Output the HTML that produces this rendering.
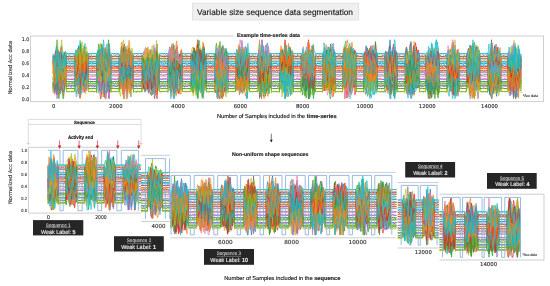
<!DOCTYPE html>
<html><head><meta charset="utf-8"><title>Variable size sequence data segmentation</title>
<style>
html,body{margin:0;padding:0;background:#fff;}
body{width:550px;height:286px;overflow:hidden;position:relative;}
svg{display:block;position:absolute;left:0;top:0;text-rendering:geometricPrecision;}
.d path{vector-effect:non-scaling-stroke;}
.tk{font-family:"DejaVu Sans","Liberation Sans",sans-serif;fill:#2a2a2a;stroke:#2a2a2a;stroke-width:0.12px;}
.an{font-family:"Liberation Sans",Arial,sans-serif;fill:#222;stroke:#222;stroke-width:0.15px;}
</style></head><body>
<svg width="550" height="286" viewBox="0 0 550 286" xmlns="http://www.w3.org/2000/svg">
<!-- title -->
<rect x="192.5" y="3.3" width="166" height="16.6" fill="#efefef" stroke="#e2e2e2" stroke-width="1"/>
<text class="an" x="197" y="14.8" font-size="8.3" textLength="156" lengthAdjust="spacingAndGlyphs" fill="#333">Variable size sequence data segmentation</text>

<!-- ===== TOP CHART ===== -->
<rect x="30.5" y="36" width="513" height="65.6" fill="#fff" stroke="#cfcfcf" stroke-width="1"/>
<g class="d"><g transform="translate(53.00 98.70) scale(0.5000 -0.59500)" fill="none" stroke-width="0.70" stroke-opacity="1.00"><path d="M0 67l1 6 1-3 1-1 1-1 1 2 1 4 1 8 1-2 1-6 1-9 1-2 1-1 1 5 1 8 1 2 1-2 1-2 1-4 1-4 1-1 1 3 1 6 1 2 1-3 1-3 1-2 1 2M132 71l1-1 1 3 1-2 1-8 1-4 1 2 1 13 1 4 1 9 1-10 1-9 1-7 1-2 1 4 1 10 1 10 1-1 1-5 1-14 1 1 1-2 1 7 1 8 1 3 1-1 1-9 1-2 1 1 1 3M276 70l1-22 1-16 1-3 1 6 1 6 1-2 1-9 1-8 1-6 1-5 1 2 1 8 1 13 1 8 1 4 1-4 1-9 1-11 1-7 1 1 1-1 1 8 1 10 1 11 1 10 1-7 1-14 1-10 1 3 1 21 1 25M323 54l1-19 1-16 1 8 1 9 1-1 1-4 1-14 1-4 1 8 1 13 1 4 1 0 1-13 1-8 1 2 1 9 1 8 1 1 1-8 1-14 1-4 1 10 1 8 1 9 1-3 1 2 1 18M539 52l1 0 1-3 1-3 1-17 1 2 1-2 1 2 1 5 1 9 1 6 1 2 1-3 1-7 1-9 1-11 1-8 1 15 1 5 1 11 1 6 1 2 1 2 1-13 1-5 1 5 1 14M869 68l1-13 1-12 1-10 1-8 1 12 1 7 1 1 1-4 1-3 1-9 1 1 1 4 1 9 1-1 1-1 1-14 1-2 1 2 1 9 1 10 1-4 1-9 1-2 1 0 1 3 1 20 1 15" stroke="#d62728"/><path d="M43 12l1 19 1 14 1 8 1 7 1 4 1 2 1-3 1-2 1-7 1-7 1-6 1-3 1 14 1 7 1 3 1 2 1 0 1-6 1-7 1-5 1 2 1 0 1 6 1 6 1 4 1-8 1-14 1-28M87 28l1 12 1 15 1 4 1-9 1-8 1-2 1 7 1 5 1 4 1-5 1-14 1-9 1 2 1 31 1 8 1-11 1-18 1-12 1 4 1 13 1 5 1 3 1-7 1-17 1 6 1 7 1 6 1-6 1-16M323 27l1 24 1 26 1 13 1 3 1-9 1-21 1 2 1 4 1 5 1 17 1 5 1-7 1-30 1-11 1 7 1 16 1 9 1 7 1-4 1-14 1-7 1-1 1 10 1 6 1 2 1-24 1-27M409 26l1 19 1 9 1-2 1-18 1 23 1 7 1 0 1-4 1-8 1 2 1 1 1 25 1 0 1-16 1-14 1-1 1 6 1 12 1 5 1-8 1-7 1-2 1 2 1 8 1 1 1-5 1-18 1-15M453 20l1-4 1 7 1 6 1 2 1-6 1-7 1-8 1 5 1 10 1 12 1 19 1-29 1-9 1-6 1 1 1 17 1 8 1-1 1-5 1-13 1-4 1-8 1 24 1 3 1 0 1-5 1-6 1-5M496 17l1 16 1 9 1-8 1 0 1 2 1 6 1 16 1 5 1-4 1-19 1-11 1-4 1 5 1 15 1 22 1-5 1-12 1-12 1-8 1-4 1 8 1 14 1 8 1 0 1-4 1-13 1-7 1-5 1-10M621 26l1 6 1 16 1 10 1-3 1 1 1-20 1-6 1 0 1 10 1 14 1 9 1-1 1-11 1-10 1-13 1 0 1 9 1 26 1 12 1-5 2-14 1-13 1-11 1 3 1 11 1-4 1-16M663 28l1 18 1 15 1 7 1 2 1-1 1 3 1-6 1-9 1-4 1-1 1-4 1 24 1 6 1 1 1-4 1-6 1-9 1-2 1-1 1 3 1 11 1 4 1 4 1-7 1-20 1-28" stroke="#2ca02c"/><path d="M0 71l1-32 1-23 1-8 1 3 1 7 1 7 1 16 1 0 1-20 1-6 1-7 1-1 1 5 1 7 1 8 1 4 1-8 1-1 1-11 1-7 1 2 1 7 1 7 1 6 1 5 1 15 1 25M230 65l1-20 1-10 1-1 1-1 1-12 1-6 1 6 1 7 1 15 1 0 1-9 1-15 1-4 1 3 1 4 1 14 1 2 1-6 1-10 1-11 2 4 1 12 1 3 1 2 1-4 1-3 1 15 1 21M276 62l1 2 1 0 1-7 1-7 1-3 1 6 1 9 1 4 1 1 1-10 1-7 1-6 1 3 1 16 1 2 1-3 1-5 1-10 1-2 1 6 1 8 1 0 1 2 1-5 1-5 1-2 1 4 1 5 1 0 1 0 1 4M409 44l1 14 1 10 1 11 1 20 1-24 1-9 1-5 1 5 1 15 1 2 1-9 1-21 1 6 1 7 1 11 1 4 1-7 1-11 1 1 1 3 1 10 1 6 1-6 1-13 1 0 1 1 1-5 1-14M496 51l1-8 1-14 1-9 1 5 1 6 1 11 1 2 1-3 1-16 1-8 1 1 1 13 1 7 1 7 1 12 1-26 1-17 1 7 1 6 1 11 1 5 1-3 1-6 1-22 1 3 1 16 1 8 1 6 1 5M621 48l1-16 1-9 1-3 1 4 1 5 1 3 1 3 1-3 1-7 1-4 1-7 1-1 1 7 1 5 1 6 1 5 1 0 1 0 1-15 1-3 2 0 1-1 1 6 1 6 1 4 1 11 1 5M663 64l1 6 1 6 1-1 1-4 1-5 1-6 1-2 1 8 1 5 1 5 1 14 1-10 1-10 1-2 1-8 1-1 1 0 1 4 1 7 1 4 1 5 1-5 1-5 1-1 1-4 1-2M704 63l1-15 1-10 1-3 1-7 1-15 1-7 1 3 1 12 1 17 1 10 1-5 1-18 1-11 1-8 1 3 1 15 1 16 1 9 1-6 1-19 1-5 1-3 1 2 1 8 1 12 1-1 1 2 1 7 1 17M745 63l1 10 1 5 1-3 1-5 1 1 1 4 1 4 1 5 1 1 1-2 1-6 1-6 1-9 1 4 1 5 1 6 1 7 1 0 1-6 1-5 2-9 1 0 1-2 1 8 1 5 1-6 1-7M788 72l1-20 1-15 1 11 1 4 1 0 1-7 1-8 1-8 1-4 1 0 1 3 1 12 1 2 1 8 1-3 1-1 1-14 1-9 1-1 1 5 1 6 1 9 1 2 1 11 1 16M827 51l1 9 1 10 1 2 1-7 1-9 1-7 1 8 1 29 1 4 1-8 1-17 1-8 1-8 1 7 1 20 1 4 1-5 1-11 1-10 1-5 1 7 1 10 1 2 1-1 1-9 1-5 1-3M909 51l1 5 1-1 1-4 1 9 1 12 1 1 1-11 1-9 1-5 1 7 1 22 1 15 1-23 1-7 1-9 1 2 1 10 1 5 1-2 2-7 1-20 1 16 1 8 1 1 1-5 1-8" stroke="#ff7f0e"/><path d="M43 21l1 19 1 9 1 2 1 4 1 10 1 5 1 9 1 10 1-23 1-12 1-19 1-15 1 18 1 17 1 8 1 3 1 4 1-3 1-2 1-8 1-6 1 2 1-2 1 4 1 9 1 2 1-18 1-25M178 57l1-7 1-7 1-13 1-5 1-7 1-2 1 6 1 8 2 7 1 3 1 4 1-6 1-9 1-3 1-4 1 2 1 3 1 7 1 7 1 3 1-2 1-7 1-9 1-7 1 2 1 4 1 4 1 18 1 15 1-11 1-8 1-3 1 6 1 14M230 22l1 21 1 13 1-1 1-7 1-12 1 3 1 6 1 11 1 7 1-1 1 1 1-8 1-12 1-7 1 4 1 6 1 11 1 3 1 3 1-2 2-5 1-10 1-7 1 0 1 8 1 3 1-6 1-25M365 59l1-17 1-15 1 1 1-3 1 8 1 6 1 1 1-2 1 0 1-11 1 0 1 0 1 2 1 7 1 3 1 3 1 1 1-5 1-5 1-5 2-3 1-1 1 11 1 5 1 3 1 7 1 11M453 23l1 26 1 10 1-4 1 4 1 13 1 10 1 0 1-14 1-8 1-1 1-2 1 27 1 6 1-11 1-14 1-9 1 2 1 10 1 20 1-4 1-10 1-28 1 1 1 13 1 7 1 0 1-20 1-26M579 19l1 21 1 19 1 5 1-6 1-11 1-8 1-3 1 1 1 8 1 4 1 11 1 7 1 0 1-9 1-22 1-15 1 4 1 5 1 10 1 14 1 6 1 4 1-7 1-7 1-8 1-6 1-7 1-6M704 58l1-22 1-19 1 2 1 18 1 8 1-7 1-11 1-17 1-1 1 17 1 11 1 17 1-16 1-18 1-12 1 5 1 17 1 16 1-2 1-12 1-11 1-3 1 3 1 10 1 4 1-3 1 0 1 9 1 18M745 60l1-5 1-8 1-2 1 5 1 9 1 6 1-2 1-4 1-11 1-5 1-2 1 6 1 9 1 12 1 5 1-8 1-8 1-10 1-5 1 1 2 8 1 9 1 0 1 7 1-7 1-5 1 3M827 23l1-1 1-1 1-2 1 3 1 2 1 7 1 7 1 1 1-16 1-6 1-6 1 5 1 4 1 10 1 6 1 18 1-29 1-5 1-4 1-2 1 3 1 7 1 5 1 0 1-4 1-4 1-1M869 57l1-26 1-7 1 6 1-5 1-14 1-7 1 2 1 14 1 16 1-13 1-7 1-6 1 2 1 10 1 11 1-3 1-12 1-14 1 5 1 11 1 8 1-2 1-8 1-7 1 4 1 22 1 22M909 22l1 15 1 13 1 4 1 4 1-3 1-10 1-6 1 1 1 4 1 10 1 11 1 8 1-16 1-15 1-7 1-11 1 17 1 15 1 13 2 6 1-6 1-24 1-5 1-1 1-4 1-15" stroke="#1f77b4"/><path d="M43 29l1 11 1 13 1 5 1 4 1-3 1-5 1-13 1-4 1 15 1 4 1 9 1 0 1-10 1-4 1-6 1 4 1 5 1 7 1 3 1-6 1-2 1-4 1 0 1 2 1 4 1 2 1-14 1-18M87 28l1 28 1 14 1 3 1-6 1-10 1 5 1 8 1 12 1 10 1 0 1-8 1-16 1-27 1-4 1 24 1 19 1 4 1 2 1-5 1-7 1-8 1-8 1 6 1 5 1 24 1-3 1-9 1-23 1-25M132 32l1 12 1-5 1-3 1-1 1 8 1 5 1 3 1-4 1-8 1-9 1 9 1 13 1 9 1-6 1-14 1-10 1 2 1 10 1 11 1 3 1-8 1-8 1 0 1 1 1 9 1 6 1-5 1-13 1-6M178 27l1 28 1 7 1 12 1 1 1 5 1 3 1 3 1-2 2-6 1-3 1-3 1 0 1 2 1 3 1 2 1 3 1 1 1-6 1-5 1-5 1 0 1 2 1 8 1 8 1 1 1-5 1-3 1-9 1-8 1 4 1 4 1-5 1-14 1-25M409 29l1 12 1 0 1-8 1-33 1 27 1 13 1 16 1 13 1-6 1-18 1-13 1-10 1 13 1 11 1 13 1 3 1-8 1-12 1-14 1 0 1 7 1 8 1 5 1 3 1-4 1-6 1-8 1-4M453 21l1 17 1 6 1 3 1 3 1 8 1 8 1 11 1-3 1-11 1-15 1-14 1-1 1 9 1 15 1 4 1 6 1-1 1-3 1-7 1-8 1-5 1-13 1 23 1 13 1 6 1-5 1-22 1-24M496 32l1 2 1-8 1-4 1-1 1 0 1 8 1 7 1 4 1-4 1-2 1-11 1-6 1 2 1 0 1 14 1 7 1 16 1-21 1-8 1-6 1-2 1-1 1 5 1 2 1 4 1 1 1-3 1 2 1 3M539 28l1 13 1 8 1-11 1-5 1 12 1 7 1 1 1 4 1-3 1-5 1-1 1-5 1 4 1 7 1 9 1 7 1-16 1-8 1-6 1 0 1 7 1 6 1 3 1-3 1-14 1-8M704 21l1 0 1-3 1-5 1 7 1 9 1 11 1-1 1-10 1-13 1-10 1 4 1 7 1 17 1 2 1-2 1-7 1-10 1-10 1 6 1 11 1 12 1 8 1-10 1-9 1-7 1 0 1 3 1 4 1-5M788 30l1 5 1 4 1-3 1-6 1-3 1-4 1 2 1 8 1 5 1 1 1 3 1-7 1-8 1-4 1 4 1 3 1 6 1 9 1-5 1-5 1-6 1-2 1 1 1 5 1-4M827 33l1 16 1 1 1-4 1 0 1 7 1 9 1 11 1 14 1-22 1-21 1-4 1-2 1 13 1 14 1 17 1-7 1-14 1-9 1-5 1 3 1 8 1 13 1 7 1-6 1-13 1-14 1-13" stroke="#9467bd"/><path d="M87 77l1-23 1-13 1 4 1-1 1-3 1-3 1-8 1-8 1 4 1 6 1 13 1 8 1 1 1-1 1-13 1-12 1-1 1 3 1 9 1 9 1 2 1-1 1-4 1-7 1-11 1 10 1 6 1 16 1 16M132 62l1-3 1 4 1 5 1 0 1-2 1-9 1-3 1-6 1-5 1 3 1 14 1 0 1 5 1-1 1-1 1-5 1-3 1-5 1-3 1 5 1 7 1 2 1 2 1 2 1-4 1-3 1-5 1 1 1 8M178 75l1 2 1-2 1-3 1-9 1-6 1 4 1 9 1 5 2 1 1-7 1-6 1-6 1 6 1 7 1 5 1 6 1-10 1-15 1-9 1 8 1 12 1 13 1 3 1-11 1-11 1-4 1-2 1 11 1 26 1-15 1-8 1-5 1 3 1 7M230 76l1-21 1-11 1-4 1 1 1-5 1-5 1-3 1 1 1 6 1 2 1 1 1 15 1-12 1-5 1-6 1-11 1 2 1 5 1 6 1 6 2 4 1 1 1-4 1-9 1-7 1 4 1 24 1 26M323 77l1-10 1-7 1-4 1-15 1-11 1-4 1 19 1 10 1 6 1 6 1-6 1-6 1-23 1 4 1 6 1 11 1 7 1 9 1 0 1-5 1-11 1-5 1-2 1 2 1 5 1 10 1 15M539 63l1 6 1 10 1-4 1-7 1-5 1-3 1 2 1 8 1 8 1 7 1 2 1-7 1-10 1-14 1-11 1-5 1 18 1 14 1 9 1 6 1-4 1-14 1-5 1-4 1-1 1 0M788 68l1-26 1-25 1-9 1-4 1 2 1 12 1 15 1-1 1-9 1-13 1-10 1 3 1 15 1 10 1 4 1-6 1-14 1-4 1 0 1 10 1 4 1 3 1 1 1 15 1 29M869 62l1-20 1-10 1 7 1 1 1-9 1-5 1-7 1 0 1 14 1 7 1-6 1-7 1-8 1 3 1 6 1 7 1-2 1-3 1-3 1-2 1 0 1 8 1 5 1-1 1-8 1 13 1 24" stroke="#17becf"/><path d="M87 38l1 13 1 12 1 8 1 11 1-2 1-12 1-12 1-1 1 10 1 14 1 5 1-8 1-13 1-11 1 8 1 10 1 10 1-4 1-12 1-7 1 1 1 4 1 14 1 6 1-9 1-12 1-4 1-6 1-11M178 38l1 9 1 7 1 7 1 0 1-7 1-13 1-3 1 3 2 13 1 5 1 7 1 0 1-5 1-16 1-7 1 0 1 10 1 16 1 12 1-2 1-9 1-17 1-10 1-6 1 17 1 8 1 7 1 3 1 1 1-14 1-6 1-4 1-2 1 0M276 42l1 7 1 14 1 8 1 3 1-4 1-15 1-6 1 1 1 11 1 15 1 5 1-1 1-11 1-19 1 0 1 3 1 16 1 6 1 2 1-3 1-14 1-12 1 2 1 11 1 26 1-3 1-9 1-6 1-15 1-6 1-8M323 41l1 16 1 7 1-1 1-1 1-8 1 1 1 9 1 4 1 1 1 1 1-4 1-10 1-17 1 15 1 11 1 6 1 4 1-4 1-6 1-3 1-2 1 0 1 3 1 5 1-1 1-9 1-17M365 45l1 8 1 16 1 5 1-12 1-5 1-7 1 10 1 14 1 9 1-14 1-19 1 2 1 8 1 13 1 5 1-9 1-21 1-5 1 7 1 13 2 10 1-4 1-12 1-7 1 4 1 0 1-11M453 44l1-2 1 6 1 2 1-6 1-5 1-5 1-3 1 4 1 11 1 9 1 5 1-14 1-10 1-12 1-3 1 9 1 13 1 2 1 4 1-7 1-7 1-25 1 9 1 12 1 7 1 5 1-1 1 1M579 41l1 1 1 6 1 0 1-6 1-24 1 15 1 10 1 4 1 1 1-8 1-2 1-4 1 3 1 9 1 13 1-15 1-10 1-4 1 5 1 6 1 3 1-2 1-4 1-3 1-2 1 8 1 0 1-1M621 40l1-6 1-11 1-9 1-7 1 3 1 4 1 9 1 7 1 0 1-6 1-11 1-9 1 1 1 11 1 15 1 9 1-2 1-6 1-18 1-7 2 1 1 6 1 14 1 13 1-6 1-4 1 8M788 42l1 5 1-8 1-7 1 6 1 12 1 16 1-3 1-15 1-7 1-5 1 5 1 20 1 7 1-4 1-16 1-25 1 7 1 13 1 6 1 6 1-1 1-9 1-5 1-1 1 1" stroke="#7f7f7f"/><path d="M132 15l1 26 1 17 1-4 1 0 1 3 1 12 1 13 1 12 1 5 1-13 1-19 1-8 1 0 1-2 1 12 1 10 1 8 1 3 1-7 1-7 1-17 1-8 1 4 1 8 1 13 1 9 1-7 1-29 1-36M230 24l1 10 1 6 1 1 1-3 1-6 1-8 1 6 1 7 1 8 1 2 1 7 1 12 1-23 1-14 1-9 1-1 1 8 1 14 1 10 1 6 2-7 1-7 1-6 1-5 1 2 1 0 1-2 1-8M365 13l1 27 1 29 1 12 1-5 1-8 1-9 1-6 1 1 1 14 1 14 1 1 1-5 1-13 1-18 1 0 1 13 1 17 1 9 1-3 1-9 2-8 1-5 1 6 1 3 1 8 1-25 1-40M496 13l1 21 1 20 1 13 1 6 1-2 1-5 1-14 1-8 1-6 1 4 1 9 1 13 1 14 1 17 1-9 1-15 1-13 1 0 1-5 1 0 1 8 1 7 1 9 1 14 1-8 1-12 1-15 1-24 1-21M621 10l1 6 1 2 1 2 1 11 1 7 1 10 1-5 1-1 1-14 1-13 1-1 1 3 1 14 1 11 1 9 1-5 1-9 1-20 1-2 1 3 2 5 1 10 1 12 1-1 1-10 1-12 1-9M745 19l1 3 1 2 1 9 1 2 1-3 1-13 1-6 1-2 1 19 1 12 1 3 1-7 1-13 1-8 1 0 1 12 1 13 1 5 1-10 1-11 2-11 1-9 1 14 1 24 1 0 1-11 1-17" stroke="#bcbd22"/><path d="M0 47l1-3 1 5 1 12 1 11 1 2 1-7 1-16 1-11 1 0 1 13 1 16 1 9 1-1 1-11 1-16 1-4 1-3 1 11 1 12 1 7 1-1 1-8 1-7 1-3 1-3 1 0 1-5M579 45l1 1 1-5 1-4 1 6 1 14 1-1 1 2 1-7 1-10 1-2 1 3 1 1 1 5 1 8 1 13 1-8 1-14 1-7 1-4 1 0 1 5 1 13 1 5 1-1 1-6 1-8 1-3 1 6M663 47l1-1 1 3 1 2 1-6 1-2 1-3 1-3 1-1 1 2 1 9 1 18 1 1 1-17 1-6 1-9 1-4 1-4 1 4 1 9 1 10 1 1 1-7 1-1 1-2 1-1 1 8M745 47l1 1 1 2 1 4 1 4 1 3 1-2 1-11 1-5 1 0 1 2 1 5 1 2 1 6 1-2 1-7 1-11 1-5 1 6 1 5 1 11 2 19 1-11 1-9 1-18 1 0 1 7 1 3M869 48l1 10 1 0 1-7 1-10 1 13 1 9 1 8 1 8 1-2 1-7 1-14 1-4 1 1 1 3 1 9 1 9 1 9 1-7 1-8 1-9 1-4 1-2 1 3 1 5 1 4 1-8 1-9M909 47l1 2 1 0 1 3 1 9 1 9 1 4 1-4 1-7 1-10 1-9 1-2 1 8 1 10 1 9 1 2 1 5 1-11 1-17 1-3 2-7 1 11 1 13 1 12 1 1 1-16 1-12" stroke="#8c564b"/><path d="M0 32l1-1 1-4 1-15 1-5 1 11 1 20 1 15 1-8 1-35 1-3 1 8 1 20 1 17 1-9 1-23 1-6 1 2 1 15 1 16 1-4 1-14 1-18 1 4 1 16 1 8 1-4 1-1M43 40l1 4 1-1 1-9 1-9 1 3 1 13 1 14 1 4 1-5 1-15 1-30 1-3 1 22 1 14 1 8 1 0 1-6 1-12 1-8 1 0 1 7 1 10 1 5 1-3 1-6 1-5 1 4 1 0M276 44l1-1 1 0 1-1 1 1 1 5 1 5 1-1 1 0 1-5 1-8 1-4 1 1 1 7 1 20 1-7 1 2 1-6 1-7 1-1 1-5 1 4 1 8 1 5 1 4 1 6 1-16 1-6 1-2 1 4 1-4 1 3M365 37l1-7 1-3 1 6 1 11 1 6 1-6 1-12 1-14 1-6 1 8 1 19 1 15 1 3 1-11 1-20 1-9 1 2 1 13 1 15 1 9 2-2 1-12 1-15 1-3 1 2 1 12 1-4M409 32l1 2 1-2 1-5 1-19 1 12 1 12 1 7 1 9 1-10 1-5 1-8 1-9 1 9 1 11 1 4 1 0 1-5 1-7 1-2 1 0 1 12 1 0 1 2 1-1 1-8 1-2 1 3 1 1M539 46l1-19 1-14 1 12 1 19 1-4 1-6 1-2 1-9 1-12 1-5 1 4 1 6 1 12 1 7 1 11 1 1 1-13 1-11 1-14 1-6 1 1 1 12 1 14 1 2 1 7 1 6M579 33l1-9 1 1 1 3 1 9 1-6 1-4 1-11 1-4 1-4 1 7 1 7 1 9 1 1 1 2 1-6 1-8 1-10 1-2 1 7 1 7 1 13 1 2 1 1 1-10 1-7 1-4 1 6 1 10M663 34l1-10 1 0 1 6 1-6 1-7 1-8 1 2 1 10 1 13 1-1 1-15 1-18 1 0 1 20 1 11 1 2 1-11 1-12 1-5 1 2 1 24 1 4 1-8 1-9 1 3 1 11M704 35l1 10 1 15 1 13 1-2 1-13 1-8 1 0 1 5 1 9 1 10 1-3 1-9 1-7 1 3 1 2 1 4 1 5 1 9 1-14 1-11 1 1 1 4 1 8 1 6 1 1 1-9 1-4 1-13 1-14M827 47l1 7 1 1 1 9 1 12 1 2 1-4 1-14 1-21 1 8 1 16 1 12 1 9 1-4 1-23 1-33 1 9 1 28 1 15 1 3 1-9 1-10 1-9 1 3 1 8 1 4 1-8 1-13M909 30l1 10 1 10 1-2 1-8 1-12 1-13 1 3 1 6 1 19 1 8 1 10 1 2 1-21 1-18 1-9 1-15 1 22 1 15 1 15 2 6 1 6 1-22 1-10 1-3 1 3 1-1" stroke="#e377c2"/><path d="M230 43l1-3 1-4 1-4 1-8 1-4 1 1 1 11 1 13 1 7 1-11 1-16 1-17 1 6 1 12 1 16 1 17 1-11 1-10 1-13 1-5 2 8 1 8 1 6 1-1 1-1 1-6 1 2 1 8M704 39l1 8 1 7 1 4 1 7 1-6 1-5 1-5 1-5 1-2 1 1 1 5 1 9 1 2 1 3 1-2 1-6 1-11 1-11 1 0 1 2 1 14 1 6 1 7 1 1 1-4 1-8 1-4 1-7 1 0M745 42l1-7 1-14 1 1 1 17 1 6 1 1 1-8 1-19 1-9 1 5 1 14 1 18 1 3 1-8 1-16 1-17 1-2 1 19 1 13 1 6 2-3 1-18 1-11 1 0 1 10 1 13 1 8M827 43l1-15 1-7 1 3 1 7 1-2 1-11 1-18 1 0 1 2 1 23 1 16 1 3 1-6 1-26 1-8 1-4 1 13 1 12 1 7 1-2 1-8 1-16 1-6 1 6 1 16 1 12 1 9" stroke="#7f7f7f"/><path d="M132 38l1 2 1 5 1 8 1 7 1-2 1-2 1-7 1-4 1-1 1 5 1 6 1 5 1 0 1-3 1-12 1-8 1 3 1 12 1 8 1 3 1-3 1-7 1-12 1 1 1 6 1 6 1 3 1-10 1-11M178 42l1-2 1-4 1 15 1 9 1-8 1-15 1-14 1 4 2 14 1 19 1 1 1-15 1-23 1-4 1 11 1 26 1 13 1-14 1-25 1-16 1 5 1 24 1 31 1-14 1-17 1-12 1-4 1 12 1 26 1-8 1-7 1-13 1 3 1 7M323 38l1 13 1 17 1 11 1-6 1-14 1-23 1 4 1 4 1 18 1 13 1 6 1-8 1-13 1-12 1 1 1 11 1 7 1 19 1-2 1-10 1-23 1-10 1 3 1 10 1 10 1-10 1-14M453 35l1-6 1 1 1 14 1 11 1-3 1-21 1-16 1 4 1 14 1 27 1 31 1-40 1-25 1-9 1 5 1 21 1 14 1 1 1-19 1-8 1-3 1 6 1 16 1 4 1-5 1-12 1-5 1 2M496 34l1 16 1 19 1 13 1 5 1 0 1-11 1-10 1-10 1-1 1 3 1 13 1 14 1 6 1 4 1-12 1-15 1-11 1-4 1 6 1 9 1 10 1 5 1-1 1-4 1-8 1-5 1-7 1-5 1-19M788 45l1 0 1-5 1-4 1 5 1 4 1 9 1 4 1 1 1-1 1-7 1-9 1-21 1 16 1 3 1 10 1 19 1 0 1-5 1-4 1-9 1-3 1-6 1 0 1 4 1-2" stroke="#e377c2"/><path d="M43 12l1 4 1 1 1-3 1-6 1 6 1 7 1 10 1 3 1 0 1-7 1-14 1-8 1 5 1 0 1 9 1 8 1 3 1 2 1-6 1-9 1-8 1-1 1 4 1 7 1 10 1-3 1-7 1-6M276 19l1 5 1 8 1 13 1-1 1-6 1-8 1-7 1-5 1 1 1 13 1 6 1 8 1 18 1-19 1-14 1-9 1-7 1 1 1 7 1 7 1 5 1 1 1 0 1-4 1-13 1-1 1 0 1 3 1 4 1 0 1-8M323 13l1 24 1 21 1 8 1 2 1-4 1-14 1-1 1 1 1 5 1 9 1 1 1 2 1-9 1-11 1-5 1 4 1 15 1 5 1 3 1-4 1-13 1-4 1-1 1 2 1 5 1-12 1-33M409 11l1 27 1 22 1 13 1 22 1-16 1-10 1-9 1-13 1 15 1 12 1 6 1 3 1-20 1-11 1-2 1 15 1 9 1 0 1-5 1-10 1-7 1 7 1 8 1 10 1 0 1-15 1-27 1-26M539 22l1-5 1 3 1 3 1 13 1-8 1 0 1-2 1-8 1-3 1 1 1 0 1 9 1 0 1 7 1 5 1-9 1-8 1-5 1-1 1 3 1 4 1 15 1-3 1-3 1-3 1-6M663 14l1 19 1 19 1-11 1-11 1-7 1 8 1 19 1 12 1-12 1-21 1-16 1 5 1 23 1 14 1-1 1-12 1-17 1-1 1 11 1 23 1-6 1-7 1-12 1 2 1-12 1-11M704 12l1 28 1 29 1 16 1-6 1-16 1-9 1-1 1 7 1 16 1 3 1 3 1 0 1-15 1-5 1-1 1 4 1 11 1 20 1 0 1-9 1-18 1-4 1-4 1 1 1 6 1 13 1-6 1-31 1-33M869 12l1 16 1 15 1 17 1 10 1 3 1-3 1-13 1-8 1-11 1-5 1 7 1 12 1 9 1 9 1 2 1 0 1-11 1-7 1-6 1 0 1 1 1 7 1 7 1 6 1-4 1-22 1-31M909 16l1 31 1 25 1 7 1 0 1-10 1-6 1-12 1 9 1 10 1 12 1 0 1-6 1-17 1-5 1 4 1 14 1 9 1 3 1-11 2-10 1-5 1 7 1 6 1 0 1-21 1-31" stroke="#bcbd22"/><path d="M0 21l1 17 1 15 1 1 1 1 1 4 1 10 1 7 1-2 1-13 1-9 1-9 1 5 1 7 1 15 1 4 1 3 1-11 1-8 1-3 1 0 1 4 1 7 1 12 1-2 1-7 1-22 1-27M87 23l1 16 1 21 1 5 1-5 1-6 1 0 1 1 1 7 1 1 1 4 1-6 1-3 1-13 1 0 1 11 1 7 1 7 1 0 1-12 1-7 1-4 1 2 1 8 1 16 1 5 1-15 1-11 1-16 1-15M132 59l1 6 1-2 1-5 1-6 1-2 1 9 1 11 1 15 1-2 1-24 1-14 1 2 1 11 1 9 1 11 1-2 1-8 1-8 1-4 1 1 1 5 1 9 1 1 1-2 1-6 1-4 1 0 1-1 1 2M276 22l1 23 1 21 1 12 1 2 1 0 1-4 1-7 1-8 1-2 1 1 1 10 1 4 1 25 1-6 1-12 1-11 1-5 1-7 1 0 1 4 1 8 1 12 1-1 1 6 1-14 1-12 1 1 1 0 1-4 1-17 1-20M496 21l1 15 1 16 1 2 1-9 1-10 1-8 1-3 1 11 1 8 1 11 1 5 1 0 1-10 1-13 1-6 1-3 1 6 1 13 1 11 1 8 1-7 1-8 1-12 1-14 1 5 1 7 1 9 1-8 1-16M539 60l1 8 1 7 1-15 1-23 1 10 1 11 1 14 1 8 1 2 1-11 1-14 1-7 1 6 1 11 1 11 1 14 1-15 1-12 1-8 1 0 1 3 1 13 1 10 1-4 1-15 1-5M788 20l1 29 1 17 1-5 1-12 1-3 1 12 1 12 1 4 1-5 1-10 1-12 1-2 1 16 1 12 1 2 1-1 1-18 1-5 1 3 1 5 1 5 1 4 1-8 1-20 1-18" stroke="#1f77b4"/><path d="M365 54l1-16 1-9 1-6 1-6 1-1 1 2 1 5 1 12 1 2 1-19 1-7 1 0 1 11 1 7 1 3 1-7 1-12 1 0 1 5 1 7 2 7 1 3 1-15 1-2 1 5 1 11 1 17M409 53l1-1 1-6 1-2 1-1 1 11 1 7 1 7 1 4 1-6 1-16 1-9 1-18 1 18 1 12 1 14 1 10 1 2 1-14 1-12 1-6 1-4 1 0 1 7 1 11 1 3 1-2 1-8 1-2M453 69l1 4 1 8 1-1 1-3 1-10 1-8 1 0 1 2 1 15 1 13 1 10 1-4 1-22 1-13 1-10 1 1 1 10 1 10 1 3 1 4 1-3 1-3 1-11 1-4 1-3 1 10 1 4 1-1M579 51l1-20 1-11 1 5 1 5 1 8 1-10 1-9 1-11 1-7 1 7 1 10 1 14 1 9 1 0 1-10 1-18 1-2 1 0 1 2 1 14 1 9 1 0 1-9 1-13 1-7 1 2 1 20 1 25M621 69l1-4 1-10 1 3 1 10 1 11 1 0 1-11 1-14 1-9 1 4 1 15 1 12 1 1 1-11 1-17 1-7 1 10 1 14 1 14 1-7 2-11 1-9 1-19 1 18 1 13 1 3 1 2M663 73l1 2 1 5 1-9 1-5 1-1 1 0 1 7 1 8 1 4 1 4 1-10 1-13 1-2 1-3 1 8 1 11 1 8 1 5 1-7 1-13 1-6 1-1 1 8 1 6 1-2 1-4M909 52l1-4 1-1 1 4 1 2 1 0 1-7 1 0 1 2 1 4 1 7 1 2 1-14 1-5 1 3 1 7 1 12 1-8 1-5 1-8 2-8 1 17 1 4 1 0 1-3 1-2 1 0" stroke="#d62728"/><path d="M0 15l1 10 1 0 1-4 1 2 1 9 1 7 1 0 1-5 1-20 1 0 1 8 1 11 1 7 1-1 1-8 1-16 1-2 1 12 1 15 1 4 1-3 1-11 1-8 1-1 1 6 1-1 1-12M178 15l1 9 1-5 1 1 1-4 1 5 1 3 1 7 1 0 2-2 1-6 1-10 1-2 1 1 1 9 1 11 1 9 1-6 1-9 1-10 1-9 1 2 1 7 1 18 1 4 1-3 1-7 1-6 1-12 1 6 1 4 1 5 1 2 1-1 1-7M230 17l1 24 1 14 1-3 1 2 1 5 1 23 1 6 1-9 1-17 1-10 1-1 1-1 1 16 1 10 1 7 1-6 1-21 1-7 1-1 1 5 2 14 1 8 1 0 1-10 1-9 1-9 1-10 1-20M539 24l1 4 1 2 1 2 1 6 1 5 1 2 1-4 1-6 1-9 1 4 1 7 1 8 1-1 1-3 1-5 1-15 1 11 1 4 1 8 1 6 1-6 1-8 1-5 1 3 1-2 1-5M579 18l1 7 1 10 1 1 1-3 1-11 1 5 1 6 1 5 1 3 1 3 1-6 1-11 1-9 1-2 1 12 1 15 1 6 1-3 1-9 1-12 1-6 1 5 1 12 1 7 1 0 1-9 1-9 1-9M745 19l1-2 1 3 1 9 1-4 1-11 1-7 1 5 1 13 1 13 1-9 1-17 1-11 1 11 1 11 1 3 1-6 1-6 1-3 1 2 1 9 2 8 1-3 1-10 1-16 1 12 1 8 1-4M788 28l1 4 1 10 1 1 1-3 1-8 1-12 1-2 1 2 1 9 1 8 1 12 1 6 1-17 1-7 1-11 1-5 1 6 1 9 1 5 1 9 1 1 1-7 1-6 1-5 1-1M827 28l1 13 1 7 1 5 1 3 1 7 1 0 1-7 1-11 1-3 1 4 1 15 1 3 1-1 1-11 1-11 1-5 1 16 1 6 1 6 1-7 1-4 1-5 1-2 1 6 1 1 1-10 1-15M869 30l1-8 1-9 1 1 1 6 1 7 1 1 1 7 1-5 1-12 1-11 1 5 1 3 1 6 1 8 1 11 1-1 1-9 1-11 1-9 1 2 1 6 1 7 1 6 1 3 1-2 1-6 1 1M909 13l1 1 1 0 1 10 1 13 1 7 1-5 1-14 1-9 1-4 1 6 1 10 1 10 1 0 1-5 1-10 1-23 1 0 1 13 1 15 2 18 1 4 1-16 1-8 1-9 1-3 1-1" stroke="#2ca02c"/><path d="M87 49l1-13 1 1 1 2 1-3 1-8 1-2 1-6 1 4 1 5 1 4 1 2 1-6 1-14 1-12 1 7 1 10 1 11 1 6 1-6 1-6 1-10 1-3 1 8 1 5 1 9 1-6 1-2 1 12 1 9M132 64l1-6 1-6 1 1 1 9 1 14 1 7 1-6 1-15 1-25 1 2 1 9 1 17 1 15 1 4 1-10 1-20 1-14 1 2 1 14 1 13 1 9 1-1 1-9 1-13 1-7 1 2 1 10 1 8 1-4M178 48l1 9 1 7 1 6 1 6 1 2 1 1 1-9 1 0 2-2 1-2 1 6 1 8 1 3 1-2 1-10 1-6 1-2 1 6 1 8 1 4 1 0 1-6 1-3 1-7 1 5 1 2 1 7 1 5 1 8 1-16 1-3 1-8 1-6 1-13M453 65l1-6 1 2 1 6 1 10 1 2 1-7 1-16 1-11 1 2 1 9 1 30 1-3 1-7 1-12 1-14 1-7 1 5 1 14 1 10 1 7 1-6 1-20 1-11 1 5 1 7 1 8 1 1 1 0" stroke="#ff7f0e"/><path d="M43 43l1-11 1-13 1 1 1 7 1 11 1-3 1-1 1-9 1-14 1-9 1 0 1 3 1 21 1 6 1 9 1-5 1-10 1-8 1-4 1-2 1 3 1 7 1 5 1 2 1-2 1-3 1 7 1 17M87 45l1-7 1-4 1 5 1 3 1-1 1-2 1-11 1-4 1-2 1 11 1 7 1 3 1 1 1-8 1-10 1-4 1-1 1 4 1 11 1 8 1-1 1-3 1-15 1-17 1-7 1 24 1 11 1 4 1 7M230 49l1 8 1 5 1-3 1-10 1-4 1 3 1 15 1 5 1-6 1-11 1-3 1-9 1 23 1 4 1 0 1-18 1-14 1 8 1 12 1 5 2 2 1-6 1-9 1-7 1 11 1 7 1-2 1-11M365 46l1 12 1 0 1-1 1-1 1-3 1-1 1 6 1 5 1 14 1-10 1-2 1-6 1-8 1-5 1 1 1 0 1 8 1 8 1 6 1-3 2-4 1-6 1-9 1 4 1-1 1-2 1-1M704 46l1-9 1-2 1 6 1 7 1-5 1-3 1-10 1-5 1-1 1 1 1 6 1 13 1 3 1 5 1-5 1-8 1-12 1-7 1 2 1 6 1 8 1 6 1 7 1-4 1-2 1-7 1-2 1 9 1 0" stroke="#8c564b"/><path d="M0 33l1 6 1 0 1-8 1-11 1-8 1 1 1 0 1 28 1 15 1-10 1 0 1-13 1-10 1-10 1 3 1 8 1 14 1 9 1 5 1-7 1-14 1-7 1-3 1 3 1 6 1 7 1-6M276 31l1 9 1 9 1 4 1 6 1 12 1-1 1-4 1-14 1-5 1-3 1 8 1 15 1 16 1 8 1-31 1-20 1-10 1 5 1 17 1 12 1 6 1-7 1-9 1-16 1-17 1 16 1 18 1 9 1-8 1-13 1-15M323 29l1 28 1 12 1-7 1-6 1-3 1 2 1 14 1 4 1 0 1-7 1-6 1-7 1-2 1 12 1 12 1 7 1 0 1-18 1-10 1-8 1 5 1 11 1 8 1 2 1-5 1-20 1-19M365 21l1 27 1 15 1 0 1 3 1 9 1 9 1 3 1-14 1-20 1-10 1 21 1 21 1 13 1-11 1-18 1-10 1 1 1 13 1 12 1 3 2-10 1-17 1-9 1 7 1 11 1-19 1-30M579 30l1 16 1 15 1 4 1 0 1-2 1-7 1-2 1 2 1 3 1 9 1 6 1-4 1-4 1-10 1-13 1 10 1 2 1 9 1 6 1 2 1-6 1-1 1-8 1 1 1 3 1-3 1-11 1-19M621 21l1 31 1 19 1 4 1 7 1 7 1-7 1-4 1-8 1-2 1 6 1 6 1 1 1 0 1-5 1-9 1-3 1 6 1 15 1 5 1-9 2-7 1-8 1-8 1 9 1 8 1-21 1-31M663 22l1 22 1 1 1 4 1 11 1 12 1 0 1-16 1-17 1 0 1 15 1 19 1 6 1-17 1-17 1-5 1 13 1 13 1 3 1-11 1-15 1-8 1 14 1 12 1 6 1-24 1-22M745 21l1 4 1 0 1 5 1 8 1 11 1-5 1-16 1-7 1 6 1 13 1 11 1-5 1-14 1-12 1 1 1 21 1 14 1-2 1-14 1-10 2-6 1 16 1 10 1 1 1-13 1-10 1-6M869 34l1 22 1 13 1-4 1 1 1 5 1 9 1 6 1 9 1-7 1-14 1-13 1-2 1-5 1 7 1 13 1 9 1 9 1-4 1-6 1-11 1-10 1-4 1 1 1 9 1 4 1-14 1-22" stroke="#9467bd"/><path d="M43 75l1-2 1 0 1-7 1-8 1-13 1 9 1 5 1 13 1 6 1 4 1 6 1-6 1-15 1-9 1-9 1 4 1 8 1 10 1 6 1 1 1-2 1-3 1-4 1-8 1 1 1 3 1 6 1 5M409 63l1-10 1-8 1-13 1-3 1 0 1 12 1 10 1 12 1-8 1-16 1-8 1-14 1 19 1 9 1 7 1-1 1-7 1-16 1-9 1 6 1 18 1 11 1 3 1-9 1-7 1-2 1 9 1 19M496 55l1-18 1-6 1 2 1 5 1 1 1-7 1-11 1-5 1-2 1-1 1 1 1 11 1 8 1 2 1-5 1-3 1-11 1-5 1 2 1 4 1 2 1 8 1 4 1 13 1-16 1-8 1 2 1 14 1 20M621 53l1-13 1-7 1 7 1 7 1 2 1 1 1-9 1-10 1-5 1 7 1 9 1 7 1 6 1-4 1-14 1-11 1-3 1 1 1 19 1 5 2 2 1 1 1-11 1-9 1 2 1 12 1 10M827 75l1-2 1 3 1 7 1 1 1-4 1-10 1-10 1-18 1 27 1 9 1 8 1-3 1 2 1-17 1-9 1-13 1 23 1 12 1 9 1-5 1-4 1-7 1-4 1-2 1 7 1 6 1-8" stroke="#17becf"/><path d="M0 71l1-3 1-4 1-6 1 2 1 3 1 4 1 12 1 1 1-7 1-9 1-7 1 1 1 4 1 4 1 6 1 2 1-2 1-6 1-5 1-4 1-1 1 11 1 3 1 3 1-3 1-3 1 3M276 77l1-19 1-19 1-12 1-9 1 3 1 6 1 11 1-1 1-1 1-9 1-9 1-4 1 6 1 14 1 1 1 3 1-9 1-10 1-9 1 3 1 14 1 3 1 0 1 0 1-13 1-3 1 5 1 5 1 8 1 22 1 21M365 67l1-25 1-16 1 7 1 7 1-3 1-6 1-15 1-9 1 1 1 29 1 14 1-3 1-15 1-11 1-8 1 8 1 13 1 12 1-2 1-11 2-15 1-19 1 19 1 15 1 7 1 11 1 17M453 58l1-13 1-16 1-3 1-5 1-5 1-1 1 8 1 5 1 7 1-4 1-7 1-15 1 2 1 2 1 2 1 12 1 6 1 1 1-7 1-6 1-6 1-10 1 7 1 8 1 5 1 4 1 9 1 18M579 62l1 8 1 11 1 7 1 0 1-18 1-13 1-3 1 11 1 15 1 3 1 1 1-9 1-17 1-10 1-1 1 26 1 14 1-3 1-7 1-13 1-4 1 0 1 4 1 13 1 3 1-5 1-10 1-3M663 63l1-2 1 0 1-7 1-4 1-1 1 13 1 7 1-3 1-10 1-11 1-11 1 15 1 10 1 4 1-6 1-10 1-5 1 4 1 10 1 11 1-5 1-7 1-8 1 1 1 5 1 10M704 62l1-19 1-9 1 5 1 8 1 4 1-1 1-3 1-8 1-10 1-8 1 0 1 8 1 13 1 12 1 9 1-2 1-7 1-15 1-10 1 3 1 1 1 4 1 7 1 9 1 5 1-2 1-4 1 3 1 9M745 74l1-27 1-4 1 3 1-4 1-13 1-13 1 3 1 17 1 9 1-3 1-15 1-13 1-1 1 20 1 11 1-2 1-7 1-20 1 1 1 12 2 13 1 1 1-6 1-18 1 2 1 31 1 24M869 58l1 9 1 18 1 7 1-29 1-8 1-2 1 17 1 18 1 6 1-22 1-13 1 4 1 3 1 17 1 7 1-12 1-17 1-6 1 6 1 17 1 9 1-7 1-14 1-14 1 5 1 8 1-9M909 54l1 8 1 14 1 11 1-5 1-16 1-5 1 5 1 16 1 7 1-6 1-18 1-10 1 11 1 18 1 9 1-6 1-22 1-11 1 8 2 21 1 6 1-9 1-12 1-4 1-4 1-3" stroke="#17becf"/><path d="M43 53l1-4 1 2 1 2 1 4 1-7 1-7 1-2 1-2 1 5 1 2 1 12 1 10 1-17 1-7 1-6 1-6 1 5 1 3 1 12 1 4 1-3 1-10 1-5 1-3 1 3 1 2 1 9 1 3M87 53l1-11 1-14 1-2 1 0 1 9 1 6 1-2 1-13 1-5 1 4 1 2 1 9 1 4 1-8 1-8 1-6 1 5 1 7 1 5 1-4 1-3 1-4 1-1 1 3 1 7 1-4 1 7 1-1 1 18M178 65l1-2 1-4 1 0 1 4 1 2 1 1 1-4 1-6 2-3 1 3 1 2 1 7 1 2 1-3 1-3 1-4 1-3 1 6 1 1 1 8 1 0 1-4 1-7 1-5 1 2 1 1 1 10 1 14 1-4 1-15 1-3 1-2 1 7 1 4M230 53l1 6 1-6 1-5 1-4 1 9 1 16 1-1 1 2 1-11 1-8 1-16 1-22 1 40 1 14 1 10 1 2 1-19 1-18 1-5 1 4 2 14 1 11 1 7 1-6 1-9 1-3 1 1 1 0M323 54l1-27 1-17 1 3 1 13 1 5 1 8 1-17 1-15 1-7 1 0 1 8 1 21 1 41 1-22 1-13 1-17 1-11 1-3 1 7 1 10 1 4 1 6 1-3 1-6 1-3 1 11 1 22M496 67l1 8 1-5 1-12 1-12 1 3 1 12 1 12 1 4 1-7 1-11 1-22 1 1 1 19 1 17 1 25 1-18 1-18 1-13 1 0 1 8 1 20 1 11 1-4 1-18 1-22 1-3 1 16 1 10 1-1M704 48l1 6 1-3 1 14 1 12 1 0 1-8 1-9 1-5 1 11 1 15 1 8 1-15 1-22 1-7 1 15 1 22 1 7 1-8 1-28 1-8 1 16 1 17 1 9 1-10 1-14 1-3 1 2 1 1 1-13M745 71l1-21 1-24 1-7 1 7 1 8 1-1 1-11 1 0 1-2 1 6 1 4 1-1 1-7 1-3 1-4 1 10 1 6 1-2 1-4 1-8 2 3 1 6 1 24 1-10 1-15 1 19 1 25M788 65l1 7 1 9 1 1 1 0 1-8 1-10 1-4 1-3 1 5 1 8 1 15 1 10 1-6 1-9 1-11 1-15 1 4 1 5 1 6 1 7 1 6 1 1 1-7 1-7 1 1M827 54l1 4 1 12 1 8 1 7 1-2 1-8 1-14 1-21 1 5 1 9 1 15 1 7 1 12 1-9 1-1 1-12 1-10 1 0 1 2 1 10 1 9 1 10 1-2 1-5 1-12 1-11 1-4" stroke="#d62728"/><path d="M43 61l1-5 1-3 1 13 1 3 1 0 1-4 1-10 1-14 1 11 1 12 1 9 1 10 1-20 1-13 1-5 1 9 1 15 1 11 1-4 1-15 1-11 1 0 1 8 1 12 1 2 1-5 1-4 1-2M323 70l1-22 1-16 1-2 1-2 1 4 1 7 1 2 1 1 1-3 1-8 1-7 1-8 1-16 1 22 1 13 1 5 1 5 1 1 1-7 1-9 1-5 1-2 1 4 1 1 1 9 1 15 1 18M365 46l1 4 1-4 1-5 1 2 1 8 1 7 1 8 1 3 1-5 1-12 1-9 1 3 1 1 1 9 1 7 1-1 1 0 1-8 1-16 1 0 2 2 1 8 1 12 1 3 1 0 1-9 1-8M539 69l1 0 1-2 1-2 1-23 1 12 1 0 1 3 1 11 1 9 1 2 1 0 1-9 1-6 1-4 1-5 1-2 1 14 1 3 1 4 1-1 1 1 1-6 1-6 1-2 1 4 1 2M579 61l1-13 1-16 1-11 1-17 1-4 1 27 1 11 1 5 1-11 1-19 1-7 1 4 1 19 1 13 1 26 1-37 1-15 1-5 1 6 1 8 1 9 1 0 1-8 1-12 1-6 1 10 1 23 1 22M869 70l1-9 1-10 1-14 1-16 1 3 1 13 1 15 1 20 1-27 1-19 1-5 1 7 1 16 1 7 1-7 1-14 1-18 1 4 1 22 1 13 1-3 1-14 1-16 1 4 1 9 1 24 1 17M909 69l1-15 1-11 1-6 1-10 1-9 1 1 1 12 1 9 1 4 1 1 1-5 1-13 1-8 1 0 1 4 1 14 1 6 1 3 1-5 2-11 1-14 1 7 1 4 1 5 1 20 1 16" stroke="#ff7f0e"/><path d="M0 17l1 8 1 1 1-8 1 1 1 4 1 11 1 4 1-3 1-8 1-7 1-2 1 5 1 11 1 12 1 2 1-11 1-19 1-8 1 2 1 13 1 14 1 7 1-9 1-8 1-10 1-3 1 3M87 9l1 37 1 21 1 2 1 1 1 3 1 5 1 11 1 4 1-7 1-8 1-6 1-6 1-2 1 4 1 12 1 3 1-1 1-4 1-4 1-12 1-3 1 4 1 6 1 9 1 13 1-12 1-12 1-25 1-31M132 24l1 8 1-2 1 0 1 2 1 13 1 9 1-6 1-16 1-16 1 0 1 20 1 10 1 2 1-6 1-14 1-2 1 4 1 15 1 11 1-6 1-16 1-3 1 0 1 6 1 10 1 3 1-13 1-10 1-3M178 23l1 3 1 8 1 11 1-3 1-5 1-10 1-6 1 6 2 14 1 9 1-1 1-8 1-13 1-8 1 7 1 10 1 11 1 2 1-8 1-16 1-10 1 2 1 17 1 19 1 1 1-9 1-13 1-10 1-1 1 11 1 9 1-1 1-10 1-10M230 12l1 10 1 5 1-3 1 0 1-6 1 1 1 0 1 0 1 2 1 11 1 4 1 9 1-15 1-11 1-7 1-5 1 6 1 10 1 8 1 1 2-4 1-5 1-6 1-2 1-1 1 8 1-4 1-6M453 12l1 6 1 10 1-3 1-11 1-11 1 2 1 14 1 16 1 0 1-17 1-18 1 3 1 18 1 15 1 1 1-16 1-14 1-4 1 13 1 10 1 7 1-5 1-20 1-1 1 9 1 9 1-4 1-10M579 17l1 20 1 15 1 8 1 4 1-2 1-10 1-4 1-3 1-2 1 3 1 9 1 3 1 4 1 1 1-2 1-11 1-5 1 0 1 3 1 5 1 7 1 4 1-2 1 1 1-11 1-1 1-13 1-20M621 16l1 6 1 6 1 4 1 12 1 0 1 6 1-23 1-7 1 2 1 13 1 10 1 1 1-9 1-9 1 0 1 2 1 7 1 4 1 1 1-9 2-13 1 6 1-1 1 14 1 3 1-12 1-15M745 24l1 10 1 10 1 4 1-1 1 0 1-5 1-5 1-5 1 5 1 1 1 7 1 6 1-3 1-1 1-1 1-5 1-2 1 0 1 6 1 1 2 4 1 8 1-5 1-6 1-7 1-5 1-11M788 9l1 21 1 13 1-2 1-5 1-4 1 2 1 4 1 5 1 4 1-1 1 2 1-11 1-2 1-4 1 2 1 11 1 15 1-1 1-6 1-8 1-5 1-3 1 2 1-6 1-19M827 17l1 0 1 8 1 6 1-9 1-13 1-3 1 9 1 24 1-6 1-12 1-15 1-6 1 11 1 21 1-1 1-3 1-18 1-5 1 9 1 13 1 6 1-7 1-13 1-4 1 8 1 5 1-3" stroke="#bcbd22"/><path d="M0 41l1 0 1 4 1 2 1-1 1 3 1-5 1-5 1-18 1-1 1 12 1 12 1 5 1 0 1-3 1-7 1-1 1-4 1-3 1 7 1 4 1 3 1 1 1-3 1-3 1-7 1 3 1 3M43 45l1 16 1 3 1-8 1-3 1-7 1 17 1 11 1 8 1-8 1-5 1-9 1-18 1 10 1 4 1 8 1 9 1 3 1-1 1-12 1-8 1-5 1 0 1 8 1 9 1 7 1-3 1-17 1-12M87 44l1 5 1-1 1 4 1 6 1 5 1 0 1-1 1-5 1-5 1-3 1 0 1 6 1 7 1 11 1-8 1-8 1-2 1-13 1-1 1 6 1 5 1 11 1-1 1 13 1-18 1-6 1-6 1 4 1-6M132 45l1 1 1-2 1-6 1-1 1 5 1 15 1 11 1 4 1-5 1-20 1-24 1 7 1 6 1 14 1 18 1 5 1-4 1-16 1-11 1-8 1 1 1 12 1 11 1 7 1-2 1-7 1-7 1-5 1-1M276 45l1 7 1 7 1 6 1-1 1 9 1 4 1 5 1-3 1-5 1-9 1-5 1-1 1-4 1 8 1 13 1 7 1 0 1-2 1-13 1-11 1-4 1 0 1 5 1 8 1 26 1-3 1-14 1-5 1-8 1-10 1-8M409 42l1 8 1 2 1-7 1-8 1-18 1 16 1 7 1 8 1 7 1-3 1-5 1-7 1-7 1 2 1 4 1 7 1 9 1 0 1-4 1-8 1-7 1-3 1 6 1 9 1 3 1 0 1-6 1-4M496 44l1-8 1-13 1-4 1 6 1 5 1 11 1 3 1-3 1-9 1-9 1-8 1 1 1 7 1 11 1 27 1-11 1 0 1-16 1-9 1 1 1-2 1 7 1 0 1 13 1 11 1-15 1-6 1-1 1 12M539 41l1-6 1-8 1-7 1-1 1 10 1 10 1 5 1 4 1-12 1-8 1-4 1 1 1 9 1 9 1 8 1 2 1-18 1-5 1-3 1 5 1 6 1 25 1-13 1-7 1-6 1 3M579 41l1-9 1-10 1 5 1 12 1 9 1-12 1-9 1-4 1-4 1-2 1 10 1 10 1 8 1 8 1-5 1-26 1-11 1-3 1 8 1 13 1 10 1-1 1 0 1-7 1-9 1-1 1 11 1 11M663 40l1-4 1-3 1-6 1-1 1-3 1-2 1-2 1 10 1 5 1-1 1 10 1-14 1-6 1-5 1 2 1 4 1 3 1 4 1 0 1-1 1-10 1-4 1 1 1 5 1 7 1 9M869 39l1-6 1-6 1-7 1-10 1 6 1 3 1 12 1 4 1-6 1-15 1-6 1 6 1 10 1 12 1-1 1-6 1-7 1-5 1 6 1 9 1 7 1 0 1-13 1-2 1-1 1 11 1 4M909 39l1-6 1-9 1-4 1-4 1 2 1 3 1 4 1 5 1-4 1-3 1-15 1-8 1 17 1 7 1 4 1 1 1-5 1-6 1-3 2 2 1 5 1 3 1 2 1-4 1 3 1 16" stroke="#7f7f7f"/><path d="M0 47l1-9 1-8 1-4 1 5 1 9 1 7 1 24 1-21 1-10 1-6 1-5 1 4 1 5 1 8 1 3 1 1 1-5 1-7 1-8 1-2 1 6 1 8 1 4 1 5 1-5 1-4 1 4M43 35l1 17 1 13 1 4 1-10 1-12 1 6 1 9 1 16 1-2 1-5 1-8 1-6 1-3 1 10 1 6 1-3 1 6 1-6 1-13 1-1 1 8 1 4 1 8 1-3 1-5 1-6 1-7 1-18M87 45l1-5 1-5 1-4 1 3 1 7 1 7 1-9 1-10 1-9 1 4 1 16 1 7 1 9 1-20 1-12 1 3 1 5 1 9 1 2 1-7 1-7 1-3 1 2 1 20 1 5 1-15 1-7 1 7 1 5M230 39l1 17 1 22 1 5 1-11 1-15 1-21 1 15 1 18 1 9 1 8 1-2 1-12 1-26 1 2 1 4 1 17 1 17 1 4 1-4 1-15 2-14 1-4 1 7 1 11 1 8 1-4 1-18 1-17M409 46l1 3 1 0 1-2 1-3 1 18 1 8 1-1 1-9 1-10 1-5 1 1 1 6 1 9 1 2 1-3 1-7 1-12 1-7 1 3 1 15 1 5 1 0 1-1 1-6 1-8 1 3 1 4 1-2M539 33l1 21 1 10 1-2 1 14 1 10 1-5 1-2 1-8 1-1 1 0 1 1 1 10 1 6 1-2 1-7 1-17 1 2 1 1 1 8 1 8 1 4 1 9 1-20 1-10 1-16 1-14M621 45l1 0 1 3 1-1 1-3 1-9 1-11 1-4 1 8 1 17 1 12 1 9 1-6 1-8 1-11 1-3 1-3 1 3 1 10 1 16 1 3 2-6 1-8 1-17 1-5 1 5 1 8 1 0M745 44l1-1 1-3 1 2 1 1 1 9 1 0 1-10 1-7 1 0 1-1 1 10 1 5 1 0 1-4 1-8 1-2 1 1 1 5 1 9 1 1 2 7 1-21 1-21 1 7 1 14 1 7 1 2M869 45l1 13 1 3 1-6 1-5 1 10 1 9 1 4 1-1 1-18 1-13 1 5 1 14 1 21 1 7 1-12 1-25 1-10 1 5 1 19 1 11 1 0 1-9 1-7 1-2 1-1 1-1 1-11" stroke="#e377c2"/><path d="M323 20l1 16 1 12 1-1 1-4 1 4 1 8 1 0 1-3 1-5 1-12 1 0 1 8 1 16 1-5 1-4 1-9 1-7 1 3 1 11 1 10 1-5 1-7 1-8 1-1 1 1 1-3 1-11M365 22l1 6 1-9 1-5 1 6 1 7 1 9 1 0 1-7 1-14 1 4 1 5 1 7 1 11 1 3 1-8 1-13 1-9 1 6 1 12 1 10 2 2 1-4 1-14 1 0 1 3 1 0 1-8M409 60l1-12 1-9 1 6 1 7 1-2 1-10 1-6 1-9 1 9 1 8 1 8 1 5 1-14 1-6 1-4 1 7 1 7 1 1 1 1 1-4 1-12 1-3 1 7 1 8 1 6 1 0 1 0 1 10M621 24l1 8 1 10 1 10 1 5 1-5 1-15 1-10 1-3 1 11 1 10 1 8 1 4 1-7 1-16 1-10 1 0 1 13 1 15 1 24 1-11 2-14 1-16 1-14 1 9 1 10 1-6 1-13M663 58l1 9 1 0 1-2 1-2 1 6 1 7 1 3 1-2 1-4 1-7 1-4 1-4 1 10 1 3 1 8 1-1 1-4 1-10 1-2 1-11 1 10 1 6 1 3 1 2 1-8 1-6M704 20l1 15 1-1 1-9 1 2 1 8 1 13 1 11 1-5 1-14 1-13 1-3 1 5 1 22 1 4 1 0 1-12 1-17 1-8 1 13 1 18 1 14 1-3 1-11 1-15 1-4 1 3 1 8 1-6 1-17" stroke="#1f77b4"/><path d="M132 47l1 13 1 13 1 0 1-1 1-4 1-7 1 1 1-6 1 19 1 14 1 3 1-12 1-3 1-6 1-5 1 1 1 0 1 4 1 5 1 9 1 0 1-5 1-4 1-5 1-3 1 0 1-1 1-6 1-14M178 48l1-11 1-1 1-5 1-5 1-11 1-3 1 0 1 2 2 5 1 12 1 8 1 0 1-12 1-12 1-5 1-3 1 4 1 11 1 6 1 6 1-1 1-12 1-12 1-9 1 4 1 7 1 13 1 14 1 8 1-17 1-5 1-1 1 11 1 11M276 48l1-5 1 7 1 1 1-4 1-10 1-9 1-2 1 15 1 10 1 11 1-1 1-16 1-23 1-3 1 11 1 14 1 15 1 6 1-11 1-14 1-10 1 1 1 6 1 13 1 18 1-16 1-6 1-12 1-4 1 14 1 2M323 48l1 2 1 1 1-7 1-1 1-3 1 8 1 13 1 6 1 0 1-5 1-6 1-8 1-13 1 10 1 8 1 7 1 8 1 4 1-6 1-5 1-9 1-2 1 2 1 4 1 4 1-2 1-12M409 48l1-12 1-7 1-8 1 9 1 17 1 5 1 1 1-7 1-12 1-13 1-3 1-8 1 20 1 13 1 8 1 2 1-9 1-13 1-11 1-5 1 1 1 12 1 8 1 7 1-1 1-5 1-2 1 12M453 48l1-11 1-7 1-4 1 7 1 3 1 6 1 1 1 1 1-8 1-8 1-8 1 7 1 4 1 6 1 10 1-1 1-3 1-2 1-8 1-3 1-3 1-2 1 18 1 0 1 3 1 4 1-6 1-1M496 48l1 5 1 11 1 12 1 0 1-7 1-7 1-3 1 2 1 12 1 5 1-5 1-10 1-6 1-1 1 10 1 12 1 2 1-11 1-9 1-3 1 5 1 9 1 11 1-3 1-17 1-7 1 5 1-6 1-5M539 46l1 6 1 7 1 14 1-9 1-12 1-6 1 5 1 9 1 7 1 0 1-10 1-9 1 4 1 9 1 4 1-1 1-9 1-3 1 5 1 2 1 8 1 8 1-19 1-3 1-3 1-6M621 46l1-11 1-9 1-3 1-7 1 2 1-8 1 14 1 10 1 9 1 7 1-7 1-12 1-12 1-5 1 0 1 5 1 9 1 11 1 1 1 2 2-7 1-7 1-9 1 1 1 2 1 14 1 10M788 47l1-10 1-9 1 0 1-4 1-7 1-5 1 1 1 7 1 10 1 1 1 6 1-11 1-15 1-6 1 4 1 14 1 2 1 2 1-1 1-4 1-7 1-4 1 4 1 17 1 14M827 45l1-7 1 0 1 3 1 4 1-9 1-1 1-7 1-12 1 15 1 8 1 6 1 0 1-3 1-8 1-6 1-15 1 9 1 8 1 9 1 0 1 1 1-3 1-7 1-3 1 1 1 7 1 12" stroke="#8c564b"/><path d="M178 29l1 2 1-2 1 1 1 2 1-11 1 1 1-8 1 5 2 3 1 5 1 0 1-1 1-8 1-3 1 2 1 2 1 11 1 1 1-2 1-9 1-8 1-1 1 2 1 11 1 5 1-1 1-6 1-9 1-6 1 6 1 7 1 4 1 3 1 5M230 29l1 26 1 24 1 8 1-3 1-10 1-12 1 5 1 10 1 6 1 10 1-6 1-8 1-24 1 7 1 3 1 14 1 6 1 2 1-9 1-11 2 0 1-1 1 4 1 8 1 3 1-5 1-25 1-22M788 31l1 7 1 10 1-3 1-5 1-6 1 0 1 4 1 8 1 9 1 5 1 3 1-8 1-10 1-8 1 1 1-2 1 13 1 3 1 5 1 1 1-8 1-5 1-3 1-4 1-4M827 29l1 16 1 2 1-3 1-6 1-2 1 13 1 7 1 23 1-15 1-13 1-11 1-7 1 3 1 10 1 9 1 6 1-8 1-4 1-6 1-3 1 0 1 10 1 8 1 1 1-7 1-10 1-12M909 28l1 21 1 17 1-5 1-8 1-3 1 9 1 13 1 6 1-4 1-11 1-11 1 2 1 10 1 12 1 8 1-4 1-19 1-5 1 2 2 7 1 14 1-5 1-2 1-8 1-19 1-15" stroke="#9467bd"/><path d="M132 16l1 10 1 11 1 8 1-9 1-7 1-9 1-7 1-4 1 14 1 14 1 24 1-13 1-6 1-12 1-14 1-8 1 4 1 10 1 17 1 4 1 4 1-5 1-8 1-12 1-4 1 4 1 4 1 1 1-7M276 17l1 25 1 23 1 2 1-8 1-6 1 3 1 9 1 15 1-2 1-13 1-22 1-11 1 14 1 27 1 13 1-9 1-19 1-11 1 0 1 8 1 18 1 8 1-14 1-22 1-23 1 22 1 15 1 12 1-11 1-23 1-19M365 28l1 12 1 7 1-3 1-5 1-6 1 5 1 5 1 6 1 5 1-6 1-3 1-5 1 0 1 2 1 9 1 9 1-5 1-7 1-8 1 1 2 2 1 5 1 5 1 0 1-6 1-9 1-11M453 28l1 1 1 7 1 6 1-4 1-3 1-10 1-6 1 0 1 10 1 5 1 27 1-17 1-9 1-9 1-4 1-1 1 0 1 10 1 10 1 5 1-1 1-10 1-15 1 0 1 4 1 1 1 5 1-4M496 25l1 5 1 3 1 2 1 4 1 4 1 2 1-9 1-2 1-8 1-2 1 4 1 7 1 10 1 18 1 12 1-31 1-13 1-4 1-3 1 4 1 10 1 10 1 6 1 8 1-16 1-12 1-7 1-1 1-1M663 11l1 2 1-2 1 6 1 5 1 6 1 1 1-6 1-5 1-6 1-5 1 0 1 11 1 9 1 1 1 1 1-5 1-9 1-10 1 1 1-5 1 20 1 4 1 2 1-2 1-8 1-5M704 13l1 21 1 14 1 6 1-12 1-4 1 2 1 6 1 10 1 5 1-1 1-7 1-11 1-5 1 6 1 7 1 6 1 12 1-7 1-10 1-6 1-5 1 2 1 9 1 7 1 1 1-5 1-10 1-17 1-15" stroke="#2ca02c"/><path d="M43 23l1 10 1 4 1-1 1-4 1-2 1-3 1 6 1 20 1-12 1-3 1-7 1-12 1 0 1 6 1 9 1 8 1 4 1-11 1-8 1-5 1 1 1 5 1 5 1 4 1 1 1-7 1-7 1-3M87 28l1 6 1 9 1 2 1 8 1-5 1-3 1-5 1-1 1 8 1 8 1-1 1-8 1-17 1 1 1 17 1 10 1-3 1-8 1-6 1 0 1 7 1 9 1 1 1-4 1-13 1 3 1 4 1-9 1-11M132 29l1 12 1 6 1 4 1-12 1-8 1 0 1 8 1 13 1 9 1 13 1-3 1-16 1-7 1-15 1-5 1 3 1 11 1 12 1 12 1 3 1-6 1-6 1-11 1-7 1-4 1 5 1 8 1-3 1-17M409 21l1 22 1 16 1 3 1-7 1-13 1 8 1 4 1 7 1 9 1-5 1-5 1-20 1-3 1 8 1 16 1 10 1 0 1-2 1-12 1-6 1-4 1 10 1 11 1 4 1 0 1-16 1-23 1-10M453 30l1 5 1 15 1 4 1-1 1-4 1-6 1-7 1-2 1 7 1 7 1 17 1 0 1-10 1-11 1-5 1-2 1 1 1 2 1 12 1 2 1 2 1-8 1-9 1-3 1 1 1 1 1-2 1-10M496 24l1 14 1 7 1-3 1-7 1-1 1 8 1 6 1 10 1 1 1-2 1-4 1-7 1-8 1-9 1-13 1 25 1 19 1 4 1 4 1-6 1-8 1-9 1-6 1-4 1 7 1 11 1 2 1-11 1-21M539 21l1 6 1 6 1 17 1-13 1-10 1-8 1-1 1 3 1 9 1 3 1 6 1-9 1-4 1-8 1-10 1 4 1 16 1 3 1 0 1 0 1-4 1-16 1 1 1 8 1 1 1 3M579 33l1 14 1-1 1 3 1 6 1 22 1 1 1-14 1-12 1-8 1 11 1 12 1-1 1 0 1-10 1-14 1 7 1 18 1 14 1-7 1-18 1-7 1 2 1 13 1 2 1 0 1-7 1-16 1-10M704 31l1 12 1 1 1-1 1-6 1-2 1 1 1 6 1 7 1 4 1 0 1-8 1-18 1 1 1 7 1 8 1 16 1 9 1 1 1-21 1-13 1-8 1 3 1 18 1 12 1 3 1-2 1-16 1-4 1-9" stroke="#9467bd"/><path d="M43 17l1 2 1 3 1 8 1 4 1 3 1-2 1-5 1-20 1-2 1 10 1 13 1 14 1-9 1-4 1-14 1-2 1 0 1 14 1 3 1-1 1-3 1-4 1-9 1 0 1 12 1 0 1 0 1-11M87 18l1 20 1 9 1 0 1-3 1-1 1 5 1 6 1 3 1 2 1-3 1-4 1-9 1-14 1 8 1 11 1 4 1 7 1 2 1-8 1-5 1-6 1-2 1 0 1-3 1 19 1-1 1-7 1-14 1-16M323 18l1 26 1 19 1 2 1-7 1-6 1 2 1 13 1 11 1-6 1-10 1-7 1-6 1-6 1 19 1 6 1 0 1-5 1-7 1-5 1 1 1 6 1 8 1 2 1-8 1-9 1-17 1-17M409 27l1 2 1-7 1-7 1-7 1 13 1 12 1 5 1-5 1-12 1-10 1 1 1 7 1 18 1 12 1-9 1-14 1-17 1 2 1 7 1 15 1 5 1-1 1-15 1-2 1-2 1 3 1 7 1 2M621 28l1 5 1 16 1 8 1-7 1-18 1-18 1 6 1 19 1 16 1 9 1-8 1-20 1-15 1 1 1 11 1 21 1 12 1 4 1-31 1-12 2 0 1 4 1 24 1 1 1-8 1-17 1-2M745 13l1 28 1 15 1 0 1 0 1 8 1 6 1 4 1 2 1-9 1-4 1-4 1-2 1 1 1 6 1 7 1 8 1-2 1-7 1-8 1-7 2-10 1 11 1 13 1 9 1-5 1-29 1-34M869 10l1 27 1 15 1-4 1-7 1 7 1 7 1 0 1 21 1 1 1-7 1-13 1-5 1-8 1 1 1 7 1 6 1 6 1-1 1-1 1-6 1-3 1-2 1-1 1 4 1-1 1-16 1-25M909 17l1 8 1 7 1 4 1 6 1-5 1-6 1-4 1-2 1-1 1 6 1 6 1 16 1-9 1-9 1-4 1-6 1 3 1 1 1 7 2 5 1 1 1-2 1-5 1-4 1-6 1-8" stroke="#2ca02c"/><path d="M0 65l1-9 1-18 1-3 1 3 1 13 1 9 1 2 1-16 1-22 1 7 1 5 1 14 1 2 1 1 1-3 1-9 1-5 1 0 1 12 1 4 1 2 1-1 1-6 1-8 1 2 1 13 1 12M230 66l1-16 1-9 1-3 1-10 1-11 1 4 1 6 1 3 1 7 1 2 1 3 1 1 1-13 1-7 1-4 1-5 1 14 1 7 1 4 1-1 2-3 1-5 1-6 1-1 1-1 1 11 1 16 1 16M276 53l1-16 1-4 1 3 1 4 1 5 1-10 1-1 1-5 1-2 1 2 1 13 1 12 1 1 1-13 1-16 1-3 1 0 1 6 1 14 1 7 1-5 1-4 1-18 1-7 1 0 1 16 1 4 1 9 1-6 1 1 1 11M409 51l1-16 1-12 1 0 1 13 1 1 1-9 1-8 1-5 1 2 1 16 1 7 1-4 1-12 1-2 1 4 1 8 1 7 1-5 1-9 1-7 1 2 1 4 1 11 1 1 1-9 1-4 1 12 1 14M496 50l1 12 1 12 1 0 1-5 1-1 1-3 1 4 1 5 1 7 1-3 1-5 1-8 1-8 1 2 1 14 1 12 1 6 1-14 1-6 1-7 1 0 1 6 1 4 1 12 1-7 1-6 1-4 1-10 1-9M621 63l1-15 1-15 1-2 1 2 1 9 1 8 1 0 1-5 1-12 1-12 1 0 1 7 1 10 1 10 1 5 1-4 1-12 1-18 1-6 1 14 2 8 1 9 1 6 1-5 1-8 1 7 1 20M663 46l1-2 1-10 1-10 1-6 1-5 1 6 1 10 1 11 1 11 1 1 1-7 1-16 1-12 1-10 1 3 1 9 1 15 1 1 1 7 1-4 1 2 1-14 1-9 1 2 1 14 1 17M704 74l1-2 1-6 1-14 1 1 1 8 1 14 1 5 1-1 1-6 1-11 1-9 1-4 1 8 1 12 1 9 1 1 1-4 1-14 1-12 1 0 1 6 1 8 1 11 1 7 1-4 1-15 1-7 1 7 1 10M745 54l1 5 1-3 1 1 1 9 1 8 1 1 1-5 1-18 1-1 1 11 1 14 1 4 1-8 1-17 1-8 1 13 1 18 1 6 1-8 1-13 2-16 1 7 1 21 1 11 1-12 1-13 1-12M788 68l1-4 1-4 1-5 1-8 1-7 1-3 1 6 1 17 1 14 1 7 1-5 1-25 1-9 1 1 1 3 1 7 1 9 1 1 1-2 1-4 1-7 1-8 1 3 1 15 1 8M827 66l1-10 1-2 1-6 1-5 1-7 1-3 1-8 1 3 1 13 1 8 1 4 1 6 1-4 1-13 1-24 1-1 1 9 1 6 1 6 1 8 1 5 1-4 1-2 1-11 1 0 1 10 1 21" stroke="#ff7f0e"/><path d="M0 71l1-17 1-13 1 2 1 14 1 9 1 5 1 10 1-25 1-24 1-6 1 8 1 16 1 20 1 9 1-5 1-19 1-9 1-5 1 4 1 7 1 6 1 12 1-1 1-8 1-9 1 5 1 13M132 51l1-10 1-4 1 3 1 5 1-3 1-3 1-5 1-4 1 8 1 12 1 5 1-12 1-6 1-3 1 1 1 11 1 4 1 3 1-10 1-7 1-1 1 7 1 3 1 6 1-6 1-1 1-3 1 5 1 6M276 56l1-3 1 7 1-5 1-7 1-14 1 3 1 11 1 16 1 4 1-11 1-14 1-16 1 1 1 28 1 9 1 1 1-16 1-13 1-5 1 11 1 18 1 6 1-6 1-16 1-17 1 10 1 9 1 8 1 3 1-6 1 0M539 70l1-12 1-8 1 6 1 2 1-1 1-1 1-6 1-4 1 3 1 7 1 7 1-3 1-8 1-6 1-1 1 4 1 8 1 3 1-3 1-7 1-7 1-3 1 12 1 6 1 6 1 6M869 52l1 3 1-1 1-10 1-8 1-1 1 17 1 10 1 4 1-5 1-18 1-4 1 1 1 14 1 9 1 4 1-10 1-14 1-10 1 5 1 18 1 9 1 3 1-11 1-15 1-1 1 7 1 2" stroke="#d62728"/><path d="M365 23l1 12 1 9 1 13 1 9 1 3 1-6 1-17 1-1 1-10 1 12 1 15 1 12 1-5 1-7 1-16 1-8 1 2 1 8 1 10 1 8 2-5 1-3 1-17 1-5 1 6 1-6 1-13M496 18l1-1 1 2 1 10 1 6 1-5 1-10 1-13 1-3 1 12 1 9 1 6 1-6 1-7 1-12 1-6 1 16 1 8 1 5 1-5 1-10 1-7 1 4 1 5 1 12 1 7 1-14 1-7 1-3 1 4M663 13l1 17 1 1 1-1 1 9 1 11 1 3 1-7 1-17 1-4 1 13 1 37 1-4 1-24 1-17 1-5 1 16 1 19 1 1 1-16 1-19 1-2 1 19 1 7 1-3 1-16 1-16" stroke="#bcbd22"/><path d="M178 44l1-10 1-9 1-6 1 2 1-9 1-1 1 4 1 6 2 12 1-7 1-11 1-6 1 4 1 6 1 8 1-6 1-4 1-12 1 2 1 15 1 6 1 0 1-9 1-10 1-2 1 10 1 9 1 7 1-8 1-10 1-2 1 12 1 12 1 5M323 41l1 5 1 1 1-10 1-6 1-5 1 5 1 8 1 11 1 11 1 1 1-12 1-12 1-23 1-1 1 2 1 17 1 17 1 11 1 5 1-12 1-15 1-14 1-4 1 5 1 8 1 11 1-1M365 41l1 6 1 4 1-3 1-3 1-9 1 4 1 3 1 10 1 16 1-11 1-10 1-9 1-4 1 6 1 9 1 2 1 1 1-5 1-4 1-1 2-2 1 7 1 1 1 4 1-5 1-3 1-6M453 40l1 2 1-8 1-5 1-6 1-6 1 8 1 3 1 11 1 10 1 4 1-6 1-16 1-16 1-9 1-3 1 9 1 15 1 12 1 4 1 0 1-7 1-13 1-10 1 1 1 2 1 7 1 11 1 4M621 45l1 7 1 3 1-6 1-2 1 4 1 23 1 3 1-4 1-13 1-10 1-3 1 2 1 10 1 9 1 5 1-8 1-13 1-29 1 12 1 11 2 18 1 5 1 0 1-7 1-12 1-6 1-1M788 42l1-4 1-5 1-7 1-2 1-5 1 2 1 7 1 7 1 3 1-1 1-5 1-15 1-8 1-1 1 6 1 16 1 5 1-1 1-4 1-6 1-13 1-7 1 5 1 23 1 11" stroke="#7f7f7f"/><path d="M87 56l1-12 1-14 1-20 1 0 1 12 1 11 1 10 1-12 1-13 1-4 1 6 1 15 1 15 1-8 1-30 1-10 1 4 1 23 1 13 1-2 1-17 1-11 1-2 1 13 1 20 1-9 1-3 1 8 1 18M132 76l1-7 1-3 1 2 1-3 1-1 1-7 1-8 1-6 1 9 1 25 1 1 1 0 1-13 1-13 1-9 1 1 1 6 1 16 1 7 1-1 1-10 1-9 1-5 1 4 1 2 1 7 1 5 1 4 1 5M178 62l1-3 1-1 1-8 1-4 1-2 1 11 1 9 1 2 2-4 1-14 1-11 1 3 1 11 1 11 1 4 1-6 1-8 1-17 1 1 1 11 1 10 1 10 1-1 1-12 1-11 1-3 1 4 1 9 1 15 1-10 1-6 1 0 1 1 1 5M230 54l1 11 1 9 1-3 1-8 1 2 1-4 1 10 1 3 1 2 1-1 1 2 1-13 1-13 1-1 1 0 1 12 1 9 1 7 1-1 1-3 2-8 1-5 1-2 1 1 1 3 1 5 1-4 1-10M323 58l1 7 1-6 1 0 1-9 1 6 1 18 1 8 1 2 1-9 1-14 1-14 1-6 1 10 1 20 1 16 1 2 1-10 1-15 1-12 1-2 1 14 1 10 1 11 1-2 1-9 1-11 1-8M539 63l1 0 1-8 1-15 1 8 1 12 1 11 1 6 1 1 1-6 1-10 1-8 1-4 1 5 1 8 1 14 1 8 1-7 1-6 1-13 1-5 1-7 1 1 1 13 1 10 1-5 1-3M788 75l1-8 1-8 1-3 1-8 1-7 1-6 1 2 1 6 1 10 1 10 1 3 1 10 1-22 1-5 1-7 1 0 1-4 1 10 1 5 1 9 1-2 1-1 1-7 1 9 1 16" stroke="#17becf"/><path d="M276 36l1 1 1 5 1-5 1-3 1-7 1 2 1 2 1 11 1 2 1 4 1-5 1-10 1-16 1-5 1 16 1 8 1 12 1 4 1-5 1-10 1-8 1-2 1 0 1 5 1 13 1 10 1-9 1-3 1-8 1-2 1 1M365 43l1 4 1-7 1-3 1-1 1 3 1 9 1 9 1 1 1-10 1-11 1-3 1 0 1 11 1 19 1 1 1-11 1-14 1-9 1 2 1 7 2 10 1 8 1-7 1-7 1-6 1 2 1 2M579 36l1 1 1 2 1 0 1 3 1-5 1-12 1-5 1 3 1 3 1 3 1 12 1 5 1 5 1 0 1-14 1-12 1-1 1 1 1 0 1 6 1 5 1 4 1 4 1-3 1-6 1-7 1 2 1 6M663 46l1-8 1-8 1 7 1 8 1 2 1-3 1-5 1-11 1-4 1 3 1 3 1 18 1-3 1-1 1-5 1-6 1-9 1 5 1 6 1 11 1 10 1-13 1-6 1-5 1 6 1 7M704 47l1 6 1 7 1 7 1-7 1-7 1-5 1-3 1 3 1 2 1 7 1 7 1 2 1-5 1-12 1-7 1-6 1-2 1 3 1 22 1 5 1 2 1-4 1-9 1-6 1-4 1-1 1 5 1 2 1-5M827 40l1-11 1-6 1 3 1 5 1 2 1-4 1-2 1-18 1 4 1 1 1 6 1 5 1 10 1 0 1-3 1-5 1-8 1-4 1 3 1 5 1 5 1 7 1 0 1 0 1-7 1 3 1 6M909 44l1-2 1 4 1 7 1-4 1-3 1-6 1-2 1 4 1 9 1 1 1 0 1-13 1-5 1 3 1 8 1 12 1 0 1-4 1-6 2-12 1-1 1 14 1 4 1 3 1-5 1-4" stroke="#e377c2"/><path d="M0 56l1-4 1 2 1 3 1-2 1-4 1-7 1-12 1 6 1 1 1 13 1 4 1 5 1-4 1-4 1-10 1-6 1 3 1 6 1 12 1 4 1-1 1 0 1-8 1-7 1 1 1 4 1 8M43 56l1-7 1-15 1-10 1-3 1 10 1 7 1 8 1 0 1-5 1-4 1-16 1-19 1 16 1 7 1 15 1 11 1 6 1-5 1-11 1-10 1-5 1-3 1 3 1 7 1 7 1 2 1 8 1 7M178 22l1 14 1 3 1-2 1-1 1 5 1 9 1 10 1 8 2-2 1-3 1-11 1-16 1-6 1 3 1 13 1 13 1 10 1 0 1-1 1-10 1-11 1-4 1-8 1 11 1 7 1 15 1 7 1 6 1-8 1-21 1-5 1-7 1-6 1-12M230 59l1 4 1 5 1 2 1-4 1-10 1-8 1-3 1 3 1 5 1 9 1 8 1 5 1-1 1-12 1-4 1-20 1 7 1 7 1 5 1 9 2 6 1 2 1-5 1 0 1-13 1-4 1 5 1 3M453 58l1 0 1-4 1 1 1 4 1 4 1 3 1-5 1-2 1-6 1-15 1-1 1 9 1 7 1 7 1 0 1-1 1-5 1-6 1-4 1 3 1 2 1 8 1 0 1 1 1-4 1-1 1-1 1 6M579 61l1-1 1-7 1-7 1-10 1 8 1 14 1 7 1-2 1-12 1-6 1-3 1 11 1 6 1 11 1 4 1-22 1-9 1 6 1 2 1 8 1 0 1-2 1-4 1-5 1 1 1 2 1 9 1-2M745 21l1 9 1 5 1-9 1 0 1 8 1 12 1 10 1-4 1-10 1-15 1-5 1 2 1 14 1 11 1 11 1-13 1-12 1-10 1-2 1 7 2 17 1 3 1 0 1-10 1-4 1-9 1-4M827 59l1 10 1 0 1-8 1 0 1 3 1 17 1 9 1-6 1-25 1-13 1 8 1 18 1 19 1-10 1-16 1-14 1 4 1 17 1 15 1-1 1-15 1-11 1 2 1 6 1 6 1-7 1-7M869 21l1 9 1 6 1-14 1-15 1 7 1 5 1 16 1 13 1 14 1-8 1-16 1-13 1-6 1-6 1 6 1 8 1 12 1 8 1 1 1-11 1-12 1-7 1-6 1 5 1 6 1 4 1-3M909 58l1-19 1-12 1-5 1-10 1-7 1 5 1 7 1 10 1 5 1-8 1-11 1-8 1 7 1 7 1 8 1 4 1-8 1-13 1-7 2 9 1 15 1 8 1-6 1-10 1 14 1 24" stroke="#1f77b4"/><path d="M0 18l1 11 1 11 1 1 1-2 1-5 1-8 1-19 1 6 1 25 1 6 1 1 1 1 1-10 1-5 1-6 1 1 1 10 1 8 1 6 1 1 1-10 1-8 1 1 1-3 1 3 1-5 1-11M178 26l1 10 1 0 1 6 1 13 1 9 1-2 1-8 1-13 2-6 1 16 1 14 1 3 1-3 1-21 1-3 1 7 1 10 1 7 1-2 1-7 1-10 1-2 1 10 1 25 1 0 1-13 1-22 1-23 1 19 1 18 1 8 1-11 1-12 1-14M230 10l1 28 1 24 1 9 1 0 1 2 1-14 1 0 1-1 1 8 1 8 1 3 1 13 1-28 1-6 1 0 1 7 1 8 1-1 1 2 1-6 2-5 1-2 1 6 1 6 1 5 1-12 1-23 1-28M365 17l1 22 1 17 1-8 1-11 1 0 1 15 1 12 1 1 1-6 1-12 1-5 1 3 1 14 1 18 1 1 1-18 1-15 1-8 1 9 1 14 2 10 1 5 1-18 1-12 1-4 1-6 1-20M539 21l1 3 1 1 1 1 1-4 1-8 1 0 1 1 1 6 1 1 1 1 1 2 1 0 1-3 1-8 1-12 1-2 1 5 1 13 1 4 1 3 1 0 1 4 1-9 1-7 1 3 1 1M579 33l1-4 1 0 1 6 1 7 1 23 1-14 1-13 1-8 1-6 1 1 1 2 1 5 1 7 1 9 1 18 1-22 1-11 1-13 1-2 1 4 1 13 1 2 1 9 1-2 1-3 1-7 1-5 1 0M788 12l1 36 1 25 1-4 1-5 1-13 1-2 1 1 1 4 1 7 1 9 1 12 1-1 1-14 1-6 1-11 1-10 1 2 1 12 1 13 1 9 1 2 1-5 1-7 1-29 1-22M827 15l1 22 1 11 1 7 1 9 1 4 1 5 1 3 1-1 1-17 1-9 1-8 1 0 1 6 1 15 1 12 1 2 1-4 1-7 1-6 1-2 1-3 1 1 1 6 1 4 1 2 1-23 1-27" stroke="#2ca02c"/><path d="M0 27l1-6 1-11 1 5 1 10 1 7 1-2 1-20 1-10 1 3 1 18 1 17 1 0 1-15 1-14 1-1 1 11 1 20 1 1 1-10 1-12 1-7 1 7 1 9 1 5 1-4 1-2 1 1M230 20l1 20 1 8 1 6 1 3 1 5 1 5 1-3 1-4 1-7 1-6 1-5 1-9 1 22 1 9 1 7 1 0 1-4 1-15 1-7 1 0 2 4 1 6 1 6 1 6 1-7 1-8 1-11 1-17M276 33l1 16 1 19 1 6 1-8 1-13 1-2 1 10 1 15 1 4 1-7 1-16 1-12 1 1 1 19 1 13 1-4 1-10 1-13 1-7 1 11 1 14 1 2 1-6 1-13 1-20 1 12 1 17 1 10 1-8 1-15 1-17M323 19l1 4 1-2 1-3 1-4 1-4 1 13 1 9 1 0 1-11 1-5 1 1 1 1 1 21 1-3 1-11 1-11 1-6 1 8 1 9 1 1 1-4 1-6 1-1 1-2 1 9 1 3 1-2M365 26l1 21 1 15 1 6 1 4 1-2 1-5 1-7 1-2 1 7 1 7 1 2 1-5 1-10 1 0 1 1 1 12 1 4 1-10 1-9 1-3 2 3 1 13 1 6 1-6 1-11 1-14 1-14M621 29l1 17 1 13 1-1 1 2 1 2 1 8 1-1 1 3 1-3 1 3 1-10 1-5 1-3 1 6 1 6 1 4 1 2 1 2 1-2 1-3 2-5 1-3 1-10 1 16 1 1 1-14 1-26M663 34l1 6 1 14 1 5 1-1 1 2 1-7 1-8 1-5 1-3 1 5 1 4 1 19 1-2 1 1 1-4 1-12 1-5 1-2 1-6 1-2 1 17 1 4 1 3 1-2 1-12 1-14M745 29l1 7 1 14 1 3 1 12 1 6 1-6 1-16 1-9 1-3 1 9 1 14 1 11 1-1 1-11 1-18 1-9 1 3 1 18 1 7 1 1 2-2 1-10 1-11 1-8 1 16 1-2 1-15M869 28l1 14 1 5 1-5 1-11 1 13 1 8 1 3 1 4 1-2 1-6 1-15 1-7 1-1 1 12 1 13 1 6 1 3 1-8 1-11 1-6 1-6 1 6 1 8 1 4 1 4 1-14 1-12" stroke="#9467bd"/><path d="M87 57l1 6 1 6 1-3 1-8 1 2 1-3 1-1 1 3 1 7 1 4 1 3 1-5 1 2 1-13 1-1 1 2 1 3 1 1 1 8 1 4 1 3 1-9 1-3 1-10 1-14 1 19 1 3 1-2 1-4M132 23l1 8 1 1 1 8 1 3 1 1 1-2 1-6 1-10 1-1 1-9 1 4 1 12 1 3 1 9 1 2 1-6 1-6 1-3 1-8 1-1 1 2 1 5 1 8 1 1 1 1 1-4 1-4 1-3 1-8M276 60l1 10 1 5 1-7 1-13 1-1 1 2 1 11 1 6 1 5 1-1 1-6 1-13 1-10 1 0 1 13 1 13 1 9 1 1 1-9 1-18 1-14 1-1 1 10 1 13 1 18 1-1 1-12 1-8 1-8 1 2 1 1M496 60l1-14 1-15 1-8 1-2 1 5 1 7 1-1 1-4 1-10 1-6 1 12 1 5 1 9 1-4 1-34 1 0 1 15 1 14 1 4 1 2 1-13 1-5 1 4 1 5 1 10 1-9 1 2 1 8 1 23M539 22l1 28 1 20 1-3 1-11 1-5 1 4 1 12 1 14 1 1 1-14 1-15 1-6 1-1 1 12 1 21 1 6 1-14 1-18 1-8 1 2 1 10 1 13 1 2 1-9 1-20 1-22M788 60l1 1 1-8 1-1 1 9 1 11 1 9 1 2 1-6 1-13 1-11 1-11 1-3 1 28 1 6 1 9 1 8 1-16 1-11 1-13 1-1 1 10 1 6 1 7 1-2 1-13" stroke="#1f77b4"/><path d="M87 33l1 9 1 9 1 3 1 5 1 0 1-3 1-6 1-5 1 2 1 2 1 2 1 9 1 8 1 18 1-21 1-8 1-12 1-4 1-1 1 7 1 10 1 3 1 3 1 2 1 0 1-14 1-8 1-6 1-4M132 46l1-6 1 6 1-2 1-8 1-11 1-9 1 2 1 11 1 20 1 9 1-2 1-21 1-15 1-8 1 8 1 13 1 9 1 5 1-4 1-9 1-19 1-4 1 8 1 14 1 15 1 4 1-9 1-7 1 9M178 38l1 8 1 9 1 19 1 6 1-15 1-17 1-6 1 18 2 16 1 10 1-14 1-24 1-10 1 13 1 20 1 6 1-4 1-20 1-10 1 8 1 24 1 11 1 5 1-30 1-9 1 3 1 15 1 15 1-10 1-8 1-6 1-3 1-6 1-13M323 46l1-1 1 4 1-2 1-5 1-9 1-9 1 8 1 9 1 15 1 4 1-3 1-18 1-24 1 3 1 15 1 13 1 8 1 0 1-6 1-11 1-7 1-1 1 7 1 12 1 2 1-2 1-4M453 38l1 6 1 2 1-3 1-6 1-1 1 0 1 2 1 12 1 3 1 9 1-6 1-15 1-6 1-1 1 3 1 8 1 4 1 4 1-3 1-3 1-11 1-7 1 4 1 12 1 6 1 1 1-7 1-9M496 46l1 0 1-3 1-8 1-10 1 0 1 6 1 10 1-1 1-3 1-12 1-2 1 8 1 17 1 10 1-14 1-25 1-9 1 16 1 17 1 6 1-6 1-12 1-7 1-3 1 24 1-3 1-3 1-3 1 9M788 35l1 26 1 28 1-5 1-4 1-7 1-4 1-2 1 3 1 11 1 12 1 6 1 0 1-19 1-9 1-5 1-10 1 10 1 10 1 4 1 2 1-1 1-6 1-4 1-20 1-18" stroke="#e377c2"/><path d="M365 67l1-12 1-1 1-1 1-3 1-15 1-14 1 2 1 14 1 16 1 5 1-7 1-16 1-13 1 0 1 17 1 15 1 10 1-11 1-9 1-13 2-1 1 6 1 12 1 4 1 0 1 2 1 11M409 53l1-10 1-8 1 1 1-5 1-16 1 8 1 2 1 8 1 12 1-13 1-2 1-26 1 12 1 7 1 13 1-3 1-5 1-3 1-8 1 5 1 5 1 9 1 1 1-8 1-10 1 4 1 17 1 17M453 56l1 1 1-4 1-6 1-5 1 3 1 10 1 9 1 1 1-12 1-15 1-12 1 10 1 19 1 2 1-4 1-9 1-7 1 4 1 7 1 14 1 1 1 1 1-19 1-3 1 0 1 9 1 5 1-2M579 69l1 0 1-2 1 4 1-5 1-12 1-9 1-1 1 2 1 11 1 4 1 2 1-2 1-2 1-6 1-15 1 9 1 2 1 6 1 5 1 3 1 0 1-5 1-7 1-6 1-2 1 8 1 13 1 8M621 67l1 1 1-8 1-2 1 8 1 11 1 9 1-7 1-2 1-11 1-12 1-4 1 12 1 14 1 10 1 3 1-6 1-11 1-21 1-6 1 16 2 12 1 9 1 13 1-9 1-9 1-9 1-2M663 52l1-18 1-13 1 0 1 1 1-4 1-3 1 1 1 6 1 10 1-1 1-10 1-12 1 3 1 10 1 9 1 1 1-5 1-12 1-1 1 2 1 16 1 0 1-4 1-5 1 13 1 15M704 55l1 15 1 15 1 2 1-10 1-9 1-5 1 0 1 5 1 8 1 5 1 10 1 5 1-18 1-8 1-12 1-6 1 5 1 3 1 22 1 9 1 3 1-6 1-8 1-9 1-7 1 0 1 2 1-4 1-8M745 53l1 4 1 6 1 6 1 0 1-3 1-5 1-6 1-5 1 8 1 6 1 7 1 3 1-7 1-9 1-11 1 3 1 5 1 10 1 8 1-2 2-4 1-12 1-13 1 6 1 10 1-2 1-4M909 53l1-6 1-2 1 6 1-2 1-8 1-13 1 1 1 11 1 16 1 7 1-8 1-18 1-11 1 6 1 10 1 24 1-6 1-10 1-15 2-10 1 7 1 16 1 10 1-1 1-9 1 8" stroke="#d62728"/><path d="M43 48l1-13 1-11 1-3 1 7 1 15 1 6 1-4 1-6 1-13 1-8 1 0 1 7 1 10 1 1 1 5 1-10 1-7 1-10 1-3 1 11 1 7 1 9 1-1 1-5 1-6 1-3 1 7 1 16M87 51l1-7 1-8 1-4 1 4 1 6 1 3 1-1 1-6 1-8 1 2 1 0 1 8 1 5 1 1 1-5 1-10 1-5 1-2 1 7 1 6 1 4 1-2 1-1 1-11 1-5 1 7 1 7 1 8 1 7M132 46l1 9 1 6 1-4 1-7 1-2 1 5 1 9 1 9 1 7 1-18 1-25 1 5 1 4 1 12 1 14 1 1 1-10 1-11 1-4 1-3 1 8 1 8 1 5 1-4 1-6 1-7 1-3 1 3 1 0M178 72l1-15 1-16 1-16 1-4 1-2 1 2 1 9 1 6 2 2 1-13 1-5 1-4 1 5 1 9 1 6 1-1 1-9 1-6 1-1 1 4 1 8 1 8 1-1 1-6 1-9 1-3 1 1 1 21 1 4 1-2 1-12 1 3 1 14 1 21M453 52l1 4 1-3 1-8 1-6 1 4 1 13 1 9 1 1 1-5 1-12 1-17 1-3 1 11 1 13 1 13 1 0 1-6 1-15 1-9 1-7 1 13 1 12 1 5 1 0 1-7 1-4 1-2 1 6M869 63l1-2 1 1 1-8 1-15 1-1 1 7 1 15 1 21 1-22 1-20 1-2 1 4 1 19 1 10 1-12 1-12 1-13 1 9 1 12 1 9 1-6 1-15 1-5 1 6 1 5 1 8 1 8" stroke="#ff7f0e"/><path d="M43 12l1 23 1 14 1-2 1-7 1-3 1 7 1 7 1 12 1 1 1-10 1 1 1-20 1 1 1 0 1 5 1 9 1 6 1 0 1 0 1-6 1-7 1 1 1-3 1 1 1 6 1-4 1-13 1-19M276 11l1 15 1 6 1 2 1-3 1 4 1 6 1 2 1 1 1-4 1-2 1-5 1 3 1 8 1 15 1-10 1-7 1-13 1-4 1 4 1 13 1 8 1 2 1-10 1-6 1-6 1-4 1 15 1-1 1-4 1-13 1-8M323 13l1 12 1 7 1-6 1-7 1 3 1 11 1 7 1 2 1-4 1-5 1-11 1 0 1 2 1 16 1 13 1-1 1-7 1-16 1-8 1 0 1 10 1 8 1 5 1-1 1-7 1-13 1-6M409 16l1 22 1 20 1 13 1 8 1-19 1-9 1-8 1-5 1-1 1 14 1 12 1 10 1-8 1-6 1-10 1-7 1-4 1 6 1 5 1 15 1 1 1 2 1-10 1-11 1-5 1-1 1-9 1-13M539 16l1 9 1 10 1 27 1-18 1-8 1-9 1-4 1-3 1 5 1 7 1 14 1-2 1-9 1-9 1-9 1-3 1 10 1 5 1 4 1 1 1-4 1-5 1-8 1 0 1 3 1-4M579 21l1 15 1 11 1 3 1 4 1 15 1 1 1 4 1-3 1-10 1-11 1-3 1 0 1 3 1 12 1 19 1-4 1-6 1-6 1-10 1-4 1 0 1 1 1 3 1 8 1 4 1-4 1-19 1-20M704 18l1 4 1-4 1 1 1 8 1 9 1 5 1 1 1-10 1-8 1-4 1 2 1 6 1 13 1 6 1-5 1-8 1-13 1-16 1 14 1 13 1 10 1 5 1-7 1-9 1-4 1-1 1 0 1 2 1-13M869 12l1 3 1 5 1 11 1 8 1-2 1-14 1-12 1-11 1 0 1 27 1 15 1 6 1-16 1-17 1-7 1 4 1 7 1 11 1 5 1-9 1-9 1-12 1 1 1 7 1 8 1-1 1-9M909 12l1 40 1 17 1-8 1-2 1 14 1 13 1 0 1-6 1-14 1-10 1 4 1 22 1 16 1-6 1-14 1-28 1 0 1 17 1 13 2 10 1-5 1-14 1-7 1 0 1-19 1-32" stroke="#bcbd22"/><path d="M43 76l1-28 1-12 1-2 1 10 1-5 1-7 1-2 1-4 1 8 1 6 1 19 1-24 1-5 1-2 1 4 1 9 1 3 1-4 1-11 1-4 1 5 1 5 1 7 1 0 1-10 1 3 1 16 1 26M409 69l1 0 1-1 1 15 1 10 1-5 1-18 1-5 1-11 1 6 1 13 1 5 1 11 1-9 1-9 1-7 1-4 1 5 1 7 1 12 1 10 1-6 1-12 1-9 1-4 1 3 1 1 1 7 1-6M496 60l1-4 1-3 1 0 1-1 1-9 1-7 1 2 1 11 1 8 1 6 1-9 1-9 1-11 1-3 1-11 1 34 1 8 1-8 1-5 1-4 1-4 1 2 1 4 1 7 1 4 1-6 1-8 1 3 1 12M621 75l1-6 1-4 1-6 1-7 1-7 1-4 1 16 1 11 1 3 1-7 1-12 1-14 1-4 1 15 1 15 1 6 1-4 1-10 1-9 1 0 2 9 1 8 1 7 1 0 1-9 1 1 1 12M827 64l1-4 1 0 1-3 1-1 1-7 1-4 1 1 1-4 1 10 1 4 1 5 1-2 1-3 1-12 1-22 1 11 1 6 1 13 1 8 1-1 1 4 1-8 1-7 1-4 1 0 1 7 1 11" stroke="#17becf"/><path d="M0 42l1 4 1-5 1-8 1-4 1 6 1 8 1 10 1 1 1-5 1-8 1-13 1-5 1 4 1 17 1 11 1 3 1-4 1-11 1-10 1-2 1 4 1 6 1 12 1 4 1-8 1-7 1-1M230 39l1-11 1-11 1-3 1 1 1 7 1 3 1 5 1-3 1-5 1-8 1-11 1-3 1 5 1 11 1 9 1 8 1-1 1-1 1-9 1-9 2-5 1 1 1 4 1 7 1 6 1 1 1 8 1 1M663 44l1-8 1 4 1 3 1 0 1-10 1-11 1-6 1 5 1 14 1 11 1 25 1-30 1-13 1-9 1 1 1 4 1 13 1 4 1-2 1-6 1-18 1 5 1 4 1 6 1 9 1 4M704 45l1 6 1 3 1-5 1-7 1 9 1 4 1 6 1 3 1-1 1-3 1-8 1-15 1 11 1 6 1 7 1 7 1 3 1-6 1-5 1-5 1 0 1 3 1 3 1 1 1 8 1 0 1-6 1-10 1-11M745 39l1 5 1 13 1-9 1-13 1-5 1 5 1 16 1 4 1-7 1-22 1-7 1 18 1 13 1 3 1-10 1-23 1-4 1 15 1 19 1 1 2-10 1-19 1 1 1 11 1 9 1 0 1-4M827 38l1 16 1 22 1 2 1-11 1-9 1 0 1 1 1 18 1 10 1 0 1-15 1-13 1-8 1 3 1 20 1 21 1-7 1-15 1-18 1-8 1 8 1 16 1 10 1 1 1-9 1-20 1-15M909 42l1-9 1-4 1-6 1-5 1 0 1 8 1 5 1 3 1-5 1-8 1-5 1-13 1 21 1 6 1 2 1 1 1-10 1-7 1 0 2 5 1 14 1-4 1-3 1-3 1 4 1 16" stroke="#7f7f7f"/><path d="M43 68l1-9 1-4 1-5 1-5 1-16 1 9 1 2 1 10 1 12 1 0 1-4 1-9 1-9 1 0 1 5 1 5 1 6 1 3 1 1 1-9 1-8 1-7 1 5 1 8 1 4 1 6 1 3 1 4M87 73l1-3 1 0 1 5 1 0 1-10 1-12 1-5 1 6 1 16 1 10 1 1 1-12 1-24 1-7 1 10 1 21 1 7 1 1 1-7 1-15 1-7 1 2 1 16 1 15 1-2 1-11 1-7 1 2 1 6M178 56l1-10 1-2 1-4 1 0 1-8 1-2 1 2 1 1 2 3 1 3 1-1 1 3 1-4 1-8 1-3 1-2 1 2 1 4 1 5 1 5 1-3 1-3 1 0 1-7 1-3 1 5 1 1 1 5 1 7 1-2 1-4 1-1 1 8 1 7M230 72l1-25 1-19 1-9 1-1 1 5 1 11 1 6 1 5 1-10 1-11 1-7 1-4 1-3 1 11 1 14 1 12 1-5 1-13 1-9 1-11 2 1 1 2 1 11 1 8 1 4 1 1 1 9 1 28M323 71l1-9 1-20 1-7 1 6 1 14 1 16 1-1 1-11 1-11 1-5 1 1 1 4 1 19 1 16 1-8 1-12 1-16 1-8 1 3 1 13 1 9 1 5 1-4 1-9 1-6 1 11 1 10M496 51l1-4 1 1 1 1 1 2 1 2 1-5 1-4 1-7 1 2 1 3 1 3 1 3 1 7 1 4 1 4 1-15 1-13 1 4 1 2 1 4 1 5 1 1 1 3 1 1 1-1 1-5 1-4 1 5 1 4M788 69l1-4 1-7 1 1 1 2 1 9 1 3 1-6 1-4 1-13 1-4 1 6 1 18 1 5 1 4 1-5 1-10 1-6 1-2 1 5 1 9 1 4 1 4 1-5 1-6 1 5M827 51l1-10 1-12 1 4 1 5 1 3 1-1 1-3 1-11 1 4 1 3 1 4 1 8 1 15 1-19 1-7 1-13 1 5 1 10 1 4 1 5 1 0 1-4 1-6 1-5 1 6 1 10 1 5M869 72l1-2 1 0 1-8 1-7 1 1 1 8 1 15 1 20 1-30 1-17 1 4 1 11 1 15 1 6 1-19 1-13 1-3 1 13 1 16 1 4 1-18 1-6 1 1 1 6 1 8 1-5 1 0" stroke="#d62728"/><path d="M323 58l1-13 1-11 1-12 1-9 1-11 1-2 1 17 1 14 1 8 1 3 1-6 1-17 1-16 1-1 1 6 1 12 1 6 1 9 1-4 1-3 1-14 1-3 1-2 1 5 1 9 1 19 1 16M409 24l1 3 1 2 1 7 1 9 1 2 1-5 1-1 1-7 1-14 1 6 1 3 1 5 1 8 1 1 1 3 1-7 1-4 1-4 1-3 1 4 1 3 1 5 1 6 1-1 1-4 1-9 1-4 1-6M621 60l1-11 1 4 1 4 1-2 1-4 1-15 1-3 1 3 1 13 1 16 1 11 1-10 1-18 1-10 1-6 1 12 1 16 1 22 1 0 1-23 2-16 1-11 1-9 1 29 1 11 1-2 1-2M663 21l1 26 1 22 1 6 1 3 1-7 1-7 1-6 1 5 1 7 1 19 1 10 1-11 1-25 1-12 1 3 1 15 1 13 1 5 1-3 1-12 1-26 1 10 1 11 1 7 1-20 1-33" stroke="#1f77b4"/><path d="M0 12l1 14 1 21 1 8 1 4 1-13 1-11 1-3 1 17 1 22 1-1 1-21 1-11 1 0 1 9 1 11 1 0 1-8 1-17 1-3 1 16 1 11 1 2 1-7 1-11 1 0 1-9 1-21M87 24l1 7 1 7 1-5 1-2 1-3 1 0 1 0 1 13 1 7 1-7 1-9 1-10 1-19 1 16 1 12 1 7 1 7 1-10 1-9 1-2 1 1 1 4 1 2 1 11 1-3 1-7 1-6 1-1 1-1M132 13l1 6 1 6 1-5 1-3 1 2 1 3 1 5 1 19 1 6 1-17 1-18 1 0 1 0 1 4 1 4 1 13 1 4 1-5 1-8 1-8 1 0 1 4 1 1 1 11 1 0 1-3 1-3 1-14 1-2M178 12l1 29 1 20 1 13 1-4 1-5 1-3 1-1 1 3 2 9 1 9 1 5 1-4 1-9 1-9 1-10 1-4 1 3 1 7 1 10 1 6 1 1 1-2 1-6 1-6 1-2 1-4 1 4 1 3 1 6 1 3 1 2 1-19 1-21 1-23M230 17l1 26 1 18 1 11 1-1 1-4 1-18 1 12 1 2 1 9 1 3 1-6 1-18 1 1 1 10 1 7 1 6 1-6 1-11 1-3 1 5 2 7 1 3 1-6 1-7 1-1 1 0 1-13 1-25M365 14l1 1 1 3 1 6 1 5 1-5 1-7 1-1 1 4 1 15 1 1 1-9 1-10 1 0 1 4 1 9 1 4 1-11 1-5 1-2 1 7 2 5 1 3 1-6 1-9 1 1 1-1 1-5M453 10l1 35 1 22 1 4 1-13 1-8 1 9 1 13 1 8 1 2 1-9 1-21 1-6 1 5 1 15 1 10 1 4 1-6 1-11 1-3 1-2 1 4 1 9 1 10 1-5 1-8 1-11 1-20 1-25M621 25l1-2 1 2 1 7 1-1 1-1 1-3 1-13 1-7 1 0 1 9 1 15 1 8 1 4 1-7 1-14 1-9 1 1 1 1 1 8 1 10 2 7 1 0 1-5 1-15 1-5 1 7 1 3M745 11l1 16 1 11 1-1 1-7 1-6 1-1 1-1 1 8 1 7 1 10 1 1 1-3 1-8 1-9 1-5 1-5 1 5 1 6 1 9 1 5 2 13 1-11 1-8 1-16 1 5 1-7 1-4M788 26l1 4 1 2 1-3 1-1 1 0 1 7 1 2 1 1 1-5 1-6 1-19 1 2 1 20 1 6 1 3 1-3 1-8 1-3 1-4 1 5 1 7 1 0 1 0 1-6 1-3M827 13l1 20 1 21 1 10 1 4 1-1 1-7 1-11 1-11 1-2 1 11 1 18 1 15 1 4 1-10 1-23 1-20 1 0 1 11 1 19 1 14 1 4 1-8 1-13 1-8 1-6 1-13 1-17" stroke="#bcbd22"/><path d="M0 55l1 14 1 2 1-4 1 0 1 5 1 8 1 9 1 10 1-12 1-9 1-12 1-7 1-2 1 13 1 11 1 4 1 4 1-3 1-10 1-12 1-2 1 2 1 2 1 8 1 6 1-8 1-16M132 64l1-17 1-5 1 7 1-2 1-4 1-11 1-1 1 6 1 21 1 15 1-21 1-22 1-5 1 11 1 17 1 9 1-12 1-16 1-6 1 4 1 13 1 10 1-5 1-14 1-14 1 4 1 19 1 10 1 7M178 57l1-8 1-3 1-5 1-11 1-3 1 10 1 8 1 2 2-1 1-6 1-12 1 2 1 11 1 15 1 5 1-13 1-10 1-6 1 6 1 11 1 11 1 2 1-20 1-8 1 3 1 4 1 14 1 20 1-6 1-26 1-4 1 5 1 8 1 6M276 54l1-12 1-17 1-2 1 8 1 17 1-2 1-12 1-11 1-2 1 10 1 18 1 2 1-7 1-29 1 2 1 6 1 13 1 11 1-7 1-12 1-20 1 4 1 19 1 19 1 11 1-28 1-8 1-4 1 9 1 15 1 8M365 73l1-27 1-13 1 5 1-2 1-2 1-6 1-11 1 0 1 3 1 9 1 6 1 1 1-11 1-4 1-5 1 2 1 4 1 9 1 2 1-1 2-6 1-25 1 6 1 7 1 12 1 24 1 26M453 64l1-15 1-22 1-9 1-2 1 1 1 6 1 10 1 0 1-6 1-14 1-13 1 4 1 18 1 16 1 0 1-11 1-13 1-9 1 4 1 10 1 11 1 4 1-7 1-14 1-5 1 11 1 21 1 24M579 57l1 7 1-3 1 1 1 6 1 21 1 8 1-6 1-13 1-18 1-12 1 4 1 15 1 10 1 14 1 2 1-21 1-12 1-9 1 6 1 11 1 9 1 8 1-4 1-12 1-8 1-3 1 5 1-8M663 72l1-24 1-9 1 0 1 2 1-4 1-7 1-11 1 6 1 6 1 13 1 23 1-13 1-22 1-4 1-3 1 3 1 12 1 8 1 0 1-4 1-12 1-5 1 7 1 2 1 15 1 19M704 69l1-8 1-10 1 2 1 6 1 7 1-1 1-1 1-6 1-4 1-2 1 3 1 8 1 9 1 3 1-6 1-11 1-12 1-10 1 11 1 16 1 2 1 5 1-3 1-5 1-12 1-1 1 4 1 11 1 6M745 74l1-3 1-6 1-1 1 8 1 8 1 8 1-3 1-8 1-13 1-8 1 5 1 6 1 10 1 7 1 2 1-10 1-7 1-8 1 2 1 7 2 15 1 0 1 10 1-8 1-10 1-6 1 5M869 68l1 4 1-4 1 2 1 0 1 6 1 5 1-2 1-13 1-12 1 9 1 10 1 2 1 0 1-3 1-10 1 2 1 6 1 6 1-1 1-3 1-10 1-8 1 8 1 8 1 5 1-6 1 0M909 74l1 3 1 2 1-7 1-11 1-4 1-4 1 15 1 9 1-2 1-5 1-13 1-12 1 8 1 15 1 14 1 6 1-14 1-17 1-9 2 1 1 21 1 12 1 1 1-10 1-5 1 7" stroke="#17becf"/><path d="M87 21l1 5 1-2 1 2 1-6 1-3 1-3 1 2 1 4 1 5 1 3 1 3 1-2 1-8 1-11 1-2 1 4 1 5 1 8 1 5 1 2 1-1 1-8 1-5 1-5 1-13 1 16 1 7 1-1 1-1M178 23l1 7 1 17 1 3 1-5 1-8 1-3 1 8 1 7 2 6 1-4 1-9 1-10 1-3 1 12 1 11 1 5 1-3 1-12 1-9 1-2 1 12 1 8 1 7 1-5 1-11 1-4 1-7 1 8 1 15 1-4 1 0 1-12 1-8 1-7M453 32l1 9 1 11 1 3 1-6 1-10 1-5 1 1 1 10 1 8 1 5 1 3 1-20 1-5 1-3 1 11 1 6 1 4 1-2 1-3 1-11 1-4 1-2 1 18 1 4 1-1 1-7 1-10 1-5M496 30l1 3 1 3 1 2 1-2 1-9 1-8 1-6 1 0 1 6 1 11 1 3 1 4 1-3 1-1 1-12 1-8 1-7 1 12 1 7 1 9 1 6 1 1 1-2 1-6 1-7 1-3 1 2 1 2 1-2M539 32l1 9 1 12 1 1 1-12 1-7 1-1 1 7 1 15 1 6 1-10 1-11 1-7 1 4 1 11 1 11 1 10 1-24 1-8 1-4 1 11 1 7 1 9 1-7 1-11 1-5 1-7M579 23l1 4 1 14 1 10 1 0 1-16 1-16 1 3 1 9 1 21 1 5 1-10 1-18 1-8 1-4 1 24 1 12 1-2 1-11 1-7 1-4 1 6 1 6 1 8 1-2 1-8 1-7 1-4 1-6M704 30l1-3 1-4 1-7 1-7 1 2 1 3 1 9 1 4 1-1 1-6 1-9 1-11 1 16 1 8 1 5 1-1 1-5 1-15 1 9 1 2 1 7 1 8 1 1 1-13 1-4 1 1 1 3 1 6 1 1M788 22l1 4 1 4 1-5 1 7 1 2 1 6 1-1 1-1 1-4 1-5 1-5 1-8 1 14 1 11 1 4 1 5 1-10 1-10 1-6 1 0 1 2 1 8 1 5 1-8 1-12M827 23l1 1 1 8 1 1 1 2 1-15 1-4 1-7 1-4 1 19 1 4 1 9 1-1 1-12 1-15 1-6 1 0 1 21 1 17 1-1 1-5 1-13 1-3 1-3 1 3 1 5 1 1 1-2M909 24l1 6 1 12 1 5 1-4 1-6 1-12 1-8 1 2 1 19 1 11 1 20 1-6 1-13 1-15 1-6 1-9 1 15 1 7 1 16 2 3 1 1 1-22 1-11 1-6 1 1 1-1" stroke="#9467bd"/><path d="M43 40l1 16 1 18 1 8 1 0 1-9 1-5 1-1 1-15 1 11 1 3 1 12 1 14 1-10 1-2 1-5 1-7 1-6 1-3 1 3 1 4 1 6 1 2 1 1 1-1 1 1 1-11 1-14 1-10M132 40l1-12 1-7 1-2 1 9 1 5 1-2 1-12 1-12 1-1 1 4 1 15 1 5 1-1 1-6 1-10 1-10 1 5 1 11 1 14 1 5 1-8 1-13 1-12 1-2 1 14 1 6 1 5 1 1 1 10M409 42l1 4 1 10 1 7 1 14 1-37 1-6 1 1 1 6 1 14 1 3 1-2 1-9 1-11 1-2 1 8 1 11 1 9 1-4 1-7 1-11 1-8 1 9 1 10 1 10 1-1 1-9 1-9 1-1M496 42l1-9 1-4 1 6 1 7 1 4 1 0 1-6 1-7 1-1 1-3 1 1 1 5 1 8 1 6 1 20 1-22 1-7 1-5 1-2 1 1 1 2 1 3 1 4 1 8 1-7 1 2 1-6 1-2 1 1M539 46l1-4 1 4 1 2 1-1 1-15 1-5 1 7 1 16 1 4 1-2 1-15 1-13 1 5 1 16 1 13 1 8 1-20 1-15 1-4 1 11 1 18 1 24 1-27 1-11 1 0 1 1M869 46l1-16 1-3 1 7 1 6 1-13 1-8 1-10 1-9 1 0 1 9 1 17 1 5 1 2 1 2 1-10 1-7 1-3 1 1 1 1 1 7 1 6 1 2 1 3 1-7 1-5 1 10 1 11" stroke="#7f7f7f"/><path d="M0 36l1-7 1-11 1 4 1 5 1 5 1-3 1-1 1-6 1-14 1 0 1-1 1 8 1 9 1 9 1 2 1 2 1-6 1-7 1-9 1 1 1-2 1 6 1 7 1 5 1 2 1 0 1 4M43 46l1-14 1-10 1-8 1-4 1 1 1 13 1-3 1 3 1-8 1-9 1-7 1 13 1 14 1-2 1-3 1-7 1-5 1 2 1 5 1 10 1-1 1-8 1-5 1 0 1 1 1 7 1 10 1 15M230 43l1 21 1 15 1-2 1-1 1-8 1 0 1 2 1 7 1 5 1 2 1-4 1-5 1-7 1-3 1 1 1 1 1 11 1 0 1 2 1-5 2-4 1-5 1-1 1 2 1 3 1 3 1-13 1-14M276 40l1 2 1 1 1 10 1 8 1 1 1-7 1-14 1-12 1-1 1 7 1 15 1 16 1 18 1-13 1-16 1-16 1-7 1 2 1 7 1 10 1 5 1 6 1-9 1-5 1-40 1 12 1 12 1 11 1 8 1-4 1-11M365 36l1 26 1 17 1-4 1-3 1-2 1 4 1 1 1 6 1 18 1-2 1-5 1-15 1-7 1-6 1 1 1 5 1 4 1 5 1 4 1 0 2-1 1-9 1-5 1-9 1 0 1-8 1-16M409 38l1 19 1 18 1 8 1 2 1-16 1-8 1 4 1 12 1 22 1-15 1-12 1-9 1-1 1 10 1 14 1 4 1-14 1-17 1-2 1 12 1 14 1 5 1-10 1-13 1-8 1 7 1-8 1-18M539 37l1-1 1 5 1 4 1 22 1-10 1-5 1-13 1-8 1 0 1 5 1 14 1 9 1-6 1-7 1-9 1-5 1 6 1 8 1 9 1 3 1-12 1-15 1-1 1 6 1 4 1-1M579 44l1-12 1 3 1-12 1-10 1-13 1 12 1 10 1 8 1 0 1-12 1-10 1-5 1 15 1 11 1 3 1-4 1-16 1-6 1 6 1 15 1 9 1-3 1-10 1-16 1-1 1 15 1 18 1 7M621 29l1 25 1 10 1-1 1 0 1 3 1 12 1-5 1-6 1-11 1-6 1 8 1 12 1 6 1-3 1-8 1-8 1 0 1 1 1 19 1-5 2-6 1-7 1-11 1 8 1 7 1-13 1-17M663 40l1 16 1 17 1 1 1 0 1-7 1-8 1-6 1 0 1 7 1 9 1 12 1 2 1-7 1-10 1-15 1-12 1 2 1 8 1 17 1 21 1 1 1-9 1-9 1-14 1-10 1-6M704 37l1 8 1 15 1 14 1-5 1-18 1-9 1 2 1 7 1 16 1 3 1-6 1-21 1-8 1 3 1 18 1 21 1 2 1-12 1-16 1-11 1 7 1 16 1 17 1-3 1-17 1-10 1 1 1-5 1-8M745 35l1 15 1 4 1-4 1-9 1-7 1 4 1 12 1 11 1 10 1-5 1-14 1-8 1-10 1 2 1 12 1 14 1 8 1-1 1-11 1-14 2-6 1-4 1 7 1 14 1 0 1-9 1-8M827 35l1-2 1 1 1-3 1-6 1-4 1 1 1 3 1 7 1 3 1 4 1-1 1-3 1-10 1-7 1 2 1-8 1 16 1 5 1 5 1 0 1-5 1-3 1-8 1-4 1 5 1 5 1 7M869 40l1-4 1 10 1 12 1-1 1-13 1-12 1-8 1 1 1 11 1 14 1 8 1-5 1-8 1-16 1-8 1 5 1 13 1 14 1 10 1-7 1-12 1-8 1 3 1 1 1 5 1 0 1-7M909 36l1 23 1 21 1-1 1-2 1-9 1-3 1-1 1 4 1 7 1 6 1 8 1 4 1-13 1-9 1-9 1-7 1 7 1 7 1 4 2 3 1 4 1-8 1-5 1-3 1-12 1-16" stroke="#e377c2"/><path d="M0 48l1 4 1 10 1 1 1-4 1-6 1-6 1-11 1 12 1 20 1 2 1-2 1-1 1-11 1-4 1-2 1 3 1 7 1 8 1 1 1 4 1-7 1-9 1-3 1 2 1 3 1-2 1-9M230 71l1-1 1-1 1-4 1 1 1 2 1 18 1 3 1 3 1-6 1-8 1-16 1-24 1 8 1 7 1 17 1 19 1 8 1-5 1-10 1-11 2-14 1-5 1 3 1 6 1 14 1 8 1-6 1-9M276 64l1 10 1 9 1 3 1 1 1-3 1-8 1-6 1-7 1 3 1 4 1 8 1 12 1 4 1 5 1-14 1-7 1-14 1-9 1 3 1 7 1 12 1 7 1 3 1 8 1-5 1-14 1-6 1-2 1 0 1 2 1-3M323 64l1 7 1 4 1-5 1-7 1-3 1 5 1 15 1 9 1 1 1-7 1-15 1-4 1-7 1 6 1 11 1 11 1 5 1-13 1-8 1-7 1 3 1-3 1 8 1 6 1 0 1-4 1-10M365 50l1 10 1 3 1-1 1 4 1 11 1 13 1 1 1-16 1-32 1-2 1 10 1 20 1 10 1 0 1-8 1-15 1-9 1 5 1 9 1 9 2 3 1-4 1-13 1-11 1 4 1 6 1-7M539 53l1 7 1-4 1-22 1 18 1 15 1 11 1 13 1-2 1-8 1-8 1-10 1-10 1 4 1 4 1 13 1 15 1-2 1-1 1-8 1-4 1-10 1-16 1 11 1 10 1-3 1-16M579 54l1-8 1-8 1-5 1 0 1 3 1 10 1 1 1 0 1-8 1-8 1-1 1 5 1 5 1 14 1 6 1-19 1-11 1-4 1 0 1 11 1 9 1 1 1-2 1-10 1-5 1 0 1 13 1 9M745 69l1-4 1-1 1 9 1-3 1-11 1-7 1 2 1 8 1 7 1-3 1-6 1-7 1 0 1 11 1 10 1-4 1-13 1-13 1 7 1 8 2 19 1-13 1-12 1-8 1 4 1 17 1-2M788 48l1 8 1 12 1 7 1 1 1-9 1-5 1-2 1 6 1 13 1 11 1 0 1-27 1-14 1 0 1 13 1 16 1 5 1-8 1-11 1-7 1 2 1 11 1 7 1-10 1-18M909 63l1-15 1-4 1-4 1-12 1-7 1 13 1 11 1 7 1-7 1-8 1-12 1 3 1 20 1 13 1-5 1-20 1-10 1 7 1 11 2 14 1 1 1-14 1-7 1 0 1 12 1 14" stroke="#ff7f0e"/><path d="M43 28l1 6 1 7 1 6 1 8 1 4 1-3 1-8 1-14 1-2 1 1 1 2 1 18 1 3 1 2 1-4 1-9 1-12 1-3 1 1 1 11 1 9 1 11 1 2 1-4 1-16 1-4 1-10 1-3M87 26l1 10 1 17 1 1 1-10 1-7 1-8 1 2 1 5 1 13 1 10 1 5 1-7 1-18 1-11 1 2 1 4 1 9 1 8 1 0 1 0 1-3 1-15 1-7 1-11 1 12 1 20 1 0 1-9 1-11M132 28l1 17 1 11 1 10 1 15 1 7 1-6 1-16 1-18 1-8 1 13 1 21 1 10 1-1 1-14 1-12 1-10 1 6 1 10 1 15 1 6 1-8 1-14 1-15 1-1 1 9 1 13 1 4 1-18 1-25M276 29l1 1 1 8 1 3 1-2 1-4 1-18 1-1 1 6 1 17 1 4 1 3 1-12 1-16 1 0 1 6 1 11 1 13 1-7 1-10 1-7 1-5 1 1 1 16 1 20 1 7 1-28 1-12 1-5 1 5 1 6 1-3M323 13l1 20 1 9 1-5 1-6 1-5 1 19 1 8 1 9 1 3 1-8 1-13 1-11 1-22 1 15 1 14 1 10 1 7 1 1 1-7 1-10 1-8 1-5 1 3 1 9 1 4 1-12 1-21M409 19l1 8 1 14 1 11 1 17 1-10 1-20 1-11 1-14 1 2 1 10 1 11 1 15 1-2 1-3 1-3 1-14 1-10 1-5 1 6 1 11 1 11 1 2 1 4 1-8 1-5 1-6 1-8 1-2M453 12l1 30 1 25 1 7 1 5 1 5 1-4 1-6 1-7 1-1 1 3 1 10 1 4 1 0 1-4 1-8 1-4 1 3 1 1 1 5 1 6 1-4 1 2 1-16 1 1 1-1 1 1 1-20 1-34M496 29l1-2 1-10 1-11 1 2 1 16 1 16 1 3 1-7 1-19 1-15 1-1 1 16 1 20 1 9 1 13 1-33 1-22 1-1 1 10 1 15 1 9 1 1 1-8 1-23 1-7 1 14 1 9 1 7 1-4M621 11l1 12 1 7 1 7 1 0 1 2 1 1 1-10 1-2 1-1 1 1 1 6 1 9 1 5 1-3 1-6 1-5 1-4 1-3 1 4 1 9 2 1 1 2 1-2 1-3 1-3 1-12 1-7M663 25l1 20 1 20 1 4 1 2 1-4 1-7 1-5 1 0 1 7 1 6 1 10 1-8 1-10 1-10 1-1 1 7 1 10 1 5 1-1 1-6 1-13 1 3 1 2 1 4 1-13 1-22M704 16l1 5 1 0 1 5 1 5 1-5 1-10 1 0 1-4 1 4 1 5 1 3 1 10 1-6 1-6 1-6 1-1 1 0 1 4 1 8 1 6 1 0 1-4 1-7 1-3 1 0 1 4 1 1 1-4 1-3" stroke="#2ca02c"/><path d="M87 37l1-9 1-3 1 3 1 11 1 5 1-12 1-10 1-10 1-5 1 10 1 16 1 14 1 16 1-18 1-20 1-14 1-4 1 8 1 13 1 8 1 5 1-9 1-10 1-9 1-13 1 20 1 8 1 4 1 5M178 32l1 4 1 5 1 6 1 4 1 6 1-4 1-9 1-6 2-8 1-2 1 8 1 11 1 11 1 7 1-8 1-9 1-10 1-5 1 1 1 4 1 7 1 7 1 2 1 6 1-10 1-9 1-13 1-17 1 11 1 19 1 8 1 0 1-5 1-11M453 43l1 8 1 6 1 8 1-3 1-5 1-9 1-11 1 6 1 11 1 8 1 4 1-3 1-11 1-10 1-3 1 2 1 16 1 8 1 1 1-12 1-10 1-30 1 15 1 19 1 11 1 2 1-12 1-3M788 35l1 19 1 9 1-6 1-8 1-2 1 9 1 9 1 4 1-5 1-20 1-22 1 11 1 31 1 11 1-3 1-20 1-19 1 2 1 14 1 10 1 4 1-7 1-9 1-9 1-1" stroke="#e377c2"/><path d="M0 24l1 3 1 3 1 8 1 5 1 1 1-1 1-10 1-16 1 14 1 5 1 10 1 4 1-6 1-11 1-3 1-1 1 8 1 9 1 7 1-6 1-12 1-6 1 3 1 4 1 7 1-7 1-11M178 11l1 29 1 19 1 9 1-2 1-15 1-7 1-1 1 14 2 10 1 6 1 4 1-2 1-8 1-8 1-8 1 1 1 2 1 7 1 6 1 6 1-1 1 2 1-14 1-5 1-3 1 4 1 2 1 6 1 8 1-2 1-1 1-18 1-17 1-23M230 27l1 10 1 7 1 3 1 4 1 6 1 7 1-6 1-9 1-8 1-4 1 1 1 6 1 14 1 2 1-1 1-3 1-12 1-4 1-3 1 5 2 5 1 9 1-2 1 0 1-10 1-3 1-6 1-6M365 11l1 20 1 20 1 5 1 16 1 5 1-2 1-11 1-14 1-15 1 9 1 9 1 9 1 9 1-1 1-6 1-10 1-5 1-1 1 2 1 13 2 13 1 10 1-21 1-13 1-4 1-14 1-20M539 11l1 32 1 27 1-7 1-33 1 15 1 10 1 15 1 12 1-11 1-17 1-13 1 1 1 18 1 15 1 8 1-16 1-19 1-8 1 11 1 12 1 7 1 7 1-21 1-8 1-16 1-22M579 25l1 16 1 8 1 6 1 5 1 26 1-13 1-2 1-9 1-9 1-5 1 8 1 10 1 3 1 11 1-4 1-11 1-5 1-1 1 6 1 5 1 9 1 1 1-7 1-9 1-4 1-1 1-17 1-14M745 31l1-1 1-2 1-10 1-6 1 10 1 10 1 6 1-5 1-13 1-13 1 8 1 21 1 14 1-7 1-14 1-17 1 1 1 13 1 16 1 5 2-11 1-21 1 0 1 7 1 12 1-1 1-6M788 29l1 17 1 19 1-2 1-1 1-8 1 0 1 2 1 10 1 9 1-2 1-3 1-14 1 2 1-3 1 9 1 11 1-1 1-5 1-10 1-8 1 0 1 8 1 5 1-14 1-23M827 13l1 8 1 5 1 6 1 10 1 4 1-6 1 0 1-12 1-1 1-4 1 6 1 1 1 12 1 6 1-5 1 2 1-11 1-9 1-5 1 0 1 6 1 8 1 5 1 2 1-5 1-9 1-13M869 19l1 15 1 18 1 13 1 5 1-3 1-8 1-11 1-14 1 4 1 23 1 10 1 1 1-6 1-13 1-4 1-6 1 7 1 14 1 1 1-2 1-2 1-11 1-8 1 4 1 9 1-13 1-26M909 29l1 4 1 4 1-4 1-7 1-8 1-3 1 9 1 7 1 13 1 3 1-8 1-20 1 2 1 0 1 4 1 9 1 11 1-3 1-7 2-8 1-10 1 1 1 9 1 6 1-2 1-4" stroke="#2ca02c"/><path d="M0 58l1 4 1 2 1-3 1-1 1 4 1 9 1 14 1 0 1-8 1-15 1-10 1-4 1 9 1 13 1 11 1 3 1-7 1-10 1-3 1-3 1 2 1 5 1 7 1 1 1-5 1-9 1-10M132 68l1-23 1-21 1-7 1 10 1 8 1 6 1-8 1-16 1-6 1-11 1 23 1 10 1 9 1-9 1-3 1-17 1-1 1 7 1 15 1 3 1 0 1-7 1-8 1-6 1 5 1 11 1 8 1 9 1 20M276 68l1 6 1-6 1-12 1-3 1 9 1 16 1 7 1-17 1-13 1-5 1 9 1 25 1 8 1-13 1-25 1-6 1 11 1 15 1 0 1-4 1-15 1-9 1 10 1 14 1 9 1-9 1-10 1-8 1 8 1 8 1 0M365 55l1-11 1-10 1 3 1 6 1 7 1-4 1-1 1-7 1-5 1-4 1 5 1 7 1 5 1 1 1 0 1-7 1-7 1-4 1 0 1 2 2 11 1 10 1-5 1-5 1 0 1 2 1 12M453 53l1 1 1 3 1 1 1-5 1-4 1-9 1 1 1 0 1 8 1 10 1 34 1-30 1-14 1-5 1-3 1-8 1 5 1 7 1 11 1 3 1-1 1-3 1-13 1-5 1 0 1 7 1 5 1 4M539 52l1 4 1 0 1 11 1-11 1-8 1-5 1 4 1 3 1 7 1 0 1 2 1-3 1 1 1-7 1 0 1-2 1 5 1 5 1 0 1 4 1-5 1-5 1-1 1 4 1-4 1-1M579 68l1 0 1 3 1 4 1 8 1 3 1-11 1-12 1-6 1 11 1 9 1 6 1-3 1-12 1-9 1-23 1 31 1 16 1 4 1-8 1-6 1-8 1 1 1 10 1 5 1 1 1-6 1-9 1-2M621 58l1-4 1 8 1 8 1-1 1-1 1-19 1-3 1 5 1 13 1 17 1-5 1-13 1-11 1-4 1 5 1 14 1 10 1 1 1-24 1-13 2 6 1 10 1 20 1-12 1-8 1-3 1 1M704 67l1 5 1 9 1 2 1-10 1-9 1 1 1-1 1 4 1 11 1 12 1 2 1-7 1-18 1-8 1-3 1 9 1 8 1 9 1 0 1-7 1-3 1-11 1-2 1 3 1 10 1 7 1 2 1-7 1-8M745 69l1-30 1-19 1 4 1 7 1-1 1-3 1-13 1-11 1-3 1 9 1 12 1 16 1 8 1-7 1-10 1-13 1-7 1 2 1 7 1 9 2 12 1-2 1 1 1-16 1-3 1 20 1 30M909 66l1-16 1-8 1-6 1-14 1-7 1 3 1 13 1 12 1-4 1-12 1-11 1-6 1 16 1 19 1 5 1-11 1-14 1-4 1 4 2 13 1 4 1-2 1-12 1-3 1 18 1 24" stroke="#d62728"/><path d="M0 20l1 4 1-4 1-6 1 2 1 11 1 9 1 8 1-16 1-16 1 2 1 9 1 12 1 0 1-6 1-6 1-6 1 4 1 10 1 8 1-4 1-9 1-4 1-1 1 5 1 7 1-10 1-2M43 32l1 13 1 5 1 1 1-3 1-7 1 6 1 7 1 4 1 6 1-2 1-6 1-19 1 3 1 2 1 1 1 11 1 3 1-2 1 0 1 0 1-11 1 0 1 4 1-3 1 8 1-4 1-8 1-10M132 23l1 17 1 19 1-1 1-13 1-2 1 5 1 15 1 14 1-14 1-14 1-7 1 12 1 7 1 3 1-5 1-10 1-6 1 3 1 15 1 6 1-2 1-19 1-3 1 5 1 10 1 8 1-9 1-23 1-13M230 33l1 9 1 10 1-1 1-8 1-6 1-3 1 3 1 8 1 4 1 7 1-2 1-2 1-8 1-1 1-5 1-3 1 10 1 9 1 6 1-1 2-6 1-7 1-8 1-2 1-2 1 7 1-1 1-9M276 21l1 19 1 15 1 7 1-6 1-8 1-6 1-6 1 3 1 7 1 8 1 14 1 9 1 2 1-5 1-21 1-16 1-9 1 1 1 6 1 16 1 18 1 6 1 3 1-6 1-13 1-18 1-3 1 1 1 5 1-4 1-20M323 34l1 8 1 5 1 2 1 6 1 18 1-3 1-11 1-14 1-8 1 1 1 9 1 15 1 5 1 4 1-15 1-15 1-11 1 5 1 15 1 11 1 6 1-6 1-6 1-10 1-1 1-3 1-12M365 32l1 11 1 18 1 2 1 0 1-1 1-7 1-7 1 0 1 3 1 8 1 3 1 4 1-1 1-5 1-4 1-6 1 1 1 1 1 2 1 6 2 7 1-2 1-5 1-7 1-1 1-6 1-15M409 32l1 28 1 21 1-2 1-13 1-3 1 4 1 8 1 10 1 14 1-9 1-5 1-15 1-6 1 0 1 2 1 9 1 10 1 6 1-4 1-10 1-8 1-13 1 2 1 6 1 9 1 3 1-18 1-24M621 32l1 11 1 2 1-2 1-6 1-1 1 2 1 10 1 4 1 0 1-6 1-7 1-9 1 4 1 9 1 12 1 9 1-6 1-7 1-13 1 4 2 2 1 1 1 8 1 1 1-2 1-8 1-11M663 28l1 13 1 18 1 7 1-10 1-9 1-13 1 10 1 13 1 6 1-2 1-16 1-20 1 13 1 13 1 18 1 1 1-21 1-12 1 1 1 5 1 15 1-2 1-6 1-12 1-4 1-5M745 36l1 2 1 19 1 11 1-10 1-10 1-7 1 0 1 14 1 11 1-4 1-17 1-19 1 2 1 19 1 15 1-3 1-13 1-13 1-5 1 10 2 25 1 9 1-17 1-18 1-4 1 0 1 1M869 23l1 18 1 0 1-5 1 6 1 12 1 5 1-1 1-20 1-17 1 14 1 21 1 4 1-3 1-14 1-5 1 7 1 19 1 7 1-11 1-19 1-5 1 10 1 15 1 2 1-7 1-21 1-14" stroke="#9467bd"/><path d="M87 64l1-9 1-8 1 2 1 1 1-1 1-8 1-8 1 3 1 3 1 9 1 5 1-1 1-7 1-10 1-11 1 6 1 10 1 9 1 3 1-5 1-7 1-5 1 0 1 4 1 7 1-5 1 2 1 8 1 16M132 68l1-3 1-9 1-4 1 4 1 10 1 9 1 0 1-2 1-20 1-5 1 6 1 14 1 10 1 0 1-7 1-10 1-5 1 5 1 10 1 10 1-2 1-8 1-12 1-6 1 8 1 10 1 6 1-6 1-6M178 52l1-8 1-8 1-6 1-9 1 3 1 6 1 3 1 5 2 2 1-3 1-4 1-12 1-5 1 5 1 7 1 10 1 4 1 4 1-8 1-8 1-13 1-4 1 6 1 6 1 10 1 7 1-2 1 2 1-13 1-1 1 0 1 6 1 8 1 10M409 69l1-10 1-11 1-9 1-30 1 13 1 19 1 12 1 2 1 15 1-20 1-13 1-5 1 3 1 5 1 7 1 5 1 4 1-4 1-9 1-5 1-2 1-1 1 7 1 6 1 3 1-1 1 9 1 12M453 70l1-7 1-1 1 9 1-4 1-8 1-11 1-4 1 7 1 14 1 10 1 0 1-17 1-8 1-2 1 6 1 11 1 9 1-2 1-12 1-16 1-2 1 10 1 18 1 4 1-7 1-4 1 2 1 7M496 70l1-9 1-1 1 4 1 2 1 0 1-1 1-6 1-7 1-3 1 7 1 2 1 7 1 4 1 1 1-2 1-15 1-3 1 3 1 1 1 1 1 12 1-1 1-2 1-6 1-7 1 3 1-1 1 12 1 4M621 71l1-21 1-15 1 3 1-1 1-5 1-8 1-1 1 0 1 6 1-2 1 12 1 2 1-1 1-6 1-8 1-5 1-1 1-6 1 15 1 6 2 6 1-2 1 1 1-10 1-2 1 18 1 26M663 54l1-5 1 3 1 3 1 1 1 2 1-5 1-5 1-6 1 1 1-1 1 7 1 13 1-1 1 3 1-2 1-12 1-5 1-3 1 0 1 5 1 9 1 5 1 2 1-1 1-8 1-6M704 46l1-5 1-4 1 9 1 5 1-1 1-6 1-10 1-5 1-5 1 2 1 5 1 9 1 3 1 5 1-2 1-7 1-11 1-10 1 1 1 6 1 9 1 5 1 1 1 6 1-12 1 2 1-6 1 9 1 12M827 73l1-7 1-3 1 8 1-2 1-3 1-7 1-10 1-2 1 10 1 15 1 14 1-8 1-19 1-13 1-11 1 14 1 13 1 10 1-1 1-8 1-10 1-2 1-1 1 6 1 9 1 2 1 6" stroke="#ff7f0e"/><path d="M43 53l1-3 1-4 1 9 1 5 1 3 1-2 1-1 1-14 1 0 1-6 1 0 1 9 1 13 1 9 1 1 1-8 1-12 1-8 1-6 1 4 1 5 1 7 1 11 1-1 1-5 1-4 1-6 1 7M87 68l1 3 1 10 1-4 1-14 1-8 1 3 1 16 1 9 1-3 1-17 1-13 1 2 1 19 1 28 1-9 1-17 1-23 1 1 1 19 1 17 1 5 1-19 1-19 1-9 1 17 1 15 1-2 1-6 1-1M230 59l1-6 1-4 1 1 1 4 1 2 1-2 1-10 1-5 1-4 1 0 1 5 1 20 1 16 1-11 1-6 1-4 1-13 1-4 1 0 1 3 2 6 1 8 1 0 1 2 1-3 1-3 1 0 1 12M323 60l1-2 1 7 1 14 1 6 1-10 1-32 1 6 1 9 1 17 1 7 1-4 1-18 1-17 1 12 1 17 1 17 1-5 1-17 1-13 1 1 1 13 1 10 1 2 1-10 1-13 1 2 1 1M409 58l1 1 1 2 1-2 1-6 1-21 1 3 1 4 1 7 1 22 1 3 1-1 1-8 1-17 1-11 1-1 1 10 1 13 1 6 1-1 1-1 1-9 1-13 1-1 1 4 1 9 1 3 1 5 1-1M496 77l1-11 1 0 1 7 1 1 1 1 1-15 1 0 1 1 1 8 1 6 1-4 1-9 1-9 1 1 1 11 1 17 1-4 1-16 1-9 1 0 1 5 1 11 1 5 1 3 1-25 1 0 1 5 1 10 1 8M539 75l1-22 1-21 1-7 1 1 1 5 1 4 1 4 1-1 1-6 1-3 1-4 1-1 1 2 1 8 1 12 1-11 1-3 1-5 1-6 1 2 1 0 1 7 1 7 1-3 1 16 1 28M788 60l1-4 1 2 1 4 1 0 1-3 1-13 1 1 1 8 1 7 1 4 1-2 1-13 1-6 1 0 1 10 1 28 1-4 1-14 1-13 1-9 1 4 1 12 1 9 1-3 1-9M827 69l1 6 1-2 1-9 1 2 1 7 1 11 1 5 1-17 1-13 1 0 1 15 1 16 1 9 1-30 1-10 1 2 1 11 1 15 1-4 1-15 1-12 1 0 1 17 1 10 1-2 1-14 1 1" stroke="#17becf"/><path d="M43 17l1 3 1 9 1 13 1 9 1-3 1-19 1-7 1-4 1 6 1 11 1 14 1-1 1-12 1-11 1-9 1 0 1 12 1 14 1 5 1-2 1-11 1-9 1 2 1 1 1 5 1 7 1-6 1-20M276 12l1 3 1 0 1-3 1 6 1 6 1 4 1-4 1-13 1-5 1 2 1 17 1 11 1 2 1-12 1-13 1-2 1 6 1 10 1 8 1-2 1-15 1-13 1 3 1 8 1 30 1-2 1-15 1-11 1-4 1-2 1 0M323 16l1 10 1 7 1-6 1-11 1-11 1-4 1 29 1 4 1 6 1-8 1-6 1-10 1-12 1 22 1 12 1 8 1-3 1-10 1-11 1-3 1 4 1 7 1 11 1 0 1-5 1-12 1-7M496 10l1 32 1 18 1 8 1-4 1-10 1-5 1 5 1 10 1 5 1 5 1-1 1-3 1-8 1-10 1-24 1 25 1 14 1 9 1 6 1-5 1-4 1-4 1-2 1-9 1 6 1 6 1-1 1-23 1-35M579 15l1 7 1-4 1 1 1 0 1 13 1 3 1 2 1-9 1-4 1-2 1-4 1 8 1 9 1 6 1 1 1-23 1-8 1 4 1 6 1 11 1 4 1-5 1-7 1-12 1 1 1 4 1 0 1-6M663 18l1 23 1 12 1 0 1 2 1 8 1 4 1-1 1 1 1-4 1-5 1-16 1-4 1 9 1 10 1 9 1 4 1 1 1-4 1-10 1-12 1 2 1 7 1 5 1 3 1-16 1-27M704 9l1 34 1 25 1 6 1-7 1-9 1-7 1 3 1 6 1 14 1 6 1 4 1 3 1-17 1-11 1-7 1 1 1 3 1 16 1 7 1 1 1-4 1-9 1-6 1-2 1-1 1 4 1-4 1-15 1-32M869 18l1 19 1 6 1-3 1 15 1 12 1 4 1 1 1-16 1-8 1-4 1 5 1 10 1 14 1 2 1-8 1-14 1-15 1 2 1 11 1 16 1 7 1-1 1-11 1-6 1-8 1-9 1-22M909 12l1 24 1 9 1-2 1-4 1 1 1 3 1 3 1 8 1 7 1-1 1-3 1-16 1-7 1 0 1 1 1 5 1 11 1-2 1 5 2-3 1-4 1-8 1-2 1-5 1-6 1-17" stroke="#bcbd22"/><path d="M0 64l1 5 1-2 1-6 1 0 1 4 1 11 1 14 1-7 1-5 1-16 1-13 1-3 1 10 1 14 1 7 1 1 1-3 1-9 1-17 1-7 1 6 1 14 1 12 1 2 1-2 1-6 1-5M43 63l1 10 1 8 1-1 1-6 1-6 1 0 1-2 1 8 1 5 1 9 1 10 1-2 1-18 1-8 1-8 1-5 1 5 1 12 1 6 1 10 1 3 1-6 1-9 1-13 1-4 1-2 1 6 1 0M87 63l1-16 1-8 1-4 1 4 1 5 1 2 1-6 1-6 1-3 1 0 1 6 1 12 1 20 1-12 1-25 1-5 1-3 1 7 1 12 1 6 1 0 1-7 1-9 1-3 1-12 1 19 1 9 1 7 1 11M132 55l1 1 1-1 1 7 1 12 1 11 1-2 1-7 1-18 1-22 1 10 1 10 1 17 1 11 1 4 1-8 1-13 1-13 1-5 1 2 1 15 1 7 1 7 1 0 1-9 1-5 1-6 1 1 1 0 1-4M178 75l1-7 1 0 1-2 1-6 1-9 1-12 1 9 1 13 2 5 1-1 1-6 1-11 1 0 1 8 1 7 1 4 1-4 1-14 1-9 1 10 1 15 1 9 1 3 1-19 1-11 1 0 1 13 1 31 1-10 1-17 1-11 1-1 1 12 1 11M276 58l1-12 1-11 1 3 1 9 1 2 1-2 1-1 1-15 1-13 1 8 1 16 1 13 1 17 1-9 1-22 1-20 1-6 1 14 1 19 1 6 1 3 1-9 1-14 1-13 1-12 1 26 1 16 1 8 1-3 1-4 1 9M365 61l1-18 1-16 1 5 1 2 1-2 1-6 1-9 1-3 1 1 1 16 1 5 1 0 1-6 1-14 1-7 1 4 1 16 1 4 1 5 1-7 2-13 1-18 1 12 1 8 1 7 1 20 1 13M453 70l1-26 1-19 1 0 1 9 1 6 1 0 1-13 1-12 1-3 1 6 1 21 1 7 1-3 1-8 1-13 1-9 1 4 1 10 1 14 1 4 1-4 1-15 1-15 1 10 1 6 1 13 1 14 1 15M539 78l1-10 1 6 1 20 1-5 1-8 1-9 1-10 1-4 1 8 1 14 1 3 1 4 1-8 1-14 1-14 1-8 1 25 1 14 1 11 1-2 1-9 1-9 1-7 1 8 1 4 1-3M579 67l1 4 1 6 1-2 1-3 1-13 1-2 1 6 1 12 1 6 1 4 1-8 1-16 1-7 1-3 1 11 1 18 1 8 1-4 1-14 1-15 1-3 1 4 1 11 1 6 1 2 1-4 1-4 1 2M621 63l1-15 1-12 1-8 1-10 1-5 1 4 1 7 1 8 1 1 1-4 1-10 1-14 1-5 1 10 1 14 1 3 1 5 1-2 1-16 1-5 2-2 1 9 1 9 1 7 1-3 1 10 1 26M663 73l1-12 1-7 1 3 1 3 1-4 1-7 1-7 1 1 1-1 1 4 1 16 1 1 1-4 1-5 1-9 1-6 1-6 1 2 1 5 1 25 1 9 1-17 1-6 1-2 1 8 1 18M704 58l1-6 1-4 1-15 1-17 1 1 1 11 1 9 1 7 1-1 1-9 1-19 1-5 1 5 1 16 1 17 1 4 1-11 1-16 1-8 1 3 1 10 1 7 1 6 1-7 1-5 1-7 1 1 1 21 1 15M745 65l1-3 1-5 1-5 1-2 1 2 1 9 1 9 1 1 1-3 1-3 1-6 1-8 1-5 1 3 1 8 1 5 1 14 1 1 1-6 1-14 2-23 1 9 1-15 1 19 1 11 1 6 1 0M788 65l1-20 1-12 1 9 1 3 1 4 1-3 1-8 1-14 1-7 1 7 1 16 1 24 1 2 1-8 1-14 1-30 1 2 1 2 1 14 1 13 1 6 1-1 1-10 1 7 1 13M869 78l1-14 1-2 1-6 1-11 1-6 1-2 1 7 1 15 1 11 1-18 1-10 1-8 1 4 1 11 1 6 1-2 1-13 1-18 1-1 1 13 1 20 1 5 1-8 1-16 1-5 1 20 1 26M909 69l1-4 1 4 1-9 1-12 1-6 1 11 1 8 1 7 1-3 1-8 1-12 1-7 1 17 1 14 1 9 1 0 1-28 1-16 1 7 2 16 1 13 1-3 1-3 1-11 1 3 1 13" stroke="#17becf"/><path d="M0 25l1 7 1 17 1 12 1-4 1-17 1-7 1-2 1 11 1 11 1 3 1-9 1-13 1-6 1 4 1 15 1 7 1-5 1-5 1-9 1-3 1 7 1 11 1 8 1-5 1-13 1-11 1-4M87 10l1 16 1 6 1 6 1 6 1 12 1 6 1-13 1-10 1-10 1 3 1 12 1 18 1 7 1-12 1-25 1-9 1 4 1 18 1 19 1 2 1-14 1-13 1-10 1-6 1 23 1 8 1-2 1-20 1-21M132 18l1-7 1-4 1-3 1 13 1 12 1 10 1-10 1-19 1-10 1 0 1 4 1 19 1 8 1-3 1-11 1-17 1 0 1 7 1 20 1 5 1 0 1-10 1-10 1-7 1 7 1 12 1 2 1-2 1-9M178 12l1 9 1 6 1 0 1 3 1 2 1 10 1 4 1-3 2-7 1-8 1 3 1 2 1 7 1 4 1-1 1-4 1-10 1-4 1 7 1 7 1 6 1 1 1-4 1-14 1 1 1 2 1 6 1 22 1-12 1-2 1-7 1-8 1-9 1-8M230 11l1 9 1 11 1 8 1 4 1 0 1-13 1 1 1-1 1 7 1 4 1 0 1 1 1-15 1 4 1 0 1 10 1 2 1-3 1-6 1-4 2 2 1 4 1 8 1 1 1-8 1-6 1-13 1-4M365 16l1 9 1 8 1 0 1-4 1-3 1-4 1 1 1 4 1 12 1 0 1-3 1-5 1-9 1-5 1 2 1 2 1 7 1 4 1 0 1-5 2-4 1-11 1 2 1 6 1 6 1-1 1-8M409 23l1 20 1 16 1 9 1 14 1 9 1-11 1-14 1-15 1-11 1 9 1 6 1 13 1 9 1 1 1-1 1-7 1-15 1-4 1-4 1 11 1 11 1 8 1-4 1-1 1-7 1-10 1-19 1-12M453 20l1 2 1 6 1-1 1-2 1-3 1-7 1 2 1 4 1 8 1 9 1 22 1-23 1-9 1-6 1-4 1-1 1 1 1 6 1 5 1 5 1-3 1 0 1-13 1-5 1-2 1 7 1 0 1-3M496 24l1 22 1 19 1 9 1 4 1 0 1-5 1-5 1-11 1 2 1 8 1 6 1 2 1 4 1-5 1-16 1-4 1-2 1 12 1 8 1 6 1-1 1-4 1-6 1-12 1 1 1 10 1 2 1-19 1-25M539 12l1 5 1 0 1 4 1 23 1-3 1-3 1-5 1-10 1-5 1-5 1 5 1 10 1 3 1 4 1 0 1-3 1-9 1 2 1-5 1 2 1 6 1 22 1-12 1-3 1-12 1-10M621 12l1 15 1 6 1-5 1-7 1-4 1 15 1 12 1 7 1-16 1-22 1-6 1 11 1 16 1 9 1-2 1-15 1-7 1-4 1 14 1 9 2-1 1-5 1-20 1 1 1 6 1 1 1-7M704 26l1 15 1 20 1 15 1-2 1-9 1-6 1-5 1 6 1 16 1 7 1-7 1-20 1-4 1 0 1 15 1 3 1 0 1-4 1-16 1 1 1 7 1 10 1 5 1-5 1-5 1-6 1-3 1-12 1-19M745 12l1 29 1 15 1-2 1-7 1-2 1 3 1 4 1 10 1 7 1 3 1-5 1-7 1-10 1-7 1-1 1 4 1 6 1 9 1 1 1 2 2 0 1-10 1-11 1-22 1 19 1-9 1-19M788 19l1 5 1 5 1 3 1 1 1-10 1-8 1 1 1 6 1 15 1 5 1 2 1-20 1-6 1 0 1 5 1 13 1 5 1-9 1-3 1-6 1-6 1 4 1 8 1-1 1-11M827 16l1 27 1 19 1 10 1 3 1 10 1 1 1-3 1-17 1-6 1-4 1 7 1 11 1 19 1-1 1 1 1-9 1-17 1-6 1 2 1 7 1 10 1 8 1 1 1-5 1-14 1-24 1-33" stroke="#bcbd22"/><path d="M0 52l1 3 1 3 1 9 1 9 1 4 1-9 1-29 1 1 1 9 1 25 1 4 1-10 1-12 1-3 1 2 1 11 1 6 1-8 1-15 1-7 1 8 1 18 1 4 1-7 1-9 1-6 1-1M43 72l1-19 1-16 1-7 1-1 1 3 1 9 1 17 1 18 1-25 1-9 1-23 1-8 1 7 1 15 1 11 1 10 1 3 1-4 1-12 1-5 1-4 1-1 1 9 1 3 1 9 1 2 1 5 1 12M87 69l1-27 1-15 1 1 1 1 1-1 1-5 1-15 1-8 1 0 1 7 1 13 1 10 1 12 1-6 1-8 1-12 1-14 1-2 1 0 1 11 1 13 1 2 1 3 1 0 1-10 1-7 1 5 1 21 1 27M178 54l1 0 1-5 1-11 1-6 1 5 1 6 1 16 1 0 2-14 1-17 1-12 1 9 1 20 1 15 1-2 1-11 1-25 1-7 1 9 1 22 1 16 1 1 1-18 1-22 1-3 1 12 1 15 1 34 1-17 1-26 1-5 1 4 1 8 1 11M230 67l1-15 1-12 1 0 1 9 1 8 1-2 1-14 1-16 1-1 1 10 1 19 1 15 1-5 1-21 1-16 1-7 1 19 1 15 1 3 1-3 2-9 1-12 1 1 1 7 1 11 1 4 1 3 1 10M276 52l1 14 1 3 1 5 1-6 1-1 1 3 1 4 1 2 1 1 1 1 1-1 1-9 1-14 1-11 1 14 1 9 1 10 1 5 1 0 1-1 1-8 1-10 1-3 1-2 1 4 1 13 1 1 1-2 1-5 1-9 1-8M323 66l1-20 1-21 1-4 1 2 1 21 1 19 1-22 1-18 1-12 1 2 1 17 1 10 1 5 1-15 1-21 1-9 1 22 1 17 1 4 1-6 1-14 1-9 1 5 1 14 1 11 1 9 1 18M365 71l1-14 1-10 1 10 1 6 1-4 1-14 1-8 1-4 1 9 1 20 1 10 1-6 1-16 1-14 1-1 1 6 1 11 1 8 1 2 1-10 2-8 1-4 1 3 1 10 1 12 1 1 1 6M409 68l1-25 1-15 1-5 1-4 1-16 1 7 1 5 1 13 1 24 1-25 1-9 1-5 1-1 1 7 1 4 1 3 1-1 1-6 1-6 1 2 1 4 1 9 1-2 1-3 1-5 1 4 1 21 1 25M496 51l1 4 1 12 1 2 1-5 1-11 1-8 1-6 1 2 1 9 1 10 1 6 1 4 1-4 1-6 1-10 1-9 1-1 1 9 1 4 1 9 1 8 1 1 1-3 1-9 1-11 1 0 1 1 1 3 1 3M539 66l1-5 1-4 1-15 1-29 1 21 1 10 1 7 1-2 1-4 1-12 1-4 1 12 1 12 1 2 1-9 1-24 1 7 1 8 1 6 1 7 1-7 1-20 1 4 1 7 1 17 1 16M579 52l1-9 1-7 1-3 1-10 1-6 1 0 1 2 1 5 1 8 1 2 1 0 1-2 1-6 1-12 1-3 1 8 1 10 1 11 1 5 1-7 1-6 1-6 1-7 1 2 1 4 1 7 1 12 1 11M663 54l1-11 1 0 1-2 1-7 1-8 1 1 1 4 1 10 1 3 1-9 1-8 1-14 1 16 1 6 1 6 1-1 1-10 1-10 1 0 1 13 1 20 1-15 1-4 1-9 1 12 1 18M788 51l1-1 1 3 1 4 1-8 1-13 1-7 1-3 1 10 1 11 1 13 1-2 1-12 1-17 1-10 1 4 1 15 1 10 1 5 1-3 1-8 1-14 1-6 1 5 1 15 1 10M827 74l1-13 1-3 1 1 1-8 1-4 1-8 1-8 1 3 1 11 1 12 1 4 1 4 1 0 1-20 1-19 1-1 1 2 1 8 1 12 1 6 1-1 1 1 1-4 1-8 1-2 1 13 1 19M869 54l1 8 1 1 1-11 1-8 1 8 1 7 1 5 1 5 1 8 1-6 1-7 1-4 1-6 1 3 1 0 1 6 1 5 1 2 1-2 1-2 1-7 1-3 1 1 1 2 1 4 1-5 1-3" stroke="#d62728"/><path d="M909 33l1-9 1 0 1 5 1 2 1-8 1-7 1-9 1 11 1 14 1 5 1 2 1-21 1-15 1 5 1 13 1 19 1 6 1-14 1-15 2-5 1-1 1 15 1 7 1-2 1-5 1 8" stroke="#9467bd"/><path d="M0 51l1-9 1-1 1 5 1 9 1 0 1-7 1-10 1-10 1 1 1 15 1 12 1 5 1-6 1-5 1-13 1-8 1 7 1 14 1 13 1 3 1-5 1-14 1-5 1-4 1 9 1 3 1 3M43 71l1-5 1 2 1 3 1-1 1-12 1 1 1 2 1 13 1 2 1-4 1-16 1-29 1 28 1 19 1 11 1-3 1-19 1-19 1 6 1 19 1 11 1-1 1-10 1-16 1 4 1 12 1 6 1-4M178 66l1 3 1-4 1-5 1-2 1 4 1 6 1 10 1 7 2-6 1-7 1-6 1-10 1 4 1 4 1 7 1 2 1 4 1-3 1-7 1-7 1-5 1 0 1 11 1 5 1 3 1 3 1-5 1-14 1-22 1 18 1 10 1 6 1-1 1-3M230 49l1-1 1-2 1-4 1-6 1-12 1-7 1 9 1 13 1 6 1 8 1 4 1-1 1-12 1-9 1-3 1-3 1 8 1 11 1 9 1-1 2-1 1-5 1-10 1-3 1 2 1 1 1 6 1 1M276 48l1 0 1-4 1 3 1 6 1 3 1-2 1-3 1-10 1-5 1 3 1 11 1 5 1 30 1-15 1-22 1-6 1-1 1-1 1 13 1 6 1 3 1-3 1-6 1-12 1 0 1 2 1 14 1-1 1 0 1-4 1-3M323 45l1 3 1-7 1-3 1 8 1 14 1 18 1-30 1-12 1 2 1 5 1 13 1 6 1 1 1-25 1-4 1 7 1 13 1 3 1-4 1-8 1-5 1 0 1 10 1 8 1-8 1-5 1-2M365 65l1-8 1-4 1 10 1 9 1 10 1-1 1-7 1-16 1-11 1 3 1 2 1 9 1 10 1 13 1 3 1-10 1-12 1-14 1-3 1 1 2 9 1 8 1 9 1 1 1-1 1-7 1 0M409 65l1-22 1-7 1-2 1-6 1-15 1-7 1 8 1 8 1 12 1-2 1-6 1-14 1-12 1 4 1 14 1 10 1 8 1-7 1-12 1-10 1-3 1 11 1 13 1 10 1-7 1-4 1 14 1 29M453 66l1-6 1-11 1 7 1 11 1 6 1 0 1-5 1-17 1-6 1 15 1 36 1-2 1-17 1-21 1-16 1 8 1 19 1 7 1-2 1-10 1-13 1-5 1 11 1 13 1 5 1-4 1-5 1 2M539 62l1-22 1-15 1-2 1-7 1-2 1 0 1 5 1 6 1 3 1-1 1-3 1-8 1-3 1 5 1 3 1 4 1 2 1 0 1-6 1-7 1-5 1-5 1 16 1 5 1 16 1 22M579 46l1-3 1-5 1 2 1 5 1 16 1-9 1-7 1-4 1-6 1 1 1 2 1 5 1 6 1 3 1 13 1-20 1-6 1-1 1 1 1 3 1 7 1 5 1 5 1-7 1-9 1-3 1 1 1 7M663 66l1-7 1-4 1 4 1 8 1 11 1-1 1-8 1-13 1-5 1 2 1-7 1 14 1 8 1 9 1-4 1-7 1-10 1-7 1 2 1-4 1 12 1 8 1 6 1-3 1-5 1 1M704 47l1-5 1-15 1-15 1-4 1 19 1 7 1 1 1-7 1-9 1-2 1 6 1 28 1-3 1-12 1-11 1-5 1 3 1 19 1 7 1-12 1-8 1-4 1-2 1 9 1 4 1 3 1-6 1 6 1 12M745 49l1-7 1-11 1-4 1 3 1 13 1 10 1 8 1 1 1-10 1-14 1-8 1-2 1 5 1 9 1 14 1 3 1-2 1-7 1-7 1-12 2-14 1 12 1 14 1 22 1-11 1-5 1 0M788 53l1 5 1 9 1-4 1-6 1-5 1-8 1-2 1 3 1 9 1 12 1 12 1-4 1-5 1-11 1-9 1-18 1 10 1 9 1 5 1 8 1 5 1-5 1-2 1-7 1-5M827 50l1-18 1 3 1 11 1-9 1-11 1-7 1 0 1 17 1 10 1-13 1-9 1-22 1 1 1 31 1 12 1-7 1-13 1-6 1 4 1 12 1 12 1-7 1-13 1-12 1 8 1 18 1 6M869 48l1-8 1-7 1-6 1-1 1-2 1 5 1-1 1 14 1-4 1-1 1-10 1-6 1 0 1 1 1 0 1 6 1 7 1 6 1-1 1-12 1-3 1-4 1 2 1-1 1 5 1 14 1 5M909 72l1-20 1-19 1-3 1 2 1 6 1 4 1 7 1-2 1-6 1-12 1-8 1 2 1 5 1 9 1 10 1 13 1-6 1-14 1-11 2-6 1-5 1 13 1 4 1 7 1 14 1 15" stroke="#ff7f0e"/><path d="M43 22l1 29 1 14 1-4 1 2 1 12 1 8 1 2 1-13 1-13 1-4 1 8 1 26 1 4 1-15 1-15 1-12 1 8 1 19 1 10 1-2 1-15 1-15 1 5 1 11 1 7 1-8 1-19 1-26M87 12l1 31 1 21 1 13 1 15 1-1 1-15 1-20 1-4 1 13 1 16 1 10 1-8 1-26 1-23 1 15 1 21 1 13 1-2 1-8 1-10 1-3 1 4 1 21 1 14 1-15 1-21 1-15 1-13 1-25M132 26l1 6 1 4 1-2 1-4 1-5 1 4 1 8 1 18 1 6 1-16 1-10 1-12 1-4 1 7 1 12 1 7 1 4 1-2 1-11 1-1 1 0 1 2 1 4 1 5 1 4 1-5 1-6 1-9 1-4M276 13l1 25 1 17 1 12 1 7 1 10 1 2 1-1 1-4 1-9 1-15 1-7 1 0 1 11 1 16 1 16 1 5 1-5 1-8 1-15 1-10 1-1 1 3 1 3 1 10 1 5 1 6 1-7 1-2 1-12 1-26 1-28M323 29l1 24 1 22 1 0 1-5 1-5 1 4 1 6 1 3 1-3 1-1 1-12 1-3 1 10 1 16 1 1 1-9 1-5 1-4 1 2 1 4 1 6 1 4 1-1 1-9 1-5 1-17 1-24M409 13l1 3 1 1 1 8 1 10 1 2 1-7 1-3 1-27 1 7 1 10 1 17 1 6 1 3 1-19 1-13 1-7 1 7 1 19 1 7 1 1 1-7 1-18 1-5 1 3 1 12 1 6 1-5 1-13M453 28l1 16 1 1 1-5 1 0 1 12 1 10 1 4 1-1 1-10 1-15 1-4 1 3 1 21 1 10 1 6 1-8 1-12 1-11 1 0 1 10 1 9 1 22 1-11 1-13 1-12 1-5 1-7 1-10M496 15l1-2 1 8 1 11 1 7 1-7 1-9 1-11 1-7 1 4 1 7 1 8 1 7 1 1 1-5 1-15 1-12 1 0 1 6 1 15 1 16 1 5 1-10 1-10 1-16 1 0 1 1 1 7 1 4 1-5M579 12l1 20 1 24 1 0 1-10 1-17 1 13 1 11 1 6 1 1 1-9 1-7 1-10 1 11 1 19 1 21 1-15 1-22 1-3 1-1 1 5 1 8 1 3 1-9 1-9 1 0 1 0 1-9 1-21M621 17l1 31 1 24 1 4 1-2 1-7 1-18 1 1 1 1 1 13 1 7 1 8 1 6 1-5 1-6 1-13 1-9 1-6 1 6 1 11 1 14 2 6 1 4 1 9 1-25 1-13 1-19 1-21M663 18l1 7 1 4 1-6 1-2 1 2 1 0 1 9 1 9 1-1 1-5 1-6 1-21 1 2 1 2 1 5 1 11 1 8 1 0 1-4 1-6 1-18 1 0 1 2 1 7 1 6 1-5M704 25l1 8 1 7 1 12 1 7 1-3 1-12 1-13 1 6 1 13 1 14 1-3 1-22 1-9 1 3 1 15 1 19 1 2 1-25 1-17 1 1 1 14 1 9 1 1 1-4 1-14 1-1 1 6 1-3 1-12M827 26l1 16 1 6 1-4 1-5 1 0 1 11 1 7 1 11 1-6 1-10 1-8 1-13 1-1 1 7 1 14 1 12 1-3 1-1 1-7 1-7 1-10 1 3 1 2 1 9 1 3 1-9 1-14M909 27l1 15 1 15 1 7 1 1 1-10 1-6 1-4 1 13 1 11 1 1 1-11 1-33 1 15 1 15 1 9 1 2 1-9 1-8 1-1 2 2 1 15 1-2 1-8 1-8 1-12 1-11" stroke="#2ca02c"/><path d="M132 32l1-2 1-11 1 3 1 9 1 6 1-1 1-8 1-18 1-5 1 12 1 17 1 7 1-8 1-18 1-15 1 6 1 17 1 11 1 3 1-12 1-12 1-2 1 8 1 10 1 8 1-7 1-13 1 4 1 12M230 31l1 22 1 10 1-6 1-4 1-8 1 3 1 17 1 10 1 3 1 3 1-13 1-13 1-19 1 13 1 1 1 6 1 14 1 1 1 1 1 0 2-5 1-6 1-2 1-1 1 2 1 7 1-15 1-18M323 34l1 22 1 9 1-7 1 1 1 4 1 21 1 0 1 2 1-9 1-5 1-17 1-12 1-2 1 26 1 10 1 6 1-4 1-7 1-9 1-10 1 2 1 7 1 8 1 1 1-1 1-16 1-21M496 35l1 7 1 14 1 6 1 2 1-8 1-6 1-6 1-2 1 5 1 12 1 11 1 1 1-9 1-17 1-10 1-8 1 13 1 18 1 9 1 0 1-7 1-7 1-11 1-8 1 6 1 18 1 2 1-8 1-11M621 35l1 19 1 3 1-1 1 5 1 6 1 14 1-15 1-5 1-11 1 6 1 10 1 8 1-1 1-15 1-6 1 6 1 7 1 6 1 3 1-11 2-4 1-3 1 12 1 1 1-3 1-16 1-11M745 35l1 17 1 9 1 4 1-6 1 6 1 4 1 3 1-1 1-7 1-8 1-3 1 7 1 8 1 6 1-4 1-8 1-6 1-1 1 6 1 5 2 13 1-8 1-8 1-9 1 1 1-3 1-18M869 33l1 5 1 0 1-8 1 4 1 7 1 8 1 2 1 12 1-19 1-22 1 0 1 5 1 17 1 15 1 3 1-8 1-15 1-7 1-3 1 6 1 10 1 7 1-1 1-5 1-12 1-4 1 5" stroke="#e377c2"/><path d="M0 10l1 40 1 19 1-4 1-9 1 2 1 6 1 18 1 15 1 2 1-15 1-15 1-7 1-6 1 3 1 14 1 17 1 9 1-5 1-13 1-18 1-11 1 3 1 8 1 11 1 4 1-27 1-39M43 27l1 23 1 7 1 3 1 2 1 11 1 8 1 2 1-2 1-6 1-12 1-12 1 12 1 11 1 14 1 8 1-3 1-9 1-12 1-10 1 3 1 9 1 5 1 3 1 5 1-8 1-10 1-25 1-19M87 19l1 21 1 15 1-4 1-2 1 9 1 7 1 1 1-5 1-16 1-2 1 12 1 7 1 2 1-4 1-16 1 3 1 9 1 11 1-1 1-8 1-15 1 0 1 8 1 10 1 13 1-18 1-13 1-11 1-14M178 17l1 29 1 20 1 8 1-5 1-4 1 0 1 5 1 6 2 6 1 3 1-3 1-6 1-7 1-4 1-2 1 3 1 3 1 11 1 8 1 1 1-8 1-10 1-11 1 1 1 2 1 3 1 7 1 25 1-12 1-3 1-12 1-15 1-17 1-24M276 25l1-5 1-2 1-6 1-7 1 0 1 9 1 13 1 8 1 4 1-9 1-11 1-14 1 2 1 4 1 6 1 8 1 5 1 2 1-5 1-13 1-9 1-3 1 7 1 10 1 15 1-1 1-7 1-6 1-4 1 2 1 6M323 22l1 5 1-8 1-6 1 8 1 15 1 8 1-7 1-14 1-7 1-2 1 9 1 10 1 8 1-7 1-21 1-13 1 3 1 23 1 18 1 0 1-20 1-15 1-6 1 11 1 14 1 3 1-6M409 13l1 9 1-4 1-7 1 2 1 24 1 10 1 1 1 6 1-19 1-17 1-6 1-5 1 18 1 16 1 12 1 1 1-12 1-16 1-9 1 2 1 2 1 9 1 9 1 0 1 5 1-15 1-10 1-6M453 25l1 6 1 0 1 3 1 9 1 4 1 0 1-5 1-7 1-5 1 1 1 10 1 10 1-4 1-2 1-11 1-3 1-1 1 10 1 2 1 2 1 0 1-5 1-5 1 2 1 2 1 2 1-4 1-12M539 10l1 19 1 21 1 17 1-1 1-19 1-15 1 0 1 17 1 9 1 1 1-4 1-20 1-4 1 8 1 24 1 15 1-10 1-21 1-15 1 2 1 18 1 17 1 1 1-16 1-27 1-16M579 11l1 30 1 9 1 0 1 6 1 36 1-5 1-9 1-17 1-13 1 5 1 16 1 20 1-4 1-18 1-16 1 2 1 8 1 14 1 0 1-4 1-16 1-7 1 8 1 15 1 3 1-8 1-26 1-28M663 22l1 10 1 12 1-3 1-8 1-8 1-2 1 1 1 5 1 12 1 10 1 13 1-7 1-16 1-10 1-2 1-5 1 3 1 4 1 11 1 28 1-4 1-21 1-8 1-6 1-6 1 0M788 11l1 34 1 17 1 6 1 0 1 8 1 7 1 1 1-1 1-9 1-7 1-4 1-6 1 17 1 8 1 5 1 12 1-18 1-7 1-9 1 1 1 4 1 8 1 2 1-27 1-41M827 25l1-3 1 1 1 17 1 6 1-1 1-11 1-17 1-10 1 2 1 13 1 15 1 9 1 4 1-18 1-12 1-11 1 10 1 6 1 8 1 4 1-1 1-8 1-6 1-6 1 0 1 8 1-3M869 24l1 2 1 12 1 2 1 2 1-2 1-10 1-4 1-17 1 2 1 18 1 10 1 5 1-1 1-1 1-9 1-2 1-3 1 1 1 4 1 4 1 7 1 2 1-2 1-9 1-3 1-1 1-9M909 24l1 13 1 8 1 7 1 4 1 5 1 5 1-3 1-2 1-10 1-5 1-6 1 3 1 9 1 5 1 6 1 5 1-3 1-12 1-9 2-4 1-4 1 9 1 4 1 5 1-13 1-20" stroke="#bcbd22"/><path d="M0 74l1-6 1-11 1-7 1-4 1-3 1 5 1 11 1 19 1-2 1-14 1-14 1-8 1-3 1 11 1 9 1 9 1 0 1-8 1-8 1-12 1-1 1 10 1 8 1 10 1-2 1 5 1 10M230 75l1-22 1-22 1 0 1 8 1 14 1 6 1-11 1-11 1-12 1-3 1 7 1 16 1 14 1-3 1-7 1-21 1-14 1 8 1 12 1 13 2 3 1 2 1-7 1-7 1-7 1 7 1 21 1 14M276 74l1-25 1-22 1-8 1 5 1 5 1 3 1 3 1-5 1-5 1-4 1-4 1-13 1-3 1 12 1 14 1 4 1 3 1-3 1-6 1-7 1-6 1-1 1 1 1 2 1 13 1 2 1-2 1-2 1 7 1 16 1 27M323 76l1-16 1-13 1-9 1-4 1-4 1-2 1 7 1 8 1 3 1-1 1-3 1-3 1-10 1-5 1 3 1 6 1 7 1 12 1 3 1-4 1-8 1-9 1-2 1-1 1 8 1 17 1 20M365 55l1 6 1 8 1 2 1-2 1-1 1-7 1-2 1-1 1 7 1 5 1 6 1 0 1-3 1-4 1-7 1-5 1 3 1 3 1 9 1 7 2 3 1-5 1-4 1-5 1-5 1 0 1-7M409 75l1-4 1-2 1-10 1 4 1-2 1 13 1 7 1 0 1 7 1-15 1-13 1-12 1 8 1 9 1 6 1 9 1-2 1-4 1-8 1-9 1 0 1 4 1 3 1 10 1 1 1 2 1-2 1 2M453 61l1-17 1-11 1 0 1 0 1 6 1 4 1 0 1-6 1-5 1-11 1-21 1 23 1 12 1 3 1 2 1 0 1-5 1-5 1-7 1 1 1 8 1 12 1 2 1-2 1-6 1-4 1 10 1 16M496 63l1-4 1 3 1 5 1-9 1-6 1-2 1 0 1 4 1 3 1 8 1 0 1-2 1-8 1-8 1-6 1 2 1 13 1 13 1 8 1-5 1-15 1-11 1-8 1-9 1 21 1 12 1 6 1-4 1 2M579 76l1-10 1-11 1-7 1-12 1-16 1 13 1 12 1 7 1 5 1 0 1-1 1-10 1-6 1-5 1-3 1 17 1 7 1 5 1-3 1-7 1-5 1-2 1 3 1 3 1 4 1 5 1 7 1 11M621 75l1-31 1-19 1 5 1 5 1-7 1-10 1-7 1-7 1 4 1 10 1 12 1 5 1-2 1-6 1-16 1-9 1 3 1 7 1 8 1 9 2 2 1-3 1-9 1-10 1 3 1 27 1 39M663 58l1-12 1-4 1 6 1 14 1 1 1-15 1-14 1-10 1 3 1 17 1 24 1 3 1-14 1-10 1-10 1 0 1 4 1 12 1 17 1 9 1-19 1-19 1-2 1 5 1 6 1 5M704 75l1-27 1-19 1-7 1-8 1-8 1-5 1 6 1 13 1 5 1 3 1-8 1-19 1 0 1 3 1 14 1 12 1 7 1 3 1-21 1-7 1 0 1 2 1 9 1 4 1 3 1-6 1 0 1 21 1 31M745 67l1-4 1 1 1 6 1 6 1 1 1-3 1-9 1-2 1-5 1 7 1 16 1 13 1-2 1-14 1-11 1-12 1 4 1 5 1 14 1 11 2 10 1-20 1-16 1-20 1 15 1 10 1-2M827 57l1-5 1-3 1-8 1-3 1 0 1 6 1 10 1 7 1-14 1-8 1-7 1 6 1 29 1 0 1-1 1-30 1-8 1 5 1 13 1 6 1 1 1-5 1-10 1 1 1 2 1 13 1 6M909 59l1 5 1-6 1-1 1 2 1 8 1 6 1 1 1 3 1-2 1-8 1-8 1-19 1 13 1 8 1 10 1 13 1 2 1-8 1-6 2-12 1-11 1 4 1 8 1 4 1 0 1-5" stroke="#17becf"/><path d="M43 51l1-4 1-8 1-3 1 5 1 5 1 2 1 3 1 1 1-16 1-8 1-10 1 10 1 19 1 9 1 2 1-3 1-13 1-15 1-6 1 8 1 12 1 12 1 9 1-1 1-14 1-9 1 4 1 10M87 54l1-2 1-4 1-1 1 5 1 6 1 4 1-4 1-4 1-7 1-7 1-3 1 5 1 9 1 7 1 3 1 1 1-5 1-9 1-1 1-2 1 4 1 6 1 0 1 4 1 16 1-19 1-5 1 1 1 2M132 56l1-9 1-2 1-3 1 5 1 7 1 6 1-10 1-13 1-6 1 8 1 13 1 5 1 0 1-8 1-13 1-7 1 6 1 15 1 6 1 0 1-7 1-11 1 4 1 1 1 6 1 7 1-1 1-3 1 1M178 73l1-27 1-17 1-12 1 8 1 2 1 3 1-1 1-2 2-4 1-6 1 0 1 1 1 7 1 2 1 4 1 2 1-4 1-4 1-6 1 0 1 3 1 7 1 10 1-2 1-3 1-6 1-6 1-12 1-10 1 20 1 5 1 10 1 19 1 18M230 49l1-2 1-7 1 4 1-2 1-6 1-26 1 5 1 2 1 6 1 16 1 8 1 5 1 1 1-10 1-9 1-17 1 7 1 0 1 10 1 11 2 7 1 6 1-4 1-11 1-8 1 0 1 7 1 12M409 70l1-10 1-14 1-5 1-16 1 4 1 17 1 6 1 6 1 13 1-24 1-7 1-10 1 10 1 6 1 9 1 3 1-1 1-10 1-3 1-3 1-1 1 11 1 3 1 2 1 0 1-5 1 8 1 14M453 70l1 0 1-8 1-2 1-7 1 1 1 5 1 7 1 8 1 0 1-1 1-11 1-7 1-1 1 5 1 1 1 9 1 1 1 2 1-6 1-5 1-8 1-15 1 21 1 10 1 8 1-3 1-3 1 1M496 71l1-16 1-5 1-3 1 4 1-6 1-4 1-5 1-4 1 2 1 4 1 10 1 12 1-2 1-8 1-15 1-11 1-5 1 11 1 6 1 7 1 3 1-1 1-7 1-13 1-9 1 10 1 9 1 19 1 17M621 53l1 11 1 12 1 3 1-12 1-7 1 4 1 16 1 5 1-8 1-10 1-8 1 5 1 8 1 7 1-5 1-4 1-8 1-1 1 12 1 1 2 0 1-7 1-16 1 10 1 6 1-7 1-7M663 67l1-1 1 4 1-3 1-8 1-9 1-5 1 0 1 7 1 7 1 11 1 3 1 0 1-10 1-18 1-10 1-4 1 13 1 16 1 10 1 4 1 8 1-16 1-11 1-6 1 9 1 7M704 70l1 0 1-12 1-13 1-19 1 11 1 8 1 12 1 5 1 2 1-5 1-7 1-17 1 0 1 10 1 12 1 14 1 7 1 1 1-23 1-9 1-5 1 5 1 3 1 15 1 4 1 0 1-8 1 2 1 9M745 54l1 7 1 1 1 2 1 6 1 2 1-5 1-2 1-4 1-1 1 13 1 8 1-2 1-12 1-8 1-1 1 11 1 4 1 0 1-4 1-7 2-7 1 13 1 6 1 6 1-10 1-6 1-9M788 56l1-5 1 2 1-3 1-5 1-7 1 2 1 5 1 6 1 2 1-7 1-11 1-28 1 28 1 5 1 16 1 0 1-6 1-10 1-5 1 2 1 3 1 7 1 0 1 1 1 8M827 67l1-16 1-20 1-5 1 4 1 8 1 3 1 2 1-7 1-10 1 2 1 2 1 8 1 14 1-1 1-13 1-8 1 1 1 0 1 6 1 6 1 5 1-9 1-6 1-3 1 5 1 18 1 14M909 70l1-12 1-6 1 1 1-3 1-3 1-7 1-3 1 1 1 4 1 4 1 6 1 5 1-8 1-8 1-8 1-4 1 5 1 11 1 1 2 5 1-2 1-8 1-5 1 1 1 12 1 22" stroke="#d62728"/><path d="M0 26l1 1 1-6 1-6 1 1 1 4 1 7 1 8 1 8 1-14 1-10 1-16 1-3 1 4 1 13 1 19 1 3 1-3 1-12 1-11 1-13 1 0 1 10 1 10 1 6 1 7 1-4 1 0M132 11l1 9 1 12 1 2 1-1 1-5 1-2 1-1 1-3 1 6 1 12 1 9 1-9 1-3 1-9 1-5 1-6 1 3 1 6 1 6 1 6 1 1 1-1 1-6 1-6 1-5 1 1 1 2 1-1 1-13M178 28l1 16 1 15 1 9 1-6 1-2 1-8 1-2 1-1 2 9 1 6 1 6 1-2 1-5 1-7 1-7 1 3 1 4 1 5 1 7 1-1 1-3 1-3 1-11 1-8 1 6 1 9 1 4 1 9 1 7 1-11 1-7 1-9 1-9 1-17M230 29l1 16 1 9 1-5 1-5 1-5 1-4 1 16 1 4 1 2 1 3 1-5 1-16 1-16 1 12 1 4 1 13 1 13 1-4 1 0 1-4 2-8 1-5 1 2 1 5 1 5 1 2 1-15 1-17M276 25l1 1 1-4 1-6 1-6 1 2 1 7 1 11 1 11 1 2 1-5 1-7 1-17 1-8 1-6 1 10 1 14 1 14 1 12 1-4 1-4 1-17 1-12 1-9 1-4 1 8 1 15 1 7 1 1 1 1 1-7 1 2M365 27l1 7 1 4 1-6 1 3 1 7 1 9 1 2 1-6 1-14 1-7 1-3 1 10 1 14 1 9 1-3 1-16 1-15 1-6 1 6 1 12 2 10 1 8 1-13 1-6 1-6 1-2 1 1M539 31l1-6 1-1 1 1 1 17 1 11 1 5 1-13 1-15 1-11 1 0 1 5 1 13 1 17 1 7 1-3 1-25 1-14 1-5 1 2 1 14 1 15 1 16 1-11 1-14 1-11 1 4M704 28l1-2 1 8 1 6 1 13 1-3 1-9 1-16 1-5 1 7 1 23 1 15 1 9 1-34 1-14 1-9 1 15 1 17 1 7 1 1 1-18 1-5 1-5 1 7 1 15 1 7 1-6 1-13 1-4 1-7M745 26l1-1 1 5 1 3 1-15 1-13 1-5 1 11 1 16 1 5 1-3 1-14 1-13 1 1 1 15 1 8 1 0 1-5 1-20 1-1 1 10 2 20 1-1 1 0 1-18 1-4 1 9 1 7M788 17l1 3 1 6 1 12 1 2 1 2 1-8 1-12 1-5 1-3 1 1 1 3 1 13 1 3 1 0 1-3 1-8 1-16 1-3 1 1 1 6 1 11 1 5 1 4 1-6 1-9M869 26l1 1 1-5 1 13 1 5 1 0 1-6 1-13 1-4 1 12 1 8 1 6 1-3 1-8 1-6 1 2 1 5 1 10 1 1 1-6 1-9 1-6 1 6 1 11 1 1 1 4 1-13 1-6" stroke="#2ca02c"/><path d="M43 55l1-2 1-7 1 0 1 13 1 7 1-7 1-5 1-11 1 3 1 16 1 15 1-2 1-20 1-11 1 2 1 12 1 11 1 2 1-9 1-13 1-3 1 11 1 11 1 3 1-5 1-13 1 0 1-1M87 64l1 3 1-6 1-6 1-3 1-2 1 6 1 4 1 10 1 3 1-1 1-10 1-7 1-7 1-1 1-2 1 6 1 7 1 7 1 1 1-2 1-4 1-9 1-7 1-6 1-2 1 17 1 4 1 4 1 1M132 51l1 10 1 5 1 9 1 10 1 10 1-1 1-14 1-19 1-23 1 12 1 26 1 9 1 2 1-4 1-13 1-17 1-2 1 14 1 19 1 14 1-4 1-15 1-18 1-6 1 4 1 13 1 2 1-9 1-14M323 54l1-7 1 3 1 10 1 4 1-5 1-21 1-7 1 5 1 12 1 17 1 4 1-10 1-14 1-7 1 2 1 9 1 13 1-1 1-12 1-8 1-4 1 3 1 10 1 6 1-1 1-7 1 3M365 72l1-33 1-24 1-2 1 8 1 12 1-8 1-11 1-8 1 5 1 16 1 10 1-9 1-13 1-6 1 7 1 8 1 4 1-6 1-12 1-6 2 11 1 15 1 4 1-10 1-2 1 18 1 31M496 69l1 3 1 3 1-11 1-13 1-5 1 4 1 13 1 12 1 3 1-9 1-18 1-9 1 0 1 16 1 39 1-3 1-15 1-26 1-12 1 7 1 9 1 10 1 8 1-4 1-15 1-4 1 1 1 11 1 4M539 72l1-16 1-4 1 6 1-18 1-14 1-5 1 0 1 11 1 15 1 13 1-3 1-13 1-17 1-7 1-2 1 11 1 17 1 7 1-1 1-7 1-18 1-21 1 8 1 14 1 23 1 20M579 65l1-8 1-14 1-12 1-5 1-10 1 26 1 15 1 5 1-5 1-15 1-16 1-7 1 5 1 16 1 24 1-7 1-4 1-6 1-10 1-6 1 2 1 6 1 8 1 7 1-1 1-2 1 2 1 15M621 51l1 8 1 10 1 5 1-12 1-9 1-14 1 5 1 3 1 11 1 9 1 1 1-5 1-12 1-17 1-5 1 10 1 18 1 13 1 2 1-8 2-9 1-15 1-13 1 13 1 7 1 6 1-5M869 65l1-15 1-8 1 9 1-3 1-1 1-7 1-8 1-21 1 9 1 14 1 11 1 1 1 1 1-4 1-5 1-11 1-3 1 4 1 13 1 5 1 2 1-5 1-1 1-6 1 0 1 16 1 13" stroke="#ff7f0e"/><path d="M0 65l1-13 1-9 1-6 1-5 1-7 1 3 1 0 1 14 1 11 1-5 1-2 1-7 1-8 1-8 1-3 1 3 1 8 1 9 1 2 1 1 1-6 1-2 1-8 1-4 1 2 1 18 1 21M43 67l1-22 1-21 1 1 1 0 1 14 1-4 1 9 1 1 1-21 1-6 1-8 1-9 1 16 1 8 1 7 1 3 1 1 1-6 1-5 1-9 1-5 1 1 1 5 1 4 1 9 1 6 1 9 1 23M87 72l1-8 1 0 1 11 1 3 1-9 1-8 1-3 1 5 1 12 1 6 1-6 1-13 1-14 1 6 1 16 1 14 1-6 1-9 1-9 1 0 1 10 1 10 1 3 1-10 1-20 1 9 1 9 1 2 1-1M132 71l1-25 1-18 1-10 1-1 1 7 1 6 1 0 1-8 1-15 1 7 1 9 1 10 1 1 1-15 1-5 1-1 1 10 1 14 1-2 1-12 1-14 1 1 1 11 1 7 1 3 1-5 1-1 1 18 1 29M178 61l1-6 1-2 1-2 1-2 1 6 1 5 1-5 1-1 2-11 1-3 1 2 1 8 1 5 1 4 1 4 1-5 1-11 1-2 1-5 1 6 1 1 1 7 1 4 1 3 1-9 1-4 1-13 1-30 1 30 1 11 1 5 1 6 1 3 1 2M230 50l1-13 1-8 1-1 1-2 1-2 1-18 1-1 1-1 1 11 1 8 1 9 1 12 1-11 1-14 1-7 1-8 1 5 1 9 1 6 1 5 2-2 1-7 1-9 1-3 1-1 1 13 1 15 1 15M276 73l1-21 1-9 1 1 1 0 1-2 1-4 1-5 1-4 1 2 1 3 1 6 1 2 1 5 1-7 1-4 1-6 1-2 1-1 1 8 1 6 1 5 1 1 1-6 1-3 1-32 1 14 1 8 1 8 1 12 1 12 1 11M323 66l1-13 1-1 1-5 1-7 1-14 1-6 1 4 1 12 1 9 1 1 1-1 1-10 1-9 1-2 1 8 1 4 1 11 1 5 1-2 1-16 1-4 1-5 1 2 1 6 1 11 1 10 1 10M365 62l1-20 1-11 1 5 1 1 1-4 1-7 1-7 1-2 1 14 1 6 1 0 1-2 1-13 1-4 1 1 1 18 1 10 1 2 1-14 1-8 2-6 1 1 1 17 1 2 1 2 1 7 1 11M409 62l1 0 1-1 1-4 1-4 1 14 1-1 1 0 1-8 1-15 1 7 1 7 1 10 1-1 1-1 1-6 1-6 1 2 1 4 1 9 1 5 1-5 1-9 1-3 1-1 1 6 1 8 1-3 1-6M453 48l1 14 1 19 1 8 1-3 1-15 1-5 1-4 1 5 1 10 1 8 1 6 1-14 1-14 1-4 1-1 1 12 1 17 1 6 1-11 1-17 1-10 1 2 1 4 1 13 1 8 1-5 1-17 1-12M496 64l1-16 1-8 1-3 1 6 1 1 1 2 1-6 1-3 1-1 1-2 1 5 1 3 1 7 1 9 1 0 1-18 1-3 1-1 1 1 1 7 1 4 1 3 1-3 1-1 1-6 1-3 1 5 1 10 1 9M539 49l1 13 1 1 1-14 1-26 1 11 1 7 1 19 1 13 1 2 1-4 1-13 1-10 1-6 1 6 1 11 1 15 1 4 1-8 1-11 1-15 1-8 1-1 1 22 1 11 1-7 1-13M579 67l1 11 1 6 1-8 1-5 1-27 1 18 1 7 1 15 1 14 1 1 1-6 1-19 1-14 1-13 1-21 1 40 1 16 1 7 1 6 1-9 1-13 1-12 1-9 1 6 1 9 1 9 1 0 1-4M621 67l1-7 1-6 1-11 1-9 1 4 1 12 1 20 1 1 1-9 1-22 1-12 1 10 1 12 1 10 1 2 1-10 1-13 1-9 1 1 1 23 2 11 1 1 1-11 1-19 1 4 1 16 1 8M663 70l1-12 1-12 1-4 1-5 1-2 1 0 1 2 1 7 1 7 1 1 1 8 1-12 1-4 1-9 1 1 1 4 1 4 1 7 1 1 1 3 1-4 1-7 1-2 1-3 1 17 1 14M704 66l1-16 1-6 1-1 1-2 1-13 1-6 1 5 1 9 1 3 1 5 1-6 1-9 1-3 1 7 1 5 1 10 1-2 1-8 1-6 1-3 1 5 1 9 1 5 1-1 1-8 1-2 1 2 1 14 1 15M745 70l1-14 1-4 1 8 1 7 1-9 1-19 1-13 1 0 1 14 1 22 1 7 1-8 1-17 1-18 1-5 1 17 1 23 1 9 1-6 1-18 2-19 1 0 1 2 1 20 1 9 1 3 1 9M788 63l1-16 1-5 1 5 1 5 1 0 1 0 1-7 1-13 1-4 1 3 1 14 1 11 1-1 1-5 1-5 1-8 1-4 1 3 1 6 1 10 1 8 1 1 1-9 1-6 1 15M827 61l1-9 1-12 1 2 1 6 1 4 1-3 1-12 1-29 1 21 1 14 1 13 1 7 1 5 1-35 1-31 1-2 1 34 1 18 1 4 1-3 1-12 1-13 1 2 1 7 1 12 1 6 1 9M869 49l1 17 1 8 1 0 1-10 1-4 1 0 1 3 1 15 1 13 1 2 1-14 1-9 1-5 1-1 1 1 1 13 1 8 1 1 1-7 1-7 1-8 1 2 1 7 1 5 1 7 1-17 1-18M909 47l1-6 1-19 1-13 1 4 1 15 1 7 1 0 1-13 1-11 1 4 1 17 1 26 1-18 1-21 1-7 1 1 1 14 1 10 1-5 2-18 1-13 1 13 1 15 1 8 1 2 1 8" stroke="#ff7f0e"/><path d="M0 76l1-8 1-4 1 4 1-2 1-6 1-14 1-8 1-12 1 16 1 17 1 14 1 4 1-3 1-10 1-10 1-6 1-1 1 4 1 3 1 16 1 6 1 3 1-14 1-7 1-2 1 8 1 12M0 63l1-2 1 0 1 2 1 2 1 8 1 7 1 8 1-3 1-18 1-6 1-6 1-3 1 8 1 7 1 8 1 4 1-1 1-2 1-7 1-5 1-8 1 0 1 6 1 6 1 5 1-4 1-9M43 66l1-13 1-8 1-7 1 0 1-15 1 4 1-2 1 1 1 17 1-1 1 6 1 1 1-13 1-4 1-5 1-3 1 1 1 10 1 3 1 5 1-2 1 1 1-3 1-5 1-1 1 5 1 11 1 18M43 62l1-22 1-21 1-12 1-4 1 4 1 12 1 9 1 4 1 3 1-9 1-3 1-16 1 6 1 6 1 6 1 12 1 6 1 3 1-10 1-12 1-4 1-4 1 2 1 7 1 7 1 13 1 4 1 12M87 60l1-2 1 3 1 16 1 5 1-10 1-17 1-10 1 6 1 12 1 19 1 3 1-12 1-20 1-22 1 11 1 23 1 15 1-1 1-9 1-21 1-5 1 4 1 14 1 13 1 14 1-25 1-8 1-3 1 7M87 77l1-34 1-16 1-3 1 1 1 3 1-7 1-6 1-3 1 3 1-2 1 4 1 2 1 4 1 5 1-3 1-8 1-7 1 2 1-2 1 4 1 0 1 12 1 5 1 6 1-5 1-17 1 4 1 27 1 28M132 72l1-17 1-12 1-1 1 4 1 7 1-3 1-4 1-14 1-8 1 4 1 25 1 1 1-2 1-3 1-6 1-3 1 0 1 8 1 7 1-1 1-6 1-3 1-3 1 2 1 4 1 5 1 4 1 3 1 9M132 75l1-12 1-16 1-14 1-1 1-3 1 5 1 11 1 12 1-3 1-6 1-6 1-4 1-5 1-2 1 5 1 4 1 5 1 3 1-5 1 1 1-7 1-4 1-3 1 3 1 5 1 7 1 5 1 9 1 14M178 68l1-13 1-9 1-4 1-12 1-5 1-2 1 3 1 2 2 14 1 5 1-5 1-7 1-12 1-6 1-2 1 6 1 14 1 5 1 0 1-4 1-8 1-14 1-4 1 9 1 8 1 13 1 6 1 16 1-31 1-12 1-1 1 17 1 15 1 19M178 65l1-13 1 3 1 1 1-2 1-13 1-10 1 5 1 11 2 15 1 1 1-13 1-9 1-6 1 5 1 14 1 14 1-3 1-20 1-16 1-1 1 19 1 15 1 2 1-8 1-11 1-5 1 2 1 10 1 15 1-12 1-5 1 0 1 4 1 8M230 68l1-19 1-13 1-7 1-6 1-13 1-10 1 21 1 7 1 12 1 5 1 4 1-12 1-20 1-4 1-3 1 6 1 19 1 8 1 5 1-4 2-10 1-8 1-3 1-1 1 4 1 9 1 17 1 15M230 61l1-19 1-15 1-8 1 3 1 4 1 9 1 6 1-2 1-5 1-7 1-10 1-17 1 15 1 10 1 12 1 9 1 1 1-13 1-12 1-4 2-4 1 2 1 12 1 3 1 5 1 2 1 9 1 18M276 68l1-12 1-5 1 3 1 9 1-2 1-14 1-17 1-4 1 2 1 13 1 19 1 18 1-11 1-12 1-17 1-6 1 0 1 7 1 12 1 10 1 1 1-13 1-11 1-16 1-19 1 27 1 16 1 9 1 6 1 0 1 6M276 63l1-5 1-4 1 1 1 11 1 11 1 1 1-1 1-15 1-8 1-5 1-1 1 1 1 7 1 15 1 4 1-4 1-2 1-11 1-8 1-3 1 1 1 7 1 6 1 9 1 11 1-13 1-8 1-7 1-3 1 4 1 6M323 71l1-24 1-9 1-6 1-3 1-7 1-20 1 15 1 4 1 7 1 4 1 0 1-1 1-2 1-8 1-6 1 3 1 3 1 6 1 3 1 4 1-2 1-7 1-3 1-9 1 10 1 21 1 22M323 65l1-14 1-13 1-7 1-6 1 0 1-2 1 21 1 6 1 1 1 0 1-8 1-10 1-12 1 4 1 1 1 7 1 8 1 7 1 1 1-5 1-5 1-8 1-6 1 2 1 7 1 15 1 14M365 76l1-3 1 10 1 0 1-8 1-10 1-9 1 5 1 12 1 14 1-3 1-8 1-13 1-8 1 5 1 14 1 9 1 0 1-4 1-12 1-3 2 2 1 9 1 16 1 2 1-11 1-11 1 6M365 63l1-12 1 1 1 6 1 0 1-5 1-8 1-8 1 2 1-5 1 19 1 6 1 0 1-8 1-9 1-6 1 3 1 5 1 9 1 3 1-4 2-7 1-2 1-4 1 6 1-1 1 12 1 4M409 61l1-19 1-16 1-1 1-3 1-15 1 3 1 4 1 5 1 9 1-1 1 0 1-2 1-14 1-2 1 3 1 7 1 7 1 1 1-5 1 0 1-5 1-4 1 2 1 3 1 5 1 3 1 14 1 22M409 75l1-2 1 0 1-6 1-5 1-16 1 4 1 2 1 2 1 11 1 1 1 8 1 1 1-11 1-3 1-8 1-6 1 7 1 2 1 15 1 2 1-1 1-1 1-3 1-4 1-9 1 5 1 9 1 6M453 76l1-24 1-14 1 1 1 3 1-4 1-9 1-7 1 6 1 8 1 11 1 3 1-25 1-5 1 5 1 11 1 9 1-5 1-12 1-8 1 1 1 13 1 7 1-5 1-8 1-4 1 4 1 23 1 23M453 77l1-5 1 1 1 5 1 0 1-2 1-3 1-2 1 0 1 2 1 5 1 8 1 3 1-12 1-8 1-5 1 5 1 7 1 10 1-2 1-2 1-9 1-3 1 1 1 4 1 4 1 0 1 0 1-4M496 74l1-3 1 3 1 5 1 5 1-4 1-10 1-8 1 1 1 8 1 11 1 5 1-3 1-12 1-7 1-7 1 14 1 10 1-1 1 0 1-4 1-15 1-5 1 11 1 12 1 11 1-9 1-2 1-3 1 1M496 71l1-10 1-2 1 2 1-2 1-17 1-7 1-1 1 11 1 11 1 2 1-1 1-6 1-9 1-1 1 3 1 11 1 17 1 0 1-10 1-18 1-12 1 1 1 16 1 12 1-1 1-3 1 0 1 1 1 11M539 69l1-11 1-13 1-10 1-11 1 13 1 7 1 5 1 9 1 7 1-3 1-8 1-10 1-8 1-2 1 3 1 5 1 13 1 8 1 7 1-6 1-13 1-8 1-8 1 0 1 17 1 20M539 56l1 5 1 3 1 9 1 13 1-15 1-8 1-1 1 1 1 4 1 5 1 6 1-4 1-8 1-4 1-4 1 5 1 7 1 8 1-1 1-8 1-6 1-12 1 9 1 12 1-8 1-7M579 75l1-4 1-8 1-2 1 7 1 13 1 0 1-10 1-13 1-3 1-2 1 9 1 14 1-2 1-2 1-14 1-6 1 5 1 8 1 10 1 8 1-7 1-15 1-6 1-3 1 4 1 8 1 8 1 6M579 61l1-9 1-11 1-8 1-4 1-7 1 5 1 1 1 5 1 3 1 4 1-2 1-2 1-9 1-8 1-19 1 24 1 6 1 10 1 3 1-3 1-5 1-7 1-5 1 4 1 4 1 5 1 8 1 13M621 59l1 7 1 0 1 2 1 4 1 5 1 11 1-2 1-7 1-4 1-3 1-7 1-2 1 8 1 8 1 2 1 1 1-1 1-7 1-5 1-4 2 2 1 2 1 10 1 3 1 1 1-14 1-10M621 70l1-12 1-7 1-9 1 1 1 1 1 11 1 2 1 0 1-2 1-3 1-9 1-1 1 2 1 10 1 7 1 3 1-1 1-6 1-11 1-3 2 3 1 8 1 7 1 3 1-2 1 2 1 7M663 60l1 4 1 12 1 4 1-2 1-2 1-4 1-7 1 0 1 5 1 9 1 6 1 1 1-5 1-8 1-4 1 0 1 1 1 1 1 10 1 18 1 0 1-15 1-8 1-5 1-4 1-7M663 74l1-31 1-22 1 4 1 5 1 6 1-1 1-3 1-8 1-10 1-12 1-2 1 2 1 21 1 11 1 7 1 0 1-6 1-11 1-17 1-7 1 0 1 10 1 11 1 13 1 18 1 24M704 58l1 8 1 10 1 9 1 0 1-5 1-7 1-9 1 1 1 6 1 9 1 7 1 7 1-14 1-10 1-11 1 2 1 5 1 12 1 5 1 1 1-4 1-6 1-8 1 0 1 4 1 5 1 2 1-10 1-10M704 76l1-19 1-15 1 0 1 10 1 5 1 2 1-3 1-10 1-7 1-1 1 1 1 17 1 12 1 0 1-9 1-16 1-19 1-6 1 17 1 17 1 11 1-2 1-6 1-11 1-7 1-1 1 10 1 16 1 13M745 61l1 0 1-2 1 5 1 11 1 3 1 4 1-7 1-11 1-2 1 0 1 6 1 19 1 5 1-8 1-19 1-11 1 0 1 8 1 19 1 13 2 5 1-23 1-25 1-2 1 13 1 5 1-6M745 54l1-16 1-22 1-2 1 11 1 9 1 4 1-7 1-7 1-11 1 6 1 4 1 13 1 4 1-7 1-11 1-10 1 5 1 6 1 16 1 6 2 1 1-20 1-9 1 1 1 10 1 17 1 11M788 59l1 14 1 5 1 3 1-6 1-6 1-5 1-2 1 4 1 4 1 4 1 4 1 9 1-15 1-4 1-10 1-9 1 10 1 11 1 5 1 0 1-3 1-3 1-2 1-5 1 1M788 76l1-31 1-25 1 4 1 7 1 3 1-2 1-3 1-10 1-7 1 1 1 11 1 13 1-2 1-5 1-9 1-21 1 7 1 11 1 9 1 6 1 0 1-8 1-3 1 20 1 36M827 61l1 0 1-8 1-10 1 1 1 12 1 7 1 5 1-6 1-14 1-3 1-1 1 17 1 32 1-16 1-17 1-17 1-4 1 5 1 17 1 10 1-4 1-15 1-9 1-1 1 11 1 6 1-1M827 77l1-20 1-15 1-3 1 6 1 6 1-1 1-8 1-15 1-4 1 12 1 16 1 4 1 3 1-15 1-17 1-12 1 23 1 7 1 5 1-3 1-6 1-8 1 1 1 3 1 6 1 18 1 14M869 61l1-11 1 1 1 2 1-8 1-4 1 4 1 5 1 20 1-8 1-23 1-11 1 7 1 15 1 11 1-1 1-16 1-4 1-1 1 12 1 0 1 1 1-8 1-9 1 4 1 6 1 9 1 7M869 76l1-2 1 1 1-10 1 4 1 3 1 7 1 8 1 10 1-15 1-14 1-3 1-2 1 10 1 11 1 2 1 2 1-12 1-5 1-3 1 0 1 8 1 4 1 1 1-2 1-8 1 3 1 2M909 62l1-3 1-2 1 2 1 5 1-1 1-4 1-4 1-8 1 2 1 2 1 10 1 12 1-12 1-5 1-7 1-12 1 0 1 13 1 7 2 6 1 12 1-19 1-3 1-6 1 7 1 9M909 75l1-12 1-9 1 7 1 3 1 8 1 2 1-7 1-8 1-7 1-1 1 8 1 20 1 6 1 3 1-15 1-20 1-9 1 1 1 12 2 16 1 13 1-7 1-10 1-12 1 4 1 14" stroke="#17becf"/></g><g transform="translate(53.00 98.70) scale(0.5000 -0.59500)" fill="none" stroke-width="0.95"><path d="M27 75l1 1 1-1 1 1 1-1 1 0 1 1 1-1 1 0 1 1 1 0 1-1 1 0 1 0 1 0 1 1 1 0M71 75l1 0 1 0 1 0 1 0 1 0 1 0 1 0 1 1 1-1 1 1 1 0 1-1 1 1 1-1 1 1 1-1M116 76l1-1 1 1 1 0 1-1 1 0 1 0 1 1 1-1 1 0 1 0 1 0 1 0 1 0 1 0 1 0 1 1M161 75l1 0 1 0 1 1 1-1 1 1 1 0 1-1 1 0 1 0 1 0 1 1 1 0 1-1 1 0 1 1 1 0 1 0M213 75l1 0 1 0 1 1 1 0 1 0 1-1 1 0 1 0 1 0 1 1 1-1 1 0 1 0 1 0 1 1 1 0 1-1M259 76l1-1 1 1 1-1 1 0 1 0 1 0 1 0 1 0 1 0 1 0 1 1 1 0 1-1 1 1 1 0 1-1 1 0M307 76l1-1 1 0 1 0 1 0 1 1 1 0 1 0 1-1 1 1 1 0 1-1 1 0 1 0 1 0 1 0 1 0M350 75l1 0 1 0 1 0 1 1 1-1 1 0 1 0 1 0 1 0 1 0 1 1 1-1 1 0 1 0 1 1M393 75l1 1 1 0 1 0 1-1 1 0 1 0 1 0 1 0 1 0 1 0 1 0 1 0 1 0 1 1 1-1 1 0M437 75l1 0 1 1 1-1 1 0 1 0 1 0 1 1 1 0 1 0 1-1 1 0 1 1 1-1 1 1 1-1 1 1M481 75l1 0 1 0 1 1 1 0 1 0 1-1 1 0 2 0 1 0 1 1 1-1 1 1 1 0 1-1M525 76l1-1 1 0 1 0 1 0 1 1 1 0 1-1 1 1 1-1 1 0 1 0 1 0 1 0 1 0M565 75l1 0 1 0 1 1 1-1 1 0 1 0 1 1 1-1 1 0 1 0 1 1 1 0 1 0 1-1M607 76l1-1 1 1 1 0 1-1 1 1 1-1 1 1 1-1 1 0 1 0 1 0 1 0 1 1 1 0M649 75l1 0 1 0 1 0 1 0 1 1 1-1 1 1 1-1 1 0 1 1 1-1 1 1 1-1 1 0M689 75l1 0 1 0 1 0 1 0 1 1 1-1 1 1 1-1 1 0 1 0 1 0 1 0 1 0 1 0 1 1M733 76l1 0 1-1 1 1 1 0 1 0 1-1 1 0 1 0 1 1 1-1 1 0 1 0M773 75l1 1 1-1 1 1 1-1 1 0 1 1 1-1 1 0 1 0 1 1 1-1 1 0 1 0 1 0 1 0M813 75l1 0 1 0 1 1 1-1 1 0 1 0 1 1 1-1 1 0 1 0 1 0 1 1 1-1 1 0M854 75l1 1 1 0 1-1 1 0 1 0 1 0 1 0 1 0 1 1 1-1 1 0 1 0 1 0 1 1 1-1M896 75l1 0 1 0 1 0 1 1 1 0 1-1 1 1 1 0 1-1 1 0 1 0 1 1 1 0" stroke="#17becf"/><path d="M27 75l1 1 1 0 1-1 1 0 1 1 1-1 1 0 1 1 1 0 1-1 1 0 1 1 1 0 1-1 1 1 1-1M71 76l1 0 1 0 1 0 1-1 1 1 1 0 1-1 1 1 1 0 1-1 1 1 1 0 1 0 1 0 1 0 1-1M116 75l1 0 1 1 1 0 1-1 1 0 1 0 1 1 1 0 1-1 1 1 1-1 1 0 1 1 1 0 1 0 1 0M161 76l1 0 1 0 1 0 1-1 1 1 1-1 1 1 1 0 1 0 1 0 1-1 1 1 1 0 1 0 1-1 1 1 1 0M213 76l1 0 1 0 1-1 1 1 1 0 1 0 1 0 1 0 1-1 1 1 1 0 1-1 1 0 1 1 1 0 1-1 1 1M259 75l1 1 1 0 1 0 1-1 1 1 1 0 1-1 1 1 1 0 1 0 1 0 1 0 1-1 1 1 1 0 1 0 1 0M307 76l1 0 1-1 1 0 1 0 1 0 1 0 1 1 1 0 1-1 1 1 1 0 1-1 1 1 1 0 1-1 1 1M350 76l1 0 1-1 1 0 1 0 1 1 1 0 1 0 1 0 1-1 1 1 1-1 1 1 1 0 1-1 1 1M393 75l1 1 1 0 1 0 1-1 1 0 1 1 1 0 1 0 1 0 1 0 1 0 1 0 1 0 1 0 1-1 1 0M437 75l1 0 1 1 1-1 1 0 1 1 1 0 1 0 1 0 1-1 1 1 1 0 1-1 1 0 1 1 1 0 1 0M481 76l1-1 1 1 1-1 1 1 1 0 1-1 1 1 2 0 1-1 1 1 1 0 1-1 1 1 1-1M525 75l1 0 1 1 1-1 1 1 1 0 1-1 1 0 1 0 1 0 1 1 1-1 1 1 1-1 1 0M565 76l1 0 1-1 1 1 1 0 1 0 1-1 1 0 1 0 1 1 1-1 1 1 1 0 1 0 1 0M607 76l1-1 1 0 1 1 1 0 1-1 1 1 1-1 1 1 1 0 1 0 1-1 1 0 1 0 1 1M649 76l1 0 1 0 1 0 1 0 1 0 1-1 1 1 1-1 1 1 1-1 1 0 1 0 1 1 1 0M689 75l1 0 1 1 1-1 1 0 1 0 1 0 1 0 1 1 1 0 1 0 1-1 1 0 1 1 1 0 1 0M733 76l1-1 1 1 1 0 1 0 1 0 1 0 1-1 1 1 1 0 1 0 1-1 1 1M773 76l1-1 1 0 1 1 1 0 1 0 1 0 1 0 1-1 1 1 1-1 1 1 1 0 1 0 1 0 1-1M813 76l1 0 1-1 1 1 1 0 1 0 1 0 1 0 1 0 1 0 1 0 1 0 1-1 1 1 1 0M854 76l1-1 1 0 1 1 1 0 1 0 1-1 1 1 1 0 1 0 1 0 1 0 1 0 1-1 1 1 1 0M896 75l1 1 1 0 1 0 1-1 1 0 1 1 1-1 1 0 1 1 1-1 1 1 1-1 1 1" stroke="#17becf"/><path d="M27 72l1-1 1 0 1 0 1 1 1 0 1-1 1 0 1 1 1-1 1 0 1 0 1 0 1 0 1-1 1 1 1 0M71 71l1 1 1 0 1-1 1 0 1 1 1-1 1 0 1 0 1-1 1 1 1 1 1-1 1 0 1 0 1 0 1 1M116 71l1 0 1 1 1-1 1 0 1 0 1 0 1 0 1 0 1 0 1 0 1 0 1 1 1-1 1 0 1 1 1-1M161 71l1 0 1 0 1 0 1 0 1 0 1 0 1 0 1 0 1 1 1-1 1 0 1 0 1 0 1 0 1 0 1 0 1 0M213 71l1 0 1 1 1-1 1 0 1 1 1-1 1 0 1 0 1 1 1 0 1-1 1 0 1 0 1 0 1 0 1 0 1 0M259 72l1-1 1 1 1 0 1-1 1 0 1 1 1 0 1 0 1-1 1 1 1 0 1-1 1 0 1 0 1 1 1 0 1-1M307 71l1 0 1 0 1 0 1 0 1 0 1 1 1 0 1-1 1 0 1 1 1-1 1 0 1 0 1 1 1-1 1 0M350 71l1 0 1 0 1 0 1 0 1 0 1 0 1 0 1 1 1 0 1-1 1 1 1 0 1-1 1 0 1 0M393 71l1 0 1 1 1-1 1 0 1 1 1-1 1 0 1 1 1 0 1-1 1 0 1 0 1 0 1 0 1 0 1 0M437 72l1-1 1 0 1 0 1 0 1 0 1 1 1-1 1 1 1-1 1 0 1 1 1 0 1-1 1 0 1 1 1-1M481 71l1 1 1-1 1 1 1-1 1 1 1-1 1 0 2 0 1 1 1-1 1 0 1 1 1 0 1-1M525 72l1 0 1 0 1 0 1-1 1 0 1 0 1 1 1-1 1 0 1 0 1 1 1-1 1 0 1 0M565 71l1 0 1 0 1 0 1 0 1 0 1 0 1 0 1 0 1 1 1-1 1 0 1 0 1 0 1 1M607 71l1 1 1-1 1 0 1 1 1 0 1-1 1 0 1 0 1 0 1 1 1-1 1 0 1 0 1 0M649 71l1 0 1 0 1 1 1-1 1 0 1 0 1 0 1 0 1 0 1 0 1 1 1 0 1 0 1 0M689 71l1 0 1 1 1-1 1 0 1 0 1 0 1 0 1 0 1 0 1 0 1 0 1 0 1 0 1 1 1 0M733 71l1 1 1-1 1 1 1-1 1 0 1 1 1-1 1 0 1 1 1-1 1 1 1-1M773 71l1 0 1 0 1 0 1 0 1 0 1 0 1 0 1 0 1 1 1-1 1 0 1 1 1 0 1-1 1 0M813 71l1 0 1 0 1 1 1-1 1 0 1 1 1-1 1 0 1 0 1 0 1 0 1 0 1 1 1-1M854 72l1 0 1-1 1 0 1 0 1 0 1 0 1 0 1 1 1 0 1-1 1 1 1-1 1 0 1 0 1 1M896 72l1-1 1 0 1 0 1 0 1-1 1 2 1-1 1 1 1-1 1 0 1 0 1 1 1-1" stroke="#ff7f0e"/><path d="M27 71l1 0 1 0 1 0 1 0 1 0 1 1 1 0 1-1 1 0 1 0 1 0 1 0 1 0 1 1 1 0 1-1M71 72l1-1 1 0 1 0 1 0 1 1 1 0 1-1 1 0 1 0 1 0 1 1 1-1 1 1 1-1 1 0 1 0M116 71l1 1 1 0 1-1 1 1 1-1 1 0 1 1 1 0 1 0 1 0 1-1 1 0 1 0 1 1 1-1 1 1M161 72l1-1 1 0 1 0 1 0 1 1 1 0 1 0 1-1 1 0 1 0 1 1 1-1 1 1 1-1 1 1 1 0 1-1M213 72l1 0 1 0 1 0 1 0 1-1 1 0 1 1 1-1 1 1 1-1 1 1 1-1 1 1 1 0 1 0 1 0 1-1M259 72l1-1 1 0 1 0 1 1 1-1 1 1 1 0 1-1 1 0 1 1 1-1 1 1 1-1 1 1 1-1 1 0 1 0M307 72l1 0 1 0 1-1 1 1 1 0 1-1 1 0 1 0 1 0 1 0 1 0 1 0 1 1 1-1 1 0 1 1M350 71l1 0 1 0 1 0 1 1 1-1 1 1 1-1 1 0 1 0 1 0 1 0 1 0 1 0 1 0 1 0M393 71l1 0 1 0 1 1 1-1 1 0 1 1 1 0 1-1 1 0 1 0 1 0 1 1 1-1 1 1 1-1 1 1M437 71l1 0 1 0 1 1 1 0 1 0 1 0 1-1 1 0 1 1 1 0 1-1 1 0 1 1 1-1 1 1 1-1M481 72l1-1 1 1 1 0 1-1 1 0 1 0 1 1 2 0 1 0 1-1 1 1 1-1 1 0 1 1M525 71l1 0 1 1 1-1 1 0 1 0 1 0 1 0 1 1 1 0 1-1 1 0 1 1 1-1 1 1M565 71l1 1 1-1 1 0 1 1 1 0 1 0 1 0 1 0 1 0 1 0 1-1 1 0 1 0 1 1M607 72l1 0 1 0 1 0 1-1 1 0 1 1 1-1 1 0 1 0 1 0 1 1 1 0 1-1 1 1M649 71l1 0 1 0 1 0 1 0 1 0 1 0 1 1 1-1 1 1 1 0 1 0 1 0 1-1 1 0M689 71l1 1 1-1 1 1 1 0 1 0 1-1 1 1 1-1 1 0 1 0 1 1 1-1 1 0 1 1 1 0M733 72l1 0 1-1 1 1 1 0 1-1 1 1 1 0 1-1 1 0 1 1 1 0 1 0M773 72l1 0 1 0 1 0 1-1 1 0 1 0 1 0 1 0 1 1 1-1 1 1 1 0 1 0 1 0 1 0M813 72l1 0 1-1 1 0 1 0 1 0 1 1 1-1 1 0 1 1 1 0 1-1 1 0 1 1 1-1M854 72l1-1 1 0 1 0 1 1 1-1 1 1 1 0 1 0 1-1 1 0 1 0 1 1 1 0 1-1 1 0M896 71l1 0 1 0 1 1 1 0 1 0 1 0 1 0 1-1 1 0 1 0 1 0 1 1 1-1" stroke="#d62728"/><path d="M27 67l1 0 1 0 1 1 1-2 1 2 1-1 1 0 1 0 1 0 1 0 1 0 1 0 1 0 1 1 1-1 1 1M71 68l1-1 1 1 1 1 1-1 1-1 1 0 1 1 1 0 1 0 1-1 1 1 1-1 1 0 1 0 1 1 1-1M116 68l1-1 1 0 1 0 1 1 1-1 1 0 1 0 1 1 1-1 1 0 1 0 1 0 1 1 1-1 1 0 1 1M161 67l1 0 1 1 1 0 1-1 1 0 1 1 1-1 1 0 1 0 1 0 1 0 1 0 1 0 1 0 1 0 1 0 1 0M213 67l1 0 1 1 1-1 1 0 1 0 1 1 1-1 1 1 1-1 1 0 1 0 1 0 1 0 1 0 1 1 1-1 1 0M259 67l1 0 1 0 1 1 1-1 1 0 1 0 1 0 1 0 1 0 1 0 1 0 1 1 1-1 1 0 1 0 1 1 1-1M307 67l1 0 1 1 1 0 1-1 1 0 1 0 1 1 1 0 1 0 1-1 1 1 1-1 1 0 1 0 1 0 1 0M350 68l1-1 1 0 1 0 1 0 1 0 1 1 1 0 1-1 1 0 1 1 1-1 1 1 1-1 1 0 1 0M393 67l1 0 1 0 1 0 1 0 1 1 1-1 1 0 1 1 1 0 1-1 1 0 1 0 1 1 1-1 1 0 1 0M437 67l1 0 1 0 1 1 1-1 1 1 1-1 1 0 1 0 1 0 1 1 1-1 1 0 1 1 1-1 1 0 1 0M481 67l1 1 1-1 1 0 1 0 1 0 1 0 1 0 2 1 1-1 1 0 1 0 1 0 1 1 1 0M525 67l1 1 1 0 1-1 1 0 1 1 1-1 1 0 1 1 1-1 1 1 1 0 1-1 1 1 1-1M565 67l1 0 1 0 1 0 1 0 1 1 1-1 1 0 1 0 1 0 1 0 1 0 1 1 1 0 1-1M607 67l1 1 1-1 1 1 1-1 1 0 1 0 1 0 1 0 1 1 1-1 1 1 1-1 1 0 1 0M649 67l1 0 1 1 1-1 1 0 1 0 1 0 1 0 1 0 1 0 1 0 1 0 1 0 1 0 1 0M689 67l1 0 1 0 1 0 1 1 1-1 1 0 1 0 1 0 1 0 1 0 1 1 1 0 1-1 1 1 1-1M733 67l1 0 1 0 1 0 1 0 1 0 1 1 1-1 1 0 1 0 1 0 1 0 1 1M773 67l1 0 1 1 1-1 1 0 1 0 1 1 1 0 1-1 1 0 1 0 1 1 1 0 1 0 1-1 1 1M813 67l1 0 1 0 1 0 1 1 1-1 1 0 1 0 1 1 1 0 1 0 1-1 1 0 1 0 1 0M854 68l1 0 1-1 1 0 1 1 1 0 1 0 1-1 1 0 1 0 1 0 1 0 1 0 1 1 1-1 1 0M896 67l1 0 1 0 1 1 1-1 1 1 1 0 1 0 1-1 1 1 1-1 1 0 1 1 1 0" stroke="#d62728"/><path d="M27 67l1 0 1 0 1 0 1 0 1 0 1 0 1 0 1 0 1 0 1 0 1 0 1 0 1 0 1 0 1-1 1 1M71 67l1 0 1-1 1 1 1-1 1 1 1 0 1-1 1 1 1 0 1 0 1 0 1 0 1 0 1-1 1 1 1 0M116 67l1 0 1 0 1-1 1 1 1 0 1 0 1 0 1 0 1 0 1 0 1 0 1 0 1 0 1 0 1 0 1 0M161 67l1 0 1 1 1-1 1 0 1 0 1 0 1 0 1 0 1 0 1 0 1-1 1 1 1 0 1 0 1 0 1 0 1 0M213 67l1 0 1 0 1 0 1 0 1 0 1 0 1 0 1 0 1 0 1 0 1 0 1 0 1 0 1 0 1 0 1-1 1 1M259 67l1-1 1 1 1 0 1 0 1 0 1 0 1 0 1 0 1-1 1 1 1 0 1 0 1 0 1 0 1 0 1 0 1 0M307 67l1 0 1-1 1 0 1 1 1 0 1 0 1 0 1 0 1 0 1 0 1 0 1 0 1 0 1 0 1 0 1 0M350 67l1 0 1 0 1 0 1 0 1 0 1-1 1 1 1 0 1 0 1 0 1-1 1 1 1 0 1 0 1 0M393 67l1 0 1 0 1-1 1 1 1 0 1 0 1 0 1 0 1 0 1 0 1 0 1 0 1 0 1 0 1 0 1 0M437 67l1 0 1 0 1 0 1 0 1 0 1 0 1 0 1 0 1 0 1 0 1 0 1 0 1 0 1 0 1-1 1 1M481 67l1 0 1 0 1 0 1 0 1 0 1 0 1-1 2 1 1 0 1 0 1 0 1 0 1 0 1 0M525 67l1 0 1 0 1 0 1 0 1 0 1 0 1 0 1 0 1 0 1 0 1 0 1 0 1 0 1 0M565 67l1 0 1 0 1 0 1 0 1 0 1 0 1 0 1 0 1 0 1 0 1 0 1 0 1 0 1 0M607 67l1 0 1 0 1-1 1 1 1 0 1 0 1 0 1 0 1 0 1 0 1 0 1 0 1 0 1 0M649 67l1 0 1 0 1 0 1 0 1 0 1 0 1 0 1 0 1-1 1 1 1-1 1 1 1 0 1 0M689 67l1 0 1 0 1 0 1 0 1 0 1 0 1-1 1 1 1 0 1 0 1 0 1 0 1 0 1 0 1 0M733 67l1 0 1 0 1 0 1 0 1 0 1 0 1 0 1 0 1 0 1 0 1 0 1 0M773 67l1 0 1 0 1 0 1-1 1 1 1 0 1 0 1 1 1-1 1 0 1 0 1 0 1 0 1-1 1 1M813 66l1 1 1 0 1 0 1 0 1 0 1 0 1-1 1 0 1 1 1 0 1 0 1 0 1 0 1 0M854 67l1 0 1 0 1 0 1 0 1 0 1 0 1 0 1 0 1 0 1 0 1 0 1 0 1 0 1 0 1 0M896 67l1 0 1 0 1 0 1 0 1 0 1 0 1 0 1-1 1 1 1 0 1 0 1 0 1 0" stroke="#ff7f0e"/><path d="M27 63l1 0 1 0 1-1 1 1 1 0 1 0 1-1 1 1 1 0 1 0 1 0 1 0 1 0 1 0 1 0 1 0M71 63l1-1 1 1 1 0 1 0 1-1 1 1 1-1 1 1 1 0 1 0 1-1 1 1 1-1 1 1 1 0 1-1M116 63l1 0 1 0 1 0 1 0 1 0 1 0 1 0 1 0 1 0 1-1 1 1 1 0 1 0 1 0 1 0 1 0M161 63l1 0 1 0 1 0 1 0 1 0 1 0 1-1 1 1 1 0 1-1 1 2 1-1 1 0 1 0 1-1 1 1 1 0M213 63l1 0 1 0 1-1 1 1 1 0 1 0 1 0 1-1 1 2 1-2 1 1 1 0 1 0 1 0 1 0 1 0 1 0M259 63l1 0 1 0 1 0 1 0 1 0 1 0 1 0 1 0 1-1 1 1 1 0 1 0 1 0 1 0 1 0 1-1 1 1M307 63l1 0 1 0 1-1 1 1 1-1 1 1 1 0 1 0 1 0 1-1 1 1 1-1 1 1 1 0 1 0 1 0M350 62l1 1 1 0 1 0 1-1 1 1 1 0 1 0 1 0 1-1 1 1 1 0 1 0 1 0 1 0 1 0M393 63l1 0 1 0 1 0 1-1 1 1 1 0 1 0 1 0 1 0 1 0 1 0 1 0 1 0 1 0 1 0 1 0M437 63l1 0 1 0 1 0 1-1 1 0 1 1 1 0 1 0 1 0 1 0 1 0 1 0 1-1 1 1 1 0 1 0M481 63l1 0 1 0 1 0 1 0 1 0 1 0 1-1 2 1 1 0 1 0 1 0 1 0 1 0 1 0M525 63l1 0 1 0 1 0 1 0 1 0 1 0 1 0 1 0 1 0 1-1 1 1 1 0 1 0 1 0M565 63l1 0 1 0 1 0 1 0 1 0 1 0 1 0 1-1 1 1 1 0 1 0 1 1 1-1 1 0M607 62l1 0 1 1 1 0 1 0 1 0 1 0 1 0 1 0 1-1 1 1 1 0 1 0 1 0 1 0M649 63l1 0 1 0 1 0 1 0 1-1 1 1 1 0 1 0 1 0 1 0 1 0 1 0 1 0 1 0M689 63l1 0 1 0 1 0 1 0 1 0 1 0 1 0 1 0 1 0 1 0 1 0 1 0 1 0 1-1 1 1M733 63l1 0 1 0 1 0 1 0 1-1 1 0 1 1 1 0 1 0 1 0 1 0 1-1M773 62l1 1 1 0 1-1 1 1 1-1 1 1 1 0 1 0 1 0 1 0 1 0 1-1 1 1 1-1 1 0M813 63l1-1 1 1 1 0 1 0 1 0 1 0 1 0 1-1 1 1 1-1 1 0 1 1 1 0 1-1M854 63l1-1 1 1 1 0 1 0 1 0 1 0 1 0 1 0 1-1 1 1 1 0 1 0 1 0 1 0 1 0M896 63l1-1 1 1 1-1 1 0 1 1 1 0 1 0 1-1 1 1 1 0 1 0 1-1 1 1" stroke="#ff7f0e"/><path d="M27 63l1 0 1 0 1 1 1-1 1 1 1-1 1 0 1 0 1 0 1 1 1-1 1 0 1 1 1-1 1 0 1 0M71 63l1 0 1 0 1 0 1 0 1 0 1 0 1 0 1 0 1 0 1 0 1 0 1 0 1 0 1 0 1 0 1 0M116 63l1 0 1 0 1 0 1 0 1 0 1 0 1-1 1 1 1 0 1 0 1 0 1 0 1 0 1-1 1 1 1 0M161 63l1 0 1 0 1 0 1 0 1 0 1 0 1 0 1 0 1 0 1 0 1 0 1 0 1 0 1 0 1 0 1 1 1-1M213 63l1 0 1 0 1 0 1 0 1 0 1 1 1-1 1 0 1 0 1 0 1 0 1 0 1 0 1 0 1 0 1 0 1 0M259 63l1 0 1 0 1 0 1 1 1-1 1 0 1 0 1 0 1 1 1-1 1 0 1 0 1 0 1 0 1 0 1 0 1 0M307 63l1 0 1-1 1 1 1 1 1-1 1 0 1 0 1 0 1 0 1 0 1 0 1 0 1 0 1 0 1 0 1 0M350 63l1 0 1 0 1 0 1 0 1 0 1 0 1 0 1 1 1-1 1 0 1 0 1-1 1 1 1 0 1-1M393 63l1 0 1 0 1 0 1 0 1 0 1 0 1 0 1 0 1 0 1 0 1 0 1 1 1-1 1 0 1 0 1 0M437 63l1 0 1 0 1 0 1 1 1-1 1 0 1 0 1 0 1 0 1 0 1 0 1 0 1 0 1 0 1 0 1 0M481 63l1 0 1 0 1 0 1 0 1 0 1 0 1 0 2 0 1 0 1 0 1 0 1 0 1 0 1 1M525 63l1 0 1 0 1 0 1 0 1 1 1-1 1 0 1 0 1 0 1 0 1 1 1-1 1 0 1 0M565 63l1 1 1-1 1 0 1 0 1 0 1 0 1 0 1 0 1 0 1 0 1 0 1 0 1 0 1 0M607 63l1 0 1 1 1-1 1 0 1 0 1 1 1-1 1 0 1 0 1 0 1 0 1 0 1 0 1 0M649 63l1 0 1 0 1 0 1-1 1 1 1 0 1 0 1 0 1 0 1 0 1 0 1 0 1 0 1 0M689 63l1 0 1 0 1 0 1 0 1 0 1 0 1 0 1 0 1 1 1-1 1 0 1 0 1 0 1-1 1 1M733 63l1 0 1 0 1 0 1 0 1 0 1 1 1-1 1 0 1 0 1 1 1-1 1 0M773 63l1 0 1 0 1 0 1 0 1 1 1-1 1 0 1 0 1 1 1-1 1 0 1 0 1-1 1 1 1 0M813 63l1 1 1-1 1 0 1 0 1 0 1 0 1 0 1 0 1-1 1 1 1 0 1 0 1 0 1 0M854 63l1 0 1 0 1 0 1 0 1 0 1 0 1 0 1 0 1 0 1 0 1 0 1 0 1 0 1 0 1 0M896 63l1 0 1 0 1 0 1 0 1 0 1 0 1 0 1 0 1 0 1 0 1 0 1 0 1 0" stroke="#17becf"/><path d="M27 60l1 0 1 0 1 0 1 1 1-1 1 0 1 0 1 0 1 0 1 0 1 0 1 0 1 0 1 1 1 0 1-1M71 60l1 1 1-1 1 0 1 1 1-1 1 1 1-1 1 0 1 0 1 1 1-1 1 0 1 0 1 0 1 0 1 0M116 61l1 0 1-1 1 0 1 0 1 1 1-1 1 0 1 0 1 0 1 1 1-1 1 0 1 1 1-1 1 0 1 0M161 60l1 0 1 0 1 1 1 0 1-1 1 0 1 1 1-1 1 0 1 0 1 0 1 0 1 0 1 0 1 0 1 0 1 0M213 60l1 0 1 1 1-1 1 1 1-1 1 1 1-1 1 0 1 0 1 0 1 1 1 0 1-1 1 0 1 0 1 0 1 1M259 60l1 0 1 0 1 0 1 0 1 1 1-1 1 0 1 0 1 0 1 0 1 0 1 0 1 0 1 0 1 0 1 1 1-1M307 61l1-1 1 0 1 1 1-1 1 0 1 1 1-1 1 1 1-1 1 0 1 0 1 1 1-1 1 0 1 0 1 0M350 60l1 0 1 0 1 0 1 1 1 0 1-1 1 0 1 0 1 0 1 0 1 0 1 0 1 0 1 0 1 1M393 60l1 0 1 0 1 0 1 0 1 0 1 0 1 0 1 0 1 1 1-1 1 1 1-1 1 1 1 0 1 0 1-1M437 60l1 0 1 0 1 0 1 0 1 0 1 0 1 0 1 0 1 1 1-1 1 0 1 0 1 0 1 0 1 0 1 0M481 60l1 1 1-1 1 0 1 0 1 0 1 0 1 0 2 1 1-1 1 0 1 1 1-1 1 0 1 0M525 60l1 0 1-1 1 1 1 0 1 0 1 0 1 0 1 0 1 0 1 0 1 1 1-1 1 1 1 0M565 60l1 0 1 0 1 1 1-1 1 0 1 0 1 0 1 0 1 0 1 1 1-1 1 0 1 0 1 0M607 60l1 0 1 0 1 0 1 0 1 0 1 1 1-1 1 0 1 1 1-1 1 1 1-1 1 0 1 0M649 60l1 0 1 0 1 1 1-1 1 1 1 0 1 0 1-1 1 0 1 1 1 0 1-1 1 0 1 0M689 60l1 0 1 1 1-1 1 1 1-1 1 0 1 0 1 0 1 0 1 1 1-1 1 0 1 0 1 0 1 0M733 61l1-1 1 0 1 0 1 0 1 1 1-1 1 1 1 0 1-1 1 0 1 0 1 0M773 60l1 0 1 0 1 0 1 0 1 0 1 0 1 0 1 0 1 1 1-1 1 0 1 1 1 0 1-1 1 0M813 61l1-1 1 0 1 0 1 0 1 0 1 0 1 0 1 0 1 1 1-1 1 0 1 1 1 0 1 0M854 60l1 1 1-1 1 1 1-1 1 0 1 0 1 0 1 1 1-1 1 0 1 0 1 1 1-1 1 1 1 0M896 60l1 0 1 0 1 0 1 1 1-1 1 0 1 0 1 0 1 1 1-1 1 1 1 0 1-1" stroke="#17becf"/><path d="M27 59l1 0 1 0 1 0 1-1 1 1 1 0 1 0 1-1 1 1 1 0 1 0 1 0 1 0 1-1 1 1 1-1M71 59l1 0 1 0 1 0 1 0 1 0 1-1 1 1 1 0 1-1 1 1 1 0 1 0 1 0 1 0 1 0 1-1M116 59l1-1 1 1 1-1 1 1 1-1 1 1 1-1 1 0 1 1 1 0 1 0 1 0 1 0 1 0 1 0 1-1M161 58l1 0 1 1 1 0 1 0 1 0 1 0 1 0 1 0 1-1 1 0 1 1 1 0 1 0 1 0 1-1 1 1 1 0M213 58l1 0 1 0 1 1 1 0 1-1 1 0 1 0 1 0 1 1 1-1 1 0 1 1 1 0 1-1 1 1 1 0 1 0M259 59l1 0 1 0 1 0 1 0 1 0 1-1 1 1 1-1 1 0 1 0 1 1 1 0 1-1 1 1 1 0 1 0 1 0M307 59l1 0 1 0 1-1 1 0 1 1 1 0 1 0 1 0 1 0 1 0 1-1 1 0 1 1 1-1 1 0 1 1M350 59l1 0 1 0 1 0 1 0 1-1 1 0 1 0 1 1 1-1 1 1 1-1 1 1 1 0 1 0 1 0M393 58l1 1 1 0 1 0 1 0 1-1 1 0 1 1 1-1 1 1 1 0 1 0 1-1 1 1 1 0 1 0 1-1M437 59l1-1 1 0 1 1 1 0 1 0 1 0 1 0 1 0 1 0 1 0 1-1 1 0 1 0 1 0 1 1 1 0M481 59l1-1 1 1 1 0 1-1 1 0 1 0 1 1 2-1 1 1 1-1 1 1 1 0 1-1 1 1M525 59l1 0 1-1 1 0 1 1 1 0 1 0 1 0 1 0 1-1 1 1 1-1 1 0 1 0 1 0M565 58l1 1 1-1 1 0 1 1 1 0 1 0 1 0 1 0 1 0 1 0 1 0 1-1 1 1 1 0M607 59l1 0 1 0 1 0 1-1 1 1 1 0 1 0 1-1 1 1 1 0 1 0 1 0 1 0 1 0M649 59l1 0 1-1 1 1 1 0 1-1 1 1 1 0 1-1 1 0 1 1 1 0 1 0 1-1 1 1M689 59l1 0 1 0 1 0 1 0 1-1 1 1 1-1 1 1 1 0 1 1 1-2 1 1 1-1 1 1 1 0M733 59l1-1 1 0 1 1 1 0 1 0 1-1 1 1 1 0 1-1 1 0 1 1 1 0M773 59l1 0 1 0 1-1 1 0 1 1 1 0 1 0 1 0 1 0 1-1 1 0 1 1 1 0 1 0 1 0M813 58l1 1 1 0 1 0 1 0 1-1 1 1 1-1 1 0 1 0 1 1 1 0 1 0 1 0 1-1M854 58l1 1 1-1 1 1 1-1 1 1 1-1 1 0 1 1 1-1 1 1 1 0 1 0 1 0 1 0 1 0M896 58l1 0 1 0 1 0 1 1 1-1 1 1 1-1 1 1 1-1 1 1 1-1 1 0 1 1" stroke="#1f77b4"/><path d="M27 56l1 0 1 0 1 0 1 0 1-1 1 1 1 0 1 0 1 0 1 1 1-1 1 0 1 0 1 0 1 0 1 0M71 56l1 0 1 0 1 0 1 0 1 0 1 0 1 0 1 0 1 0 1 0 1 0 1 0 1 0 1 0 1 0 1 0M116 56l1 0 1 0 1 0 1 0 1 0 1 0 1 0 1 0 1 0 1 1 1-1 1 0 1 0 1 0 1 0 1 0M161 56l1-1 1 1 1 0 1 0 1 0 1 0 1 0 1 0 1 0 1 0 1 0 1 0 1 0 1 0 1 0 1 0 1 0M213 55l1 1 1-1 1 1 1 0 1 1 1-1 1 0 1 0 1 0 1 0 1 0 1 0 1 0 1 0 1 0 1 0 1 0M259 56l1 0 1 0 1 0 1 0 1 0 1 1 1-1 1-1 1 1 1 0 1 0 1 0 1 0 1-1 1 1 1 0 1 0M307 56l1 0 1 0 1 0 1 0 1 0 1-1 1 1 1 0 1 0 1 0 1 0 1 0 1-1 1 1 1 0 1 0M350 56l1 0 1-1 1 1 1 0 1 0 1 0 1 0 1 0 1 0 1-1 1 1 1 0 1 0 1 0 1 0M393 56l1 0 1 0 1 0 1 0 1 0 1 0 1 0 1-1 1 1 1 0 1 0 1 0 1 0 1 0 1 0 1 0M437 55l1 1 1 0 1 0 1 0 1 0 1 0 1 0 1 0 1 0 1 0 1 0 1 0 1 0 1 0 1 0 1 0M481 56l1 0 1 0 1 0 1 0 1 0 1 0 1 0 2 0 1 0 1 0 1 0 1 0 1 0 1 0M525 56l1 0 1 0 1 0 1-1 1 0 1 1 1 0 1 0 1 0 1 0 1 0 1-1 1 1 1 0M565 56l1 0 1 0 1 0 1 0 1 0 1 0 1 0 1 0 1 0 1 0 1 0 1 0 1 0 1 0M607 56l1 0 1 0 1 1 1-1 1-1 1 1 1 0 1 0 1 0 1 0 1 0 1 0 1 0 1 0M649 56l1 0 1 0 1 0 1 0 1 0 1 0 1 0 1 0 1-1 1 2 1-1 1 0 1 0 1 0M689 56l1-1 1 1 1 0 1 0 1 0 1 0 1 0 1 0 1 0 1 0 1 0 1-1 1 1 1 0 1 0M733 55l1 1 1 0 1 0 1 0 1-1 1 1 1 0 1-1 1 1 1 0 1 0 1 0M773 56l1 0 1 0 1 0 1 0 1 0 1-1 1 1 1 0 1 0 1 0 1 0 1 0 1 0 1 0 1 0M813 56l1 0 1-1 1 1 1 0 1 0 1 0 1 0 1-1 1 1 1 0 1 0 1 0 1 0 1 0M854 56l1 0 1-1 1 1 1 0 1 0 1 0 1 0 1 1 1-1 1 0 1 0 1 0 1 0 1 0 1 0M896 56l1 0 1 0 1 0 1 0 1 0 1 0 1 1 1-1 1 0 1 0 1 0 1 0 1 0" stroke="#17becf"/><path d="M27 55l1-1 1 1 1-1 1 0 1 1 1-1 1 0 1 1 1 0 1-1 1 0 1 1 1-1 1 0 1 0 1 0M71 54l1 0 1 0 1 0 1 1 1 0 1-1 1 0 1 0 1 0 1 0 1 0 1 1 1-1 1 1 1-1 1 0M116 55l1-1 1 1 1 0 1-1 1 1 1-1 1 0 1 0 1 0 1 1 1-1 1 0 1 0 1 1 1-1 1 0M161 54l1 0 1 0 1 0 1 0 1 0 1 1 1-1 1 0 1 1 1 0 1 0 1 0 1-1 1 0 1 0 1 1 1-1M213 54l1 1 1-1 1 1 1 0 1 0 1-1 1 0 1 0 1 1 1-1 1 1 1-1 1 1 1-1 1 1 1 0 1-1M259 54l1 0 1 0 1 1 1-1 1 0 1 1 1-1 1 0 1 0 1 0 1 1 1 0 1-1 1 1 1 0 1 0 1 0M307 54l1 1 1 0 1-1 1 1 1-1 1 0 1 0 1 0 1 1 1-1 1 0 1 1 1 0 1-1 1 1 1 0M350 54l1 0 1 0 1 1 1-1 1 1 1 0 1 0 1 0 1-1 1 1 1-1 1 0 1 1 1-1 1 0M393 54l1 0 1 0 1 1 1-1 1 0 1 0 1 0 1 0 1 0 1 0 1 0 1 0 1 0 1 1 1-2 1 1M437 54l1 0 1 0 1 0 1 0 1 0 1 0 1 1 1-1 1 1 1-1 1 1 1-1 1 1 1 0 1 0 1 0M481 54l1 1 1-1 1 0 1 0 1 1 1-1 1 0 2 0 1 1 1-1 1 0 1 1 1 0 1-1M525 54l1 1 1 0 1 0 1 0 1 0 1-1 1 1 1-1 1 1 1-1 1 0 1 0 1 0 1 1M565 54l1 1 1-1 1 1 1-1 1 0 1 0 1 0 1 0 1 1 1 0 1-1 1 0 1 0 1 1M607 54l1 1 1-1 1 0 1 0 1 1 1-1 1 1 1 0 1-1 1 1 1-1 1 0 1 1 1 0M649 55l1 0 1-1 1 0 1 1 1 0 1-1 1 1 1-1 1 0 1 0 1 0 1 1 1-1 1 1M689 54l1 1 1-1 1 0 1 0 1 0 1 0 1 1 1-1 1 1 1-1 1 1 1-1 1 1 1-1 1 0M733 55l1 0 1-1 1 1 1-1 1 0 1 1 1-1 1 0 1 0 1 0 1 0 1 1M773 55l1-1 1 0 1 1 1 0 1-1 1 0 1 1 1 0 1 0 1 0 1-1 1 1 1-2 1 1 1 0M813 54l1 1 1-1 1 0 1 0 1 1 1-1 1 1 1 0 1-1 1 1 1 0 1-1 1 1 1-1M854 54l1 1 1-1 1 0 1 0 1 0 1 1 1-1 1 0 1 0 1 0 1 0 1 1 1-1 1 0 1 1M896 55l1-1 1 1 1 0 1 0 1 0 1-1 1 0 1 0 1 0 1 0 1 1 1 0 1-1" stroke="#d62728"/><path d="M27 52l1 0 1 0 1-1 1 1 1-1 1 1 1-1 1 1 1 0 1-1 1 1 1 0 1-1 1 0 1 0 1 0M71 51l1 0 1 0 1 0 1 0 1 0 1 0 1 1 1-1 1 0 1 1 1 0 1 0 1 0 1-1 1 0 1 0M116 51l1 0 1 1 1 0 1-1 1 0 1 0 1 1 1 0 1 0 1-1 1 0 1 2 1-2 1 0 1 0 1 1M161 52l1 0 1-1 1 1 1 0 1-1 1 1 1-1 1 0 1 0 1 1 1 0 1 0 1 0 1-1 1 0 1 1 1 0M213 52l1-1 1 0 1 1 1-1 1 0 1 1 1-1 1 1 1 0 1-1 1 0 1 0 1 0 1 1 1 0 1-1 1 0M259 52l1 0 1-1 1 0 1 0 1 0 1 0 1 1 1-1 1 0 1 1 1-1 1 0 1 0 1 1 1-1 1 0 1 1M307 51l1 0 1 0 1 0 1 1 1 0 1 0 1-1 1 1 1 0 1 0 1 0 1 0 1 0 1-1 1 1 1 0M350 51l1 1 1-1 1 1 1 0 1-1 1 0 1 1 1-1 1 0 1 0 1 0 1 1 1 0 1 0 1 0M393 52l1-1 1 0 1 1 1-1 1 0 1 1 1 0 1 0 1 0 1 0 1 0 1-1 1 1 1 0 1 0 1 0M437 52l1 0 1-1 1 0 1 1 1 0 1 0 1 0 1-1 1 1 1 0 1 0 1-1 1 0 1 0 1 1 1 0M481 51l1 0 1 1 1 0 1 0 1 0 1 0 1-1 2 0 1 1 1-1 1 1 1 0 1-1 1 0M525 51l1 1 1 0 1 0 1-1 1 0 1 1 1 0 1-1 1 0 1 0 1 0 1 0 1 0 1 0M565 51l1 1 1-1 1 0 1 1 1-1 1 1 1-1 1 1 1-1 1 1 1-1 1 1 1 0 1 0M607 51l1 1 1 0 1-1 1 0 1 1 1 0 1 0 1-1 1 0 1 1 1 0 1-1 1 1 1-1M649 51l1 0 1 1 1 0 1-1 1 1 1-1 1 1 1-1 1 1 1 0 1 0 1 0 1-1 1 1M689 51l1 0 1 1 1-1 1 1 1 0 1 0 1 0 1 0 1 0 1 0 1-1 1 1 1 0 1-1 1 0M733 52l1-1 1 0 1 0 1 1 1-1 1 1 1 0 1-1 1 0 1 0 1 0 1 1M773 51l1 0 1 0 1 1 1-1 1 1 1 0 1-1 1 1 1-1 1 0 1 0 1 1 1 0 1-1 1 1M813 51l1 1 1 0 1 0 1 0 1-1 1 0 1 1 1 0 1-1 1 0 1 0 1 1 1 0 1 0M854 52l1 0 1-1 1 1 1 0 1-1 1 0 1 1 1 0 1-1 1 0 1 0 1 0 1 0 1 0 1 0M896 52l1-1 1 1 1 0 1 0 1 0 1-1 1 0 1 1 1 0 1-1 1 0 1 1 1-1" stroke="#d62728"/><path d="M27 52l1-1 1 0 1 0 1 0 1 0 1 1 1-1 1 0 1 0 1 0 1 0 1 0 1 0 1 1 1-1 1 0M71 51l1 0 1 0 1 0 1 0 1 0 1 0 1 0 1 0 1 0 1 0 1 0 1 0 1 0 1 0 1 0 1 1M116 51l1 1 1-1 1 0 1 0 1 1 1-1 1 0 1 0 1 0 1 1 1 0 1-1 1 0 1 0 1 0 1 1M161 51l1 0 1 0 1 0 1 0 1 1 1-1 1 0 1 0 1 0 1 0 1 0 1 0 1 0 1 1 1-1 1 0 1 0M213 52l1 0 1-1 1 0 1 0 1 0 1 0 1 0 1 0 1 0 1 0 1 1 1-1 1 1 1-1 1 0 1 0 1 1M259 51l1 1 1 0 1-1 1 0 1 0 1 0 1 0 1 0 1 0 1 0 1 0 1 0 1 0 1 0 1 0 1 0 1 0M307 51l1 0 1 0 1 0 1 1 1-1 1 1 1 0 1-1 1 0 1 0 1 1 1-1 1 0 1 0 1 0 1 0M350 51l1 0 1 0 1 0 1 0 1 0 1 0 1 0 1 0 1 1 1-1 1 0 1 0 1 0 1 0 1 0M393 51l1 0 1 1 1-1 1 0 1 0 1 0 1 0 1 0 1 0 1 0 1 0 1 0 1 0 1 0 1 0 1 0M437 52l1-1 1 0 1 1 1-1 1 0 1 0 1 1 1-1 1 0 1 0 1 0 1 0 1 0 1 0 1 1 1-1M481 51l1 0 1 0 1 0 1 0 1 1 1-1 1 0 2 0 1 0 1 1 1-1 1 0 1 1 1 0M525 51l1 1 1-1 1 0 1 0 1 0 1 0 1 0 1 0 1 0 1 1 1-1 1 0 1 0 1 0M565 51l1 0 1 0 1 1 1-1 1 0 1 0 1 0 1 0 1 0 1 0 1 0 1 1 1 0 1-1M607 51l1 0 1 0 1 0 1 0 1 0 1 0 1 0 1 0 1 0 1 0 1 0 1 1 1-1 1 0M649 51l1 1 1-1 1 1 1-1 1 0 1 0 1 0 1 0 1 0 1 0 1 1 1-1 1 0 1 0M689 51l1 0 1 0 1 0 1 1 1 0 1-1 1 0 1 0 1 0 1 0 1 0 1 0 1-1 1 1 1 0M733 51l1 1 1-1 1 0 1 0 1 0 1 0 1 0 1 0 1 0 1 0 1 0 1 0M773 52l1-1 1 0 1 1 1 0 1 0 1-1 1 0 1 0 1 0 1 0 1 0 1 1 1-1 1 0 1 0M813 50l1 1 1 0 1 0 1 0 1 0 1 0 1 0 1 0 1 0 1 0 1 0 1 0 1 0 1-1M854 51l1 0 1 0 1 0 1 0 1 0 1 0 1 0 1 0 1 0 1 1 1 0 1-1 1 0 1 0 1 0M896 51l1 0 1 0 1 0 1 0 1 0 1 0 1 0 1 0 1 0 1 0 1 0 1 0 1 1" stroke="#ff7f0e"/><path d="M27 48l1-1 1 1 1 0 1 0 1 0 1 0 1 0 1 0 1 0 1 0 1 0 1 0 1 0 1 0 1 0 1 0M71 48l1 0 1 0 1 0 1 0 1 0 1 0 1 1 1-2 1 1 1-1 1 1 1 0 1 0 1 0 1 0 1 0M116 48l1 0 1 0 1 0 1 0 1 0 1 0 1 0 1 0 1-1 1 1 1-1 1 0 1 0 1 1 1 0 1-1M161 48l1-1 1 0 1 0 1 1 1 0 1 0 1 0 1 0 1-1 1 1 1-1 1 1 1 0 1 0 1 0 1 0 1 0M213 48l1 0 1-1 1 1 1 0 1 0 1 0 1 0 1 0 1 0 1 0 1 0 1 0 1 0 1 0 1 0 1 0 1 0M259 48l1 0 1 0 1 0 1-1 1 1 1 0 1 0 1 0 1 0 1 0 1 0 1 0 1 0 1 0 1 0 1 0 1 0M307 48l1 0 1 0 1 0 1 0 1 0 1-1 1 1 1 0 1 0 1 0 1 0 1 0 1 0 1 0 1 0 1 0M350 48l1 0 1 0 1 0 1 0 1 0 1 0 1 0 1 0 1-1 1 1 1 0 1 0 1 0 1-1 1 1M393 48l1 0 1 0 1 0 1 0 1-1 1 0 1 1 1 0 1 0 1 0 1 0 1 0 1 0 1 0 1 0 1 0M437 48l1 0 1 0 1 0 1 0 1 0 1 0 1 0 1 0 1 0 1 0 1 0 1 0 1 0 1 0 1 0 1 0M481 48l1 0 1 0 1 0 1 0 1 0 1 0 1 0 2 0 1 0 1 0 1 0 1 0 1 0 1 0M525 48l1 0 1-1 1 1 1-1 1 1 1 0 1 0 1 0 1 0 1 0 1 1 1-1 1 0 1 0M565 48l1 0 1 0 1 0 1 0 1 0 1 0 1 0 1 0 1 0 1 0 1 0 1 0 1 0 1 0M607 48l1 0 1 0 1 0 1 0 1 0 1 0 1 0 1 0 1 0 1 0 1 0 1 0 1 0 1 0M649 48l1-1 1 1 1 1 1-1 1 0 1 0 1 0 1 0 1 0 1 0 1 0 1 0 1 0 1 0M689 48l1 0 1 0 1 0 1 0 1 0 1 0 1 0 1 0 1 0 1-1 1 1 1 0 1 0 1 0 1 0M733 48l1-1 1 1 1 0 1 0 1 0 1 1 1-1 1 0 1 0 1 0 1 0 1 0M773 48l1 0 1 0 1 0 1 0 1 0 1 0 1 0 1 0 1 0 1 0 1 0 1-1 1 1 1 0 1 0M813 48l1 0 1 0 1 0 1 0 1 0 1 0 1 0 1-1 1 1 1 0 1-1 1 1 1 0 1 0M854 48l1 0 1 0 1 0 1 0 1 0 1 0 1 0 1 0 1 0 1-1 1 1 1 0 1 0 1 0 1 0M896 48l1 0 1 0 1 0 1 0 1 0 1 0 1 0 1 0 1 0 1 0 1 0 1-1 1 1" stroke="#ff7f0e"/><path d="M27 47l1 0 1 0 1 0 1-1 1 1 1 0 1 0 1 0 1-1 1 1 1-1 1 0 1 0 1 0 1 1 1 0M71 47l1 0 1-1 1 1 1 0 1-1 1 1 1-1 1 0 1 0 1 1 1-1 1 1 1 0 1 0 1 0 1 0M116 47l1-1 1 0 1 1 1 0 1 0 1 0 1 0 1 0 1 0 1 0 1 0 1-1 1 1 1 0 1 0 1 0M161 46l1 0 1 0 1 1 1-1 1 1 1 0 1 0 1 0 1 0 1 1 1-2 1 0 1 1 1 0 1-1 1 1 1 0M213 47l1 0 1 0 1-1 1 1 1-1 1 1 1 0 1 0 1-1 1 1 1 0 1-1 1 1 1-1 1 1 1 0 1-1M259 47l1 0 1 0 1-1 1 0 1 1 1 0 1 0 1 0 1 0 1-1 1 1 1-1 1 0 1 1 1 0 1-1 1 1M307 47l1 0 1 0 1 0 1 0 1 0 1 0 1 0 1-1 1 1 1 0 1 0 1-1 1 0 1 1 1 0 1 0M350 47l1-1 1 1 1 0 1 0 1 0 1 0 1-1 1 1 1-1 1 0 1 0 1 1 1-1 1 0 1 0M393 46l1 1 1 0 1 0 1 0 1 0 1 0 1 0 1-1 1 1 1 0 1 0 1-1 1 1 1 0 1 0 1 0M437 46l1 1 1 0 1-1 1 1 1 0 1 0 1-1 1 0 1 1 1 0 1 0 1 0 1 0 1 0 1 0 1 0M481 46l1 1 1 0 1 0 1 0 1 0 1 0 1 0 2-1 1 0 1 0 1 1 1-1 1 1 1 0M525 47l1 0 1 0 1 0 1-1 1 1 1 0 1 0 1 0 1 1 1-2 1 1 1-1 1 1 1 0M565 47l1 0 1-1 1 1 1 0 1-1 1 1 1 1 1-1 1-1 1 1 1-1 1 1 1-1 1 1M607 46l1 0 1 1 1 0 1 0 1 0 1 0 1-1 1 1 1 0 1 0 1 0 1-1 1 1 1-1M649 46l1 0 1 1 1 0 1 0 1 0 1 0 1 0 1 0 1 0 1 0 1 0 1 0 1 0 1 0M689 47l1-1 1 1 1 0 1 0 1 0 1-1 1 1 1 0 1-1 1 1 1 0 1 0 1 0 1-1 1 1M733 47l1 0 1 0 1-1 1 1 1-1 1 1 1 0 1-1 1 0 1 1 1 0 1 0M773 46l1 1 1 0 1-1 1 1 1 0 1 0 1 0 1 0 1 0 1 0 1 0 1 0 1 0 1 0 1 0M813 47l1-1 1 1 1 0 1 0 1-1 1 1 1 0 1 0 1 0 1-1 1 1 1 0 1 0 1 0M854 46l1 1 1 0 1 0 1 0 1-1 1 1 1-1 1 1 1 0 1 0 1-1 1 1 1 0 1 0 1 0M896 47l1-1 1 0 1 1 1 0 1 0 1 0 1 0 1 1 1-1 1-1 1 0 1 1 1 0" stroke="#8c564b"/><path d="M27 44l1 0 1 0 1-1 1 1 1-1 1 1 1 0 1-1 1 1 1 0 1 0 1 0 1-1 1 0 1 1 1 0M71 43l1 1 1 0 1 0 1 0 1 0 1 0 1-1 1 1 1 0 1 0 1 0 1 0 1 0 1 0 1 0 1 0M116 43l1 1 1 0 1 0 1 0 1-1 1 0 1 1 1-1 1 1 1 0 1 0 1 0 1 0 1-1 1 0 1 1M161 43l1 1 1 0 1 0 1 0 1 0 1-1 1 0 1 1 1-1 1 1 1-1 1 1 1 0 1 0 1-1 1 1 1 0M213 43l1 1 1 0 1 0 1 0 1 0 1 0 1 0 1 0 1 0 1 0 1 0 1 0 1-1 1 1 1-1 1 0 1 0M259 44l1-1 1 1 1-1 1 1 1-1 1 0 1 1 1 0 1 0 1 0 1 0 1 0 1 0 1 0 1-1 1 1 1 0M307 44l1-1 1 0 1 1 1-1 1 1 1 0 1 0 1 0 1-1 1 0 1 0 1 1 1 0 1 0 1 0 1-1M350 43l1 1 1-1 1 1 1-1 1 1 1-1 1 1 1 0 1-1 1 1 1-1 1 1 1 0 1 0 1-1M393 44l1-1 1 1 1 0 1 0 1-1 1 0 1 1 1 0 1-1 1 1 1-1 1 1 1-1 1 1 1-1 1 1M437 44l1 0 1-1 1 0 1 0 1 1 1-1 1 1 1-1 1 1 1 0 1-1 1 1 1 0 1-1 1 0 1 1M481 43l1 1 1 0 1 0 1 0 1 0 1 0 1 0 2 0 1-1 1 1 1-1 1 1 1-1 1 1M525 44l1-1 1 1 1-1 1 1 1 0 1 0 1 0 1-1 1 2 1-2 1 1 1 0 1-1 1 0M565 43l1 1 1 0 1 0 1 0 1 0 1 0 1 0 1 0 1 0 1-1 1 1 1-1 1 1 1 0M607 44l1-1 1 0 1 0 1 1 1-1 1 1 1 0 1-1 1 1 1 0 1 0 1-1 1 1 1-1M649 43l1 1 1 0 1-1 1 1 1 0 1 0 1-1 1 1 1-1 1 1 1 0 1 0 1 0 1 0M689 44l1-1 1 0 1 1 1 0 1 0 1-1 1 1 1 0 1 0 1 0 1 0 1 0 1 0 1 0 1-1M733 43l1 0 1 1 1-1 1 1 1 0 1-1 1 1 1-1 1 0 1 0 1 0 1 1M773 44l1-1 1 1 1-1 1 1 1-1 1 1 1-1 1 1 1-1 1 0 1 1 1 0 1-1 1 1 1-1M813 43l1 1 1-1 1 0 1 1 1 0 1 0 1 0 1-1 1 1 1 0 1 0 1 0 1 0 1-1M854 44l1 0 1 0 1 0 1-1 1 1 1 0 1 0 1-1 1 0 1 1 1-1 1 1 1-1 1 1 1-1M896 43l1 0 1 1 1-1 1 1 1 0 1-1 1 0 1 1 1-1 1 1 1 0 1 0 1 0" stroke="#7f7f7f"/><path d="M27 38l1 0 1 0 1 0 1 0 1 0 1 0 1 0 1 0 1 0 1 0 1 0 1 0 1 0 1 0 1 0 1 0M71 38l1 0 1-1 1 0 1 0 1 0 1 0 1 1 1 0 1-1 1 0 1 1 1 0 1 0 1 0 1 0 1 0M116 38l1 0 1 0 1 0 1 0 1 0 1 0 1 0 1 0 1 0 1 0 1 0 1 0 1 0 1 0 1 0 1 0M161 37l1 1 1 0 1 0 1 0 1-1 1 0 1 1 1 0 1-1 1 1 1-1 1 1 1 0 1 0 1 0 1 0 1-1M213 38l1 0 1 0 1 0 1 0 1 0 1 0 1 0 1 0 1 0 1 0 1 0 1 0 1 0 1 0 1 0 1 0 1 0M259 37l1 1 1 0 1 0 1 0 1 0 1 0 1 0 1 0 1 0 1 0 1 0 1 0 1 0 1 0 1 0 1-1 1 1M307 38l1 0 1 0 1-1 1 1 1 0 1 0 1-1 1 1 1 0 1 0 1 0 1 0 1 0 1 0 1 0 1 0M350 38l1 0 1 0 1 0 1 0 1 0 1 0 1 0 1-1 1 1 1 0 1 0 1 0 1-1 1 1 1 0M393 38l1-1 1 1 1-1 1 1 1 0 1 0 1 0 1 0 1 0 1 0 1 0 1 0 1 0 1-1 1 1 1 0M437 38l1 0 1 0 1 0 1-1 1 1 1 0 1 0 1-1 1 1 1 0 1 0 1 0 1 0 1 0 1 0 1-1M481 37l1 1 1 0 1 0 1 0 1-1 1 1 1-1 2 0 1 1 1-1 1 1 1-1 1 0 1 1M525 38l1 0 1 0 1 0 1-1 1 1 1 0 1-1 1 1 1 0 1 0 1 0 1 0 1 0 1 0M565 38l1 0 1 0 1 0 1 0 1-1 1 1 1 0 1 0 1-1 1 1 1 0 1 0 1 0 1 0M607 38l1 0 1 0 1-1 1 0 1 0 1 1 1 0 1 0 1 0 1 0 1 0 1 0 1 0 1 0M649 39l1-1 1 0 1 0 1 0 1 0 1-1 1 1 1 0 1 0 1 0 1 0 1 0 1-1 1 1M689 38l1 0 1 0 1 0 1-1 1 0 1 1 1 0 1 0 1 0 1 0 1 0 1 0 1 1 1-1 1 0M733 37l1 0 1 1 1 0 1 0 1-1 1 1 1 0 1-1 1 0 1 1 1 0 1 0M773 37l1 1 1 0 1 0 1 0 1 0 1 0 1 0 1 0 1 0 1 0 1 0 1 0 1 0 1-1 1 1M813 38l1 0 1 0 1 0 1 0 1 0 1 0 1 0 1 0 1-1 1 0 1 1 1 0 1 0 1 0M854 38l1 0 1 0 1 0 1 0 1 0 1 0 1 0 1 0 1 0 1-1 1 1 1 0 1 0 1 0 1 0M896 38l1 0 1 0 1 0 1 0 1 0 1 0 1-1 1 1 1 0 1 0 1 0 1 0 1 0" stroke="#e377c2"/><path d="M27 34l1 0 1-1 1 1 1-1 1 0 1 0 1-1 1 1 1 0 1 1 1-1 1 0 1 0 1 0 1 0 1 1M71 33l1 0 1 0 1 0 1 0 1 1 1-1 1 0 1 0 1 0 1 0 1 0 1 0 1 1 1-1 1 1 1-1M116 34l1-1 1 0 1 0 1 0 1 0 1 1 1-1 1 1 1-1 1 0 1 0 1 0 1 1 1-1 1 1 1-1M161 33l1 0 1 0 1 1 1-1 1 0 1 1 1-1 1 0 1 1 1-1 1 1 1 0 1-1 1 1 1 0 1-1 1 1M213 33l1 1 1-1 1 0 1 0 1 1 1 0 1 0 1 0 1 0 1-1 1 0 1 1 1 0 1-1 1 1 1 0 1-1M259 33l1 1 1 0 1 0 1-1 1 0 1 1 1-1 1 0 1 0 1 1 1 0 1 0 1 0 1 0 1 0 1-1 1 0M307 34l1-1 1 0 1 1 1-1 1 1 1 0 1 0 1 0 1-1 1 1 1-1 1 1 1 0 1 0 1-1 1 1M350 34l1 0 1-1 1 1 1 0 1 0 1-1 1 0 1 1 1 0 1-1 1 0 1 1 1 0 1 0 1-1M393 34l1 0 1 0 1-1 1 1 1 0 1-1 1 0 1 1 1 0 1 0 1 0 1-1 1 0 1 1 1-1 1 0M437 33l1 1 1-1 1 1 1-1 1 0 1 1 1 0 1 0 1 0 1-1 1 0 1 1 1-1 1 0 1 1 1-1M481 34l1-1 1 0 1 0 1 0 1 0 1 1 1-1 2 1 1 0 1-1 1 0 1 0 1 0 1 0M525 33l1 0 1 1 1 0 1-1 1 1 1-1 1 1 1-1 1 1 1 0 1-1 1 0 1 0 1 1M565 33l1 1 1 0 1-1 1 1 1 0 1-1 1 0 1 0 1 0 1 0 1 0 1 1 1-1 1 1M607 33l1 1 1 0 1 0 1 0 1 0 1 0 1 0 1 0 1-1 1 0 1 0 1 0 1 0 1 0M649 33l1 1 1-1 1 1 1 0 1-1 1 1 1-1 1 0 1 0 1 0 1 0 1 0 1 0 1 1M689 34l1-1 1 0 1 0 1 0 1 1 1-1 1 0 1 1 1 0 1 0 1 0 1-1 1 1 1 0 1 0M733 33l1 1 1-1 1 1 1 0 1-1 1 0 1 0 1 0 1 0 1 0 1 1 1-1M773 34l1-1 1 1 1 0 1-1 1 1 1-1 1 1 1-1 1 0 1 1 1-1 1 1 1-1 1 0 1 0M813 33l1 1 1-1 1 1 1-1 1 0 1 1 1-1 1 1 1-1 1 1 1-1 1 0 1 1 1 0M854 33l1 1 1 0 1-1 1 1 1 0 1 0 1-1 1 0 1 1 1 0 1 0 1-1 1 0 1 0 1 0M896 33l1 0 1 0 1 0 1 0 1 0 1 1 1 0 1 0 1 0 1-1 1 0 1 0 1 0" stroke="#e377c2"/><path d="M27 32l1 0 1 1 1 0 1 0 1 0 1-1 1 1 1-1 1 1 1-1 1 1 1 0 1-1 1 1 1 0 1-1M71 32l1 1 1 0 1 0 1 0 1-1 1 0 1 1 1-1 1 1 1 0 1-1 1 1 1 0 1-1 1 0 1 1M116 33l1-1 1 1 1 0 1 0 1 0 1 0 1-1 1 1 1-1 1 0 1 0 1 1 1 0 1 0 1 0 1 0M161 32l1 0 1 1 1-1 1 1 1 0 1-1 1 1 1-1 1 1 1-1 1 0 1 1 1 0 1 0 1-1 1 0 1 0M213 32l1 1 1 0 1 0 1-1 1 0 1 0 1 0 1 1 1 0 1 0 1 0 1 0 1 0 1 0 1-1 1 0 1 1M259 33l1-1 1 1 1 0 1 0 1-1 1 0 1 1 1-1 1 1 1 0 1-1 1 0 1 0 1 1 1-1 1 0 1 0M307 32l1 1 1 0 1 0 1-1 1 1 1-1 1 1 1-1 1 0 1 0 1 0 1 0 1 0 1 1 1 0 1 0M350 33l1-1 1 0 1 1 1-1 1 0 1 0 1 0 1 1 1-1 1 1 1 0 1-1 1 1 1-1 1 1M393 33l1 0 1-1 1 0 1 1 1-1 1 0 1 0 1 0 1 0 1 1 1 0 1 0 1-1 1 0 1 1 1-1M437 32l1 0 1 1 1 0 1 0 1-1 1 1 1 0 1-1 1 1 1 0 1-1 1 0 1 1 1 0 1-1 1 0M481 33l1-1 1 1 1-1 1 0 1 1 1 0 1 0 2 0 1-1 1 1 1-1 1 1 1-1 1 0M525 32l1 0 1 0 1 0 1 1 1 0 1 0 1 0 1-1 1 1 1 0 1-1 1 0 1 0 1 0M565 33l1-1 1 0 1 1 1-1 1 0 1 0 1 1 1-1 1 1 1-1 1 0 1 1 1 0 1 0M607 32l1 1 1 0 1-1 1 1 1-1 1 0 1 0 1 0 1 0 1 1 1-1 1 1 1-1 1 0M649 33l1 0 1 0 1-1 1 1 1 0 1 0 1 0 1-1 1 1 1-1 1 1 1-1 1 0 1 1M689 33l1-1 1 1 1 0 1 0 1 0 1 0 1 0 1 0 1 0 1 0 1-1 1 0 1 1 1 0 1 0M733 32l1 1 1-1 1 0 1 1 1-1 1 1 1 0 1 0 1 0 1 0 1-1 1 0M773 32l1 1 1 0 1 0 1-1 1 1 1 0 1-1 1 0 1 1 1-1 1 0 1 1 1 0 1-1 1 1M813 33l1 0 1-1 1 0 1 0 1 1 1 0 1-1 1 0 1 1 1-1 1 0 1 1 1-1 1 0M854 33l1-1 1 0 1 1 1-1 1 1 1-1 1 0 1 0 1 1 1 0 1-1 1 0 1 1 1 0 1-1M896 33l1-1 1 0 1 1 1-1 1 0 1 0 1 0 1 1 1-1 1 1 1-1 1 0 1 1" stroke="#9467bd"/><path d="M27 28l1 1 1 0 1 0 1 0 1 0 1 0 1 0 1 0 1 0 1 0 1 0 1 0 1 0 1 0 1 0 1 0M71 29l1 0 1 0 1-1 1 1 1 0 1 0 1 0 1 0 1 0 1 0 1 0 1 0 1 0 1 0 1 0 1 0M116 28l1 1 1 0 1 0 1-1 1 1 1-1 1 1 1 0 1 0 1 0 1 0 1 1 1-1 1 0 1 0 1 0M161 29l1 0 1 0 1 0 1 0 1 0 1 0 1 0 1 0 1 0 1 0 1-1 1 1 1 0 1-1 1 1 1 0 1-1M213 29l1 0 1 0 1 0 1 0 1 0 1-1 1 1 1-1 1 0 1 1 1 0 1 0 1 0 1 0 1-1 1 1 1 0M259 29l1 0 1 0 1 0 1 0 1 0 1 0 1 0 1 0 1 0 1-1 1 1 1 0 1 0 1-1 1 1 1 0 1 0M307 28l1 1 1 0 1-1 1 1 1-1 1 0 1 1 1-1 1 1 1 0 1 0 1 0 1 0 1 0 1 0 1 0M350 29l1 0 1 0 1 0 1 0 1 0 1 0 1 0 1 0 1 1 1-1 1 0 1 0 1 0 1 0 1 0M393 29l1 0 1 0 1 0 1 1 1-1 1 0 1 0 1 0 1 0 1 0 1 0 1 0 1 0 1 0 1 0 1 0M437 29l1 0 1-1 1 1 1 0 1 0 1 0 1 0 1 0 1 0 1 0 1 0 1 0 1 0 1-1 1 1 1 0M481 29l1 0 1 0 1 0 1 0 1 0 1 0 1 0 2-1 1 1 1 0 1 0 1 0 1 0 1 0M525 29l1-1 1 1 1 0 1-1 1 1 1 0 1 0 1 0 1 0 1 0 1 0 1 0 1-1 1 1M565 29l1 0 1-1 1 1 1 0 1 0 1 0 1 0 1-1 1 1 1 0 1 0 1 0 1 0 1 0M607 29l1-1 1 1 1 0 1 0 1 0 1-1 1 1 1 0 1 0 1 0 1 0 1 0 1 0 1-1M649 29l1 0 1-1 1 0 1 1 1 0 1 0 1 0 1 0 1 0 1 0 1 0 1-1 1 1 1 0M689 29l1 0 1 0 1-1 1 1 1 0 1-1 1 1 1 0 1 0 1 0 1 0 1 0 1 0 1 0 1-1M733 29l1 0 1 0 1-1 1 1 1 0 1 0 1 0 1 0 1 0 1 0 1 0 1-1M773 29l1 0 1 0 1 0 1 0 1 0 1 0 1 0 1 0 1 0 1 0 1 0 1 0 1 0 1 0 1 0M813 29l1 0 1 0 1 0 1 0 1 0 1 0 1 0 1 0 1-1 1 1 1 0 1 0 1-1 1 1M854 29l1 0 1 0 1 0 1 0 1 0 1 0 1 0 1 0 1 0 1-1 1 1 1 0 1 0 1-1 1 1M896 29l1-1 1 2 1-1 1 0 1 0 1-1 1 0 1 1 1 0 1 0 1 0 1 0 1 0" stroke="#9467bd"/><path d="M27 28l1 1 1-1 1 1 1-1 1 0 1 0 1 1 1-1 1 0 1 0 1 0 1 0 1 0 1 0 1 0 1 1M71 29l1 0 1 0 1-1 1 0 1 0 1 1 1-1 1 0 1 0 1 1 1-1 1 1 1-1 1 0 1 0 1 1M116 28l1 0 1 0 1 0 1 0 1 0 1 1 1 0 1-1 1 0 1 0 1 1 1-1 1 0 1 0 1 1 1 0M161 28l1 1 1 0 1 0 1-1 1 0 1 0 1 1 1-1 1 1 1 0 1 0 1-1 1 0 1 0 1 0 1 0 1 0M213 29l1-1 1 1 1 0 1-1 1 0 1 0 1 0 1 1 1 0 1-1 1 1 1-1 1 0 1 1 1 0 1 0 1 0M259 28l1 1 1 0 1 0 1-1 1 1 1-1 1 0 1 1 1-1 1 1 1 0 1 0 1-1 1 0 1 0 1 0 1 0M307 28l1 1 1-1 1 0 1 0 1 1 1-1 1 1 1-1 1 1 1-1 1 0 1 0 1 1 1 0 1 0 1-1M350 28l1 1 1 0 1-1 1 0 1 1 1 0 1 0 1-1 1 0 1 0 1 0 1 0 1 0 1 0 1 1M393 29l1-1 1 0 1 0 1 1 1 0 1-1 1 0 1 1 1-1 1 0 1 0 1 0 1 0 1 0 1 1 1 0M437 28l1 1 1-1 1 0 1 0 1 1 1 0 1 0 1-1 1 0 1 1 1-1 1 1 1-1 1 0 1 1 1 0M481 29l1 0 1 0 1 0 1-1 1 1 1 0 1 0 2-1 1 1 1-1 1 1 1-1 1 0 1 1M525 29l1-1 1 0 1 1 1 0 1-1 1 0 1 0 1 0 1 0 1 1 1 0 1-1 1 0 1 0M565 28l1 0 1 1 1 0 1 0 1 0 1-1 1 0 1 0 1 1 1-1 1 1 1 0 1-1 1 1M607 28l1 1 1-1 1 1 1 0 1-1 1 1 1-1 1 0 1 0 1 0 1 1 1-1 1 0 1 0M649 29l1 0 1 0 1-1 1 1 1-1 1 0 1 0 1 0 1 0 1 0 1 1 1 0 1 0 1-1M689 28l1 1 1 0 1-1 1 0 1 0 1 0 1 1 1-1 1 1 1 0 1-1 1 0 1 0 1 0 1 0M733 29l1-1 1 0 1 1 1-1 1 0 1 1 1-1 1 0 1 1 1-1 1 0 1 1M773 28l1 0 1 0 1 0 1 1 1-1 1 0 1 0 1 0 1 1 1-1 1 0 1 1 1-1 1 1 1-1M813 28l1 1 1 0 1 0 1 0 1-1 1 0 1 0 1 1 1-1 1 0 1 0 1 0 1 0 1 1M854 29l1-1 1 0 1 0 1 1 1-1 1 1 1-1 1 1 1-1 1 0 1 1 1 0 1 0 1-1 1 0M896 28l1 1 1-1 1 0 1 0 1 0 1 1 1 0 1-1 1 0 1 0 1 0 1 0 1 1" stroke="#2ca02c"/><path d="M27 26l1-1 1 0 1 1 1 0 1-1 1 1 1 0 1 0 1-1 1 0 1 1 1 0 1 0 1 0 1 0 1 0M71 26l1-1 1 1 1 0 1 0 1 0 1 0 1 0 1 0 1 0 1 0 1-1 1 1 1-1 1 1 1 0 1 0M116 26l1 0 1-1 1 1 1 0 1 0 1 0 1-1 1 1 1 0 1-1 1 1 1 0 1 0 1 0 1 0 1-1M161 26l1 0 1 0 1 0 1 0 1 0 1 0 1 0 1-1 1 1 1 0 1 0 1 0 1 0 1 0 1-1 1 1 1-1M213 26l1 0 1 0 1 0 1 0 1 0 1 0 1 0 1 0 1 0 1 0 1 0 1 0 1 0 1 0 1 0 1 0 1 1M259 26l1 0 1 0 1 0 1 0 1-1 1 1 1 0 1 0 1 1 1-1 1 0 1 0 1 0 1 0 1-1 1 1 1 0M307 26l1 0 1 0 1-1 1 1 1 0 1 0 1 0 1-1 1 1 1-1 1 1 1 0 1 0 1 0 1 0 1 0M350 26l1-1 1 1 1 0 1 0 1 0 1 0 1 0 1 0 1 0 1 0 1 0 1 0 1 0 1-1 1 1M393 26l1 0 1 0 1 0 1 0 1 0 1-1 1 1 1 0 1 0 1 0 1 0 1 0 1 0 1 0 1 0 1-1M437 26l1 0 1-1 1 1 1 1 1-1 1 0 1 0 1 0 1 0 1 0 1 0 1 0 1-1 1 1 1 0 1-1M481 26l1-1 1 0 1 0 1 1 1 0 1 0 1 0 2 0 1 0 1 0 1 0 1 0 1 0 1 0M525 26l1 0 1 0 1 0 1-1 1 1 1 0 1-1 1 1 1 0 1 0 1 0 1-1 1 1 1 0M565 26l1 0 1 0 1-1 1 0 1 1 1 0 1 0 1 0 1 0 1 0 1 0 1 0 1 0 1 0M607 26l1 0 1 0 1 0 1 0 1 0 1 0 1 0 1 0 1 0 1 0 1-1 1 1 1 0 1 0M649 26l1 0 1 0 1-1 1 1 1 0 1 0 1 0 1 0 1 0 1-1 1 1 1 0 1 0 1 0M689 25l1 1 1-1 1 1 1 0 1 0 1-1 1 0 1 0 1 1 1 0 1 0 1 0 1 0 1 0 1 0M733 26l1-1 1 1 1 0 1 0 1-1 1 0 1 1 1 0 1-1 1 1 1 0 1 0M773 26l1 0 1 0 1 0 1 0 1-1 1 1 1 0 1 0 1 0 1-1 1 1 1 0 1-1 1 1 1 0M813 26l1 0 1 0 1 0 1 0 1-1 1 0 1 1 1 0 1 0 1-1 1 1 1 0 1 0 1-1M854 26l1 0 1 0 1 0 1 0 1 0 1 0 1 0 1 0 1 0 1 0 1 0 1 0 1 0 1 1 1-1M896 26l1 0 1 0 1 0 1 0 1 0 1 0 1 0 1 0 1 0 1 0 1 0 1-1 1 0" stroke="#2ca02c"/><path d="M27 23l1 1 1 0 1-1 1 1 1 0 1 0 1 0 1 1 1-1 1 0 1 0 1 0 1 0 1 0 1 0 1 0M71 24l1 0 1 0 1 0 1 0 1 0 1 0 1 0 1 0 1 0 1 0 1 0 1 0 1-1 1 0 1 1 1 0M116 24l1 0 1 0 1 0 1 0 1-1 1 0 1 1 1 1 1-1 1 0 1 0 1 0 1 0 1-1 1 1 1 0M161 24l1 0 1 1 1-1 1 0 1-1 1 1 1 0 1-1 1 1 1 0 1-1 1 1 1 0 1 0 1 0 1 0 1 0M213 23l1 1 1-1 1 1 1 0 1 0 1 0 1 0 1 0 1 0 1 0 1 0 1 0 1 0 1-1 1 1 1 0 1 0M259 24l1 0 1 0 1 0 1 0 1 0 1 0 1 0 1-1 1 1 1 0 1-1 1 1 1-1 1 1 1 0 1 0 1 0M307 24l1-1 1 0 1 1 1 0 1 0 1-1 1 1 1-1 1 1 1 0 1 0 1 0 1 0 1 0 1 0 1 0M350 24l1-1 1 1 1 0 1 0 1 0 1 0 1-1 1 1 1 0 1 0 1 0 1 0 1 0 1-1 1 1M393 24l1 0 1 0 1 0 1 0 1 0 1 0 1 0 1 0 1 0 1 0 1 0 1 0 1 0 1 0 1 0 1 0M437 24l1 0 1 0 1 0 1 0 1 0 1-1 1 1 1 0 1 0 1-1 1 1 1 0 1 0 1 0 1 0 1-1M481 24l1 0 1 0 1 0 1 0 1-1 1 1 1 0 2 0 1 0 1 0 1 0 1 0 1 0 1 0M525 24l1 0 1-1 1 1 1 0 1 0 1 0 1 0 1 0 1 0 1 0 1 0 1 0 1-1 1 1M565 24l1 0 1 0 1 0 1 0 1 0 1 0 1 0 1-1 1 1 1 0 1 0 1 0 1 0 1 0M607 24l1 0 1 0 1-1 1 1 1 0 1 0 1 0 1 0 1 0 1 0 1 0 1 0 1 0 1 0M649 24l1 0 1 0 1 0 1 0 1 0 1 0 1-1 1 1 1 0 1 0 1 0 1 0 1 0 1 0M689 24l1 0 1 0 1 0 1-1 1 0 1 1 1 0 1 0 1-1 1 1 1 0 1 0 1 0 1 0 1 0M733 24l1 0 1-1 1 0 1 1 1 0 1 0 1 0 1 0 1-1 1 1 1 0 1-1M773 23l1 0 1 1 1 0 1-1 1 1 1 0 1 0 1 0 1 0 1 0 1-1 1 0 1 1 1-1 1 1M813 24l1 0 1 0 1-1 1 0 1 1 1 0 1-1 1 1 1 0 1 0 1 0 1 0 1 0 1-1M854 24l1 0 1 0 1 0 1 0 1 0 1-1 1 2 1-2 1 1 1 0 1 0 1 0 1 0 1 0 1 0M896 24l1-1 1 1 1 0 1 0 1 0 1 0 1 0 1 0 1 0 1 0 1 0 1 0 1 0" stroke="#bcbd22"/><path d="M27 21l1 0 1 0 1 1 1 0 1 0 1 0 1-1 1 0 1 0 1 1 1 0 1 0 1-1 1 0 1 0 1 0M71 22l1 0 1-1 1 0 1 1 1-1 1 0 1 1 1-1 1 0 1 1 1-1 1 0 1 1 1-1 1 0 1 0M116 22l1 0 1 0 1-1 1 1 1 0 1 0 1 0 1-1 1 0 1 0 1 0 1 1 1 0 1 0 1-1 1 1M161 21l1 1 1-1 1 0 1 1 1 0 1 0 1 0 1-1 1 0 1 1 1-1 1 1 1-1 1 1 1 0 1-1 1 1M213 22l1-1 1 0 1 0 1 0 1 0 1 1 1-1 1 1 1-1 1 1 1 0 1-1 1 1 1 0 1-1 1 1 1-1M259 22l1 0 1 0 1-1 1 0 1 0 1 0 1 0 1 0 1 0 1 0 1 1 1 0 1 0 1 0 1 0 1 0 1-1M307 22l1-1 1 1 1-1 1 1 1 0 1 0 1-1 1 1 1 0 1-1 1 1 1-1 1 1 1-1 1 0 1 1M350 22l1 0 1 0 1 0 1 0 1-1 1 0 1 1 1 0 1 0 1-1 1 1 1 0 1-1 1 0 1 0M393 21l1 1 1 0 1 0 1 0 1 0 1-1 1 1 1 0 1-1 1 1 1 0 1 0 1 0 1 0 1 0 1 0M437 22l1 0 1 0 1-1 1 0 1 1 1-1 1 0 1 1 1 0 1 0 1 0 1-1 1 0 1 1 1 0 1-1M481 22l1-1 1 0 1 1 1 0 1 0 1 0 1 0 2-1 1 0 1 1 1-1 1 0 1 0 1 1M525 22l1 0 1 0 1 0 1-1 1 1 1 0 1 0 1 0 1 0 1 0 1 0 1 0 1 0 1 0M565 21l1 1 1 0 1 0 1 0 1-1 1 1 1-1 1 0 1 1 1 0 1 0 1-1 1 0 1 1M607 22l1-1 1 1 1 0 1-1 1 0 1 0 1 1 1-1 1 0 1 1 1 0 1-1 1 1 1-1M649 22l1-1 1 1 1 0 1 0 1 0 1-1 1 0 1 1 1-1 1 0 1 1 1 0 1 0 1-1M689 22l1-1 1 1 1 0 1-1 1 0 1 1 1 0 1 0 1 0 1-1 1 1 1 0 1 0 1-1 1 0M733 21l1 1 1 0 1 0 1 0 1-1 1 1 1 0 1-1 1 0 1 1 1 0 1 0M773 22l1 0 1 0 1 0 1 0 1 0 1 0 1-1 1 0 1 0 1 1 1 0 1-1 1 1 1-1 1 1M813 21l1 1 1 0 1 0 1-1 1 0 1 0 1 1 1-1 1 1 1-1 1 1 1 0 1 0 1 0M854 22l1-1 1 0 1 1 1 0 1 0 1 0 1-1 1 1 1-1 1 1 1-1 1 1 1 0 1 0 1 0M896 22l1-1 1 1 1 0 1 0 1 0 1 0 1 0 1 0 1-1 1 0 1 1 1 0 1-1" stroke="#1f77b4"/><path d="M27 21l1 0 1 0 1 0 1 0 1 1 1-1 1 1 1 0 1-1 1 0 1 0 1 1 1-1 1 1 1 0 1 0M71 21l1 0 1 1 1-1 1 1 1 0 1-1 1 1 1-1 1 1 1-1 1 0 1 0 1 0 1 0 1 0 1 1M116 21l1 1 1-1 1 0 1 1 1-1 1 1 1-1 1 0 1 0 1 0 1 0 1 0 1 0 1 0 1 1 1-1M161 21l1 0 1 1 1-1 1 0 1 0 1 0 1 0 1 0 1 0 1 1 1-1 1 0 1 0 1 0 1 0 1 0 1 1M213 21l1 1 1-1 1 1 1-1 1 1 1-1 1 0 1 0 1 0 1 0 1 0 1 0 1 1 1 0 1-1 1 0 1 1M259 21l1 0 1 0 1 0 1 0 1 0 1 1 1-1 1 0 1 0 1 0 1 0 1 1 1 0 1-1 1 1 1 0 1-1M307 21l1 0 1 1 1-1 1 0 1 0 1 0 1 1 1 0 1 0 1-1 1 0 1 0 1 0 1 0 1 1 1-1M350 21l1 1 1-1 1 1 1 0 1 0 1-1 1 0 1 0 1 1 1-1 1 1 1-1 1 0 1 0 1 0M393 22l1 0 1-1 1 0 1 0 1 0 1 1 1-1 1 0 1 0 1 0 1 0 1 0 1 1 1-1 1 1 1-1M437 22l1 0 1-1 1 1 1-1 1 0 1 1 1 0 1-1 1 0 1 1 1-1 1 0 1 0 1 0 1 0 1 0M481 21l1 0 1 0 1 1 1-1 1 0 1 0 1 0 2 1 1 0 1-1 1 1 1 0 1 0 1-1M525 21l1 0 1 1 1-1 1 0 1 0 1 0 1 1 1-1 1 0 1 0 1 0 1 0 1 0 1 1M565 21l1 1 1-1 1 0 1 1 1-1 1 0 1 0 1 0 1 0 1 1 1-1 1 0 1 0 1 0M607 21l1 0 1 0 1 0 1 0 1 1 1-1 1 1 1 0 1-1 1 1 1-1 1 0 1 0 1 0M649 21l1 1 1-1 1 1 1-1 1 0 1 0 1 0 1 0 1 0 1 1 1 0 1-1 1 0 1 0M689 21l1 0 1 1 1-1 1 0 1 0 1 0 1 0 1 0 1 0 1 0 1 0 1 1 1-1 1 1 1-1M733 22l1-1 1 0 1 1 1-1 1-1 1 1 1 0 1 0 1 0 1 1 1-1 1 0M773 22l1-1 1 1 1 0 1-1 1 1 1 0 1-1 1 1 1-1 1 0 1 0 1 0 1 1 1-1 1 1M813 21l1 0 1 0 1 0 1 0 1 0 1 1 1-1 1 0 1 0 1 1 1-1 1 0 1 0 1 0M854 21l1 1 1 0 1 0 1 0 1-1 1 0 1 0 1 0 1 0 1 1 1-1 1 0 1 0 1 0 1 1M896 21l1 0 1 1 1 0 1 0 1 0 1-1 1 1 1-1 1 1 1 0 1-1 1 1 1 0" stroke="#9467bd"/><path d="M27 18l1-1 1 0 1 0 1 0 1 1 1-1 1 0 1 1 1-1 1 0 1 0 1 0 1 0 1 0 1 1 1-1M71 17l1 0 1 0 1 0 1 0 1 0 1 1 1 0 1-2 1 1 1 0 1 0 1 0 1 0 1 0 1 0 1 0M116 17l1 0 1 0 1 0 1 0 1 0 1 0 1 0 1 0 1 0 1 0 1 0 1 0 1 0 1 0 1 0 1 0M161 17l1 0 1 1 1-1 1 0 1 0 1 0 1 1 1-1 1 0 1 0 1 0 1 0 1 0 1 0 1 0 1 0 1 0M213 17l1 0 1 0 1 0 1 0 1 1 1-1 1 0 1 0 1 0 1 1 1-1 1 0 1 0 1 0 1 0 1 0 1 0M259 17l1 0 1 0 1 0 1 0 1 0 1 0 1 0 1 0 1 1 1-1 1 0 1 0 1 0 1 0 1 0 1 0 1 0M307 17l1 0 1 0 1 0 1-1 1 1 1 0 1 0 1 0 1 0 1 0 1 0 1 0 1 0 1 0 1 0 1 0M350 17l1 0 1 0 1 0 1 0 1 0 1 0 1 1 1-1 1 0 1 1 1-1 1 0 1 0 1 0 1 0M393 18l1 0 1-1 1 0 1 0 1 0 1 1 1-1 1 1 1-1 1 0 1 1 1-1 1 1 1-1 1 0 1 1M437 17l1 0 1 1 1-1 1 0 1 0 1 0 1 0 1 0 1 0 1 0 1 0 1 0 1 0 1-1 1 2 1-1M481 18l1-1 1 0 1 0 1 0 1 0 1 0 1 0 2-1 1 1 1 0 1 0 1 0 1 0 1 0M525 17l1 0 1 1 1-1 1 1 1-1 1 0 1 0 1 0 1 0 1 0 1 0 1 0 1 0 1 0M565 17l1 0 1 0 1 1 1-1 1 0 1 0 1 0 1 0 1 0 1 0 1 0 1 0 1 0 1 0M607 17l1 0 1 0 1 1 1-1 1 0 1 0 1 0 1 0 1 0 1 0 1 0 1 0 1 0 1 0M649 17l1 0 1 0 1 0 1 1 1-1 1 0 1-1 1 1 1 1 1-1 1 1 1-1 1 0 1 0M689 17l1 0 1 0 1 0 1 0 1 0 1 1 1-1 1 0 1 0 1 1 1-1 1 0 1 0 1 0 1 0M733 17l1 0 1 0 1 0 1 0 1 0 1 0 1 1 1-1 1 0 1 1 1-1 1 0M773 17l1 0 1 0 1 0 1 0 1 0 1 0 1 0 1 0 1 0 1 0 1 0 1 0 1 0 1 1 1-1M813 17l1 0 1 1 1-1 1 0 1 1 1-1 1 0 1 0 1 1 1-1 1 0 1 0 1 0 1 0M854 17l1 0 1 0 1 0 1 0 1 1 1-1 1 0 1 1 1-1 1 0 1 0 1 0 1 0 1 0 1 0M896 17l1 0 1 1 1-1 1 0 1 0 1 0 1 0 1 0 1 0 1 1 1-1 1 0 1 0" stroke="#bcbd22"/><path d="M27 17l1 1 1-1 1 0 1 0 1 0 1 1 1-1 1 0 1 1 1 0 1 0 1-1 1 0 1 0 1 1 1-1M71 17l1 0 1 0 1 0 1 0 1 0 1 1 1-1 1 0 1 1 1 0 1-1 1 1 1 0 1-1 1 0 1 1M116 18l1-1 1 1 1 0 1-1 1 1 1 0 1-1 1 0 1 1 1-1 1 0 1 1 1-1 1 0 1 1 1-1M161 17l1 0 1 0 1 0 1 0 1 1 1 0 1-1 1 0 1 0 1 1 1-1 1 0 1 1 1-1 1 0 1 0 1 1M213 18l1 0 1 0 1 0 1-1 1 0 1 0 1 0 1 1 1 0 1-1 1 1 1 0 1 0 1-1 1 0 1 1 1 0M259 17l1 0 1 1 1-1 1 1 1 0 1-1 1 0 1 1 1-1 1 0 1 0 1 0 1 0 1 0 1 0 1 1 1-1M307 17l1 0 1 0 1 0 1 1 1-1 1 0 1 0 1 0 1 0 1 0 1 0 1 1 1-1 1 0 1 0 1 1M350 18l1-1 1 0 1 1 1-1 1 0 1 1 1-1 1 0 1 0 1 0 1 0 1 1 1 0 1 0 1-1M393 17l1 0 1 0 1 1 1 0 1-1 1 0 1 0 1 0 1 0 1 0 1 0 1 0 1 1 1-1 1 0 1 0M437 17l1 0 1 1 1-1 1 0 1 1 1-1 1 0 1 0 1 1 1-1 1 0 1 1 1 0 1 0 1-1 1 0M481 17l1 0 1 0 1 0 1 0 1 1 1-1 1 0 2 0 1 0 1 0 1 0 1 0 1 0 1 0M525 17l1 1 1-1 1 1 1-1 1 0 1 0 1 0 1 0 1 0 1 0 1 1 1-1 1 0 1 0M565 17l1 1 1 0 1 0 1 0 1-1 1 0 1 0 1 0 1 0 1 1 1-1 1 1 1-1 1 0M607 17l1 0 1 0 1 0 1 1 1-1 1 0 1 1 1-1 1 0 1 0 1 0 1 1 1-1 1 1M649 17l1 0 1 1 1-1 1 0 1 0 1 1 1-1 1 0 1 0 1 0 1 0 1 0 1 1 1 0M689 17l1 0 1 0 1 0 1 1 1-1 1 1 1-1 1 1 1-1 1 0 1 0 1 0 1 1 1-1 1 0M733 18l1 0 1 0 1-1 1 1 1 0 1 0 1-1 1 0 1 0 1 0 1 0 1 1M773 18l1 0 1 0 1 0 1-1 1 0 1 0 1 0 1 1 1-1 1 0 1 0 1 0 1 1 1-1 1 0M813 17l1 0 1 1 1 0 1 0 1 0 1-1 1 0 1 1 1-1 1 1 1-1 1 0 1 0 1 0M854 18l1-1 1 1 1-1 1 0 1 1 1 0 1 0 1 0 1 0 1-1 1 0 1 1 1 0 1-1 1 0M896 17l1 1 1 0 1 0 1 0 1 0 1-1 1 0 1 1 1-1 1 1 1-1 1 0 1 0" stroke="#2ca02c"/><path d="M27 12l1 1 1-1 1 0 1 0 1 0 1 1 1-1 1 0 1 0 1 0 1 1 1-1 1 0 1 0 1 1 1-1M71 12l1 0 1 0 1 0 1 0 1 1 1 0 1 0 1-1 1 0 1 0 1 1 1-1 1 1 1-1 1 0 1 0M116 12l1 0 1 0 1 0 1 0 1 1 1-1 1 0 1 0 1 1 1 0 1-1 1 0 1 0 1 0 1 0 1 0M161 12l1 0 1 0 1 0 1 0 1 0 1 0 1 1 1 0 1-1 1 1 1 0 1-1 1 0 1 0 1 0 1 0 1 0M213 13l1-1 1 1 1-1 1 0 1 0 1 0 1 0 1 0 1 0 1 0 1 0 1 0 1 1 1 0 1-1 1 0 1 0M259 12l1 0 1 0 1 0 1 0 1 0 1 0 1 1 1-1 1 0 1 0 1 0 1 1 1-1 1 0 1 0 1 0 1 1M307 12l1 0 1 0 1 0 1 0 1 0 1 0 1 0 1 0 1 0 1 0 1 1 1-1 1 0 1 0 1 0 1 0M350 13l1-1 1 0 1 0 1 0 1 1 1-1 1 0 1 0 1 0 1 0 1 0 1 1 1-1 1 1 1-1M393 12l1 0 1 0 1 1 1-1 1 0 1 0 1 0 1 1 1-1 1 1 1-1 1 0 1 1 1-1 1 0 1 0M437 12l1 0 1 0 1 0 1 0 1 0 1 0 1 0 1 0 1 1 1-1 1 0 1 0 1 0 1 0 1 0 1 1M481 12l1 0 1 0 1 0 1 0 1 0 1 0 1 0 2 0 1 0 1 1 1-1 1 0 1 0 1 0M525 12l1 0 1 0 1 0 1 0 1 0 1 0 1 1 1-1 1 0 1 1 1-1 1 0 1 0 1 0M565 12l1 0 1 0 1 0 1 0 1 0 1 1 1-1 1 0 1 0 1 1 1-1 1 0 1 0 1 0M607 12l1 1 1-1 1 0 1 1 1-1 1 0 1 0 1 1 1-1 1 0 1 0 1 0 1 1 1-1M649 12l1 0 1 0 1 0 1 0 1-1 1 1 1 1 1-1 1 0 1 0 1 0 1 0 1 0 1 0M689 12l1 0 1 0 1 1 1-1 1 0 1 1 1-1 1 0 1 0 1 0 1 1 1 0 1-1 1 1 1 0M733 12l1 0 1 0 1 1 1 0 1-1 1 0 1 1 1-1 1 0 1 1 1-1 1 0M773 12l1 0 1 0 1 0 1 0 1 0 1 0 1 0 1 0 1 0 1 0 1 0 1 0 1 0 1 0 1 0M813 12l1 0 1 0 1 0 1 0 1 0 1 0 1 0 1 0 1 0 1 0 1 0 1 0 1 0 1 0M854 12l1 0 1 0 1 1 1-1 1 0 1 0 1 0 1 0 1 0 1 0 1 0 1 1 1-1 1 0 1 1M896 12l1 0 1 0 1 0 1 0 1 0 1 0 1 0 1 1 1-1 1 0 1 0 1 0 1 0" stroke="#bcbd22"/><path d="M27 13l1-1 1 0 1 0 1 0 1 0 1 0 1 0 1 0 1 0 1 0 1 0 1 0 1 0 1 0 1 1 1 0M71 12l1 0 1 0 1 0 1 0 1 0 1 0 1 0 1 0 1 0 1 0 1 0 1 0 1 0 1 1 1-1 1 0M116 11l1 1 1 1 1-1 1 0 1 0 1 0 1 0 1 0 1 0 1 0 1 0 1 0 1 0 1 0 1 0 1 0M161 12l1 0 1 0 1 0 1 0 1 0 1 0 1 0 1 0 1 0 1 0 1 0 1 0 1 0 1-1 1 1 1 1 1-1M213 12l1 0 1 0 1 1 1-1 1 0 1 0 1 1 1-1 1 0 1 1 1-1 1 0 1 1 1-1 1 0 1 0 1 0M259 12l1 0 1 0 1 0 1 0 1 0 1 0 1 1 1-1 1 0 1 0 1 0 1 1 1-1 1 0 1 0 1 0 1 0M307 12l1 0 1 0 1 0 1 0 1 0 1 0 1 0 1 0 1 0 1 0 1 0 1 0 1 0 1 0 1 0 1 0M350 12l1 0 1 0 1 0 1 0 1 0 1 0 1 0 1 0 1 0 1 0 1 0 1 0 1 0 1 0 1 0M393 12l1 0 1 0 1 1 1-2 1 1 1 1 1-1 1 0 1 0 1 0 1 0 1 0 1 0 1 1 1 0 1-1M437 12l1 0 1 0 1 0 1 0 1 0 1 0 1 0 1 1 1-1 1 0 1 0 1-1 1 1 1 0 1 0 1 0M481 12l1 0 1 0 1 0 1 0 1 0 1 0 1 0 2 0 1 0 1 0 1 1 1-1 1 0 1 0M525 12l1 0 1 0 1 0 1 0 1 0 1 0 1 0 1 0 1 0 1 0 1 1 1-1 1 0 1 0M565 12l1 0 1 0 1 0 1 0 1 0 1 0 1 0 1 0 1 0 1 0 1 1 1-1 1 0 1 0M607 12l1 0 1 0 1 0 1 0 1 0 1 0 1 0 1 1 1-1 1 0 1 0 1 1 1-1 1-1M649 12l1 0 1 0 1 0 1 0 1 0 1-1 1 1 1 0 1 0 1 0 1 0 1 0 1 0 1 0M689 12l1 0 1 0 1 0 1 0 1 0 1 0 1 0 1 0 1 0 1 0 1 0 1 0 1 0 1 0 1 0M733 12l1 0 1 0 1 0 1 0 1 0 1 0 1 0 1 0 1 0 1 0 1 0 1 0M773 12l1 0 1 0 1 0 1 0 1 1 1-1 1 0 1 0 1 0 1 0 1 0 1 0 1 0 1 0 1 0M813 12l1 0 1 0 1 0 1 0 1 0 1 0 1 0 1 0 1 0 1 0 1 0 1 0 1 0 1 0M854 12l1 0 1 0 1 0 1 0 1 0 1 0 1 0 1 0 1 0 1 0 1 0 1 0 1 0 1 0 1 0M896 12l1 0 1 0 1 0 1 1 1-1 1 1 1-1 1 0 1 0 1 0 1 0 1 0 1 0" stroke="#2ca02c"/><path d="M27 12l1 0 1-1 1 1 1 0 1 0 1 0 1 0 1 0 1 0 1-1 1 1 1-1 1 1 1-1 1 1 1 0M71 12l1 0 1 0 1 0 1 0 1 0 1 0 1 0 1 0 1 0 1-1 1 1 1 0 1 0 1 0 1 0 1 0M116 12l1 0 1 0 1 0 1 0 1 0 1-1 1 1 1 0 1 0 1 0 1 0 1 0 1 0 1-1 1 1 1 1M161 12l1 0 1 0 1 0 1 0 1-1 1 0 1 0 1 1 1 0 1 0 1-1 1 1 1 0 1 0 1 0 1 0 1 0M213 12l1 0 1-1 1 0 1 1 1 0 1 0 1-1 1 1 1 0 1 0 1 0 1 0 1 0 1 0 1 0 1 0 1 0M259 12l1 0 1 0 1 0 1 0 1-1 1 1 1 0 1 0 1-1 1 1 1 0 1 0 1-1 1 1 1 0 1 0 1 1M307 11l1 1 1 0 1-1 1 0 1 1 1-1 1 1 1 0 1 0 1 0 1 0 1 0 1-1 1 1 1-1 1 1M350 11l1 1 1 0 1 0 1 0 1 0 1 0 1 0 1 0 1 0 1-1 1 1 1 0 1 0 1 0 1 0M393 11l1 1 1-1 1 1 1 0 1 0 1 0 1 0 1-1 1 1 1 0 1 0 1 0 1 0 1-1 1 1 1 0M437 12l1 0 1 0 1 0 1 0 1 0 1 0 1 0 1-1 1 1 1 0 1 0 1 0 1 0 1 0 1-1 1 1M481 11l1 1 1 0 1 0 1 0 1 0 1 0 1 0 2 0 1 0 1 0 1-1 1 1 1-1 1 1M525 12l1 0 1 0 1 0 1 0 1 0 1 0 1 0 1 0 1 0 1 0 1 0 1 0 1 0 1 0M565 12l1 0 1 0 1 0 1 0 1 0 1 0 1 0 1 0 1 0 1 0 1 0 1-1 1 1 1 0M607 12l1 0 1 0 1 0 1 0 1 0 1 0 1-1 1 1 1-1 1 1 1 0 1 0 1 0 1-1M649 12l1 0 1 0 1 0 1 0 1 0 1 0 1 0 1-1 1 1 1 0 1-1 1 0 1 1 1-1M689 12l1 0 1-1 1 1 1 0 1 0 1-1 1 1 1-1 1 1 1 0 1 0 1 0 1 0 1 0 1 0M733 11l1 1 1 0 1-1 1 1 1 0 1 0 1-1 1 0 1 0 1 1 1 0 1 0M773 12l1 0 1 0 1 0 1 0 1 0 1 0 1 0 1-1 1 1 1 0 1 0 1 0 1-1 1 1 1 0M813 12l1 0 1 0 1 0 1-1 1 1 1 0 1 0 1 0 1 0 1 0 1-1 1 0 1 1 1 0M854 12l1 0 1 0 1-1 1 0 1 1 1-1 1 1 1 0 1 0 1 0 1-1 1 0 1 1 1-1 1 1M896 12l1 0 1 0 1 0 1 0 1 0 1 0 1 0 1 0 1 0 1 0 1 0 1 0 1 0" stroke="#bcbd22"/><path d="M27 40l1 0 1 0 1 0 1 0 1 0 1 0 1 0 1 0 1 0 1 0 1 0 1 1 1-1 1 0 1 0 1 0M71 40l1 0 1 0 1 0 1 0 1 0 1 0 1 0 1 0 1 0 1 0 1 0 1 0 1 0 1 0 1 0 1 0M116 40l1 0 1 0 1 0 1 0 1 0 1 0 1 0 1 0 1 0 1 0 1 0 1 0 1 0 1 1 1-1 1 0M161 40l1 0 1 0 1 0 1 1 1 0 1-1 1 0 1 0 1 0 1 0 1 0 1 0 1 0 1 0 1 1 1 0 1-1M213 40l1 1 1 0 1-1 1 0 1 0 1 0 1 0 1 0 1 0 1 0 1 0 1 0 1 0 1 1 1-1 1 1 1-1M259 40l1 0 1 0 1 1 1-1 1 0 1 0 1 0 1 0 1 0 1 0 1 1 1-1 1 0 1 0 1 0 1 0 1 0M307 40l1 0 1 0 1 0 1 0 1 1 1-1 1 0 1 0 1 0 1 0 1 0 1 0 1 0 1 0 1 0 1 0M350 40l1 0 1 0 1 0 1 0 1 0 1 1 1-1 1 0 1 0 1 1 1-1 1 1 1-1 1 0 1 0M393 40l1 0 1 1 1 0 1-1 1 0 1 0 1 0 1 0 1 0 1 0 1 0 1 0 1 0 1-1 1 1 1-1M437 40l1 0 1 0 1 0 1 0 1 0 1 1 1-1 1 0 1 0 1 0 1 0 1 0 1 0 1 0 1 0 1 0M481 41l1-1 1-1 1 1 1 1 1-1 1 0 1 0 2 0 1 0 1 0 1 0 1 0 1 1 1-1M525 40l1 0 1 0 1 0 1 1 1-1 1 0 1 0 1 1 1-1 1 0 1 0 1 1 1-1 1 0M565 40l1 1 1-1 1 0 1 1 1-1 1 0 1 0 1 0 1 0 1 0 1 0 1 1 1-1 1 1M607 40l1 0 1 0 1 0 1 0 1 0 1 0 1 0 1 0 1 0 1 0 1 1 1-1 1 0 1 0M649 40l1 0 1 0 1 0 1 0 1 0 1 0 1 0 1 0 1 0 1 0 1 0 1 0 1 0 1 0M689 40l1 0 1 0 1 0 1 0 1 0 1 0 1 0 1 0 1 0 1 0 1 1 1-1 1 0 1 0 1 0M733 40l1 1 1-1 1 0 1 1 1 0 1 0 1-1 1 0 1 1 1-1 1 0 1 0M773 40l1 1 1-1 1 0 1 0 1 0 1 0 1 0 1 0 1 0 1 0 1 0 1 0 1 0 1 0 1 0M813 40l1 0 1 0 1 0 1 0 1 0 1 0 1 0 1 0 1 0 1 0 1 0 1 1 1-1 1 0M854 40l1 0 1 0 1 0 1 0 1 0 1 0 1 0 1 0 1 0 1 0 1 1 1-1 1 0 1 0 1 0M896 40l1 0 1 0 1 0 1 0 1 0 1 1 1-1 1 0 1 0 1 0 1 0 1 0 1 0" stroke="#7f7f7f"/><path d="M27 45l1 0 1 0 1 0 1-1 1 1 1 0 1 0 1 0 1 0 1 0 1 0 1 1 1-1 1 0 1 1 1-1M71 45l1 0 1 0 1 0 1 0 1 0 1 0 1 0 1 0 1 0 1 0 1 0 1 0 1 0 1 0 1 0 1 0M116 46l1-1 1 0 1 0 1 0 1 0 1 1 1-1 1 0 1 1 1-1 1 1 1-1 1 0 1 0 1 0 1 0M161 45l1 0 1 0 1 0 1 0 1 0 1 0 1 0 1 0 1 0 1 0 1 0 1 0 1 0 1 0 1 0 1 0 1 0M213 45l1 0 1 0 1 0 1 0 1 0 1 0 1 0 1 0 1 0 1 0 1-1 1 1 1 0 1 0 1 0 1 0 1 0M259 45l1 0 1 0 1 0 1 0 1 0 1 0 1 0 1 0 1 0 1 0 1 1 1-1 1 0 1 0 1 0 1 0 1 0M307 45l1 0 1 1 1-1 1 0 1 0 1 0 1 0 1 0 1 0 1 0 1 0 1 1 1-1 1 0 1 0 1 0M350 44l1 1 1 0 1 1 1-1 1 1 1-1 1 0 1 0 1 0 1 1 1-1 1 0 1 0 1 0 1 0M393 45l1 0 1 0 1 0 1 0 1 0 1 0 1 1 1-1 1 0 1 0 1 0 1 0 1 1 1-1 1 1 1-1M437 45l1 0 1 0 1 1 1-1 1 0 1 0 1 0 1 1 1-1 1 0 1 1 1 0 1-1 1-1 1 1 1 0M481 45l1 0 1 0 1 0 1 0 1 0 1 1 1-1 2 0 1 0 1 0 1 0 1 0 1 0 1 0M525 46l1-1 1 0 1 0 1 0 1 0 1 0 1 0 1 0 1 0 1 0 1 0 1 0 1 0 1 0M565 45l1 0 1-1 1 1 1 0 1 0 1 0 1 0 1 0 1 0 1 0 1-1 1 1 1 0 1 0M607 45l1 0 1 0 1 0 1 0 1 0 1 0 1 0 1 1 1-1 1 0 1 0 1 0 1 0 1 0M649 45l1 1 1 0 1 0 1-1 1 0 1 0 1 0 1 0 1 0 1 0 1 0 1 0 1 0 1 0M689 45l1 0 1 1 1-1 1 0 1 0 1 0 1 1 1-1 1 0 1 0 1 1 1-1 1 0 1 0 1 0M733 45l1 0 1 0 1 0 1 0 1 1 1-2 1 1 1 0 1 1 1-2 1 2 1-2M773 45l1 0 1 0 1 0 1 0 1 1 1-1 1 0 1 0 1 0 1 0 1 0 1 0 1 0 1 0 1 0M813 45l1 0 1 0 1 1 1-1 1 0 1 0 1 0 1 0 1 0 1 0 1 0 1 0 1 0 1 0M854 45l1 0 1 0 1 0 1 0 1 0 1 0 1 0 1 0 1 1 1-1 1 0 1 0 1 0 1 0 1 0M896 45l1 0 1 0 1 0 1 0 1 0 1 0 1 0 1 0 1 0 1 1 1-1 1 0 1 1" stroke="#e377c2"/><path d="M27 68l1 1 1-1 1 0 1 0 1 1 1-1 1 1 1 0 1-1 1 0 1 0 1 0 1 0 1 0 1 0 1 0M71 69l1 0 1-1 1 0 1 0 1 0 1 1 1-1 1 0 1 0 1 0 1 0 1-1 1 2 1-1 1 0 1 0M116 68l1 1 1-1 1 0 1 0 1 0 1 0 1 0 1 0 1 0 1 0 1 0 1 0 1 0 1 0 1 0 1 0M161 68l1 0 1 1 1-1 1 0 1 1 1 0 1-1 1 0 1 1 1 0 1-1 1 0 1 0 1 0 1 1 1 0 1-1M213 68l1 0 1 0 1 0 1 0 1 0 1 0 1 0 1 0 1 1 1 0 1-1 1 0 1 0 1 0 1 0 1 0 1 0M259 68l1 0 1 0 1 0 1 0 1 0 1 1 1-1 1 0 1 1 1-1 1 0 1 0 1 0 1 0 1 0 1 1 1-1M307 68l1 0 1 0 1 0 1 0 1 0 1 0 1 1 1 0 1 0 1-1 1 0 1 0 1 1 1-1 1 0 1 0M350 68l1 0 1 1 1-1 1 0 1 1 1-1 1 1 1-1 1 0 1 0 1 0 1 0 1 0 1 1 1-1M393 68l1 0 1 1 1-1 1 1 1-1 1 0 1 1 1-1 1 0 1 1 1-1 1 1 1-1 1 0 1 0 1-1M437 68l1 0 1 0 1 1 1-1 1 1 1 0 1-1 1 0 1 0 1 1 1-1 1 0 1 0 1 1 1 0 1-1M481 68l1 0 1 0 1 0 1 0 1 1 1-1 1 0 2 0 1 0 1 0 1 0 1 0 1 0 1 0M525 68l1 0 1 0 1 1 1-1 1 0 1 1 1 0 1-1 1 0 1 0 1 0 1 0 1 0 1 0M565 68l1 0 1 1 1-1 1 0 1 1 1-1 1 0 1 0 1 1 1-1 1 1 1 0 1-1 1 1M607 68l1 0 1 0 1 0 1 0 1 0 1 0 1 0 1 0 1 0 1 0 1 0 1 0 1 1 1-1M649 68l1 0 1 0 1 0 1 1 1-1 1 0 1 0 1 0 1 1 1-1 1 0 1 0 1 0 1 0M689 69l1-1 1 0 1 1 1-1 1 0 1 0 1 0 1 0 1 0 1 0 1 0 1 1 1-1 1-1 1 2M733 68l1 0 1 0 1 0 1 0 1 0 1 1 1 0 1-1 1 0 1 0 1 0 1 0M773 69l1-1 1 0 1 1 1-1 1 0 1 0 1 0 1 0 1 1 1-1 1 0 1 0 1 1 1-1 1 0M813 68l1 0 1 1 1-1 1 0 1 0 1 1 1 0 1 0 1 0 1-1 1 0 1 0 1 0 1 0M854 69l1-2 1 1 1 0 1 0 1 0 1 0 1 0 1 0 1 0 1 0 1 0 1 0 1 0 1 0 1 0M896 68l1-1 1 1 1 0 1 0 1 1 1 0 1 0 1-1 1 1 1-1 1-1 1 2 1-1" stroke="#17becf"/></g></g>
<rect x="234" y="33" width="69" height="5" fill="#fff"/>
<text class="an" x="237" y="37.4" font-size="5" font-weight="bold" textLength="63" lengthAdjust="spacingAndGlyphs">Example time-series data</text>
<text class="an" x="522.9" y="97.4" font-size="3.8" textLength="15" lengthAdjust="spacingAndGlyphs" style="stroke-width:0.1px">*Acc data</text>
<!-- y ticks top -->
<g class="tk" font-size="5" text-anchor="end">
<text x="29.1" y="41.0" textLength="7.4" lengthAdjust="spacingAndGlyphs">1.0</text><text x="29.1" y="52.9" textLength="7.4" lengthAdjust="spacingAndGlyphs">0.8</text><text x="29.1" y="64.8" textLength="7.4" lengthAdjust="spacingAndGlyphs">0.6</text><text x="29.1" y="76.7" textLength="7.4" lengthAdjust="spacingAndGlyphs">0.4</text><text x="29.1" y="88.6" textLength="7.4" lengthAdjust="spacingAndGlyphs">0.2</text><text x="29.1" y="100.5" textLength="7.4" lengthAdjust="spacingAndGlyphs">0.0</text>
</g>
<text class="tk" x="0" y="0" font-size="10.38" text-anchor="middle" transform="translate(11.7 67.5) rotate(-90) scale(0.5)" style="stroke-width:0.24px">Normalized Acc data</text>
<!-- x ticks top -->
<g class="tk" font-size="5.3" text-anchor="middle">
<text x="53.6" y="107.9">0</text><text x="115.8" y="107.9">2000</text><text x="178.1" y="107.9">4000</text><text x="240.4" y="107.9">6000</text><text x="302.7" y="107.9">8000</text><text x="365" y="107.9">10000</text><text x="427.3" y="107.9">12000</text><text x="489.5" y="107.9">14000</text>
</g>
<text class="an" x="217" y="118.3" font-size="5.66" textLength="119.6" lengthAdjust="spacingAndGlyphs">Number of Samples included in the <tspan font-weight="bold">time-series</tspan></text>

<!-- ===== Annotation: Sequence bracket ===== -->
<g fill="none" stroke="#d4d4d4" stroke-width="0.8">
<path d="M28.3 143.5V119.4H141V143.5"/>
<path d="M28.3 124.4H141"/>
</g>
<path d="M26.8 143 L29.8 143 L28.3 145.2Z M139.5 143 L142.5 143 L141 145.2Z" fill="#c8c8c8"/>
<text class="an" x="74" y="124" font-size="4.6" font-weight="bold" textLength="20.8" lengthAdjust="spacingAndGlyphs">Sequence</text>
<text class="an" x="67.9" y="139" font-size="5" font-weight="bold" textLength="25.3" lengthAdjust="spacingAndGlyphs">Activity end</text>
<!-- arrow down -->
<path d="M271.3 133.7V141" stroke="#222" stroke-width="0.6"/>
<path d="M269.9 139.8L272.7 139.8L271.3 142.4Z" fill="#222"/>
<text class="an" x="232" y="155.6" font-size="5.2" font-weight="bold" textLength="76.4" lengthAdjust="spacingAndGlyphs">Non-uniform shape sequences</text>

<!-- ===== BOTTOM CHART ===== -->
<g fill="none" stroke="#cdcdcd" stroke-width="1">
<path d="M28.4 147.3V213.1H141 M28.4 147.3H141"/>
<path d="M141.3 155.3H169.8 M141.3 221.5H169.8"/>
<path d="M170.6 172.4H395.8 M170.6 237.8H395.8"/>
<path d="M397.6 182.6H438.8 M397.6 248H438.8"/>
<path d="M439.6 194.2H544V260H439.6"/>
</g>
<g class="d"><g transform="translate(48.00 210.10) scale(0.5000 -0.59800)" fill="none" stroke-width="0.70" stroke-opacity="1.00"><path d="M112 60l1-10 1-13 1 3 1 11 1 10 1 2 1 7 1-22 1-12 1-2 1-2 1 24 1 13 1 7 1-16 1-17 1-9 1 0 1 3 1 12 1 6 1 0 1 4" stroke="#1f77b4"/><path d="M0 48l1 7 1 1 1 1 1 9 1 11 1 8 1-9 1-16 1-11 1-14 1 28 1 7 1 4 1 0 1-8 1-10 1-4 1 3 1 10 1 0 1-14M35 49l1-4 1 1 1-3 1-14 1-4 1-1 1 16 1 10 1-1 1-10 1-12 1-4 1 7 1 11 1 3 1 0 1-9 1-10 1 0 1 6 1 12 1 0 1 2 1 6" stroke="#ff7f0e"/><path d="M73 38l1 13 1 9 1 10 1 8 1-2 1-11 1-21 1-20 1 24 1 15 1 9 1 0 1-4 1-11 1-4 1-2 1 1 1 12 1 9 1-3 1-9 1-7 1-1 1-3 1-10M112 42l1 15 1 5 1-4 1-2 1 4 1 8 1 22 1 6 1-13 1-15 1-20 1-6 1 0 1 13 1 13 1 5 1-1 1 0 1-9 1-10 1 0 1-3 1-10" stroke="#7f7f7f"/><path d="M0 20l1 28 1 9 1 0 1 9 1 12 1 8 1-9 1-11 1-12 1-8 1 15 1 11 1 3 1 2 1-4 1-7 1-5 1-1 1 8 1-10 1-39M35 32l1 9 1 11 1 9 1 6 1-3 1-13 1-5 1-4 1-1 1 7 1 6 1 5 1 0 1 0 1-5 1-10 1-10 1-14 1 22 1 7 1 9 1 1 1-9 1-17M150 29l1 13 1 4 1-7 1 1 1 7 1 7 1 3 1-3 1-6 1-7 1 1 1 12 1 1 1 4 1-5 1-7 1 0 1 0 1 11 1 2 1-1 1-5 1-11 1 3 1 5 1 11 1 5 1-13 1-15 1-10" stroke="#9467bd"/><path d="M150 49l1-10 1-10 1-6 1-5 1-1 1 3 1 14 1 5 1-9 1-15 1-14 1 3 1 26 1 3 1-4 1-9 1-14 1 7 1 15 1 9 1-4 1-10 1-10 1-5 1 20 1 6 1 0 1 0 1 1 1 11" stroke="#8c564b"/><path d="M35 12l1 37 1 22 1-4 1-5 1 7 1 10 1 10 1-5 1-14 1-9 1-4 1 11 1 12 1 5 1-6 1-8 1-15 1 6 1 8 1 10 1 2 1-5 1-31 1-34M150 12l1 30 1 30 1 3 1-10 1-2 1-2 1 8 1 12 1 0 1-2 1-13 1-30 1 22 1 13 1 15 1 7 1-10 1-11 1-14 1 2 1 14 1 5 1 3 1-2 1-9 1-8 1 2 1 1 1-18 1-34" stroke="#bcbd22"/><path d="M0 17l1 13 1 9 1 7 1 8 1 5 1 0 1-9 1-9 1-3 1-3 1 16 1 4 1 3 1 0 1-7 1-4 1 0 1-1 1 8 1-11 1-25M73 32l1-8 1 3 1 8 1 1 1-2 1-7 1-17 1-9 1 5 1 7 1 16 1 9 1 1 1-4 1-9 1-7 1-2 1-2 1 7 1 9 1 6 1 1 1-3 1-5 1-3M112 11l1 24 1 20 1 4 1 9 1 0 1-3 1-14 1-6 1-5 1 5 1 3 1 11 1 4 1 0 1-10 1-5 1-6 1-4 1 6 1 8 1 2 1-14 1-27M150 12l1 23 1 11 1 15 1 5 1 0 1-6 1-2 1-3 1 6 1 6 1-1 1 0 1-11 1 2 1 3 1 9 1 3 1-8 1-9 1-3 1 11 1 2 1 9 1-10 1-8 1 6 1 1 1-3 1-20 1-27" stroke="#2ca02c"/><path d="M35 75l1-26 1-23 1-3 1 5 1 5 1 5 1-2 1-2 1-7 1-6 1 2 1 7 1 7 1 0 1-4 1-5 1-7 1-4 1 7 1 7 1 5 1-3 1 14 1 28M73 75l1-26 1-23 1-6 1-1 1 2 1 5 1 2 1 6 1-1 1-4 1-7 1-1 1-4 1 1 1 3 1 5 1 3 1-3 1 0 1-1 1-5 1-3 1 2 1 23 1 33M112 76l1-10 1-6 1 0 1-8 1-9 1-4 1-8 1 20 1 12 1 4 1 1 1-12 1-8 1-3 1 2 1 4 1 7 1 7 1 0 1 1 1-13 1 5 1 19" stroke="#17becf"/><path d="M0 53l1-18 1-10 1-2 1 0 1 0 1 2 1 6 1 4 1-2 1 3 1-10 1-7 1-1 1 4 1 3 1 9 1 3 1 2 1-3 1 1 1 17M73 53l1-6 1-7 1 1 1 5 1 5 1 7 1 5 1 10 1-21 1-6 1-7 1 5 1-1 1 5 1 5 1 2 1 1 1-2 1-5 1-10 1 1 1 3 1 9 1 0 1 3" stroke="#d62728"/><path d="M150 39l1 21 1 15 1-4 1-8 1-5 1-2 1 9 1 6 1 10 1 10 1-1 1-6 1-14 1-10 1-4 1-1 1 7 1 11 1 15 1 5 1-2 1-14 1-15 1-12 1-2 1 7 1 10 1 3 1-10 1-18" stroke="#7f7f7f"/><path d="M35 47l1 2 1 6 1 8 1 13 1-7 1-7 1-12 1-6 1 5 1 11 1 4 1 14 1-10 1-9 1-6 1-6 1-1 1 17 1 5 1 1 1-4 1-4 1-11 1-5M112 37l1-11 1-11 1-11 1 4 1 2 1 12 1 10 1 2 1-12 1-6 1-16 1 4 1 7 1 11 1 6 1 2 1-3 1-7 1-6 1-3 1 5 1 16 1 6" stroke="#e377c2"/><path d="M73 34l1 1 1 0 1-3 1 3 1 3 1 4 1 1 1-15 1-4 1-2 1 14 1 8 1 4 1-6 1-7 1-5 1 2 1 4 1 11 1 4 1-8 1-8 1-4 1 7 1-2" stroke="#9467bd"/><path d="M35 69l1-28 1-18 1 7 1 8 1 1 1-7 1-11 1-5 1 7 1 14 1 16 1 2 1-26 1-9 1-1 1 11 1 22 1 5 1-20 1-13 1 0 1 2 1 24 1 20M150 70l1-14 1-17 1-6 1-9 1-2 1-2 1 6 1 8 1 7 1 4 1 4 1-11 1-13 1-6 1-2 1 6 1 9 1 9 1 2 1-1 1-4 1-9 1-8 1-21 1 20 1 7 1 6 1 7 1 12 1 18" stroke="#d62728"/><path d="M150 61l1-3 1-8 1-8 1-2 1-1 1 4 1 5 1 13 1 0 1-6 1-14 1-14 1 7 1 10 1 9 1 11 1-3 1-7 1-10 1-6 1-2 1 7 1 11 1 6 1 0 1-9 1-7 1 4 1 6 1 9" stroke="#17becf"/><path d="M0 25l1 26 1 11 1-9 1 1 1 3 1 21 1 3 1-17 1-12 1-10 1 13 1 4 1 6 1 0 1-7 1-6 1 2 1 5 1 2 1-12 1-23M73 10l1 17 1 16 1 3 1-3 1-5 1-7 1-4 1 17 1 7 1-1 1-15 1-6 1 4 1 6 1 6 1 0 1-10 1-8 1-7 1 22 1 3 1 0 1-7 1-19 1-8M112 14l1 30 1 23 1-7 1-9 1-3 1-8 1-5 1 16 1 13 1 3 1 5 1-10 1-11 1-11 1-1 1 2 1 6 1 10 1 9 1-2 1-5 1-20 1-26" stroke="#bcbd22"/><path d="M0 48l1 1 1-9 1-6 1 1 1 1 1 19 1 16 1-13 1-18 1-24 1 8 1 12 1 16 1 6 1-2 1-17 1-9 1 3 1 6 1 7 1 1M35 46l1 8 1 11 1 4 1 6 1-6 1-9 1-4 1 5 1 13 1 6 1-9 1-16 1 0 1 4 1 15 1 7 1-8 1-19 1-4 1 10 1 11 1 4 1-14 1-16M112 45l1 2 1-4 1-7 1 6 1 2 1 3 1 13 1 7 1-9 1-9 1-8 1-7 1-5 1 2 1 7 1 13 1 11 1 1 1-3 1-7 1-12 1 0 1 6" stroke="#8c564b"/><path d="M0 59l1-4 1-2 1-2 1-3 1-10 1-6 1 7 1 19 1 12 1-1 1-31 1-7 1-2 1 11 1 12 1 2 1-8 1-8 1-5 1 13 1 12M73 58l1 5 1-4 1 5 1 10 1 11 1 2 1-13 1-12 1-1 1 4 1 16 1 4 1-3 1-8 1-12 1-2 1 6 1 8 1 19 1-5 1-15 1-9 1-2 1 2 1-5" stroke="#1f77b4"/><path d="M73 49l1 9 1-2 1 0 1 6 1 9 1 10 1 8 1-22 1-16 1-18 1 19 1 16 1 14 1 0 1-14 1-12 1-8 1 9 1 7 1 15 1-6 1-5 1-9 1-9 1-4" stroke="#8c564b"/><path d="M0 75l1-43 1-10 1 6 1 3 1-7 1-22 1-2 1 6 1 25 1 6 1-2 1-12 1-11 1 3 1 10 1 13 1 0 1-10 1-13 1 20 1 37M112 54l1 3 1 1 1 1 1 5 1 9 1-1 1-8 1-16 1 3 1 3 1 15 1 2 1-7 1-6 1-13 1 5 1 8 1 8 1 6 1-12 1-5 1-2 1-1" stroke="#d62728"/><path d="M0 42l1 21 1 11 1-7 1-1 1-2 1 10 1 9 1-2 1-13 1-21 1 17 1 9 1 7 1-2 1-10 1-8 1 5 1 7 1 5 1-7 1-31M35 42l1-3 1-13 1-2 1 6 1 13 1 9 1-1 1-14 1-12 1-7 1 4 1 18 1 4 1-2 1-7 1-8 1-9 1 6 1 12 1 6 1 2 1-8 1-2 1 8M73 44l1-3 1-3 1-9 1-6 1-5 1 1 1 4 1 17 1 6 1 9 1-2 1-17 1-8 1-4 1 1 1 0 1 5 1 7 1 10 1 5 1-7 1-8 1-8 1 1 1 14" stroke="#7f7f7f"/><path d="M112 34l1-4 1-8 1-2 1 4 1 6 1 9 1 16 1-7 1-16 1-5 1-27 1 12 1 4 1 8 1 10 1 2 1 0 1 0 1-6 1-13 1 6 1 4 1 7M150 33l1-3 1-6 1-11 1-5 1 10 1 11 1 9 1-10 1-19 1-9 1 2 1 21 1 23 1-4 1-21 1-19 1-2 1 10 1 25 1 7 1-12 1-18 1-12 1 0 1 17 1 10 1-3 1-5 1 0 1 16" stroke="#9467bd"/><path d="M73 51l1 0 1-6 1-7 1-4 1 5 1 12 1 15 1 1 1-17 1-13 1-3 1 10 1 7 1 13 1 1 1-8 1-17 1-8 1-3 1 21 1 11 1 0 1-4 1-8 1 1M112 67l1-24 1-2 1 17 1-3 1-23 1-14 1-8 1 31 1 13 1 2 1-26 1-21 1 5 1 23 1 7 1-1 1-11 1-9 1-3 1 15 1 8 1 7 1 18M150 63l1 1 1-5 1 1 1 2 1 2 1 6 1 3 1 5 1 0 1-4 1-10 1-6 1-6 1 6 1 4 1 11 1 7 1 1 1 3 1-10 1-11 1-8 1-4 1-7 1 17 1 10 1 9 1-3 1-7 1-7" stroke="#ff7f0e"/><path d="M0 73l1-26 1-15 1 7 1-3 1-6 1-9 1-5 1-10 1 8 1 15 1 12 1-3 1-2 1-3 1-7 1-7 1 3 1 3 1 5 1 17 1 28M112 71l1-2 1-5 1-2 1 1 1 7 1 8 1 7 1-22 1-11 1 4 1 18 1 12 1 1 1-17 1-9 1 0 1 7 1 9 1 4 1-9 1-6 1 1 1 0" stroke="#17becf"/><path d="M35 27l1 13 1 10 1-2 1-2 1-2 1 7 1 3 1 10 1-1 1-5 1-9 1-8 1-3 1 4 1 5 1 6 1 3 1 6 1-11 1-5 1-2 1 0 1-6 1-10" stroke="#2ca02c"/><path d="M0 47l1 14 1 12 1 9 1 4 1-2 1-11 1-5 1-9 1 7 1 5 1 14 1-2 1-1 1-11 1-7 1-3 1 5 1 6 1 7 1-9 1-25M73 34l1 2 1 8 1 0 1-6 1-9 1-9 1-8 1 6 1 11 1 17 1 10 1-7 1-12 1-11 1-9 1-1 1 3 1 9 1 10 1 8 1-7 1-4 1-12 1 0 1 9M150 34l1 14 1 3 1-1 1-3 1-5 1 2 1 5 1 5 1 12 1 2 1-3 1-16 1-9 1-5 1 1 1 9 1 8 1 3 1 3 1-4 1-4 1-10 1-8 1-6 1 16 1 7 1 6 1-1 1-11 1-6" stroke="#e377c2"/><path d="M35 62l1-5 1 3 1-1 1-4 1-4 1 0 1 0 1 10 1 8 1-9 1-14 1-6 1 12 1 8 1 4 1-2 1-9 1-8 1 7 1 2 1 9 1-1 1-4 1 4M150 20l1 22 1 13 1 11 1 7 1 5 1-5 1-14 1-6 1 1 1 5 1 13 1 12 1-11 1-13 1-14 1 0 1 11 1 9 1 9 1-4 1-9 1-4 1-4 1 1 1 11 1 0 1-2 1-6 1-23 1-13" stroke="#1f77b4"/><path d="M35 15l1 31 1 24 1 3 1-1 1-11 1-11 1 0 1 6 1 8 1 14 1 13 1-7 1-23 1-3 1-3 1 0 1 4 1 14 1 5 1-1 1-11 1-11 1-21 1-17" stroke="#bcbd22"/><path d="M35 76l1-11 1-12 1-10 1-5 1-5 1-4 1 6 1 6 1 14 1 6 1 8 1-9 1-17 1-8 1-6 1 1 1-2 1 14 1 7 1 6 1 0 1-7 1 3 1 24M73 59l1-8 1 1 1-1 1-4 1-5 1-4 1-12 1 5 1 15 1 2 1 8 1 0 1-5 1-2 1-6 1 2 1-3 1 2 1 2 1 7 1-2 1 5 1-5 1 2 1 4" stroke="#17becf"/><path d="M73 66l1 1 1 0 1 4 1 11 1 4 1 3 1-8 1-15 1-6 1-13 1 10 1 16 1 14 1 5 1-5 1-8 1-14 1-9 1-11 1 16 1 19 1 8 1 0 1-8 1-14" stroke="#d62728"/><path d="M112 20l1 25 1 5 1-1 1 10 1 16 1 4 1 0 1-24 1-3 1 1 1 15 1 17 1-3 1-15 1-13 1-3 1 5 1 19 1 15 1-13 1-15 1-22 1-20" stroke="#1f77b4"/><path d="M150 15l1 7 1 10 1 4 1-1 1-6 1-7 1-7 1-1 1 5 1 9 1 13 1 16 1-13 1-14 1-10 1-4 1-1 1 8 1 6 1 5 1-2 1-1 1-3 1-13 1 0 1-2 1 8 1 4 1 0 1-8" stroke="#bcbd22"/><path d="M0 73l1-20 1-7 1-4 1-11 1-5 1 5 1 10 1 8 1 6 1 3 1-9 1-12 1-7 1-1 1 11 1 8 1 10 1 0 1-8 1 1 1 23M35 72l1-17 1-14 1-5 1-2 1 2 1 8 1 6 1 1 1-6 1-11 1-9 1 3 1 13 1 3 1 3 1-3 1-2 1-10 1-2 1 1 1 9 1 6 1 10 1 18" stroke="#ff7f0e"/><path d="M112 45l1-4 1 0 1-2 1-6 1-8 1-1 1 1 1 14 1 9 1-4 1-3 1-10 1-5 1 6 1 2 1 14 1 8 1-6 1-13 1-14 1 2 1 12 1 9M150 44l1-6 1-9 1-7 1-3 1-2 1 8 1 8 1 8 1 2 1-5 1-9 1-12 1-5 1 0 1 9 1 9 1 9 1 6 1-3 1-12 1-5 1-7 1-6 1 3 1 10 1 12 1 5 1-2 1-3 1 5" stroke="#7f7f7f"/><path d="M0 35l1 13 1 23 1-5 1-8 1-8 1-2 1 3 1 11 1 6 1 4 1-21 1-11 1 0 1 17 1 7 1 5 1-9 1-9 1-9 1 4 1-13M35 21l1 15 1 14 1 5 1-2 1 0 1-7 1-7 1 0 1-2 1 8 1 2 1 25 1-8 1-1 1-13 1-2 1-5 1-11 1 12 1-1 1 11 1-2 1-11 1-18" stroke="#9467bd"/><path d="M0 30l1 3 1 5 1 1 1 3 1 4 1-1 1-2 1-5 1-4 1 0 1 2 1 2 1 7 1 1 1 0 1-8 1-4 1-3 1 6 1 0 1-13M73 17l1 5 1 1 1 8 1 3 1 8 1-2 1 1 1-8 1-6 1-7 1-2 1 8 1 1 1 9 1 7 1-2 1-4 1-5 1-10 1-10 1 7 1 6 1 2 1-1 1-11M112 29l1 26 1 15 1 0 1-1 1 3 1 3 1 17 1-1 1 0 1-6 1-13 1-4 1 1 1-2 1 6 1 7 1 7 1 1 1 1 1-9 1-4 1-22 1-30M150 18l1 12 1 3 1-5 1-4 1-2 1 8 1 5 1 5 1 2 1 0 1-2 1-5 1-3 1-4 1-2 1 8 1 4 1 7 1-1 1 2 1-7 1-8 1-9 1-9 1 12 1 9 1 7 1 2 1-16 1-11" stroke="#2ca02c"/><path d="M0 19l1 25 1 17 1 8 1 10 1-7 1-12 1-21 1-7 1-3 1 23 1 30 1 6 1-5 1-17 1-15 1-8 1 0 1 10 1 13 1-10 1-31M73 23l1-6 1-2 1 1 1 3 1 5 1 7 1 5 1-3 1-8 1-8 1 1 1-1 1 1 1 3 1 9 1 4 1 4 1-3 1-11 1-7 1-2 1 3 1 1 1 0 1 4" stroke="#1f77b4"/><path d="M0 55l1-9 1-1 1-6 1-9 1-9 1 9 1 14 1 7 1-8 1-19 1-6 1 9 1 16 1 11 1-7 1-15 1-5 1 3 1 7 1 11 1 9M150 77l1-29 1-16 1 3 1 1 1-1 1-11 1-5 1-2 1 5 1 13 1 15 1 6 1-26 1-10 1-2 1 3 1 10 1 14 1 2 1-5 1-16 1-7 1 4 1 7 1 8 1 0 1-1 1 1 1 11 1 25" stroke="#17becf"/><path d="M35 29l1-12 1-8 1 10 1 12 1 10 1-6 1-11 1-16 1-2 1 11 1 18 1 7 1-8 1-10 1-15 1-1 1 10 1 21 1-3 1-3 1-7 1-13 1 5 1 9" stroke="#2ca02c"/><path d="M35 35l1-9 1-11 1 4 1 2 1 3 1 4 1-1 1-7 1 1 1-8 1-5 1 3 1 11 1 6 1-1 1 1 1-7 1-8 1 1 1 1 1 4 1 5 1 3 1 5M112 45l1 14 1 8 1 2 1 0 1-11 1-10 1-7 1 12 1 11 1 11 1 24 1-26 1-15 1-2 1 0 1 2 1 9 1 7 1 4 1-10 1-11 1-8 1-3" stroke="#e377c2"/><path d="M150 70l1 1 1-1 1 1 1-6 1-1 1-8 1-1 1 2 1 6 1 4 1 7 1 1 1-3 1-10 1 2 1-5 1 0 1 5 1 4 1 4 1 1 1-4 1 1 1-4 1-10 1 7 1 2 1 3 1 6 1-1" stroke="#ff7f0e"/><path d="M73 20l1 23 1 14 1 7 1 12 1 7 1-7 1-15 1-11 1 4 1 10 1 11 1 3 1-11 1-15 1-14 1 11 1 17 1 8 1 1 1-13 1-13 1-5 1 11 1-10 1-25" stroke="#9467bd"/><path d="M35 67l1-28 1-22 1 3 1 5 1 5 1 1 1-4 1-8 1-5 1-4 1 0 1 8 1 7 1 4 1 0 1-6 1-7 1-12 1 3 1 7 1 6 1 2 1 19 1 25M112 70l1-8 1-10 1-8 1-9 1-6 1 10 1 23 1-3 1-3 1-14 1-29 1 12 1 13 1 16 1 3 1-8 1-13 1-10 1-3 1 20 1 9 1 7 1 13M150 55l1-7 1-1 1 3 1 2 1 2 1-4 1-1 1-3 1-7 1 0 1 1 1 5 1 2 1 4 1 1 1 0 1-6 1-5 1-3 1-1 1 4 1 3 1 3 1 8 1-3 1-5 1-2 1-4 1 5 1 11" stroke="#d62728"/><path d="M0 12l1 20 1 7 1 5 1 11 1 9 1-2 1-14 1-11 1-4 1-9 1 20 1 13 1 5 1-3 1-12 1-6 1-4 1 8 1 4 1-3 1-34M73 15l1 39 1 25 1-2 1-10 1-7 1 2 1 13 1 24 1-1 1-12 1-20 1-5 1 1 1 14 1 5 1 2 1-3 1-11 1-6 1 2 1 7 1 14 1 3 1-37 1-42M112 12l1 22 1 17 1 5 1-6 1-10 1-7 1-20 1 14 1 10 1 13 1 27 1-5 1-12 1-10 1-13 1-7 1-2 1 4 1 10 1 10 1 5 1-18 1-27" stroke="#bcbd22"/><path d="M73 69l1-2 1-11 1-7 1-6 1 1 1 7 1 14 1 12 1-1 1-1 1-12 1-11 1-9 1-4 1 8 1 10 1 8 1 11 1 0 1-2 1-10 1-13 1-5 1 8 1 11M112 60l1-3 1-3 1-2 1-8 1-6 1-6 1 2 1 11 1 1 1 2 1-4 1-15 1 0 1 6 1 8 1 5 1 1 1-8 1-11 1-7 1 9 1 18 1 15" stroke="#ff7f0e"/><path d="M0 43l1-8 1-2 1 2 1 1 1-5 1-7 1-6 1 3 1 7 1 19 1-1 1-9 1-7 1-1 1-8 1 4 1 6 1 6 1 0 1 3 1 2M35 43l1-8 1-6 1 14 1 13 1-2 1-18 1-12 1-3 1 12 1 15 1 13 1-12 1-19 1-9 1 6 1 12 1 10 1-1 1-14 1-10 1-2 1 10 1 10 1 2" stroke="#7f7f7f"/><path d="M0 26l1-11 1-4 1 3 1 6 1 9 1-2 1 1 1-9 1-8 1-11 1 8 1 10 1 4 1 4 1-3 1 3 1-5 1-8 1-2 1 5 1 9M112 30l1 28 1 23 1 2 1-1 1-6 1-6 1-19 1 4 1 7 1 10 1 10 1 2 1-1 1-5 1-6 1-7 1-8 1 4 1 2 1 11 1 5 1-19 1-34M150 26l1 0 1 0 1 7 1 3 1 2 1 0 1-2 1-7 1-3 1-2 1 4 1 13 1 2 1 0 1-3 1-4 1-8 1-4 1 3 1 5 1 8 1 4 1 1 1 3 1-12 1-7 1-2 1 5 1-1 1-3" stroke="#2ca02c"/><path d="M112 20l1 4 1 8 1 13 1 0 1-3 1-15 1-11 1-2 1 7 1 6 1 8 1 12 1-2 1-10 1-12 1-12 1-6 1 5 1 16 1 16 1 4 1-13 1-12M150 19l1 8 1 8 1-5 1-3 1-1 1 3 1 5 1 4 1 0 1 0 1-12 1-26 1 17 1 9 1 12 1 1 1 6 1-6 1-9 1-8 1-2 1 11 1 7 1 9 1-2 1-10 1-4 1-3 1-4 1-3" stroke="#9467bd"/><path d="M35 20l1 12 1 20 1 9 1-2 1-10 1-11 1-6 1 4 1 11 1 14 1 14 1-4 1-22 1-15 1-6 1 4 1 17 1 16 1-3 1-9 1-8 1-10 1-5 1-10M150 63l1-2 1 1 1-6 1-2 1-1 1 2 1 6 1 6 1 0 1-11 1-6 1-5 1 6 1 9 1 6 1 2 1-9 1-8 1-3 1 3 1 9 1 5 1 4 1 0 1-16 1-3 1-2 1 7 1 6 1 0" stroke="#1f77b4"/><path d="M35 68l1-14 1-14 1-1 1 3 1 8 1 3 1-3 1-8 1-6 1 0 1 5 1 12 1 3 1-4 1-6 1-9 1-8 1 2 1 21 1 0 1 0 1-7 1 7 1 19M73 76l1-21 1-25 1-1 1 2 1 7 1 19 1 9 1 1 1-30 1-17 1 1 1 13 1 19 1 12 1-3 1-16 1-10 1-4 1 1 1 10 1 12 1 3 1-3 1 1 1 18M112 75l1-28 1-16 1-7 1-6 1-7 1 9 1 9 1 12 1-9 1-10 1-22 1 2 1 15 1 12 1 7 1-2 1-16 1-10 1 0 1 10 1 7 1 22 1 28" stroke="#17becf"/><path d="M0 65l1-5 1-4 1-1 1-9 1-5 1-4 1-2 1 5 1 15 1 16 1 3 1-10 1-11 1-11 1-6 1-1 1-1 1 9 1 5 1 11 1 10M73 53l1-16 1-15 1-3 1 1 1 6 1 0 1 7 1 13 1-16 1-3 1-6 1-3 1 3 1 2 1 0 1 8 1 4 1-3 1 5 1-10 1-6 1-5 1 2 1 19 1 16" stroke="#d62728"/><path d="M35 16l1 36 1 24 1-7 1-7 1-3 1-1 1 1 1 9 1 5 1 3 1 3 1 0 1-13 1-11 1-6 1 2 1 8 1 20 1 10 1-1 1-5 1-10 1-30 1-31" stroke="#bcbd22"/><path d="M0 32l1 23 1 17 1-4 1-9 1-7 1-1 1 4 1 14 1 2 1 2 1-3 1-11 1-6 1 1 1 3 1 8 1 4 1 3 1-6 1-16 1-17M73 36l1 9 1 5 1 1 1-3 1-9 1-8 1-5 1 12 1 9 1 15 1-6 1-12 1-8 1-2 1-2 1 9 1 8 1 5 1 0 1-13 1-5 1 1 1 2 1-3 1-2M150 32l1-5 1-6 1 4 1 1 1 6 1-7 1 1 1-7 1-6 1 5 1 1 1 19 1 4 1-5 1-6 1-12 1-5 1-3 1 4 1 7 1 8 1 2 1-3 1-6 1-5 1-4 1 3 1 4 1 8 1 6" stroke="#e377c2"/><path d="M150 61l1-6 1 4 1 5 1-1 1-10 1-16 1-10 1 2 1 12 1 15 1 18 1 13 1-24 1-16 1-8 1 1 1 4 1 6 1 8 1 5 1-2 1-4 1-9 1-8 1-1 1 10 1 5 1 10 1 2 1-5" stroke="#17becf"/><path d="M0 48l1 8 1 4 1-3 1-4 1-8 1-6 1 2 1 5 1 11 1 6 1 4 1-4 1-7 1-7 1-8 1-10 1 9 1 9 1 1 1 3 1-4M35 47l1-12 1-13 1 1 1 8 1 2 1-3 1-4 1-7 1 5 1 7 1 16 1-1 1-26 1-10 1 9 1 10 1 15 1 0 1-22 1-3 1 1 1 7 1 12 1 9" stroke="#ff7f0e"/><path d="M35 34l1 9 1 16 1 9 1-1 1-8 1-9 1-1 1 10 1 12 1 5 1-14 1-26 1 7 1 13 1 15 1 3 1-9 1-11 1-2 1 10 1 12 1-4 1-18 1-13M112 35l1 11 1 20 1 0 1-5 1-7 1-8 1-11 1 22 1 7 1 2 1 6 1-19 1-14 1 6 1 11 1 5 1 0 1-1 1-10 1-2 1 0 1 0 1-15" stroke="#e377c2"/><path d="M112 54l1-13 1-8 1-1 1 6 1-1 1 5 1 6 1-13 1 0 1-7 1-18 1 16 1 6 1 6 1 4 1 4 1-6 1-6 1-7 1-3 1 0 1 15 1 16M150 68l1-13 1-10 1-4 1-8 1-1 1 11 1 8 1-2 1-7 1-10 1-4 1 3 1 19 1 7 1-11 1-13 1-8 1 6 1 9 1 8 1-2 1-8 1-7 1-6 1 11 1 8 1 0 1 2 1 5 1 13" stroke="#d62728"/><path d="M0 30l1 24 1 11 1-11 1-4 1 10 1 17 1 2 1-11 1-21 1-9 1 17 1 10 1 6 1-7 1-11 1-7 1 9 1 11 1 7 1-17 1-29M35 30l1 31 1 15 1-6 1-5 1 4 1 6 1 6 1-5 1-6 1-10 1 6 1 12 1 8 1-3 1-12 1-8 1-8 1 20 1 4 1-2 1-4 1-8 1-15 1-22M73 32l1 11 1 10 1 4 1 3 1 7 1-2 1-3 1-8 1-6 1-9 1 1 1 11 1 9 1 8 1 1 1-3 1-6 1-10 1-10 1 6 1 5 1 5 1 3 1-11 1-16" stroke="#9467bd"/><path d="M0 15l1 16 1 6 1-7 1-2 1-2 1 5 1 10 1 18 1-3 1 5 1-34 1-3 1-6 1 6 1 7 1 11 1 3 1-4 1-8 1-11 1-5M73 24l1 2 1-4 1-11 1-4 1 8 1 11 1 10 1 4 1-15 1-8 1-6 1 4 1 5 1 9 1 3 1-4 1-7 1-10 1-6 1 4 1 12 1 12 1-5 1-4 1-1M112 17l1 34 1 19 1-5 1-11 1-1 1-2 1 1 1 23 1 7 1 1 1-2 1-18 1-9 1-2 1 4 1 10 1 8 1 6 1 3 1-8 1-11 1-20 1-27M150 12l1 22 1 12 1-2 1-1 1 9 1 10 1-2 1-2 1-7 1-7 1 7 1 14 1 5 1-4 1-8 1-9 1-2 1 7 1 6 1 5 1-3 1-10 1-6 1-9 1 21 1 0 1 0 1-8 1-19 1-22" stroke="#bcbd22"/><path d="M73 13l1 12 1 21 1 0 1-8 1-12 1-4 1 0 1 10 1 15 1 11 1-3 1-17 1-14 1-5 1 3 1 12 1 14 1 5 1-2 1-13 1-9 1-5 1 4 1-4 1-11" stroke="#2ca02c"/><path d="M0 68l1-4 1-6 1 9 1 11 1 3 1-8 1-19 1-4 1 6 1 19 1 8 1-11 1-12 1-6 1 6 1 8 1 5 1-3 1-7 1-3 1 8M35 56l1-10 1-13 1-6 1 3 1 11 1 5 1 5 1-1 1-2 1-7 1-10 1-11 1 9 1 10 1 5 1 5 1 9 1-4 1-13 1-5 1-3 1 0 1 13 1 9M73 66l1 1 1 10 1 8 1 3 1-14 1-12 1-18 1 10 1 16 1 12 1 10 1-16 1-8 1-11 1-1 1 5 1 11 1 9 1 2 1-6 1-16 1-5 1 2 1 8 1 1M112 61l1-18 1-17 1-7 1-2 1 11 1 9 1 0 1-3 1-16 1-4 1 6 1 13 1 9 1-3 1-9 1-6 1-1 1 2 1 15 1 0 1-6 1 6 1 19" stroke="#17becf"/><path d="M0 37l1-2 1 2 1 8 1 3 1-2 1-10 1-8 1-9 1 4 1 9 1 14 1-1 1 1 1-9 1-7 1-8 1 4 1 7 1 3 1 5 1-3M73 46l1 7 1 3 1-11 1-10 1-5 1 2 1 9 1 14 1 1 1 2 1 2 1-11 1-14 1-8 1 3 1 5 1 11 1 9 1 7 1-2 1-12 1-12 1-4 1 7 1 7M150 45l1 17 1 8 1 5 1-8 1-4 1 8 1 8 1 4 1-5 1-16 1-8 1-4 1 34 1 5 1-6 1-15 1-9 1 1 1 16 1 13 1-4 1-16 1-7 1-1 1 9 1 14 1 0 1-12 1-16 1-11" stroke="#e377c2"/><path d="M0 10l1 13 1 0 1-6 1-2 1 3 1 13 1 4 1 8 1-11 1-8 1-21 1-2 1 8 1 18 1 6 1 3 1 2 1-7 1-10 1-6 1-4M35 9l1 38 1 15 1-12 1-8 1 3 1 13 1 13 1 8 1-9 1-13 1-25 1-14 1 23 1 21 1 12 1-4 1-4 1-28 1-9 1 7 1 13 1 13 1-21 1-28M112 19l1 7 1-4 1-5 1 10 1 10 1 13 1 4 1-13 1-20 1-8 1-10 1 28 1 9 1 6 1-7 1-11 1-14 1-3 1 9 1 14 1 4 1-8 1-14M150 30l1 16 1 17 1 2 1-4 1-9 1-2 1-1 1 6 1 8 1 2 1 1 1 0 1-10 1-5 1-2 1 4 1 3 1 11 1 0 1-6 1-5 1-9 1-8 1-4 1 19 1 3 1 2 1-5 1-12 1-13" stroke="#2ca02c"/><path d="M35 25l1 25 1 20 1 11 1 4 1-3 1-7 1-12 1-4 1 2 1 15 1 12 1 7 1-13 1-12 1-3 1 0 1 3 1 19 1 5 1-7 1-9 1-7 1-19 1-26M150 24l1 6 1 8 1 6 1 3 1-2 1-7 1-8 1-5 1 5 1 11 1 3 1 3 1-3 1-9 1-7 1-1 1 7 1 8 1 6 1-4 1-5 1-7 1-9 1 5 1 4 1 11 1 2 1-8 1-12 1 0" stroke="#bcbd22"/><path d="M73 66l1 1 1-2 1-13 1 0 1 5 1 17 1 14 1-13 1-27 1-9 1 9 1 19 1 12 1-9 1-22 1-15 1 13 1 13 1 8 1-3 1-13 1-9 1 3 1 12 1 4M112 52l1 8 1-6 1-11 1-4 1 2 1 20 1 20 1-21 1-25 1-14 1 2 1 27 1 5 1-3 1-14 1-9 1 3 1 17 1 9 1 1 1-15 1 1 1 7M150 69l1-8 1-12 1-7 1-8 1-3 1 3 1 5 1 7 1 2 1 4 1-1 1-1 1-12 1-5 1-7 1 5 1 4 1 10 1 13 1 5 1-4 1-7 1-11 1-8 1-5 1 7 1 3 1 8 1 9 1 14" stroke="#ff7f0e"/><path d="M0 52l1-19 1-13 1-5 1 4 1 6 1 4 1 3 1-7 1-6 1-5 1 1 1 6 1 10 1 3 1-5 1-8 1-4 1-2 1 7 1 14 1 20M35 50l1 13 1-1 1-3 1 0 1 8 1 13 1 6 1-4 1-12 1-12 1-9 1 3 1 10 1 11 1 9 1-2 1-7 1-14 1-3 1 1 1 8 1 6 1-8 1-11M73 71l1-12 1-7 1 1 1 3 1-3 1 2 1-5 1-16 1 10 1-1 1 3 1 11 1 5 1 2 1-3 1-4 1-4 1-3 1-7 1 1 1 10 1 0 1 6 1 6 1 2" stroke="#d62728"/><path d="M112 29l1 2 1-2 1-10 1-9 1-2 1 13 1 31 1-7 1-4 1-16 1-25 1 0 1 11 1 20 1 10 1-1 1-13 1-15 1-10 1 8 1 12 1 8 1-1" stroke="#9467bd"/><path d="M0 12l1 19 1 5 1-9 1 0 1 3 1 17 1 9 1-5 1-20 1-30 1 4 1 15 1 22 1 15 1-4 1-16 1-19 1-6 1 10 1 2 1-16M73 18l1 24 1 19 1-10 1-12 1 0 1 17 1 24 1 3 1-29 1-14 1-13 1 21 1 13 1 3 1-5 1-16 1-8 1 7 1 21 1 8 1-12 1-14 1-6 1-11 1-12M112 24l1 8 1-1 1 0 1 4 1 8 1 4 1 13 1-6 1-14 1-6 1-2 1 2 1 2 1 5 1 6 1 1 1-1 1-4 1-7 1-9 1 7 1 0 1-8" stroke="#bcbd22"/><path d="M35 58l1-14 1-17 1-8 1-1 1 5 1 8 1 15 1 6 1-2 1-11 1-9 1-11 1-1 1 3 1 9 1 10 1 4 1 10 1-13 1-11 1-9 1 0 1 16 1 18M112 68l1-25 1-10 1-8 1-2 1-6 1-3 1-3 1 9 1 9 1 4 1 11 1-12 1-7 1-5 1-7 1 2 1 6 1 4 1 12 1-1 1-3 1 8 1 27M150 51l1-3 1-11 1-5 1-2 1 8 1 5 1 5 1 2 1-2 1-4 1-9 1-17 1 13 1 9 1 9 1 10 1-4 1-1 1-7 1-10 1-4 1 7 1 3 1 13 1 4 1-4 1-3 1-4 1-3 1 10" stroke="#d62728"/><path d="M0 63l1-2 1-10 1-5 1-4 1 3 1 17 1 6 1 2 1-16 1-25 1 4 1 7 1 13 1 9 1-3 1-3 1-9 1-9 1 0 1 14 1 10M35 64l1-13 1 0 1 6 1 8 1-6 1-7 1-8 1-6 1 7 1 12 1 13 1 2 1-15 1-14 1-4 1 4 1 12 1 27 1-10 1-13 1-12 1-3 1 11 1 11M73 72l1-14 1-14 1 2 1 6 1 3 1 5 1 1 1-8 1-8 1-6 1 2 1 8 1 6 1 4 1 3 1-2 1-6 1-8 1-4 1-2 1 9 1 7 1 3 1 6 1 6M112 48l1-12 1-20 1-7 1-4 1 6 1 17 1 29 1-20 1-23 1-14 1 0 1 9 1 18 1 8 1-7 1-10 1-9 1-2 1 8 1 17 1 2 1 1 1 12M150 48l1 4 1 11 1 8 1 5 1-1 1-9 1-9 1-4 1-6 1 4 1 8 1 19 1 1 1 2 1-4 1-10 1-9 1-1 1-1 1 3 1 8 1 3 1 5 1 2 1-7 1-4 1-5 1-5 1-6 1 0" stroke="#ff7f0e"/><path d="M35 17l1 24 1 25 1 1 1 4 1 1 1 0 1-2 1-5 1-9 1 1 1 4 1 8 1 5 1 1 1-1 1-1 1-2 1-14 1 7 1 1 1 5 1 3 1-20 1-38M73 24l1 29 1 19 1-6 1-14 1-7 1 2 1 11 1 11 1 11 1-3 1 0 1-13 1-11 1-6 1 5 1 12 1 16 1 12 1-4 1-7 1-15 1-3 1-2 1-15 1-19" stroke="#2ca02c"/><path d="M0 60l1-22 1-23 1-8 1 0 1 3 1 10 1 10 1 12 1-3 1 0 1-20 1-11 1-4 1-1 1 7 1 10 1 5 1 2 1 1 1 6 1 27M150 72l1-25 1-13 1 0 1-4 1 0 1-8 1-9 1-5 1 5 1 7 1 11 1 16 1-10 1-10 1-15 1-7 1 1 1 8 1 10 1 14 1 0 1-9 1-15 1-12 1 4 1 7 1 5 1 15 1 18 1 25" stroke="#17becf"/><path d="M0 68l1 10 1 11 1-4 1-5 1-7 1-4 1-1 1 3 1 4 1 8 1 10 1-3 1-9 1-11 1-2 1-5 1 6 1 1 1 3 1 2 1-8M35 68l1-24 1-14 1-4 1 0 1-6 1-3 1-6 1 2 1 11 1 7 1 5 1-3 1-8 1-4 1-7 1-6 1 2 1 12 1 6 1 3 1-4 1 2 1 9 1 31M73 50l1 6 1 5 1 8 1 11 1 13 1-10 1-11 1-11 1 4 1 6 1 28 1-4 1-16 1-16 1-6 1 6 1 11 1 9 1 6 1-14 1-16 1 1 1 5 1-1 1-17M112 72l1 1 1-9 1-1 1-2 1 9 1 9 1 20 1-6 1-16 1-7 1-15 1 6 1 4 1 9 1 2 1 1 1 1 1-1 1-11 1-7 1 10 1 0 1 2M150 54l1-9 1-6 1 1 1 3 1 1 1 2 1 3 1-6 1-2 1-10 1-5 1 11 1 10 1 4 1-3 1-4 1-10 1-3 1-1 1 9 1 9 1-2 1 1 1-7 1-4 1 0 1-2 1 4 1 9 1 4" stroke="#ff7f0e"/><path d="M0 74l1-1 1-6 1 2 1 6 1 16 1 8 1-19 1-29 1-6 1 13 1 23 1 3 1-2 1-13 1-6 1-1 1 10 1 11 1-1 1-7 1-1M0 64l1-8 1-5 1 2 1-4 1 7 1 10 1 7 1 3 1-9 1-12 1-9 1 1 1 0 1 4 1 1 1 5 1 3 1-6 1-2 1 0 1 13M35 61l1-19 1-12 1 2 1-4 1-1 1-7 1-6 1 2 1 1 1 12 1 11 1 3 1-4 1-7 1-9 1-6 1 5 1-5 1 16 1 3 1 4 1-4 1 6 1 22M35 61l1 1 1 4 1 3 1-3 1-10 1-4 1-3 1 7 1 0 1 12 1 6 1-2 1-14 1-13 1-4 1-1 1 11 1 14 1 5 1-7 1-6 1-6 1-2 1 11M73 55l1-12 1-12 1-1 1 6 1 12 1 5 1 2 1-27 1-9 1-10 1 19 1 12 1 5 1-7 1-6 1-12 1-1 1 12 1 19 1-2 1-7 1-9 1-7 1 13 1 15M73 61l1-22 1-11 1-3 1-7 1-17 1-1 1 0 1 20 1 10 1 7 1-14 1-11 1-11 1 4 1 11 1 14 1 7 1-6 1-9 1-19 1 6 1 1 1 11 1 21 1 20M112 54l1 19 1 0 1-10 1-7 1 1 1 11 1 27 1 0 1-5 1-14 1-22 1-5 1 3 1 17 1 12 1 7 1-3 1-12 1-8 1-4 1 0 1 4 1-9M112 60l1 0 1-5 1 1 1 1 1 7 1 6 1 27 1-28 1-14 1 0 1-6 1 4 1 3 1 5 1 4 1-4 1-3 1-4 1-8 1 2 1 1 1 12 1 1M150 67l1-4 1-6 1-1 1 14 1 10 1 4 1-2 1-8 1-9 1-13 1 4 1 14 1 12 1 8 1-2 1-11 1-8 1-4 1-3 1 12 1 9 1 10 1-1 1-9 1-11 1-2 1-3 1 6 1 3 1-10M150 55l1 1 1 9 1 3 1-2 1-12 1-5 1 3 1 9 1 8 1 0 1-8 1-8 1-9 1 14 1 8 1 4 1-6 1-11 1-7 1 1 1 16 1 8 1 0 1-8 1-8 1-2 1 4 1 8 1 0 1-6" stroke="#17becf"/></g><g transform="translate(48.00 210.10) scale(0.5000 -0.59800)" fill="none" stroke-width="0.95"><path d="M21 75l1 1 1-1 1 1 1-1 1 0 1 1 1-1 1 1 1-1 1 0 1 0 1 0 1 1 1 0M59 75l1 0 1 0 1 1 1-1 1 0 1 0 1 0 1 0 1 0 1 0 1 0 1 1 1 0 1-1M98 75l1 1 1 0 1 0 1-1 1 0 1 0 1 0 1 1 1-1 1 1 1-1 1 0 1 0 1 1M135 75l1 0 1 0 1 0 1 0 1 0 1 0 1 1 1-1 1 1 1-1 1 0 1 0 1 1 1 0 1-1M180 75l1 0 1 1 1 0 1 0 1-1 1 0" stroke="#17becf"/><path d="M21 75l1 0 1 0 1 1 1-1 1 0 1 0 1 0 1 0 1 1 1 0 1-1 1 0 1 0 1 0M59 75l1 0 1 0 1 0 1 0 1 0 1 0 1 0 1 0 1 0 1 0 1 0 1 0 1 1 1-1M98 75l1 0 1 0 1 0 1 0 1 0 1 0 1 1 1 0 1-1 1 0 1 0 1 1 1-1 1-1M135 75l1 0 1 0 1 0 1 0 1 0 1 0 1 0 1 0 1 0 1 0 1 0 1 0 1 0 1 0 1 0M180 75l1 0 1 0 1 0 1 0 1 0 1 0" stroke="#17becf"/><path d="M21 72l1 0 1 0 1 1 1 0 1 0 1-1 1 1 1 0 1 0 1-1 1 0 1 1 1 0 1-1M59 73l1-1 1 0 1 0 1 1 1-1 1 0 1 1 1-1 1 0 1 0 1 0 1 1 1 0 1-1M98 72l1 1 1-1 1 0 1 1 1-1 1 0 1 1 1-1 1 0 1 0 1 0 1 0 1 0 1 1M135 72l1 1 1 0 1-1 1 0 1 1 1-1 1 0 1 1 1-1 1 0 1 0 1 0 1 1 1-1 1 0M180 73l1-1 1 0 1 1 1 0 1-1 1 1" stroke="#ff7f0e"/><path d="M21 70l1 1 1-1 1 0 1 0 1 1 1 0 1 0 1 0 1-1 1 1 1 0 1-1 1 1 1 0M59 71l1-1 1 0 1 0 1 0 1 0 1 1 1 0 1-1 1 0 1 1 1-1 1 1 1-1 1 1M98 71l1-1 1 0 1 1 1 0 1 0 1 0 1 0 1 0 1-1 1 0 1 1 1-1 1 1 1 0M135 71l1 0 1 0 1 0 1 0 1 0 1 0 1 0 1 0 1 0 1-1 1 1 1-1 1 1 1 0 1 0M180 71l1 0 1-1 1 1 1 0 1-1 1 0" stroke="#d62728"/><path d="M21 68l1 0 1 0 1 0 1 0 1 0 1 1 1-2 1 1 1 0 1 0 1 0 1 0 1 0 1 0M59 68l1-1 1 1 1 0 1 0 1 0 1 0 1 0 1 0 1 0 1 0 1 0 1 0 1-1 1 2M98 68l1 0 1 0 1 0 1 0 1 0 1 0 1 0 1 0 1 0 1 0 1 0 1 0 1 0 1-1M135 67l1 1 1 0 1 0 1 0 1 0 1 0 1 0 1-1 1 1 1 0 1 0 1 0 1 0 1 0 1 0M180 68l1 0 1 0 1 0 1 0 1 0 1 0" stroke="#d62728"/><path d="M21 68l1 0 1 0 1 0 1 0 1 0 1 0 1 0 1 0 1 0 1 0 1 1 1-1 1 0 1 0M59 68l1 0 1 1 1-1 1 0 1 0 1 1 1-1 1 0 1 0 1 0 1 0 1 0 1 0 1 0M98 68l1 0 1 0 1 0 1 0 1 0 1 0 1-1 1 1 1 0 1 0 1-1 1 1 1 0 1 0M135 68l1 0 1 0 1 0 1 0 1 0 1 0 1-1 1 1 1 0 1 0 1 0 1 0 1-1 1 1 1 0M180 68l1 0 1 0 1-1 1 1 1 0 1 0" stroke="#ff7f0e"/><path d="M21 63l1 0 1 0 1 0 1 0 1 0 1 0 1 0 1 0 1 0 1 0 1-1 1 0 1 1 1 0M59 63l1 0 1 0 1 0 1 0 1 0 1 0 1 0 1 0 1 0 1 0 1 0 1 0 1 0 1 0M98 63l1 0 1 0 1 0 1-1 1 1 1 0 1 0 1 0 1 0 1 0 1 0 1 0 1 0 1-1M135 62l1 1 1 0 1 0 1 0 1 0 1 0 1 0 1 0 1 0 1 0 1 0 1-1 1 1 1 0 1 0M180 63l1 1 1-1 1 0 1 0 1 0 1 0" stroke="#ff7f0e"/><path d="M21 62l1 1 1-1 1 0 1 0 1 1 1-1 1 0 1 0 1 0 1 1 1 0 1 0 1 0 1 0M59 63l1 0 1-1 1 0 1 0 1 1 1 0 1 0 1 0 1-1 1 0 1 1 1 0 1-1 1 0M98 62l1 0 1 1 1 0 1 0 1-1 1 0 1 0 1 0 1 1 1-1 1 0 1 0 1 1 1 0M135 63l1 0 1 0 1 0 1-1 1 1 1 0 1-1 1 1 1 0 1 0 1-1 1 1 1 0 1-1 1 0M180 62l1 1 1 0 1-1 1 0 1 1 1 0" stroke="#17becf"/><path d="M21 60l1 0 1 0 1-1 1 1 1 0 1 0 1 0 1 0 1-1 1 1 1 0 1 0 1 0 1 0M59 60l1 0 1-1 1 1 1 0 1-1 1 1 1 0 1 0 1-1 1 0 1 0 1 1 1 0 1 0M98 60l1 0 1 0 1 0 1 0 1 0 1-1 1 1 1 0 1 0 1-1 1 1 1 0 1 0 1 0M135 60l1 0 1 0 1 0 1 0 1 0 1 0 1 0 1-1 1 1 1 0 1 0 1 0 1 0 1 0 1-1M180 60l1 0 1 0 1 0 1 0 1 0 1 0" stroke="#17becf"/><path d="M21 60l1 0 1-1 1 0 1 0 1 0 1 0 1 0 1 1 1-1 1 0 1 0 1 0 1 0 1 0M59 59l1 1 1-1 1 0 1 1 1-2 1 1 1 0 1 0 1 0 1 0 1 1 1 0 1 0 1-1M98 59l1 0 1 0 1 0 1 0 1 0 1 0 1 0 1 0 1 0 1 0 1 0 1 0 1 0 1 0M135 59l1 0 1 1 1-1 1 0 1 0 1 0 1 0 1 0 1 0 1 0 1 0 1 0 1 0 1 1 1-1M180 59l1 0 1 1 1-1 1 0 1 0 1 0" stroke="#1f77b4"/><path d="M21 56l1 0 1-1 1 0 1 1 1 0 1 0 1 0 1-1 1 1 1 0 1 0 1 0 1 0 1 0M59 56l1 0 1-1 1 0 1 0 1 1 1 0 1 0 1-1 1 1 1 0 1 0 1 0 1 0 1-1M98 56l1 0 1 0 1-1 1 1 1 0 1 0 1 0 1 0 1 0 1 0 1 0 1 0 1 0 1-1M135 56l1 0 1 0 1 0 1-1 1 1 1 0 1 0 1-1 1 1 1 0 1 0 1 0 1 0 1-1 1 1M180 55l1 1 1 0 1 0 1-1 1 0 1 1" stroke="#17becf"/><path d="M21 55l1 0 1 0 1 0 1 0 1 0 1 0 1 0 1 0 1 0 1 0 1 0 1 0 1 0 1 0M59 55l1 0 1 0 1 0 1 0 1 0 1 0 1 0 1 0 1 0 1 0 1 0 1 0 1 0 1 0M98 54l1 1 1-1 1 1 1 0 1 0 1 0 1 0 1 0 1-1 1 2 1-1 1 0 1 1 1-1M135 55l1 0 1 0 1 0 1 0 1 0 1 0 1 0 1-1 1 1 1 0 1 0 1 0 1 0 1 0 1-1M180 56l1-1 1 0 1 0 1 1 1-1 1 1" stroke="#d62728"/><path d="M21 53l1-1 1 0 1 1 1 0 1-1 1 0 1 0 1 0 1 0 1 1 1-1 1 1 1-1 1 0M59 52l1 0 1 1 1 0 1-1 1 0 1 1 1-1 1 0 1 0 1 1 1-1 1 0 1 0 1 0M98 52l1 1 1-1 1 0 1 0 1 0 1 0 1 0 1 0 1 1 1 0 1-1 1 1 1-1 1 1M135 52l1 1 1-1 1 0 1 0 1 0 1 0 1 0 1 0 1 1 1 0 1-1 1 1 1-1 1 0 1 1M180 52l1 0 1 1 1-1 1 1 1-1 1 0" stroke="#d62728"/><path d="M21 51l1 0 1 0 1 0 1 0 1 0 1 0 1-1 1 0 1 0 1 1 1 0 1-1 1 0 1 1M59 50l1 0 1 1 1 0 1-1 1 0 1 1 1 0 1 0 1 0 1-1 1 1 1-1 1 0 1 1M98 51l1 0 1 0 1 0 1-1 1 0 1 0 1 0 1 1 1 0 1 0 1-1 1 0 1 0 1 1M135 50l1 1 1-1 1 1 1-1 1 1 1-1 1 1 1 0 1-1 1 1 1-1 1 1 1-1 1 1 1 0M180 50l1 1 1-1 1 1 1-1 1 0 1 1" stroke="#ff7f0e"/><path d="M21 48l1 0 1 0 1 0 1 0 1 1 1-1 1 0 1 0 1 0 1 0 1 0 1-1 1 1 1 0M59 48l1 0 1 0 1 0 1 0 1 0 1 0 1 0 1 0 1 0 1 0 1 0 1 0 1 0 1 0M98 48l1 0 1 0 1 0 1 0 1 0 1 0 1 0 1 0 1 0 1 0 1 0 1 0 1 0 1 0M135 47l1 1 1 0 1 0 1 0 1 0 1 0 1 0 1 0 1 0 1-1 1 1 1 0 1-1 1 0 1 1M180 48l1 0 1 0 1 0 1 0 1 0 1-1" stroke="#ff7f0e"/><path d="M21 48l1 0 1-1 1 1 1 0 1 0 1 0 1 0 1 0 1-1 1 0 1 0 1 1 1-1 1 0M59 47l1 0 1 1 1-1 1 0 1 0 1 1 1 0 1-1 1 1 1-1 1 0 1 1 1 0 1 0M98 48l1-1 1 1 1 0 1-1 1 0 1 0 1 1 1-1 1 1 1-1 1 1 1 0 1 0 1 0M135 47l1 1 1-1 1 0 1 1 1-1 1 0 1 0 1 1 1-1 1 1 1-1 1 1 1-1 1 1 1-1M180 47l1 0 1 1 1-1 1 0 1 0 1 1" stroke="#8c564b"/><path d="M21 44l1 1 1 0 1-1 1 0 1 1 1-1 1 0 1 0 1 0 1 0 1 0 1 0 1 0 1 1M59 45l1-1 1 0 1 0 1-1 1 1 1 0 1 0 1 0 1 0 1 0 1 0 1 1 1-1 1 0M98 44l1 0 1 0 1 0 1 0 1 0 1 0 1 0 1 0 1 0 1 0 1 0 1 0 1 0 1 0M135 44l1 0 1 0 1 0 1 0 1 0 1 0 1 0 1 0 1 0 1 0 1 0 1 0 1 0 1-1 1 1M180 44l1 0 1 0 1 0 1-1 1 1 1 0" stroke="#7f7f7f"/><path d="M21 37l1 0 1 0 1 0 1 0 1 0 1 0 1-1 1 0 1 0 1 1 1 0 1 0 1 0 1-1M59 36l1 0 1 1 1 0 1 0 1 0 1-1 1 1 1 0 1 0 1 0 1 0 1-1 1 1 1 0M98 36l1 1 1 0 1 0 1 0 1-1 1 1 1 0 1 0 1 0 1 0 1 0 1-1 1 1 1 0M135 37l1 0 1 0 1 0 1-1 1 1 1 0 1 0 1 0 1 0 1-1 1 1 1 0 1-1 1 1 1 0M180 37l1 0 1 0 1-1 1 1 1 0 1-1" stroke="#e377c2"/><path d="M21 34l1 0 1-1 1 0 1 0 1 0 1 0 1 0 1 0 1 0 1 1 1 0 1-1 1 1 1 0M59 34l1-1 1 0 1 0 1 1 1-1 1 1 1 0 1-1 1 0 1 0 1 1 1 0 1-1 1 0M98 33l1 0 1 0 1 1 1 0 1-1 1 1 1-1 1 0 1 0 1 0 1 0 1 0 1 0 1 0M135 33l1 1 1-1 1 0 1 1 1-1 1 0 1 1 1-1 1 0 1 0 1 1 1 0 1 0 1-1 1 0M180 33l1 0 1 0 1 1 1-1 1 1 1-1" stroke="#e377c2"/><path d="M21 33l1 0 1 1 1-1 1 0 1 1 1-1 1 0 1 0 1 0 1 1 1-1 1 0 1 1 1-1M59 34l1-1 1 0 1 0 1 0 1 0 1 0 1 0 1 0 1 0 1 0 1 0 1 0 1 0 1 0M98 33l1 1 1 0 1 0 1-1 1 0 1 0 1 0 1 0 1 1 1 0 1-1 1 0 1 0 1 0M135 33l1 0 1 1 1-1 1 1 1-1 1 0 1 0 1 0 1 1 1-1 1 0 1 1 1-1 1 1 1-1M180 34l1-1 1 0 1 0 1 0 1 0 1 0" stroke="#9467bd"/><path d="M21 28l1 1 1-1 1 1 1 0 1-1 1 0 1 0 1 0 1 1 1 0 1 0 1-1 1 1 1 0M59 29l1 0 1 0 1 0 1-1 1 0 1 1 1-1 1 0 1 0 1 0 1 0 1 1 1 0 1 0M98 28l1 1 1-1 1 0 1 1 1 0 1 0 1 0 1 0 1-1 1 1 1-1 1 1 1 0 1 0M135 29l1 0 1-1 1 0 1 1 1 0 1-1 1 1 1-1 1 0 1 1 1 0 1 0 1 0 1 0 1-1M180 28l1 1 1 0 1 0 1 0 1-1 1 1" stroke="#9467bd"/><path d="M21 28l1 0 1 0 1 0 1 0 1 0 1 1 1 0 1-1 1 0 1 0 1 0 1 0 1 0 1 0M59 28l1 0 1 1 1-1 1 0 1 0 1 0 1 0 1 0 1 0 1 0 1 0 1 0 1 0 1 0M98 28l1 0 1 0 1 0 1 1 1-1 1 0 1 0 1 0 1 0 1 0 1 0 1 0 1 0 1 0M135 28l1 0 1 0 1 0 1 0 1 0 1 0 1 0 1 0 1 0 1 0 1 0 1 0 1 0 1 0 1 1M180 28l1 0 1 1 1-1 1 0 1 0 1 0" stroke="#2ca02c"/><path d="M21 25l1 1 1 0 1-1 1 0 1 1 1-1 1 1 1 0 1-1 1 1 1 0 1-1 1 0 1 1M59 26l1 0 1 0 1 0 1 0 1 0 1 0 1 0 1-1 1 1 1 0 1 0 1 0 1 0 1 0M98 26l1-1 1 1 1 0 1 0 1-1 1 1 1 0 1 0 1 0 1 0 1-1 1 0 1 1 1 0M135 26l1 0 1 0 1 0 1 0 1 0 1 0 1 0 1 0 1-1 1 1 1 0 1-1 1 1 1 0 1 0M180 26l1-1 1 1 1 0 1-1 1 1 1 0" stroke="#2ca02c"/><path d="M21 24l1 0 1 1 1-1 1 0 1 0 1 0 1 0 1 0 1 0 1 0 1 0 1 0 1 1 1-1M59 24l1-1 1 1 1 0 1 0 1 0 1 0 1 0 1 0 1 0 1 0 1 0 1 0 1 0 1 0M98 24l1 0 1 1 1-1 1 0 1 0 1 1 1-1 1 0 1 0 1 0 1 0 1 0 1 0 1 0M135 23l1 1 1 0 1 0 1 0 1 0 1 0 1 0 1 0 1 0 1 0 1 0 1 0 1 0 1 0 1 0M180 24l1 0 1 0 1 0 1 0 1 0 1 0" stroke="#bcbd22"/><path d="M21 21l1 0 1 0 1 0 1 0 1 0 1 0 1 0 1 0 1 0 1-1 1 1 1 0 1 0 1 0M59 21l1 0 1 1 1 0 1 0 1-1 1 0 1 0 1 0 1 0 1 0 1 0 1-1 1 2 1-2M98 20l1 1 1 0 1 0 1 0 1-1 1 1 1 0 1 0 1 0 1 0 1 0 1 0 1 0 1-1M135 21l1 0 1 0 1 0 1 0 1 0 1 0 1 0 1 0 1 0 1 0 1 0 1 0 1 0 1-1 1 1M180 21l1 0 1 0 1 0 1 0 1 0 1 0" stroke="#1f77b4"/><path d="M21 20l1 1 1 0 1-1 1 0 1 0 1 0 1 0 1 0 1 0 1 0 1 0 1 0 1 0 1 0M59 20l1 0 1 0 1 1 1-1 1 0 1 1 1-1 1 0 1 0 1 1 1-1 1 0 1 0 1 0M98 20l1 0 1 0 1 0 1 0 1 0 1 0 1 0 1 0 1 0 1 0 1 0 1 0 1 0 1 0M135 20l1 0 1 0 1-1 1 1 1 0 1 1 1 0 1-1 1 0 1 0 1 0 1 0 1 0 1 0 1 0M180 20l1 1 1-1 1 0 1 0 1 0 1 0" stroke="#9467bd"/><path d="M21 16l1 0 1 1 1 0 1-1 1 0 1 1 1-1 1 0 1 0 1 0 1 0 1 0 1 0 1 1M59 16l1 0 1 0 1 0 1 0 1 0 1 0 1 0 1 0 1 0 1 0 1 0 1 0 1 0 1 0M98 16l1 0 1 0 1 0 1 0 1 0 1 1 1-1 1 1 1 0 1-1 1 0 1 0 1 1 1-1M135 16l1 0 1 0 1 0 1 0 1 0 1 0 1 0 1 0 1 0 1 0 1 0 1 0 1 0 1 0 1 0M180 16l1 0 1 0 1 1 1-1 1 0 1 0" stroke="#bcbd22"/><path d="M21 17l1-1 1 1 1 0 1 0 1-1 1 1 1 0 1-1 1 0 1 0 1 1 1 0 1-1 1 1M59 17l1 0 1-1 1 0 1 0 1 0 1 1 1-1 1 1 1 0 1 0 1-1 1 1 1 0 1 0M98 17l1 0 1 0 1 0 1 0 1 0 1-1 1 1 1 0 1 0 1-1 1 0 1 1 1 0 1-1M135 16l1 1 1 0 1 0 1 0 1 0 1-1 1 1 1 0 1 0 1 0 1 0 1 0 1-1 1 1 1 0M180 17l1 0 1 0 1 0 1-1 1 1 1 0" stroke="#2ca02c"/><path d="M21 14l1-1 1 0 1 1 1-1 1 0 1 0 1 0 1 0 1 0 1 0 1 1 1-1 1 0 1 0M59 13l1 1 1-1 1 0 1 0 1 0 1 1 1-1 1 1 1-1 1 0 1 0 1 0 1 0 1 1M98 13l1 1 1-1 1 0 1 0 1 0 1 1 1-1 1 1 1-1 1 0 1-1 1 1 1 0 1 0M135 13l1 0 1 0 1 0 1 0 1 0 1 0 1 0 1 0 1 0 1 0 1 1 1 0 1-1 1 1 1-1M180 13l1 0 1 0 1 0 1 0 1 0 1 1" stroke="#bcbd22"/><path d="M21 12l1 0 1 0 1 0 1 0 1 0 1 0 1 0 1 0 1 0 1 0 1 1 1-1 1 1 1-1M59 11l1 1 1 0 1 0 1 1 1-1 1 0 1 0 1 0 1 0 1 0 1 0 1 0 1 0 1 0M98 12l1 0 1-1 1 1 1 0 1 0 1 0 1 0 1-1 1 1 1 1 1 0 1-1 1 0 1 1M135 12l1 0 1-1 1 1 1 0 1 0 1 0 1 1 1 0 1-1 1 0 1 0 1 0 1 0 1 0 1 0M180 12l1 0 1 0 1 0 1 1 1-1 1 1" stroke="#2ca02c"/><path d="M21 11l1 0 1 1 1-1 1 0 1 1 1 0 1-1 1 1 1-1 1 1 1-1 1 1 1 0 1 0M59 11l1 0 1 1 1-1 1 1 1 0 1 0 1 0 1 0 1 0 1-1 1 0 1 0 1 1 1 0M98 12l1 0 1 0 1 0 1 0 1-1 1 0 1 1 1 0 1-1 1 1 1 0 1-1 1 1 1 0M135 12l1 0 1-1 1 0 1 1 1 0 1-1 1 1 1 0 1 0 1 0 1 0 1-1 1 1 1-1 1 1M180 12l1 0 1 0 1 0 1 0 1 0 1 0" stroke="#bcbd22"/><path d="M21 40l1-1 1 1 1 0 1 0 1 0 1 0 1 0 1-1 1 0 1 1 1 0 1-1 1 0 1 0M59 39l1 1 1-1 1 1 1 0 1-1 1 1 1-1 1 1 1-1 1 0 1 1 1-1 1 0 1 0M98 40l1-1 1 1 1-1 1 0 1 0 1 0 1 1 1 0 1 0 1-1 1 1 1-1 1 0 1 0M135 39l1 1 1 0 1-1 1 1 1-1 1 1 1 0 1 0 1-1 1 1 1-1 1 0 1 0 1 1 1-1M180 39l1 0 1 0 1 0 1 1 1-1 1 1" stroke="#7f7f7f"/><path d="M21 46l1 0 1-1 1 0 1 0 1 0 1 0 1 0 1 0 1 0 1 0 1 1 1 0 1-1 1 1M59 45l1 1 1 0 1-1 1 1 1-1 1 0 1 0 1 0 1 0 1 0 1 0 1 0 1 0 1 0M98 45l1 0 1 1 1-1 1 0 1 1 1-1 1 1 1-1 1 0 1 1 1-1 1 1 1 0 1-1M135 45l1 0 1 0 1 0 1 0 1 0 1 0 1 0 1 0 1 1 1-1 1 1 1 0 1-1 1 1 1-1M180 45l1 0 1 0 1 0 1 1 1 0 1-1" stroke="#e377c2"/><path d="M21 68l1 0 1 0 1 0 1 1 1-1 1 0 1 0 1 0 1 0 1 0 1 0 1 0 1 0 1 0M59 68l1 1 1-1 1 0 1 0 1 0 1 0 1 0 1 0 1 0 1 0 1 0 1 0 1 0 1 0M98 68l1 0 1 1 1-1 1 1 1-1 1 1 1 0 1 0 1-1 1 0 1 1 1 0 1-1 1 0M135 68l1 0 1 0 1 0 1 0 1 0 1 0 1 0 1 0 1 0 1 0 1 0 1 0 1 0 1 0 1 1M180 68l1 0 1 0 1 0 1 0 1 0 1 0" stroke="#17becf"/></g>
<g transform="translate(141.00 218.30) scale(0.5000 -0.59800)" fill="none" stroke-width="0.70" stroke-opacity="1.00"><path d="M13 33l1 9 1 7 1-4 1-3 1-5 1-3 1 8 1 13 1 15 1 4 1-11 1-8 1-7 1-2 1-6 1 4 1 5 1 6 1 10 1 4 1-2 1-11 1-10 1-4 1-2 1 6 1 5 1 6 1-12 1-14" stroke="#9467bd"/><path d="M13 22l1-1 1 2 1 4 1 1 1 6 1-2 1 0 1-8 1-23 1-1 1 23 1 11 1 11 1 0 1-7 1-12 1-9 1 0 1 6 1 11 1 9 1 3 1-5 1-10 1-6 1-1 1 6 1 4 1-3 1-11" stroke="#1f77b4"/><path d="M13 45l1 8 1 0 1-1 1-11 1 1 1 4 1 17 1 11 1 4 1-3 1-13 1-14 1-12 1 3 1 13 1 16 1 9 1 1 1-4 1-15 1-11 1-6 1 8 1 9 1 13 1 6 1-1 1-14 1-12 1-5" stroke="#e377c2"/><path d="M13 76l1-9 1-8 1-6 1-8 1-12 1-17 1 16 1 9 1 8 1 8 1 3 1-1 1-8 1-12 1-8 1-7 1 7 1 12 1 15 1 3 1 5 1-10 1-6 1-7 1-4 1 0 1 1 1 13 1 12 1 11" stroke="#17becf"/><path d="M13 24l1 24 1 16 1 2 1 1 1 4 1 7 1 7 1 7 1-12 1-6 1-3 1-6 1-1 1 4 1 6 1 14 1-4 1 2 1-9 1-5 1-5 1-3 1 7 1 4 1 1 1 2 1 2 1-10 1-22 1-24" stroke="#2ca02c"/><path d="M13 71l1-23 1-13 1-4 1-1 1 0 1 0 1-4 1-14 1 4 1 2 1 4 1 13 1 3 1 1 1-3 1-6 1-7 1-9 1 2 1 10 1 7 1 0 1 3 1 1 1-6 1 1 1-4 1 3 1 19 1 20" stroke="#ff7f0e"/><path d="M13 41l1-6 1-3 1 3 1-4 1-8 1-7 1 2 1-5 1 10 1 19 1-2 1-2 1-15 1-1 1-6 1 4 1 2 1 14 1 1 1-5 1-7 1-7 1-4 1 5 1 6 1 1 1 6 1-4 1 5 1 7" stroke="#7f7f7f"/><path d="M13 46l1-11 1 1 1-3 1-4 1-10 1-8 1-8 1 4 1 10 1 23 1 0 1-3 1-7 1-10 1-14 1-1 1 5 1 10 1 16 1 5 1-5 1-10 1-11 1-4 1 1 1 5 1 7 1 7 1 8 1 8" stroke="#8c564b"/><path d="M13 59l1 3 1 1 1 0 1-5 1-6 1 3 1 1 1 11 1 6 1 9 1-13 1-7 1-4 1 1 1-3 1 3 1 2 1 4 1 5 1-1 1-4 1-3 1-5 1 7 1-4 1-1 1 3 1 6 1-4 1-5" stroke="#1f77b4"/><path d="M13 13l1 29 1 16 1 3 1-3 1 5 1 0 1 14 1 10 1-1 1-4 1-17 1-2 1 0 1 2 1 1 1 7 1 5 1-3 1 0 1-6 1-6 1-3 1-3 1 5 1 7 1 6 1 1 1-11 1-25 1-27" stroke="#bcbd22"/><path d="M13 54l1-15 1-10 1 4 1 6 1 3 1 1 1-14 1-26 1 1 1 20 1 27 1 5 1-2 1-20 1-21 1-2 1 10 1 17 1 8 1-1 1-9 1-9 1-3 1 3 1 9 1 8 1 1 1 0 1-3 1 14" stroke="#d62728"/><path d="M13 29l1-6 1-4 1 4 1 10 1 3 1-6 1-12 1-7 1-11 1 13 1 15 1 7 1-1 1-7 1-13 1-7 1 1 1 8 1 10 1 5 1-1 1-5 1-6 1-6 1 3 1 7 1 4 1 2 1 1 1-2" stroke="#9467bd"/><path d="M13 32l1-2 1-2 1-2 1 2 1 14 1 9 1-21 1-24 1 5 1 14 1 14 1 3 1-10 1-9 1-1 1 2 1 8 1 7 1-3 1-12 1-4 1 2 1 7 1 9 1-2 1-10 1-7 1 0 1 10 1 2" stroke="#e377c2"/><path d="M13 63l1-16 1-5 1 4 1 4 1-10 1-24 1 4 1 17 1 22 1 13 1-31 1-13 1-4 1 11 1 9 1 3 1-8 1-12 1-6 1 7 1 12 1 7 1-5 1-10 1-6 1 5 1 10 1 10 1 1 1 11" stroke="#17becf"/><path d="M13 29l1 18 1 18 1 8 1 2 1-6 1-7 1-9 1-6 1-3 1 9 1 14 1 11 1 4 1-7 1-6 1-12 1-9 1-6 1 5 1 12 1 10 1 0 1 1 1-1 1-10 1-2 1-4 1-4 1-8 1-13" stroke="#2ca02c"/><path d="M13 42l1-2 1 1 1 4 1-4 1-4 1-22 1 2 1 13 1 17 1 8 1-13 1-8 1-8 1-2 1 12 1 7 1 4 1-6 1-8 1-12 1 2 1 13 1 5 1 2 1-3 1-12 1 2 1-2 1 9 1 7" stroke="#7f7f7f"/><path d="M13 63l1-11 1-6 1 1 1-2 1 0 1-5 1-11 1-13 1 7 1 6 1 11 1 8 1 3 1-1 1-4 1-8 1-12 1-4 1 5 1 3 1 12 1 6 1 1 1-1 1-4 1-7 1-3 1 5 1 9 1 14" stroke="#ff7f0e"/><path d="M13 40l1 8 1 6 1 1 1-6 1-11 1-7 1 11 1 15 1 16 1 9 1-22 1-9 1-14 1 2 1 2 1 10 1 13 1 2 1-2 1-11 1-6 1-9 1 3 1 8 1 6 1 6 1-2 1-8 1-7 1-7" stroke="#e377c2"/><path d="M13 70l1 5 1 11 1 0 1-6 1-11 1-13 1 1 1 9 1 13 1 11 1-11 1-3 1-9 1-12 1 6 1 8 1 10 1 4 1-2 1-7 1-6 1-4 1-1 1 4 1 10 1 5 1-3 1-9 1-4 1 2" stroke="#17becf"/><path d="M13 25l1 22 1 16 1 16 1-5 1-7 1-18 1 12 1 16 1 9 1-5 1-13 1-6 1 0 1 11 1 9 1-3 1-9 1-12 1 3 1 9 1 10 1 0 1-4 1-6 1-1 1 1 1 8 1-3 1-26 1-24" stroke="#bcbd22"/><path d="M13 64l1-14 1-14 1 2 1 11 1 10 1 2 1-17 1-15 1-10 1 16 1 10 1 11 1-4 1-7 1-15 1-5 1 11 1 10 1 7 1 4 1-12 1-9 1-8 1 10 1 11 1 5 1 1 1-5 1 5 1 11" stroke="#d62728"/><path d="M13 69l1-6 1 1 1-3 1-8 1-9 1 4 1 7 1 16 1-3 1-20 1-3 1-2 1 15 1 16 1-2 1-17 1-13 1-2 1 11 1 16 1 5 1-12 1-18 1-4 1 9 1 14 1 9 1-10 1 1 1 8" stroke="#ff7f0e"/><path d="M13 11l1 23 1 21 1 14 1-4 1-10 1-1 1-7 1-7 1 11 1 10 1 4 1 1 1-5 1-5 1-10 1-1 1 3 1 6 1 12 1 1 1-1 1-7 1-6 1-10 1 4 1 2 1 10 1-4 1-19 1-23" stroke="#2ca02c"/><path d="M13 21l1 2 1 5 1 8 1 3 1 0 1-2 1-12 1-4 1 2 1 0 1 11 1 8 1 4 1-3 1-6 1-5 1-7 1-3 1 7 1 2 1 10 1 3 1-2 1-5 1-7 1-2 1-2 1 1 1 2 1-10" stroke="#9467bd"/><path d="M13 51l1-4 1-1 1 4 1 9 1 5 1 0 1-16 1-17 1 10 1 17 1 8 1 3 1-14 1-16 1-3 1 12 1 15 1 8 1-5 1-17 1-8 1-3 1 13 1 10 1 2 1-5 1-9 1-1 1 1 1 3" stroke="#d62728"/><path d="M13 54l1-3 1 3 1 3 1 2 1 5 1-10 1-7 1 0 1 8 1 9 1 3 1-4 1-10 1-2 1-1 1 9 1 11 1 2 1-10 1-13 1-4 1 7 1 14 1 2 1-2 1-7 1-11 1 1 1 8 1-6" stroke="#ff7f0e"/><path d="M13 11l1 33 1 25 1 8 1-1 1-8 1-5 1 0 1 7 1 11 1 18 1-18 1-6 1-7 1-3 1 2 1 6 1 7 1 2 1-1 1-9 1-6 1 0 1 2 1 12 1 1 1 1 1-2 1-17 1-21 1-30" stroke="#bcbd22"/><path d="M13 55l1-20 1-8 1 3 1 0 1-4 1-19 1 2 1 13 1 17 1 5 1-20 1-13 1-4 1 15 1 18 1 4 1-14 1-16 1-3 1 8 1 16 1 3 1-10 1-15 1-7 1 14 1 13 1 10 1 0 1 13" stroke="#17becf"/><path d="M13 18l1 15 1 3 1-6 1-3 1 6 1 14 1 12 1 10 1-13 1-16 1-17 1-2 1 4 1 21 1 17 1 4 1-10 1-16 1-16 1-6 1 3 1 23 1 12 1 4 1-2 1-15 1-12 1-6 1-2 1-5" stroke="#bcbd22"/><path d="M13 73l1-2 1-6 1-8 1-1 1 11 1 18 1-4 1-4 1-19 1-9 1 6 1 8 1 12 1 5 1-3 1-10 1-8 1-5 1 9 1 8 1 2 1 3 1-10 1-5 1-4 1 5 1 6 1 7 1-1 1-3" stroke="#d62728"/><path d="M13 18l1 8 1 12 1 6 1-2 1-13 1-14 1 12 1 17 1 15 1-13 1-14 1-5 1 4 1 11 1 9 1-3 1-6 1-7 1-2 1 3 1 14 1 2 1-8 1-6 1-3 1 4 1 6 1 2 1-14 1-15" stroke="#2ca02c"/><path d="M13 50l1-17 1-13 1 2 1 8 1 4 1 8 1-9 1-13 1-19 1-1 1 0 1 4 1 15 1 12 1 4 1 1 1-8 1-11 1-11 1-5 1 2 1 4 1 9 1 9 1 4 1-2 1-4 1-6 1 16 1 16" stroke="#ff7f0e"/><path d="M13 78l1-17 1-24 1-7 1 12 1 13 1 7 1-18 1-26 1 9 1 22 1 8 1 3 1-19 1-9 1 3 1 17 1 12 1-2 1-20 1-18 1 7 1 19 1 14 1-5 1-16 1-15 1 7 1 20 1 14 1 9M13 60l1 0 1 0 1 7 1-2 1-2 1-5 1-5 1 0 1 19 1 13 1-12 1-12 1-5 1 1 1 10 1 7 1 0 1-9 1-4 1-4 1 6 1 12 1 5 1-9 1-8 1-1 1 4 1 3 1-4 1-5" stroke="#17becf"/></g><g transform="translate(141.00 218.30) scale(0.5000 -0.59800)" fill="none" stroke-width="0.95"><path d="M0 76l1 0 1 0 1 0 1 0 1 0 1 0 1 0 1 0 1 0 1 1 1-1 1 0 1 0M43 76l1 1 1-1 1 0 1 0 1 1 1 0 1-1 1 1 1-1 1 0 1 0 1 1 1-1 1 0 1 0" stroke="#17becf"/><path d="M0 76l1 0 1 0 1 0 1 0 1 0 1 0 1 0 1 1 1-1 1 0 1 1 1-1 1 0M43 76l1 0 1 0 1 0 1 1 1-1 1 0 1 0 1 0 1 1 1-1 1 0 1 1 1 0 1-1 1 1" stroke="#17becf"/><path d="M0 72l1 0 1 0 1 0 1 0 1 0 1 0 1 0 1 0 1 0 1 0 1 0 1 0 1-1M43 73l1-1 1 0 1 0 1 0 1 0 1 0 1 0 1 0 1-1 1 1 1-1 1 1 1 0 1 0 1 0" stroke="#ff7f0e"/><path d="M0 71l1 1 1 0 1-1 1 0 1 0 1 0 1 0 1 0 1 0 1-1 1 1 1 1 1-1M43 71l1 0 1 0 1 0 1 0 1 0 1 0 1 0 1 0 1 0 1 0 1 0 1 0 1 0 1 0 1 0" stroke="#d62728"/><path d="M0 67l1 0 1 0 1 0 1 0 1 1 1-1 1 0 1 0 1 0 1 0 1 0 1 1 1-2M43 67l1-1 1 1 1-1 1 1 1 0 1 0 1 0 1 0 1 0 1 0 1-1 1 1 1 0 1 0 1 0" stroke="#d62728"/><path d="M0 68l1 0 1 0 1 0 1 0 1 0 1 0 1 0 1 0 1 0 1 0 1 0 1 0 1 0M43 68l1 0 1 0 1 0 1 0 1 0 1 0 1-1 1 1 1 0 1 0 1 0 1-1 1 0 1 0 1 0" stroke="#ff7f0e"/><path d="M0 63l1 0 1 0 1 0 1 0 1 1 1-1 1 0 1 0 1 0 1 0 1 0 1 0 1 0M43 63l1 0 1 0 1 0 1 0 1 0 1 1 1-1 1 0 1 0 1 0 1 0 1 0 1 0 1 0 1 0" stroke="#ff7f0e"/><path d="M0 63l1 0 1 1 1-1 1 0 1 0 1 0 1 1 1-1 1 1 1 0 1-1 1 0 1 1M43 63l1 0 1 0 1 0 1 0 1 0 1 0 1 1 1-1 1 0 1 0 1 0 1 0 1 1 1-1 1 0" stroke="#17becf"/><path d="M0 59l1 0 1 0 1 1 1 0 1-1 1 0 1 1 1 0 1 0 1-1 1 0 1 0 1 0M43 59l1 1 1-1 1 0 1 1 1 0 1 0 1-1 1 1 1-1 1 0 1 1 1-1 1 0 1 1 1-1" stroke="#17becf"/><path d="M0 59l1 0 1 0 1 0 1 0 1 0 1 0 1 0 1 0 1 0 1 0 1 0 1 0 1-1M43 58l1 1 1 1 1-1 1-1 1 1 1 0 1 0 1 0 1 0 1 0 1 0 1 0 1 0 1 0 1 0" stroke="#1f77b4"/><path d="M0 55l1 0 1 1 1 0 1 0 1 0 1-1 1 0 1 0 1 0 1 0 1 0 1 0 1 0M43 56l1-1 1 0 1 0 1 0 1 0 1 1 1 0 1-1 1 1 1 0 1-1 1 1 1 0 1 0 1 0" stroke="#17becf"/><path d="M0 55l1 0 1 0 1 0 1-1 1 1 1-1 1 1 1 0 1-1 1 0 1 1 1 0 1 0M43 55l1 0 1 0 1-1 1 1 1 0 1 0 1 0 1 0 1-1 1 1 1 0 1 0 1 0 1 0 1 0" stroke="#d62728"/><path d="M0 51l1 0 1 0 1 0 1 0 1 0 1-1 1 1 1 0 1 0 1 0 1 0 1 0 1 0M43 50l1 1 1-1 1 1 1 0 1 0 1 0 1 0 1 0 1 0 1 0 1 0 1 1 1-1 1 0 1 0" stroke="#d62728"/><path d="M0 51l1 1 1-1 1 0 1 1 1-1 1 0 1 0 1-1 1 1 1 1 1-1 1 1 1-1M43 51l1 0 1 0 1 0 1 0 1 0 1 0 1 1 1-1 1 0 1 1 1 0 1-1 1 0 1 0 1 0" stroke="#ff7f0e"/><path d="M0 48l1 0 1 1 1-1 1 0 1 0 1 1 1-1 1 0 1 0 1 0 1 0 1 0 1 0M43 48l1 0 1-1 1 0 1 1 1 0 1 0 1-1 1 2 1 0 1-1 1 0 1 0 1 0 1 0 1 0" stroke="#ff7f0e"/><path d="M0 48l1-1 1 0 1 0 1 0 1 1 1-1 1 0 1 0 1 0 1 1 1 0 1-1 1 0M43 47l1 0 1 1 1 0 1-1 1 0 1 1 1-1 1 1 1 0 1-1 1 0 1 0 1 0 1 0 1 0" stroke="#8c564b"/><path d="M0 43l1 0 1 0 1 0 1 0 1 0 1 0 1 0 1 0 1 0 1 0 1 0 1 0 1 0M43 43l1-1 1 1 1 0 1 0 1 0 1 0 1 0 1 0 1 1 1 0 1-1 1 0 1-1 1 1 1 0" stroke="#7f7f7f"/><path d="M0 37l1 0 1 0 1 1 1 0 1-1 1 1 1-1 1 0 1 0 1 1 1-1 1 1 1 0M43 38l1-1 1 0 1 0 1 0 1 1 1-1 1 0 1 0 1 0 1 0 1 0 1 0 1 0 1 0 1 0" stroke="#e377c2"/><path d="M0 32l1 0 1 0 1 0 1 1 1 0 1-1 1 0 1 0 1 0 1 0 1 0 1 0 1 0M43 33l1-1 1 0 1 0 1 0 1 0 1 1 1-1 1 0 1 1 1 0 1 0 1-1 1 0 1 0 1 0" stroke="#e377c2"/><path d="M0 33l1-1 1 1 1 0 1-1 1 0 1 1 1-1 1 1 1-1 1 1 1 0 1-1 1 1M43 33l1-1 1 0 1 0 1 1 1 0 1 0 1 0 1-1 1 0 1 1 1 0 1-1 1 1 1-1 1 0" stroke="#9467bd"/><path d="M0 30l1 0 1 0 1-1 1 1 1 0 1-1 1 1 1-1 1 0 1 0 1 0 1 0 1 0M43 30l1-1 1 1 1-1 1 0 1 1 1-1 1 1 1 0 1-1 1 1 1 0 1 0 1 0 1-1 1 0" stroke="#9467bd"/><path d="M0 30l1-1 1 0 1 0 1 0 1 0 1 1 1-1 1 0 1 0 1 0 1 0 1 0 1 0M43 29l1 0 1 0 1 0 1 1 1-1 1 0 1 0 1 1 1-1 1 0 1 0 1 0 1 0 1 1 1-1" stroke="#2ca02c"/><path d="M0 25l1 0 1 0 1 0 1 0 1 0 1 0 1 0 1 0 1-1 1 1 1 0 1 0 1 0M43 25l1 0 1 0 1 0 1-1 1 1 1 1 1-1 1 0 1 0 1 0 1 0 1 0 1 0 1 0 1 0" stroke="#2ca02c"/><path d="M0 25l1 0 1 0 1 0 1 0 1 0 1 0 1 0 1 0 1 0 1 1 1-1 1 0 1 0M43 26l1-1 1 0 1 1 1 0 1-1 1 0 1 0 1 0 1 0 1 0 1-1 1 1 1 0 1 0 1 0" stroke="#bcbd22"/><path d="M0 21l1 1 1-1 1 0 1 0 1 0 1 0 1 0 1 0 1 0 1 0 1 0 1 0 1 0M43 20l1 0 1 1 1 0 1 0 1 0 1 0 1 0 1 0 1 0 1 1 1-1 1 0 1 0 1 0 1 1" stroke="#1f77b4"/><path d="M0 21l1-1 1 1 1 0 1-1 1 0 1 0 1 1 1 0 1 0 1 0 1 0 1-1 1 1M43 21l1 0 1 0 1-1 1 1 1 0 1 0 1 0 1 0 1 0 1-1 1 1 1 0 1 0 1-1 1 1" stroke="#9467bd"/><path d="M0 17l1 0 1 0 1 0 1 0 1 0 1 0 1 0 1 0 1 0 1 0 1 0 1 1 1-1M43 17l1 0 1 0 1 0 1 0 1 0 1 0 1 0 1 0 1 0 1 0 1 0 1 0 1 0 1 0 1 1" stroke="#bcbd22"/><path d="M0 18l1-1 1 0 1 0 1 0 1 0 1 0 1 0 1 0 1 0 1 0 1 1 1 0 1-1M43 18l1-1 1 0 1 1 1-1 1 0 1 0 1 0 1 0 1 0 1 1 1-1 1 1 1-1 1 1 1 0" stroke="#2ca02c"/><path d="M0 13l1 0 1 0 1 1 1 0 1-1 1 1 1 0 1 0 1 0 1-1 1 0 1 1 1-1M43 14l1-1 1 0 1 0 1 0 1 0 1 1 1-1 1 0 1 0 1 0 1 1 1-1 1 0 1 1 1-1" stroke="#bcbd22"/><path d="M0 13l1 0 1-1 1 1 1 0 1-1 1 0 1 1 1-1 1 0 1 0 1 0 1 1 1-1M43 13l1 0 1 0 1-1 1 0 1 1 1 0 1-1 1 1 1 0 1-1 1 1 1-1 1 0 1 1 1 0" stroke="#2ca02c"/><path d="M0 11l1 1 1-1 1 0 1 1 1 0 1-1 1 0 1 0 1 1 1-1 1 0 1 0 1 0M43 11l1 1 1-1 1 0 1 0 1 0 1 0 1 1 1-1 1 0 1 0 1 1 1 0 1-1 1 0 1 0" stroke="#bcbd22"/><path d="M0 41l1-1 1 0 1 0 1 1 1-1 1 0 1 0 1 0 1 0 1 0 1 1 1-1 1 0M43 40l1 0 1 0 1 1 1-1 1 0 1 0 1 0 1 0 1 0 1 0 1 0 1 0 1 0 1 0 1 0" stroke="#7f7f7f"/><path d="M0 44l1 0 1 1 1 0 1 0 1 0 1 0 1 0 1 0 1 0 1 0 1 0 1 0 1-1M43 45l1 0 1 0 1 0 1 0 1 0 1 0 1 0 1 0 1 0 1 0 1-1 1 1 1 0 1 0 1 0" stroke="#e377c2"/><path d="M0 69l1 1 1 0 1-1 1 1 1-1 1 0 1 0 1 0 1 0 1 0 1 1 1 0 1-1M43 69l1 1 1-1 1 1 1-1 1 0 1 1 1-1 1 0 1 0 1 0 1 1 1 0 1 0 1-1 1 0" stroke="#17becf"/></g>
<g transform="translate(171.00 235.00) scale(0.5000 -0.59800)" fill="none" stroke-width="0.70" stroke-opacity="1.00"><path d="M0 65l1-16 1-14 1-10 1-5 1-10 1-4 1 13 1 20 1-1 1-13 1-20 1 3 1 1 1 17 1 8 1-3 1-12 1-8 1-7 1 7 1 10 1 6 1-2 1-11 1-6 1 1 1 4 1 10 1 4 1-5 1-15 1-5 1 20 1 20 1 23M236 70l1-17 1-13 1-6 1-12 1-5 1 2 1 9 1 19 1-6 1-12 1-14 1-11 1 7 2 17 1 24 1-8 1-12 1-13 1-8 1 5 1 9 1 8 1-2 1-6 1 0 1 19 1 28M279 63l1-11 1-7 1-12 1-9 1 12 1 6 1 2 1-2 1-8 1-7 1 5 1 8 1 4 1-1 1-2 1-12 1 2 1 8 1 5 1 10 1-8 1-9 0 1 1 1 1 7 1 3 1-1 1-2 1 8 1 6" stroke="#ff7f0e"/><path d="M0 18l1 18 1 17 1 8 1-3 1-2 1-12 1 0 1 12 1 10 1 15 1-8 1-3 1-9 1-7 1-2 1 1 1 3 1 10 1 10 1-4 1-4 1-8 1-6 1-6 1 4 1 6 1 8 1 3 1 0 1-1 1-5 1-4 1-11 1-12 1-16M51 20l1 10 1 9 1 12 1 6 1 2 1-9 1-12 1-4 1-3 1 6 1 6 1 8 1 6 1 1 1-5 1-10 1-11 1-7 1 8 1 10 1 12 1 7 1 6 1-7 1-19 1-5 1-4 1 2 1 8 1 4 1-9 1-18M145 20l1 30 1 23 1-1 1-8 1-11 1-1 1 9 1 14 1 15 1 4 1-8 1-18 1-12 1-7 1 6 1 12 1 14 1 6 1 2 1-4 1-19 1-8 1-2 1 7 1 10 1-22 1-31M190 19l1-4 1 0 1 3 1 10 1 4 1 0 1-5 1-17 1-6 1 9 1 13 1 33 1 2 1-22 1-21 1-13 1-2 1 13 1 22 1-2 1-5 1-8 1-2 1-3 1 1 1 4 1 4 1-6M412 29l1 7 1 3 1-8 1-10 1-12 1 8 1 15 1 14 1-8 1-7 1-9 1-4 1 2 1 6 1 10 1-4 1-3 1-13 1-7 1 7 1 10 1 7 1 0 1-5 1-6 1 5 1 4" stroke="#9467bd"/><path d="M324 13l1 29 1 28 1 18 1-4 1 6 1-14 1-2 1-7 1 2 1 0 1 10 1 1 1 1 1-1 1-5 1-7 1-7 1-4 1 12 1 10 1 6 1-4 1-5 1-4 1-7 1 2 1-6 1-17 1-33M369 25l1 1 1-10 1-7 1 2 1 10 1 16 1 3 1-9 1-14 1-4 1-1 1 6 1 13 1 6 1-5 1-17 1-15 1 0 1 13 1 11 2 9 1-5 1-7 1-15 1 0 1 9 1 10" stroke="#2ca02c"/><path d="M0 66l1-6 1-10 1-13 1-5 1 3 1 6 1 13 1-3 1-11 1-5 1-1 1 4 1 11 1 0 1-4 1-11 1-1 1 7 1 19 1-3 1-8 1-11 1-3 1 7 1 8 1-1 1 0 1-7 1-2 1 1 1 6 1 5 1 3 1 6 1 9M236 71l1-28 1-14 1 12 1 4 1-6 1-14 1-13 1 5 1 27 1 8 1-7 1-18 1-4 2 1 1 16 1 7 1-5 1-11 1-6 1 2 1 6 1 11 1-9 1-3 1-10 1 22 1 22M324 68l1-10 1-10 1-13 1-23 1 26 1 8 1 13 1 2 1-4 1-10 1-6 1-5 1 3 1 9 1 9 1 9 1-2 1-14 1-12 1-18 1 13 1 7 1 11 1 7 1 0 1-9 1 1 1 4 1 12" stroke="#d62728"/><path d="M51 39l1 3 1-1 1-6 1-7 1-6 1 1 1 6 1 7 1 11 1 9 1-4 1-12 1-12 1-14 1 0 1 3 1 14 1 14 1 6 1-2 1-10 1-12 1-10 1-3 1 1 1 9 1 11 1 8 1 1 1-4 1-6 1 8M145 44l1 9 1 6 1 0 1 5 1 10 1 11 1-5 1-3 1-12 1-6 1-7 1 1 1 2 1 11 1 10 1 3 1 2 1-9 1-11 1-16 1 2 1 7 1 4 1 8 1 4 1-11 1-16M190 45l1-7 1-13 1-10 1-1 1 2 1 8 1 5 1-1 1-6 1-9 1 1 1 2 1 14 1 3 1-8 1-12 1-4 1-4 1 25 1 5 1-6 1-8 1-4 1 0 1 5 1 8 1 6 1 10M279 46l1-4 1-5 1-3 1-10 1-7 1-1 1 2 1 6 1 20 1 13 1-6 1-7 1-17 1-3 1-4 1 2 1 6 1 9 1 8 1 2 1-3 1-10 0-11 1-6 1 0 1 6 1 9 1 3 1 4 1 5M324 42l1-5 1 8 1 8 1 6 1-24 1-4 1 5 1 13 1 7 1-5 1-11 1-10 1 4 1 7 1 9 1 2 1-7 1-11 1 6 1-4 1 17 1 5 1-6 1-11 1-6 1 1 1 14 1 0 1-10M369 45l1 3 1 9 1 4 1-5 1-12 1-6 1-4 1 9 1 10 1 5 1 3 1-4 1-4 1-9 1-14 1 14 1 6 1 16 1-3 1 1 2-8 1-9 1-3 1 2 1 2 1 2 1-4" stroke="#7f7f7f"/><path d="M99 17l1 25 1 25 1 10 1 2 1-4 1-9 1-5 1-6 1 12 1 4 1 8 1 11 1-14 1-15 1-25 1 4 1 19 1 10 1 11 1-1 1-7 1-7 1-13 1-4 1 11 1 7 1-20 1-30M190 12l1 7 1 2 1 3 1 7 1 13 1-4 1-20 1-16 1 5 1 19 1 19 1 12 1-25 1-24 1-5 1 14 1 22 1 11 1-11 1-22 1-4 1 0 1 13 1 5 1-3 1-7 1-7 1-5M236 17l1 19 1 18 1 11 1 8 1 3 1-9 1 0 1-18 1-8 1 5 1 8 1 9 1 8 2 5 1 5 1-20 1-6 1-7 1-2 1 6 1 12 1 4 1 7 1-6 1-12 1-21 1-22M412 27l1 23 1 7 1 5 1 1 1 10 1 1 1 5 1-12 1-8 1 2 1 3 1 5 1 8 1 2 1-9 1-6 1-6 1 2 1 7 1 7 1 2 1-1 1-9 1-9 1 0 1-8 1-23" stroke="#bcbd22"/><path d="M99 21l1 28 1 17 1-2 1-8 1 1 1 6 1 12 1 10 1 6 1-6 1-11 1-22 1-13 1 9 1 13 1 16 1 17 1 0 1 3 1-25 1-4 1 2 1-6 1 8 1 7 1-4 1-24 1-28M236 61l1-5 1 1 1 3 1 11 1 7 1 3 1-12 1-15 1-1 1 7 1 9 1 10 1 3 2-7 1-21 1-4 1 8 1 13 1 11 1 0 1-5 1-16 1-5 1 5 1 11 1-3 1-9M369 18l1 13 1-3 1-4 1-4 1 9 1 6 1 7 1 1 1-4 1-6 1-12 1-2 1 2 1 8 1 29 1-9 1-1 1-7 1-12 1-6 2-2 1 4 1 2 1 8 1 0 1-8 1-6" stroke="#1f77b4"/><path d="M51 45l1-8 1-15 1-5 1 4 1 12 1 5 1-8 1-10 1-16 1-1 1 13 1 11 1 8 1-3 1-10 1-15 1-5 1 5 1 18 1 12 1-2 1-12 1-22 1-1 1 0 1 25 1 9 1-1 1-10 1-5 1 13 1 14M145 40l1 0 1 0 1 0 1 0 1 6 1 6 1-1 1-1 1-5 1-4 1-3 1 0 1 1 1 9 1 5 1 0 1-5 1-4 1-9 1-6 1 3 1 10 1 5 1 0 1-2 1-5 1 0" stroke="#e377c2"/><path d="M51 69l1-13 1-21 1-14 1 2 1 11 1 9 1 5 1 1 1-12 1-14 1-11 1 8 1 16 1 8 1 5 1-4 1-5 1-6 1-5 1 1 1 9 1 9 1 12 1-5 1-16 1-11 1 0 1 8 1 4 1 11 1 9 1 7M99 55l1-11 1-3 1-7 1-4 1-7 1 0 1 9 1 8 1 7 1-5 1-7 1-7 1-3 1 7 1 7 1 4 1 1 1-5 1-7 1-7 1 5 1 5 1 9 1 5 1-3 1-7 1 5 1 11M145 55l1-9 1 2 1 7 1 1 1 1 1-12 1-12 1-5 1-3 1 3 1 7 1 12 1 8 1 0 1-7 1-10 1-10 1-5 1-5 1-1 1 19 1 7 1 7 1-5 1-4 1 2 1 13M190 56l1 2 1-2 1 3 1 7 1 2 1 5 1-9 1-15 1-1 1 5 1 12 1 16 1-2 1-18 1-8 1-1 1 4 1 8 1 23 1-12 1-16 1-3 1-3 1 5 1 2 1 4 1-4 1-6M279 69l1-18 1-14 1 1 1 22 1-1 1-5 1-10 1-7 1-3 1-1 1 24 1 8 1-3 1-14 1-11 1-6 1 6 1 12 1 4 1 3 1-7 1-11 0-10 1 7 1 13 1 6 1 4 1-4 1 0 1 14M324 75l1-22 1-8 1 0 1-4 1-14 1 0 1 3 1 5 1 5 1 5 1 1 1-7 1-11 1-7 1-1 1 9 1 11 1 8 1 5 1-7 1-15 1-6 1 1 1 6 1 9 1 3 1 9 1 6 1 19M369 59l1 3 1-3 1-6 1 1 1-4 1 10 1 2 1 1 1-2 1-9 1-7 1 1 1 9 1 11 1 1 1-2 1-18 1-12 1 12 1 4 2 7 1 5 1-1 1-10 1 1 1-2 1 8M412 75l1-9 1-16 1-10 1-16 1-2 1 19 1 9 1 13 1-7 1-8 1-10 1-3 1 2 1 7 1 8 1 7 1-4 1-7 1-12 1-7 1 2 1 10 1 11 1 6 1-5 1 6 1 17" stroke="#17becf"/><path d="M0 48l1 0 1 2 1-12 1-7 1-5 1 7 1 33 1 2 1-2 1-8 1-24 1-14 1 0 1 15 1 15 1 10 1 2 1-9 1-22 1-10 1 3 1 14 1 16 1 0 1 5 1-7 1-9 1-4 1 0 1 5 1 3 1 8 1-1 1-4 1-1M99 49l1 17 1 18 1-1 1-7 1-10 1-2 1 1 1 10 1 8 1 3 1 0 1 1 1-22 1-9 1-23 1 29 1 12 1 11 1 11 1-6 1-11 1-8 1-7 1-6 1 10 1 5 1-7 1-19M279 49l1 0 1-2 1 1 1 2 1 7 1 11 1 2 1-9 1-9 1-18 1-13 1 2 1 20 1 11 1 6 1 5 1-2 1-7 1-6 1-4 1-3 1 2 0 8 1 7 1-1 1 3 1-4 1-2 1-9 1-1M412 49l1 9 1 7 1-3 1-4 1-1 1 1 1 4 1 10 1 5 1-2 1-6 1-8 1-5 1 4 1 0 1 7 1 4 1 0 1 3 1-8 1-8 1-1 1-3 1 8 1 4 1-3 1-13" stroke="#8c564b"/><path d="M51 48l1-15 1-8 1-3 1 5 1-5 1-5 1-9 1 0 1 10 1 3 1 5 1-5 1-7 1-1 1 0 1 2 1 10 1 1 1-7 1-9 1-3 1 3 1 9 1 14 1-5 1-10 1-8 1 2 1 1 1 12 1 12 1 13M190 48l1-8 1-10 1-8 1 3 1 3 1 10 1 24 1-9 1-8 1-11 1-10 1-11 1 4 1 6 1 6 1 10 1 3 1-1 1-2 1-8 1-11 1-3 1 4 1 7 1 10 1 4 1 4 1 4M324 47l1 9 1 10 1-4 1-10 1 6 1 5 1 0 1 2 1-3 1-5 1-2 1 7 1 3 1 6 1-9 1-8 1-5 1 6 1 11 1 9 1-13 1-6 1-2 1 5 1 5 1 3 1-8 1-5 1-6" stroke="#8c564b"/><path d="M0 74l1-22 1-13 1-20 1 5 1 6 1 15 1 9 1-4 1-11 1-10 1-11 1-5 1 3 1 11 1 9 1 4 1 5 1-4 1-8 1-11 1-3 1-2 1 11 1 5 1 6 1 2 1 0 1-5 1-12 1-7 1-3 1 8 1 18 1 19 1 18M236 56l1-2 1-6 1-2 1 4 1 7 1 13 1 4 1 10 1-21 1-15 1-7 1-2 1 12 2 11 1 8 1 2 1-2 1-6 1-20 1-3 1 2 1 11 1 10 1 2 1 1 1-8 1-3" stroke="#17becf"/><path d="M145 55l1-9 1-8 1-9 1-6 1-8 1 14 1 19 1-1 1-15 1-10 1-1 1 5 1 10 1-1 1-4 1-12 1-7 1 5 1 14 1 26 1-20 1-11 1-9 1 7 1 5 1 12 1 14M369 52l1 11 1 7 1-10 1-4 1 6 1 11 1 5 1-6 1-9 1-7 1 5 1 10 1 13 1 1 1-18 1-13 1-16 1 26 1 18 1 6 2-12 1-13 1-4 1 5 1 8 1-9 1-12" stroke="#d62728"/><path d="M99 51l1-9 1-6 1-12 1-10 1 5 1 16 1 11 1-3 1-16 1-7 1 3 1 10 1 23 1-10 1-19 1-8 1 4 1 9 1 17 1-2 1-16 1-12 1 0 1 13 1 6 1 2 1 3 1 7M145 68l1-20 1-10 1-1 1-4 1-21 1-8 1 10 1 19 1 12 1 4 1-12 1-15 1-13 1-1 1 15 1 12 1 5 1 1 1-13 1-24 1 11 1 9 1 6 1 10 1 1 1 6 1 20M190 70l1-31 1-16 1-6 1-2 1-2 1-5 1 1 1 9 1 7 1 4 1-4 1 0 1-16 1 3 1 0 1 5 1 6 1 7 1 4 1-8 1-9 1-1 1 0 1 6 1 2 1 7 1 15 1 23" stroke="#ff7f0e"/><path d="M51 17l1 15 1-2 1 0 1-12 1-2 1 7 1 9 1 10 1 6 1 1 1-4 1-13 1-7 1-2 1-2 1 11 1 8 1 6 1 0 1-6 1-6 1-5 1-18 1 4 1 13 1 9 1 7 1 2 1-3 1-11 1-11 1-4M279 16l1 16 1 13 1 7 1 0 1 8 1 3 1-1 1 0 1-6 1-10 1-20 1 8 1 12 1 12 1 2 1 3 1-2 1-4 1-7 1-7 1 1 1 1 0 5 1 6 1 7 1-4 1 0 1-12 1-15 1-16M324 23l1-2 1 2 1 3 1 17 1-13 1-7 1-13 1-4 1 2 1 12 1 9 1 6 1-2 1-10 1-9 1-9 1-5 1 13 1 13 1 14 1-5 1-10 1-6 1-1 1-3 1 2 1 5 1 4 1 0M369 17l1 22 1 21 1 10 1 4 1-6 1-8 1-6 1-3 1 1 1 5 1 12 1 14 1-3 1-5 1-26 1-6 1-8 1 12 1 18 1 9 2 3 1-8 1-9 1-8 1-4 1-11 1-20" stroke="#bcbd22"/><path d="M99 22l1 3 1 2 1 0 1 3 1 4 1 7 1 2 1-1 1 1 1-7 1-7 1-16 1-5 1 15 1 16 1 8 1 8 1-5 1 2 1-13 1-7 1 0 1 0 1 3 1 6 1-2 1-6 1-15M236 21l1 4 1 10 1 6 1 4 1-2 1-3 1-11 1-18 1 16 1 13 1 10 1 3 1-5 2-14 1-18 1 10 1 9 1 10 1 10 1-2 1-10 1-12 1-4 1 2 1 6 1-3 1-12M279 32l1 22 1 19 1 6 1-6 1-8 1-10 1-7 1 4 1 5 1 15 1 20 1 6 1-18 1-11 1-8 1-14 1-5 1 7 1 10 1 9 1 2 1 3 0-2 1-8 1-7 1 0 1 0 1-1 1-9 1-12M324 32l1-5 1-8 1-7 1 13 1 2 1 0 1-4 1-11 1 0 1 8 1 8 1 2 1-1 1-12 1-3 1 2 1 11 1 17 1-2 1-14 1-9 1-2 1 5 1 9 1 7 1-6 1-4 1 0 1 6M369 24l1-1 1 7 1 0 1-3 1-9 1-1 1-6 1 6 1 7 1 6 1 1 1-5 1-7 1-5 1-8 1 11 1 5 1 9 1-5 1-4 2-3 1-4 1-3 1 4 1 6 1-2 1 2" stroke="#9467bd"/><path d="M0 35l1 11 1 14 1 6 1-7 1-5 1-6 1 5 1 5 1 7 1 10 1 3 1-9 1 0 1-8 1-6 1-3 1 4 1 6 1 15 1-1 1-4 1-5 1 0 1-6 1-3 1 2 1 1 1 10 1 2 1 4 1-5 1-2 1-12 1-13 1-12M99 45l1-10 1-6 1-3 1-11 1-1 1 3 1 11 1 3 1-6 1-4 1-9 1-4 1 18 1 10 1-6 1-7 1-11 1 2 1 6 1 5 1 4 1-3 1-7 1-3 1 2 1 9 1 8 1 12M412 46l1-5 1-2 1-11 1-8 1 2 1 10 1 18 1-5 1-19 1-15 1 1 1 14 1 13 1-2 1-12 1-16 1-1 1 14 1 9 1 1 1-4 1-15 1-2 1 6 1 13 1 5 1 7" stroke="#e377c2"/><path d="M51 15l1 22 1 15 1 5 1-6 1-2 1-3 1 6 1 7 1 12 1-1 1-8 1-12 1-9 1-4 1 6 1 11 1 10 1 3 1-3 1-9 1-16 1-4 1-12 1 25 1 16 1 22 1-23 1-8 1-10 1-6 1-11 1-12M145 30l1 9 1 4 1-6 1 1 1 5 1 19 1-1 1 1 1-11 1-8 1-4 1 1 1 8 1 11 1 4 1-4 1-10 1-8 1-2 1-7 1 21 1 3 1-1 1 0 1-7 1-8 1-11M190 13l1 6 1 10 1 8 1 2 1-7 1-11 1-19 1 7 1-1 1 11 1 9 1 16 1 7 1-9 1-13 1-6 1-7 1-10 1 5 1 14 1 5 1 9 1 2 1-6 1-7 1-6 1-10 1 0M236 27l1 19 1 19 1 9 1 10 1 6 1 3 1-7 1-22 1-10 1 0 1-3 1 13 1 13 2 10 1-3 1-1 1-5 1-11 1-4 1-3 1 4 1 6 1 10 1 1 1-2 1-25 1-30M279 30l1 18 1 14 1 12 1 13 1 5 1-11 1-7 1-7 1-10 1 4 1 13 1 9 1 3 1-7 1-13 1-8 1 3 1 15 1 8 1 6 1-8 1-9 0-8 1-1 1 8 1 8 1-1 1-7 1-20 1-28M412 27l1 15 1 4 1-7 1-2 1 1 1 14 1 10 1 5 1-16 1-16 1-3 1 6 1 14 1 6 1-3 1-7 1-19 1-7 1 9 1 19 1 12 1-1 1-12 1-14 1-3 1 2 1-3" stroke="#2ca02c"/><path d="M0 46l1 4 1 13 1 2 1-11 1-10 1-7 1-17 1 27 1 15 1 14 1 10 1-10 1-13 1-14 1-11 1-7 1 7 1 18 1 17 1 7 1-3 1-6 1-11 1-14 1-3 1 1 1 12 1 9 1 10 1 4 1-3 1-9 1-13 1-7 1-3M412 38l1 12 1 6 1 5 1-2 1 0 1-3 1-5 1-27 1 16 1 6 1 7 1 2 1 5 1-1 1-1 1-7 1-7 1 2 1-2 1 2 1 8 1 1 1 4 1-4 1-3 1-9 1-3" stroke="#7f7f7f"/><path d="M51 34l1 11 1 12 1 18 1 2 1-4 1-14 1-11 1-6 1 9 1 9 1 9 1 0 1 1 1-12 1-6 1-2 1 1 1 12 1 9 1 10 1-7 1-15 1-26 1-9 1 11 1 21 1 15 1-1 1-2 1-12 1-16 1-8M190 36l1 16 1 11 1 8 1 0 1-2 1-10 1-12 1 1 1 9 1 6 1 9 1 19 1-5 1-16 1-5 1-8 1-2 1-2 1 15 1 4 1 0 1 2 1-7 1-1 1-4 1-2 1-10 1-10M236 36l1-12 1-11 1 4 1 11 1 6 1 2 1-13 1-23 1 0 1 8 1 15 1 9 1 0 2-7 1-25 1 0 1 4 1 21 1 18 1 0 1-10 1-17 1-4 1 1 1 8 1 15 1 2M279 33l1 6 1 1 1-9 1-27 1 26 1 13 1 5 1-3 1 1 1-26 1-7 1 13 1 14 1 7 1-3 1-4 1-11 1-4 1 6 1 6 1 14 1 0 0-12 1-9 1-5 1 3 1 8 1 2 1 1 1-5M324 32l1 0 1 5 1 11 1 17 1-25 1-14 1-7 1 3 1 14 1 18 1 0 1-5 1-23 1-16 1-1 1 19 1 25 1 25 1-25 1-19 1-19 1 0 1 11 1 14 1 6 1-5 1-5 1-9 1 8M369 35l1-4 1-8 1 7 1 6 1 2 1-1 1-7 1-8 1-6 1 6 1 9 1 7 1 2 1-1 1-13 1-9 1-10 1 14 1 15 1 12 2-3 1-12 1-8 1-8 1 4 1 14 1 2" stroke="#e377c2"/><path d="M412 34l1 18 1 10 1-7 1-9 1-11 1 18 1 8 1 14 1 0 1-3 1-8 1-10 1-2 1-2 1 4 1 9 1 5 1 5 1-2 1-6 1-11 1-5 1-6 1 7 1 5 1-8 1-13" stroke="#9467bd"/><path d="M145 47l1 4 1 2 1-7 1 11 1 16 1 4 1-12 1-12 1-9 1-3 1 12 1 15 1 6 1 1 1-16 1-16 1-2 1 9 1 16 1 33 1-24 1-13 1-7 1-2 1 3 1-3 1-6M236 47l1-18 1-12 1 4 1 9 1-1 1-5 1-10 1-7 1 4 1 13 1 10 1-1 1-12 2-11 1-7 1 12 1 11 1 7 1-3 1-11 1-5 1-5 1 8 1 10 1 5 1 6 1 10M369 48l1-1 1-5 1 6 1 9 1 6 1 4 1 1 1 1 1-5 1-13 1-9 1-1 1 8 1 13 1 10 1 3 1 0 1-6 1-8 1-9 2-3 1 1 1 5 1 9 1 7 1-9 1-15" stroke="#8c564b"/><path d="M0 26l1 22 1 6 1 2 1-1 1 3 1 18 1 23 1-15 1-18 1-16 1-6 1 16 1 10 1 8 1-2 1-12 1-13 1-3 1 1 1 21 1 4 1 0 1-5 1-15 1-4 1 11 1 17 1 9 1-4 1-12 1-9 1-6 1-2 1-7 1-23M99 12l1 26 1 18 1 12 1 0 1-3 1-15 1-2 1 13 1 14 1 3 1-11 1-18 1-14 1 19 1 17 1 4 1-9 1-9 1-19 1 15 1 13 1 8 1-5 1-9 1-4 1-2 1-13 1-30" stroke="#2ca02c"/><path d="M0 20l1 19 1 20 1 22 1 5 1-2 1-9 1-25 1-6 1 5 1 7 1 22 1 8 1 5 1-9 1-14 1-15 1-4 1 4 1 13 1 21 1 7 1-5 1-14 1-12 1-5 1-4 1 8 1 14 1 11 1-1 1-3 1-10 1-23 1-13 1-18M51 20l1 17 1 14 1 3 1-4 1-2 1 2 1 1 1 6 1 2 1 6 1-8 1-1 1-8 1-3 1-2 1 9 1 5 1 2 1 3 1-3 1-1 1-7 1-10 1-6 1 16 1 12 1 2 1-2 1 2 1-10 1-20 1-15M145 61l1-29 1-15 1 3 1 10 1 10 1-6 1-18 1-16 1 0 1 9 1 14 1 7 1-4 1-6 1-11 1-9 1 8 1 15 1 14 1 29 1-36 1-15 1-9 1 0 1 11 1 23 1 17M190 19l1 30 1 32 1 8 1-3 1-9 1-9 1-12 1 8 1 3 1 6 1 14 1 7 1 5 1-8 1-14 1-10 1-8 1-8 1 14 1 15 1 1 1 5 1-1 1-4 1-6 1-7 1-22 1-26M279 21l1 16 1 3 1-2 1-2 1 2 1 11 1 4 1 7 1 4 1-4 1-20 1-5 1 1 1 3 1 6 1 11 1 4 1 0 1-8 1-3 1-11 1-2 0 4 1 5 1 8 1 4 1 0 1-10 1-13 1-11M324 60l1 3 1 2 1-2 1-18 1 3 1 12 1 8 1 2 1-4 1-5 1-9 1 4 1 6 1 8 1 6 1-6 1-9 1-35 1 22 1 10 1 14 1 0 1-3 1-8 1-7 1 4 1 5 1 4 1-4M412 21l1 2 1 6 1 3 1 17 1-4 1-14 1-4 1-4 1 2 1 3 1 7 1 3 1-2 1 1 1-8 1-2 1 0 1-1 1 5 1 7 1 0 1-3 1-2 1-5 1-1 1 0 1-5" stroke="#1f77b4"/><path d="M99 70l1-7 1-9 1-12 1 2 1 10 1 13 1-1 1-14 1-4 1 0 1 6 1 11 1 0 1-12 1-15 1 4 1 13 1 5 1 4 1-11 1-5 1 0 1 6 1 8 1 0 1-8 1 2 1 14M279 54l1 6 1 6 1 2 1 4 1-8 1-6 1-3 1-2 1 2 1 12 1 10 1-3 1-3 1-3 1-5 1-6 1-1 1 2 1 6 1 8 1 1 1 0 0-5 1-3 1-4 1-3 1 4 1 1 1 0 1-11M369 76l1-18 1-9 1-7 1-8 1-4 1 1 1 10 1 7 1 1 1-5 1-7 1-5 1-4 1 5 1 12 1 7 1-5 1-4 1-9 1-1 2-2 1 9 1 5 1 3 1-3 1 11 1 20" stroke="#17becf"/><path d="M51 71l1-1 1-4 1-1 1-9 1-4 1 0 1 4 1 9 1 8 1 6 1-5 1 1 1-9 1-12 1-5 1 0 1 8 1 10 1 8 1 4 1 0 1-6 1-5 1-18 1 1 1-20 1 24 1 11 1 3 1 8 1-5 1-2M99 54l1-6 1 1 1-2 1-1 1-7 1-2 1-3 1 4 1 8 1 3 1 4 1 2 1-8 1-6 1-27 1 18 1 10 1 5 1 16 1-5 1-6 1-3 1-4 1-5 1 2 1 2 1 6 1 5M190 53l1-2 1 0 1 11 1 9 1 4 1-11 1-21 1-11 1 4 1 16 1 12 1 8 1 2 1-11 1-22 1-8 1 3 1 14 1 20 1 2 1-2 1-6 1-18 1-6 1 8 1 11 1 2 1-7M279 69l1-15 1-8 1-1 1 8 1-4 1-9 1-7 1-4 1-12 1 2 1 12 1 8 1 9 1 0 1 0 1-10 1-9 1-9 1-4 1 4 1 10 1 9 0 4 1 1 1-2 1-12 1-6 1 4 1 18 1 22M324 71l1-15 1-14 1-11 1-14 1-11 1 8 1 11 1 13 1 7 1 4 1-9 1-15 1-17 1-8 1 11 1 14 1 13 1 2 1 7 1-16 1-12 1-9 1-3 1 10 1 10 1 9 1 7 1 6 1 23M412 59l1-23 1-22 1-4 1-7 1 12 1 9 1 11 1 0 1-5 1-20 1-2 1-5 1 6 1 6 1 8 1 6 1 2 1-9 1-3 1-9 1 0 1 2 1 6 1 4 1 9 1 6 1 21" stroke="#d62728"/><path d="M0 11l1 11 1 2 1 0 1 12 1 10 1 1 1-2 1-14 1-3 1 2 1 20 1 1 1-9 1-13 1-5 1 7 1 12 1 13 1-8 1-22 1-8 1 8 1 11 1 8 1-4 1-10 1-7 1 6 1 8 1 6 1-5 1-10 1-12 1 0 1-5M145 17l1 4 1 7 1 6 1-7 1-9 1-7 1 3 1 6 1 5 1 12 1 1 1-4 1-9 1-6 1-6 1 5 1 4 1 11 1 6 1 4 1-15 1-7 1-6 1 0 1 6 1 2 1-7M236 13l1 23 1 20 1 11 1 8 1-1 1-11 1-17 1 2 1 24 1 14 1-7 1-16 1-10 2 0 1 22 1 6 1-4 1-11 1-6 1 1 1 12 1 3 1-1 1-9 1-12 1-16 1-28" stroke="#bcbd22"/><path d="M99 45l1-9 1-14 1 0 1 2 1 11 1 2 1 0 1-3 1-8 1-5 1-2 1-7 1 13 1 7 1 6 1 1 1-7 1-6 1-3 1 0 1 4 1 3 1 7 1 2 1 3 1-8 1 5 1 5M145 41l1-9 1 1 1 10 1-1 1-16 1-16 1 5 1 13 1 7 1-1 1-9 1-8 1 2 1 9 1 6 1-4 1-8 1-11 1 2 1 21 1 4 1-5 1-11 1-9 1 5 1 14 1 8M190 39l1 2 1 7 1 1 1-5 1-12 1-9 1-3 1 2 1 7 1 10 1 10 1 7 1-8 1-12 1-6 1-9 1 0 1 3 1 8 1 7 1 1 1 1 1-5 1-6 1-10 1-1 1 10 1 8M236 43l1 15 1 12 1 8 1 4 1-4 1-2 1-7 1-15 1 8 1 7 1 7 1 8 1-1 2 2 1-4 1-13 1-5 1 3 1 6 1 4 1 8 1-2 1 0 1-5 1-2 1-14 1-18" stroke="#7f7f7f"/><path d="M0 46l1 16 1 3 1 10 1-6 1-5 1-3 1 1 1 18 1-1 1 3 1-1 1-12 1 0 1-2 1-2 1 7 1 5 1 2 1 2 1-2 1-9 1-7 1 2 1-2 1 7 1 2 1 2 1-3 1-1 1-1 1-5 1-1 1-5 1-5 1-6M51 62l1 1 1 2 1 4 1 5 1 3 1-2 1-6 1-7 1-2 1 1 1 11 1 7 1 3 1-5 1-7 1-5 1-3 1 4 1 5 1 9 1 0 1-1 1-10 1-8 1-18 1 9 1 21 1 12 1-4 1-7 1-5 1-7M324 74l1-14 1 3 1 10 1-9 1-28 1-4 1 12 1 18 1 6 1-10 1-20 1-8 1 14 1 21 1 12 1-11 1-18 1-14 1 11 1 10 1 7 1-5 1-9 1-9 1 4 1 14 1 7 1 2 1 4M369 52l1 5 1 0 1 6 1 8 1 8 1 7 1-8 1-8 1-8 1-3 1 2 1 6 1 6 1 11 1 1 1-11 1-13 1-12 1 4 1 8 2 12 1 3 1-1 1 2 1-6 1-13 1-7M412 63l1-2 1-1 1 7 1 14 1-7 1-10 1-8 1-19 1 31 1 1 1 5 1-10 1-13 1-1 1 17 1 3 1-1 1-6 1-5 1-3 1 8 1 9 1 1 1-8 1-5 1-2 1 9" stroke="#ff7f0e"/><path d="M0 69l1-22 1-16 1-10 1 3 1 3 1-3 1-12 1 2 1 2 1 3 1 13 1-1 1-4 1-8 1-3 1 0 1 3 1 7 1 7 1-7 1-6 1 0 1-6 1 5 1 6 1 4 1 2 1-10 1-12 1-1 1 10 1 2 1 16 1 11 1 23M51 75l1-18 1-20 1-12 1-4 1 0 1 9 1 7 1-3 1-3 1-7 1-9 1 4 1 12 1 9 1 3 1-7 1-10 1-3 1 3 1 5 1 5 1 5 1-2 1-6 1-11 1-13 1 23 1 6 1 8 1 0 1 12 1 18M145 60l1 3 1-4 1-2 1-6 1-2 1 4 1 9 1 10 1-3 1-4 1-10 1-4 1 1 1 4 1 8 1 5 1 4 1-4 1-11 1-11 1 10 1-2 1 9 1 7 1 0 1-6 1-4M190 75l1-9 1 2 1-6 1-13 1-5 1-7 1 12 1 13 1 1 1-3 1-14 1-14 1 4 1 16 1 6 1 5 1-6 1-11 1-18 1 15 1 9 1 6 1 5 1-7 1-10 1 0 1 14 1 16M324 59l1-2 1-7 1-7 1-4 1 14 1 8 1-1 1-1 1-7 1-2 1-11 1-1 1 7 1 6 1 14 1 3 1 2 1-14 1-9 1-11 1 2 1 7 1 8 1 3 1 6 1-5 1-4 1 4 1 2M412 58l1-17 1-14 1-5 1-4 1-12 1 8 1-1 1 9 1 0 1 3 1 2 1 0 1-6 1-5 1-7 1 1 1 5 1 8 1 1 1 4 1-2 1-3 1-6 1-6 1 7 1 20 1 22" stroke="#17becf"/><path d="M51 45l1-5 1-3 1-6 1 1 1 0 1 6 1 4 1-5 1-2 1-6 1 0 1 0 1 10 1 2 1 4 1-5 1-8 1-8 1 3 1 8 1 7 1 1 1 1 1-10 1-12 1-4 1 17 1 4 1 5 1-3 1-1 1 4M279 39l1 2 1 5 1 1 1-3 1-14 1 8 1 2 1 11 1 13 1-5 1-22 1-14 1 11 1 14 1 6 1 3 1-8 1-6 1-3 1 4 1 8 1 5 0-4 1-5 1-8 1 3 1 5 1 4 1-4 1-7M324 45l1-11 1-10 1-12 1-12 1 8 1 4 1 14 1 6 1-2 1-9 1-8 1-2 1-1 1 4 1 13 1 5 1 0 1-9 1-17 1-6 1 0 1 15 1 8 1 1 1 1 1-7 1-4 1 10 1 19M369 38l1 8 1 11 1 8 1-4 1-8 1-7 1 1 1 12 1 6 1 0 1-14 1-6 1 2 1 12 1 33 1-28 1-17 1-21 1 16 1 13 2 9 1-1 1-11 1-14 1 8 1-2 1-6" stroke="#7f7f7f"/><path d="M99 36l1 17 1 13 1 7 1 5 1-2 1 1 1-5 1 1 1-10 1-1 1-2 1 8 1 6 1 13 1 3 1-13 1-9 1-8 1-17 1 12 1 6 1 8 1 6 1 3 1-3 1-10 1-14 1-14M145 44l1-8 1-4 1 11 1 6 1 3 1-14 1-23 1-7 1 8 1 18 1 8 1 3 1-3 1-13 1-12 1 1 1 2 1 17 1 7 1 9 1-13 1-8 1-5 1-2 1 9 1 6 1 6M412 37l1 19 1 8 1-8 1-14 1-11 1 23 1 5 1 12 1 11 1-3 1-8 1-8 1-9 1-7 1 0 1 5 1 12 1 7 1 4 1 2 1-9 1-6 1-4 1-4 1-3 1-4 1-11" stroke="#e377c2"/><path d="M279 16l1 26 1 20 1 5 1-22 1 5 1 15 1 3 1 7 1 1 1-2 1-26 1 7 1 7 1 5 1 4 1 5 1-3 1-9 1-4 1-2 1 9 1 9 0 1 1-1 1-10 1-2 1-1 1-3 1-16 1-27M324 24l1 0 1 4 1 6 1 32 1-15 1-19 1-7 1-3 1 7 1 14 1 5 1-5 1-22 1-8 1 10 1 13 1 6 1-1 1-15 1-19 1 10 1 17 1 11 1-2 1-7 1-17 1 2 1 4 1 0M369 15l1 32 1 28 1 8 1 0 1-7 1-5 1-11 1-2 1 8 1 6 1 8 1 10 1 4 1-3 1-17 1-13 1-8 1 0 1 10 1 8 2 5 1 0 1-1 1-4 1-6 1-24 1-25" stroke="#2ca02c"/><path d="M99 26l1 8 1 11 1 5 1-2 1 0 1-3 1-11 1-5 1 1 1 9 1 7 1 18 1 11 1-19 1-8 1-9 1-6 1-3 1 4 1 10 1 11 1 4 1-1 1-5 1-7 1-7 1-7 1-10M190 16l1 24 1 9 1-6 1 0 1 14 1 10 1 5 1-9 1-12 1-11 1 2 1 13 1 13 1 0 1-8 1-13 1-5 1 1 1 9 1 21 1-1 1-9 1-15 1-11 1 3 1 11 1-10 1-27M412 13l1 16 1 17 1 10 1 4 1-4 1-11 1-5 1 1 1 17 1 5 1 0 1-12 1-10 1-5 1 12 1 12 1 4 1-5 1-12 1-6 1 1 1 6 1 14 1 0 1-10 1-22 1-14" stroke="#bcbd22"/><path d="M0 28l1 8 1 1 1-3 1-1 1 2 1 6 1 19 1-7 1-6 1-8 1-12 1-1 1 7 1 6 1 2 1 4 1 3 1-6 1-8 1-8 1-2 1 6 1 14 1 5 1 1 1-1 1-7 1-8 1-2 1-2 1 6 1 5 1-1 1-3 1-5M51 31l1 15 1 10 1 1 1 5 1 9 1 4 1 2 1-2 1-5 1-11 1-7 1 2 1 6 1 16 1 11 1 1 1-9 1-14 1-16 1-2 1 6 1 11 1 18 1 13 1 1 1-14 1-18 1-4 1-6 1 1 1-4 1-21M145 29l1-1 1-11 1-7 1-2 1 9 1 13 1 6 1-3 1-6 1-6 1-1 1-7 1 1 1 9 1 12 1 11 1-5 1-16 1-12 1-11 1 9 1 6 1 6 1 3 1-3 1 1 1 6M190 29l1 16 1 14 1 9 1 6 1-1 1-4 1-14 1 5 1 6 1 7 1 1 1 4 1-13 1-9 1 1 1 16 1 4 1 3 1-7 1-5 1-4 1 6 1 7 1 9 1-6 1-12 1-18 1-22" stroke="#9467bd"/><path d="M99 60l1 2 1 0 1-11 1-4 1 1 1 14 1 6 1 2 1-3 1-6 1-11 1-10 1 8 1 11 1 30 1-6 1-7 1-11 1-17 1 3 1 3 1 9 1 8 1 3 1 3 1-14 1-6 1 2M236 23l1 15 1 6 1-4 1 5 1 7 1 8 1-4 1-22 1-16 1 16 1 22 1 4 1-5 2-13 1-20 1 20 1 14 1 11 1-8 1-17 1-9 1 8 1 14 1 4 1-10 1-14 1-13M369 58l1-3 1-6 1 1 1 6 1 5 1 6 1 0 1-3 1-8 1-5 1-5 1 2 1 9 1 10 1 2 1-5 1-1 1-11 1-10 1 0 2 4 1 10 1 7 1 2 1 1 1-6 1-2" stroke="#1f77b4"/><path d="M0 70l1-8 1-6 1-5 1 5 1 4 1 12 1-6 1-10 1-7 1-7 1-1 1 14 1 6 1 1 1-4 1-10 1 0 1-5 1 4 1 11 1 4 1-3 1-3 1-10 1-4 1 2 1 8 1 3 1 2 1 0 1-4 1-11 1 8 1 10 1 12M236 57l1-6 1 1 1-1 1-14 1-4 1-3 1 12 1 12 1-7 1-9 1-11 1-2 1 10 2 16 1 4 1-15 1-10 1-2 1 3 1 9 1 6 1-6 1-8 1-3 1 2 1 11 1 15" stroke="#d62728"/><path d="M236 69l1-24 1-20 1 1 1 4 1 9 1-1 1-1 1-13 1 3 1-4 1 2 1 4 1 6 2 5 1-2 1-6 1-4 1 2 1-3 1 1 1 5 1 4 1 0 1-5 1 0 1 15 1 20M279 73l1-10 1-4 1-1 1-5 1-5 1 6 1 0 1 3 1 10 1 18 1-12 1-14 1-6 1-5 1-1 1 8 1 4 1 4 1 2 1-2 1-4 1-7 0-3 1 4 1 7 1 3 1 0 1-1 1 4 1 5" stroke="#ff7f0e"/><path d="M51 60l1-7 1-4 1-14 1-3 1 1 1 11 1 8 1 2 1-1 1-2 1-12 1-6 1 0 1 7 1 12 1 11 1 1 1-7 1-13 1-3 1 0 1 6 1 0 1 16 1 9 1-12 1-12 1-9 1-1 1 5 1 12 1 4" stroke="#1f77b4"/><path d="M0 39l1 8 1 6 1 8 1 10 1 5 1 9 1-7 1-11 1-7 1-14 1 0 1 10 1 7 1 7 1 4 1 2 1-6 1-8 1-13 1-3 1 6 1 3 1 9 1 4 1 3 1-3 1-3 1-5 1-8 1-1 1 5 1 4 1-1 1-6 1-13M99 39l1 1 1-3 1 3 1 14 1 7 1-5 1-8 1-16 1-6 1 19 1 26 1 5 1-11 1-28 1-21 1 21 1 20 1 15 1-4 1-20 1-15 1-1 1 18 1 9 1 0 1-7 1-11 1-2M412 46l1 14 1 17 1 8 1 1 1-11 1-10 1-8 1 7 1 15 1 9 1 1 1-12 1-8 1-3 1 4 1 8 1 7 1-2 1-6 1-10 1-8 1 6 1 6 1 15 1 1 1-22 1-20" stroke="#7f7f7f"/><path d="M51 14l1 12 1 3 1-1 1-6 1-4 1 3 1 3 1 12 1 1 1 0 1-5 1-8 1-6 1-2 1 4 1 7 1 12 1 2 1-6 1-11 1-9 1-1 1-6 1 11 1 13 1 11 1-8 1-9 1-5 1-4 1-4 1 0M279 9l1 14 1 9 1 15 1 9 1-19 1-11 1-5 1 1 1 6 1 15 1 1 1-4 1-6 1-7 1-8 1 3 1 12 1 7 1 5 1-7 1-9 1-10 0-2 1 6 1 10 1 1 1 1 1-6 1-11 1-6M324 11l1 16 1 11 1 6 1 9 1 4 1-8 1-6 1-11 1 4 1 12 1 10 1 3 1-10 1-9 1-8 1 7 1 15 1 9 1-6 1-15 1-6 1 0 1 12 1 5 1 2 1-10 1-3 1-18 1-14M369 10l1 15 1 19 1 10 1 5 1-5 1-6 1-5 1-4 1 3 1 10 1 2 1-2 1 1 1-15 1-9 1 16 1 10 1 4 1-4 1-2 2-9 1-3 1 4 1 6 1 3 1-18 1-22" stroke="#bcbd22"/><path d="M236 58l1-13 1-4 1 10 1 7 1 0 1-13 1-22 1-17 1 34 1 23 1 6 1-16 1-21 2-15 1 12 1 22 1 11 1-10 1-14 1-8 1 3 1 11 1 3 1-1 1-3 1-1 1 18" stroke="#17becf"/><path d="M0 39l1-3 1-2 1 2 1 8 1 5 1 7 1-3 1-11 1-9 1-4 1 2 1 16 1 14 1 5 1-9 1-16 1-7 1-3 1 5 1 11 1 14 1 3 1-8 1-13 1-7 1-1 1 5 1 7 1 6 1 4 1-6 1-9 1-7 1 2 1 3M190 44l1-2 1-5 1-7 1 0 1-1 1 1 1 13 1-1 1-5 1-9 1-3 1-8 1 2 1 12 1 10 1 0 1-5 1-4 1-13 1 4 1 4 1 5 1 6 1-1 1-8 1-1 1 6 1 10" stroke="#e377c2"/><path d="M145 50l1 8 1 3 1 0 1 5 1 4 1 10 1-2 1-5 1-1 1-6 1-7 1-2 1 3 1 11 1 9 1-2 1 5 1-7 1-10 1-2 1-3 1 6 1 1 1 7 1-1 1-11 1-12M279 51l1-3 1 1 1 9 1-8 1-23 1-2 1 11 1 17 1 20 1-17 1-25 1-14 1 15 1 18 1 3 1-7 1-11 1-11 1 7 1 16 1 7 1-3 0-9 1-8 1 6 1 9 1 6 1-2 1-6 1 8M369 70l1-26 1-16 1 4 1 2 1-3 1-6 1-3 1-2 1 8 1 6 1 2 1-5 1-7 1-9 1 2 1 12 1 25 1-11 1-14 1-6 2-4 1 5 1 4 1 7 1 3 1 11 1 20M412 65l1-3 1 5 1-8 1-13 1-24 1 6 1 14 1 18 1 2 1-7 1-9 1-21 1 3 1 9 1 19 1 11 1-5 1-15 1-6 1 0 1 4 1 10 1 6 1-3 1-8 1 6 1 12" stroke="#d62728"/><path d="M0 14l1 7 1 3 1 12 1 4 1 6 1 6 1-2 1-14 1-8 1 0 1 8 1 8 1 5 1 1 1-7 1-11 1-8 1-1 1 15 1 11 1 3 1-4 1-7 1-9 1-6 1 5 1 14 1 12 1 3 1-8 1-11 1-7 1-3 1-3 1-12M51 17l1 19 1 10 1 1 1 5 1 12 1 11 1-3 1-11 1-22 1-4 1 9 1 20 1 11 1-4 1-10 1-12 1-3 1 5 1 17 1 8 1-2 1-12 1-26 1-24 1 25 1 28 1 2 1-1 1-8 1-16 1-9 1-14M145 25l1 20 1 22 1 1 1-2 1-10 1-13 1 6 1 0 1 11 1 7 1 4 1 1 1-3 1-6 1-11 1-1 1-2 1 9 1 11 1 20 1-1 1-13 1-8 1-8 1-8 1-9 1-17M190 17l1 19 1 6 1-3 1-1 1 11 1 12 1 25 1-22 1-18 1-11 1-2 1 7 1 19 1 3 1-4 1-10 1-15 1-2 1 2 1 20 1 5 1-2 1-7 1-13 1-4 1 7 1-4 1-16M236 19l1 18 1 25 1 12 1 9 1-4 1-5 1-14 1-20 1 14 1 5 1 10 1 8 1 3 2 1 1-13 1-10 1-2 1-3 1 10 1 9 1 5 1 0 1-5 1-7 1-9 1-19 1-19M412 25l1 1 1-1 1-2 1-4 1-19 1 13 1-3 1 8 1 10 1 5 1-1 1-8 1-3 1-3 1-1 1 0 1 5 1 3 1 5 1 1 1-2 1-8 1-2 1-3 1 2 1 3 1 3" stroke="#2ca02c"/><path d="M99 49l1-19 1-4 1 3 1 0 1-4 1-10 1-2 1-5 1 5 1 5 1 4 1 14 1 2 1-9 1-2 1-14 1-6 1-2 1 1 1 13 1 8 1 4 1-1 1-2 1-4 1-1 1 10 1 15M145 52l1-8 1-7 1 7 1 6 1 8 1 1 1-7 1-14 1-13 1 4 1 12 1 17 1 13 1-5 1-14 1-14 1-12 1 3 1 15 1 27 1 11 1-17 1-8 1-11 1-5 1 7 1 3M190 49l1-8 1-9 1-10 1 4 1 9 1 25 1 5 1-14 1-17 1-18 1-5 1 5 1 31 1 13 1 2 1-16 1-14 1-21 1 3 1 15 1 18 1 2 1-1 1-8 1-8 1 1 1 6 1 10M324 69l1 2 1 3 1-7 1-6 1 11 1 7 1 4 1 0 1-3 1-4 1-6 1-11 1 3 1 9 1 7 1 0 1 10 1-5 1-13 1-12 1 0 1 9 1 9 1 5 1 0 1 1 1-8 1-3 1-3" stroke="#ff7f0e"/><path d="M99 29l1 4 1 7 1 4 1 9 1 4 1 2 1-2 1-2 1-7 1-9 1-1 1-5 1 11 1 9 1 7 1 3 1-7 1-2 1-10 1-4 1 5 1 1 1 4 1 6 1 6 1-5 1-13 1-13M236 33l1-5 1-3 1-2 1-4 1-3 1-6 1-7 1-3 1 16 1 4 1 8 1-1 1-2 2-9 1-13 1 4 1 3 1 5 1 8 1 2 1 0 1-2 1-3 1-4 1 0 1 6 1 14M279 22l1 18 1 13 1 16 1 15 1-3 1-8 1-3 1-5 1 0 1 15 1 3 1 2 1-15 1-12 1 4 1 14 1 6 1 2 1-9 1-13 1 3 1 10 0 15 1-1 1-7 1-12 1 2 1-5 1-16 1-33M324 20l1 8 1 9 1-1 1-12 1-21 1 15 1 14 1 8 1 3 1-12 1-14 1-4 1 12 1 14 1 13 1-14 1-15 1-7 1 4 1 19 1 5 1-5 1-11 1-11 1 2 1 11 1 5 1-3 1-11M369 30l1-2 1-5 1-9 1-6 1 1 1 7 1 13 1 5 1-1 1-6 1-10 1-9 1-2 1 3 1 13 1 8 1 3 1-8 1-8 1-14 2-3 1 6 1 9 1 9 1-1 1 1 1 6" stroke="#9467bd"/><path d="M0 20l1 10 1 5 1-5 1-6 1-1 1 6 1 23 1 8 1-5 1-11 1-23 1-6 1 5 1 16 1 17 1 4 1-3 1-20 1-9 1-9 1 15 1 20 1 12 1-1 1-12 1-18 1-9 1 5 1 8 1 11 1 2 1 0 1-14 1-11 1-8M99 12l1 20 1 8 1 0 1-4 1 0 1 1 1 5 1 6 1 9 1 0 1-2 1-5 1-17 1-3 1-3 1 6 1 10 1 8 1 7 1 0 1-4 1-8 1-12 1 1 1 0 1 0 1-7 1-16M145 13l1 34 1 24 1 2 1-5 1-19 1 9 1 14 1 9 1 4 1-10 1-20 1-6 1 12 1 23 1 11 1-6 1-18 1-6 1-2 1 6 1 23 1-4 1-8 1-15 1-7 1-15 1-30M190 11l1 28 1 24 1 7 1 2 1-6 1-15 1-31 1 30 1 17 1 12 1 5 1-10 1-20 1-6 1 2 1 9 1 13 1 8 1-2 1-24 1-15 1 4 1 14 1 15 1 2 1-10 1-25 1-25M236 26l1 23 1 10 1-11 1-9 1 8 1 12 1 10 1 2 1-22 1-8 1 0 1 14 1 11 2 3 1-14 1-20 1-3 1 17 1 12 1 6 1-9 1-11 1-10 1 9 1 10 1-9 1-22" stroke="#bcbd22"/><path d="M0 59l1-19 1-7 1-1 1-1 1-4 1-18 1-7 1 3 1 15 1 24 1 1 1-15 1-11 1-8 1 1 1 10 1 3 1 6 1-8 1-6 1-8 1 0 1 11 1 5 1 7 1-3 1-12 1-5 1 2 1 6 1 3 1 4 1 8 1 8 1 17M145 17l1 31 1 20 1 3 1-3 1-7 1 3 1 5 1 0 1 8 1 1 1 5 1-9 1-5 1-6 1 1 1 2 1 9 1 4 1-1 1-1 1 4 1-8 1-1 1 1 1-4 1-19 1-30M190 59l1-13 1-10 1 4 1 4 1-1 1 0 1-6 1-4 1 0 1 6 1 9 1 6 1-5 1-15 1-4 1 1 1 9 1 9 1 20 1-28 1-4 1 1 1 2 1 4 1-1 1 3 1 7 1 7M279 60l1-4 1-2 1 1 1 13 1 6 1-5 1-6 1-7 1-11 1-13 1 18 1 14 1 9 1 1 1-3 1-11 1-4 1 0 1 2 1 5 1 13 1 1 0-7 1-6 1-10 1 2 1 2 1 7 1 0 1-4M324 21l1 25 1 25 1 7 1 1 1-18 1-8 1 1 1 1 1 4 1 12 1 12 1 3 1-9 1-12 1-7 1-4 1-1 1 0 1 9 1 6 1 5 1-2 1-7 1-11 1-5 1 0 1 0 1-9 1-18M412 59l1 2 1 11 1 7 1 3 1-2 1-6 1-18 1 3 1 6 1 11 1 10 1-1 1-6 1-12 1-11 1-2 1 14 1 13 1 7 1-2 1-12 1-7 1-4 1 4 1 6 1-3 1-8" stroke="#1f77b4"/><path d="M0 73l1-11 1-8 1-4 1 3 1 1 1 3 1-4 1-6 1-3 1 1 1 1 1 9 1 4 1-1 1 0 1-8 1-3 1-2 1-2 1 2 1 7 1 8 1 2 1-5 1-6 1-6 1-4 1 1 1 1 1 7 1 3 1 1 1 3 1 6 1 9M51 46l1-10 1-12 1-5 1 7 1 8 1-3 1-9 1-15 1 2 1 17 1 12 1 3 1-18 1-17 1 2 1 14 1 15 1 2 1-15 1-12 1 1 1 4 1 27 1 12 1-28 1-23 1 6 1 6 1 9 1 5 1 4 1 13M236 46l1 2 1 3 1-8 1-14 1-6 1 10 1 13 1 14 1-9 1-14 1-6 1 4 1 11 2 23 1 13 1-40 1-11 1-1 1 10 1 14 1 8 1-8 1-20 1-6 1 8 1 7 1 2M279 66l1 4 1 3 1-9 1-1 1 4 1 3 1 6 1 0 1-3 1-5 1-6 1 1 1 8 1 6 1 2 1-5 1-3 1-6 1 0 1 6 1 4 1 0 0 0 1-1 1-7 1-1 1 8 1 3 1-6 1-2M369 65l1-12 1 1 1-5 1-11 1-8 1 2 1 11 1 8 1 4 1-8 1-14 1-7 1 4 1 19 1 25 1-13 1-13 1-16 1-1 1 7 2 10 1 7 1-2 1-9 1-6 1 10 1 16M412 47l1 1 1-4 1 7 1 11 1 13 1-14 1-5 1-8 1-13 1 2 1 3 1 7 1 12 1 5 1-4 1-3 1-8 1-10 1 1 1 6 1 8 1 2 1 5 1 0 1-8 1-6 1-3" stroke="#ff7f0e"/><path d="M0 52l1-5 1-9 1-11 1-9 1 7 1 16 1 33 1-32 1-22 1-15 1 13 1 21 1 13 1-7 1-24 1-17 1 7 1 19 1 13 1-1 1-16 1-9 1-3 1 13 1 11 1-1 1-10 1-10 1-1 1 12 1 11 1 0 1-2 1 1 1 11M51 54l1-7 1 1 1 2 1 1 1-3 1-9 1-6 1 4 1 0 1 9 1 7 1 6 1-10 1-9 1-6 1-2 1 1 1 10 1 6 1 3 1-8 1-3 1-11 1-11 1 11 1 15 1 3 1 0 1-5 1-1 1 2 1 10M99 70l1-14 1-20 1-14 1-4 1 9 1 19 1 9 1-8 1-21 1-13 1 1 1 20 1 16 1-4 1-8 1-19 1-4 1 8 1 28 1 9 1-10 1-19 1-16 1 2 1 15 1 12 1 11 1 16M190 68l1-21 1-15 1-4 1 8 1 7 1 6 1-6 1-9 1-14 1 2 1 8 1 11 1 5 1-2 1-3 1-10 1-11 1-3 1 19 1 10 1 6 1-6 1-8 1-6 1-4 1 9 1 18 1 12M324 55l1-11 1-8 1 2 1 12 1 4 1-6 1-8 1-11 1-1 1 7 1 15 1 3 1-6 1-10 1-10 1 3 1 8 1 13 1-5 1-1 1-8 1-4 1-1 1 6 1 5 1 4 1-3 1 0 1 11" stroke="#d62728"/><path d="M236 38l1 17 1 3 1 7 1 3 1 1 1 2 1-1 1 0 1-9 1-5 1-2 1 4 1 7 2 9 1 18 1-17 1-3 1-8 1-3 1-2 1-4 1 5 1 5 1 2 1-2 1-10 1-15" stroke="#7f7f7f"/><path d="M99 17l1 12 1 3 1-2 1-4 1 0 1 6 1 8 1 7 1 0 1 2 1-7 1-17 1-6 1-4 1-11 1 32 1 8 1 5 1 9 1-11 1-3 1-11 1-2 1 2 1 7 1 4 1-11 1-20M369 16l1 7 1 16 1 5 1 5 1-1 1-5 1-8 1 0 1 1 1 5 1 9 1 6 1-1 1-10 1-9 1 3 1-2 1 6 1 9 1 8 2-3 1-6 1-7 1-1 1-1 1-10 1-22" stroke="#2ca02c"/><path d="M51 38l1-7 1-11 1-6 1 7 1 7 1 8 1 0 1-5 1-12 1-8 1 2 1 5 1 11 1 7 1 7 1-10 1-13 1-10 1-2 1 7 1 12 1 0 1 7 1-5 1-6 1-17 1 5 1 1 1 10 1 8 1 1 1 6M145 34l1-7 1-3 1-7 1-8 1-2 1 9 1 12 1 9 1-9 1-11 1-2 1-4 1 8 1 17 1 5 1-12 1-14 1-6 1 1 1 18 1 16 1-10 1-8 1-9 1-1 1 6 1 11M236 46l1-8 1-10 1 3 1 8 1-2 1-11 1-12 1-5 1 29 1 9 1-7 1-16 1-9 2 3 1 21 1 7 1-5 1-22 1-8 1 6 1 11 1 9 1-8 1-7 1-8 1 18 1 16M279 40l1 13 1 10 1 9 1 4 1-11 1-6 1-8 1 0 1-2 1 10 1 4 1 9 1-1 1-4 1-7 1-7 1-1 1-4 1 5 1 9 1 3 1 1 0 4 1-1 1-10 1-4 1-3 1-3 1-3 1-8M324 40l1 0 1 4 1 12 1 8 1-13 1-11 1-12 1-1 1 16 1 7 1 7 1-5 1-9 1-11 1-2 1 8 1 13 1 17 1-9 1-10 1-16 1-2 1 6 1 13 1 4 1-1 1-6 1-6 1-5M369 43l1 7 1-3 1 6 1 11 1 7 1 3 1-6 1-6 1-8 1-5 1 6 1 10 1 3 1 15 1-13 1-9 1-10 1-5 1 10 1 6 2 10 1 4 1-5 1-9 1-12 1-2 1-2" stroke="#e377c2"/><path d="M99 58l1-20 1-6 1 4 1-2 1-5 1-8 1-4 1-1 1 7 1 9 1-1 1 4 1-10 1-8 1-12 1 19 1 6 1 11 1 2 1-15 1-9 1 1 1 4 1 4 1 7 1 2 1 9 1 11M145 75l1-14 1-13 1-8 1 1 1 6 1 17 1 2 1-5 1-15 1-7 1 3 1 7 1 9 1 4 1-4 1-12 1-10 1 1 1 15 1 24 1-8 1-9 1-11 1-6 1 9 1 14 1 12M190 65l1-2 1-11 1-7 1 6 1 12 1 10 1 1 1-8 1-7 1-13 1 0 1 13 1 19 1 12 1-3 1-18 1-20 1-9 1 2 1 26 1 11 1 1 1-4 1-11 1-5 1 0 1 7 1-3M279 63l1 4 1 9 1-1 1-5 1-13 1 4 1 0 1 6 1 15 1 12 1-5 1-7 1-13 1-5 1-7 1 4 1 7 1 2 1 10 1-4 1-3 1-6 0-1 1-5 1 2 1 4 1 3 1 0 1-1 1-5M324 76l1-5 1-1 1 3 1 4 1-2 1-8 1-7 1 3 1 2 1 8 1 3 1 2 1-3 1-7 1-3 1-6 1 3 1 11 1 5 1 8 1-6 1-7 1-6 1-4 1 2 1 5 1 11 1-4 1 0M369 53l1 16 1 3 1-4 1-6 1 8 1 10 1 9 1-3 1-11 1-17 1-4 1 9 1 19 1 17 1 0 1-16 1-26 1-3 1 15 1 7 2 15 1 0 1-8 1-14 1-3 1-3 1-7M412 54l1-6 1-11 1-2 1-4 1 7 1 11 1 11 1 11 1-17 1-14 1-6 1-4 1 5 1 6 1 10 1 10 1 0 1-9 1-11 1-11 1 0 1 3 1 11 1 5 1 5 1-2 1 3" stroke="#17becf"/><path d="M51 31l1 18 1 15 1 2 1-1 1 7 1 2 1 2 1 5 1-2 1-5 1-8 1-6 1-1 1 6 1 7 1 6 1 5 1-2 1-5 1-11 1-8 1-3 1 2 1 9 1 9 1 12 1-7 1-7 1-3 1-7 1-15 1-13M412 20l1 13 1 14 1 3 1 6 1-12 1-5 1-10 1-12 1 17 1 7 1 7 1 1 1 2 1-2 1-7 1-10 1-2 1 2 1 2 1 10 1 4 1 2 1-2 1-3 1-5 1-9 1-9" stroke="#9467bd"/><path d="M99 67l1-8 1-6 1 2 1 3 1 5 1-1 1-1 1-3 1-4 1-7 1 1 1-2 1 14 1 5 1 6 1-3 1-11 1-2 1-10 1-2 1 13 1 0 1 5 1 1 1 0 1-5 1 4 1 9M145 73l1-20 1-10 1 3 1 3 1 11 1-19 1-6 1-8 1 6 1 5 1 5 1 6 1 4 1-7 1 2 1-9 1-4 1 0 1 2 1 5 1 11 1 0 1-2 1-3 1-3 1 12 1 16M190 73l1-3 1-9 1-2 1 5 1 4 1 16 1 15 1-25 1-8 1-5 1-3 1 0 1 14 1 5 1 1 1-5 1-6 1-10 1-6 1 14 1 5 1 6 1-1 1-6 1-1 1-2 1 0 1 7" stroke="#ff7f0e"/><path d="M51 11l1 18 1 20 1 13 1-5 1-9 1-7 1-3 1 9 1 11 1 9 1 1 1-11 1-13 1-7 1-1 1 12 1 10 1 6 1-2 1-11 1-10 1-3 1 0 1 11 1 18 1-5 1-5 1-6 1-6 1-7 1-9 1-20M279 14l1 6 1 6 1 13 1 5 1-5 1-8 1-7 1-5 1-7 1-11 1 17 1 16 1 1 1-1 1 0 1-4 1-2 1-4 1 1 1-4 1 6 1 2 0 6 1-4 1 2 1-7 1-6 1 2 1-4 1-2M324 17l1 24 1 15 1 2 1-13 1-6 1 8 1 4 1 5 1 8 1 1 1 4 1-8 1-6 1-7 1-3 1-1 1 7 1 11 1 2 1 2 1-7 1-4 1-6 1-1 1-3 1 5 1 0 1-13 1-21M369 22l1 10 1 11 1 3 1-12 1-8 1-6 1-1 1 5 1 15 1 8 1 1 1-5 1-14 1-24 1-5 1 16 1 19 1 9 1-4 1 2 2-10 1-2 1-3 1 1 1 2 1 4 1-13M412 21l1 12 1 13 1 11 1 13 1 17 1-11 1-9 1-14 1-12 1-4 1 3 1 12 1 13 1 6 1 2 1-8 1-7 1-8 1-4 1 2 1 3 1 9 1 11 1-1 1-7 1-24 1-22" stroke="#bcbd22"/><path d="M51 29l1 19 1 13 1 11 1 3 1 7 1-2 1-2 1-9 1-5 1 9 1 5 1 7 1-4 1-11 1-5 1 2 1 12 1 8 1-3 1-11 1-12 1-2 1 8 1 21 1 1 1-10 1-15 1-2 1 4 1-2 1-11 1-25M190 26l1 8 1 7 1 1 1 8 1 3 1 13 1 11 1-27 1-6 1-7 1 1 1 0 1 6 1 8 1 1 1 0 1-4 1-10 1-34 1 17 1 11 1 10 1 8 1 0 1 3 1-7 1-13 1-8M236 30l1 18 1 9 1-2 1-2 1 3 1 6 1 3 1 4 1-13 1-6 1-1 1 7 1 9 2 11 1-11 1-11 1-8 1 1 1 5 1 13 1 4 1-7 1-12 1-10 1 4 1-3 1-12M279 26l1 4 1 7 1 5 1-2 1 0 1-8 1-5 1 0 1-1 1 8 1 9 1 21 1-16 1-11 1-3 1-7 1 0 1 3 1 8 1 3 1 6 1-4 0-2 1-6 1-2 1 2 1 3 1 0 1-3 1-6M324 31l1 2 1 7 1 4 1 22 1 1 1-10 1-6 1-7 1-7 1 0 1 6 1 10 1 5 1-1 1-3 1-7 1-6 1-14 1 16 1 14 1 5 1-3 1-2 1-6 1-7 1 0 1-1 1-3 1-9M412 15l1 36 1 26 1-4 1-18 1-7 1 14 1 12 1 17 1-8 1-2 1-6 1-13 1-11 1 7 1 10 1 11 1 6 1 0 1-10 1-12 1-8 1 2 1 5 1 11 1-3 1-24 1-35" stroke="#2ca02c"/><path d="M0 48l1 9 1 7 1 1 1-4 1 3 1 6 1 18 1-6 1-6 1-16 1-6 1 13 1 2 1 6 1 0 1-4 1-7 1-5 1 1 1 9 1 4 1 2 1-7 1-3 1-4 1 3 1 7 1 8 1 1 1-7 1-8 1-3 1-5 1-2 1-8M99 33l1 20 1 8 1 1 1 7 1 1 1 1 1-2 1-1 1-7 1-1 1 2 1 12 1 1 1 5 1-6 1-12 1-1 1 2 1 3 1 8 1 2 1-5 1-5 1-6 1 0 1-3 1-6 1-19M412 35l1-4 1 6 1-6 1-4 1-14 1 4 1 4 1 13 1 13 1 3 1-8 1-14 1-15 1-1 1 5 1 14 1 9 1 3 1-5 1-8 1-6 1-3 1 4 1 5 1 9 1 0 1-7" stroke="#e377c2"/><path d="M0 36l1 18 1 12 1 15 1-7 1-6 1-5 1-16 1 18 1 7 1 7 1 7 1-8 1-1 1-10 1-8 1 1 1 6 1 10 1 5 1 7 1-6 1-7 1-6 1-4 1 1 1 5 1 7 1 6 1 0 1-2 1-6 1-6 1-11 1-7 1-16M99 31l1 8 1 6 1 2 1-1 1-5 1-7 1-4 1-2 1 4 1 13 1 13 1 13 1 6 1-24 1-18 1-10 1-3 1 6 1 8 1 12 1 2 1-2 1-2 1-5 1-4 1-3 1-1 1 0M145 33l1 15 1 13 1-8 1-6 1-1 1 8 1 5 1 2 1-4 1-10 1 1 1 4 1 8 1 3 1-6 1-5 1-7 1 4 1 8 1 4 1-1 1-12 1-3 1 4 1 5 1-7 1-15M190 33l1 15 1 18 1 0 1-6 1-9 1-9 1-30 1 32 1 7 1 11 1 4 1 11 1-14 1-8 1-10 1-5 1 4 1 4 1 11 1 6 1 1 1 0 1-7 1-5 1-5 1-2 1-2 1-13M279 31l1 1 1 1 1 3 1 11 1 9 1-1 1-1 1-8 1-11 1-18 1-3 1 12 1 15 1 8 1 6 1 1 1-5 1-8 1-10 1-4 1-3 1 11 0 4 1 5 1 0 1 3 1-7 1-9 1-1 1 0M324 32l1 17 1 11 1-1 1-3 1-3 1 8 1 6 1 12 1 6 1-5 1-13 1-10 1-5 1-2 1 2 1 9 1 10 1 16 1-10 1-4 1-16 1-10 1-7 1 4 1 11 1 9 1 1 1-13 1-24M369 33l1-9 1 0 1-2 1 7 1-1 1-3 1-2 1-6 1 1 1-1 1 8 1 6 1 6 1 0 1 1 1-15 1-9 1 1 1 3 1 7 2 3 1 3 1-2 1-2 1 0 1 0 1 2" stroke="#9467bd"/><path d="M145 68l1-17 1-8 1 2 1 3 1-9 1-14 1 1 1 2 1 9 1 6 1 3 1-5 1-6 1-8 1-4 1 9 1 10 1 6 1-2 1-2 1-13 1-3 1 3 1 3 1 6 1 13 1 16M236 70l1-9 1-4 1 6 1 4 1 2 1-6 1-12 1-1 1 2 1 13 1 14 1 3 1-14 2-18 1-17 1 16 1 14 1 6 1 4 1-2 1-11 1-9 1-2 1 12 1 13 1-1 1-1M369 71l1-7 1-4 1-1 1 0 1 3 1 7 1 8 1 3 1-6 1-8 1-6 1-6 1 4 1 1 1 13 1 0 1-1 1-4 1-2 1-2 2-5 1 1 1 0 1 6 1 2 1 2 1-1" stroke="#d62728"/><path d="M0 56l1-13 1-5 1-5 1-2 1-8 1-14 1 7 1 19 1 5 1 1 1-17 1-3 1 2 1 1 1 9 1-2 1-5 1-11 1-15 1 21 1 13 1 0 1-4 1-8 1-2 1-1 1 9 1 4 1-1 1-7 1-4 1-2 1 14 1 12 1 11M51 60l1-19 1-10 1-1 1-1 1 3 1-1 1-2 1-4 1-6 1 1 1 4 1 5 1 5 1 2 1-2 1-1 1-6 1-6 1 3 1-2 1 7 1 4 1 7 1 1 1-3 1-5 1-7 1 2 1 3 1 5 1 11 1 14M236 65l1-16 1-13 1-7 1-5 1-3 1 7 1 13 1 5 1-12 1-10 1-3 1 4 1 10 2 11 1-5 1-15 1-9 1-1 1 10 1 7 1 2 1-6 1-3 1-2 1 4 1 17 1 19" stroke="#17becf"/><path d="M0 25l1 7 1 3 1 0 1-9 1-6 1-8 1 1 1 22 1 9 1 19 1-3 1-21 1-12 1-9 1 0 1 5 1 12 1 17 1 10 1-14 1-12 1-9 1-6 1-3 1 8 1 8 1 3 1 6 1-5 1-3 1-5 1-5 1 1 1 1 1-2M99 14l1 4 1 11 1 8 1-2 1-1 1-10 1-6 1-2 1 8 1 8 1 2 1 12 1-15 1-7 1-5 1-1 1 8 1 6 1 14 1-11 1-6 1-6 1-2 1-2 1 7 1 5 1-8 1-13M145 24l1 10 1 5 1-11 1-12 1-9 1 19 1 19 1 10 1-5 1-20 1-14 1-5 1 10 1 14 1 8 1-2 1-4 1-17 1-9 1 2 1 17 1 12 1-2 1-2 1-12 1-5 1 6M190 23l1 13 1 4 1-5 1 0 1 5 1 12 1 21 1-17 1-18 1-9 1-1 1 12 1 7 1 2 1-3 1-3 1-16 1-6 1 9 1 20 1 3 1-4 1-11 1-5 1 0 1 3 1-1 1-8M236 16l1 7 1 3 1-5 1-13 1-6 1 8 1 19 1 28 1-8 1-17 1-20 1-12 1 0 2 17 1 24 1 5 1-8 1-12 1-14 1-3 1 4 1 11 1 9 1 0 1-3 1-9 1-5M412 11l1 12 1 9 1 7 1 10 1-7 1-1 1-7 1-19 1 15 1 1 1 6 1 4 1 4 1 1 1-2 1-6 1-4 1 0 1 2 1 1 1 6 1 2 1 0 1-2 1-6 1-13 1-15" stroke="#bcbd22"/><path d="M190 33l1 10 1-6 1-3 1 9 1 8 1 3 1 6 1-16 1-8 1 0 1 13 1 14 1-3 1-11 1-9 1-2 1 6 1 12 1 3 1-5 1-10 1-8 1 5 1 9 1 7 1-2 1-13 1-11M236 34l1 20 1 27 1 9 1-13 1-7 1-7 1 9 1 21 1-2 1-8 1-16 1-7 1 5 2 19 1 15 1-6 1-26 1-18 1 2 1 23 1 9 1-3 1-7 1-11 1-3 1-2 1-26M279 43l1-7 1-5 1-7 1-24 1 13 1 9 1 5 1 6 1 13 1-2 1-13 1-5 1-6 1 2 1 2 1 2 1 8 1 8 1-3 1-7 1-7 1-7 0 2 1 5 1 0 1 12 1-2 1 2 1-1 1 6M324 45l1 14 1 8 1-5 1-6 1 3 1 7 1 6 1 6 1-2 1-7 1-4 1-3 1-5 1 4 1 9 1 5 1 2 1-1 1-13 1-19 1 7 1 10 1 7 1 5 1-1 1-3 1-7 1-9 1-7M369 32l1 9 1 6 1-1 1 7 1 3 1 8 1 4 1-2 1-7 1-9 1-4 1-7 1 5 1 4 1 14 1 1 1 1 1 0 1-3 1-13 2-6 1 1 1 6 1 4 1 8 1-11 1-18" stroke="#e377c2"/><path d="M0 11l1 22 1 3 1 14 1 9 1 8 1-10 1-16 1-3 1 10 1 9 1 5 1-5 1-9 1-13 1 10 1 15 1 3 1 3 1-19 1-12 1 10 1 11 1 8 1-2 1-7 1-5 1 3 1 4 1 6 1 1 1-7 1-7 1-6 1-12 1-17M51 26l1 19 1-3 1 1 1-2 1 1 1 4 1 12 1 7 1 5 1-1 1-11 1-10 1-8 1-4 1 4 1 7 1 8 1 2 1 3 1-4 1-5 1-11 1-4 1-5 1 1 1 17 1 7 1 1 1 0 1-10 1-11 1-12M99 26l1 11 1 13 1 10 1-4 1-8 1-16 1-4 1 6 1 11 1 10 1 3 1-5 1-10 1-21 1-18 1 32 1 17 1 12 1 11 1-18 1-18 1-8 1 5 1 10 1 9 1 2 1-12 1-19M145 16l1 24 1 33 1 6 1-12 1-17 1-7 1 20 1 12 1-1 1-11 1-21 1 1 1 19 1 20 1-4 1-21 1-11 1 0 1 15 1 13 1-3 1-16 1-4 1 5 1-2 1-16 1-25M369 29l1-5 1-11 1 2 1 2 1 14 1 8 1-4 1-12 1-13 1-4 1 16 1 8 1 7 1-2 1-10 1-16 1-9 1 19 1 18 1 6 2-7 1-10 1-6 1 1 1 0 1 7 1-1" stroke="#2ca02c"/><path d="M0 65l1 4 1-3 1-9 1-4 1-4 1 4 1 23 1 6 1-8 1-17 1-21 1-1 1 11 1 17 1 9 1-2 1-12 1-20 1-11 1 16 1 23 1 9 1-6 1-15 1-10 1-3 1 6 1 17 1 7 1-5 1-10 1-7 1 2 1 11 1 6M51 66l1 1 1 3 1 3 1-2 1-6 1-3 1-10 1 1 1 6 1 6 1 14 1 12 1-2 1-12 1-17 1-6 1-4 1 2 1 10 1 13 1 5 1 0 1 0 1-12 1-10 1-8 1 7 1 7 1 8 1 4 1-3 1-7M145 48l1 15 1 0 1-5 1-1 1 9 1 19 1-2 1-12 1-20 1-3 1 11 1 16 1 9 1-10 1-16 1-11 1 10 1 10 1 15 1 3 1-18 1-13 1 2 1 11 1 4 1-11 1-12M236 53l1 1 1 5 1 0 1-6 1 0 1-4 1 3 1 4 1 6 1-4 1 3 1-2 1-4 2-3 1-10 1 11 1-1 1 6 1 5 1 1 1-3 1-4 1-3 1-4 1 3 1 3 1-4M279 52l1-7 1-9 1-5 1 1 1 23 1 7 1 0 1-4 1-13 1-14 1-1 1 8 1 13 1 8 1 4 1-3 1-8 1-8 1-6 1 5 1 4 1 12 0 8 1 1 1-9 1-15 1-3 1-1 1 10 1 2M324 50l1 7 1 6 1-1 1-14 1 22 1 4 1 1 1-6 1-3 1-3 1 1 1 6 1 9 1 0 1-5 1-5 1-9 1-3 1 9 1 10 1-2 1-3 1-3 1-6 1-1 1 5 1 5 1-11 1-11M369 72l1-19 1-12 1-6 1 2 1 2 1 4 1 4 1 1 1 1 1-4 1-10 1-5 1-5 1 1 1 14 1 9 1 17 1 3 1-17 1-10 2-6 1-5 1 3 1 5 1 11 1 10 1 14M412 52l1-11 1-11 1-2 1-3 1 10 1 7 1 9 1 7 1-20 1-6 1-6 1-2 1 2 1 5 1 6 1 11 1-2 1-2 1-7 1-5 1-5 1 0 1 2 1 3 1 6 1 3 1 11" stroke="#ff7f0e"/><path d="M236 28l1 10 1 2 1 7 1 16 1 6 1-2 1-17 1-9 1 1 1 1 1 9 1 6 1 3 2-3 1-11 1-4 1 4 1 6 1 7 1 4 1-2 1-8 1-7 1-3 1 4 1-5 1-14" stroke="#9467bd"/><path d="M0 56l1-15 1-9 1-18 1 4 1 7 1 14 1-3 1-15 1-15 1-4 1 26 1 5 1 3 1-13 1-21 1 4 1 17 1 23 1-2 1-17 1-23 1-1 1 21 1 7 1 4 1-11 1-11 1-5 1 14 1 19 1 0 1-9 1-3 1 11 1 17M51 68l1-9 1-9 1-16 1-5 1 6 1 14 1 7 1-4 1-15 1-10 1 4 1 12 1 17 1-3 1-21 1-14 1 2 1 16 1 13 1 6 1-16 1-22 1-5 1 11 1 41 1-1 1-23 1-12 1-5 1 11 1 17 1 12M99 53l1-6 1 4 1 6 1 4 1 3 1-3 1-3 1-5 1-6 1-2 1 2 1 4 1 15 1 11 1 22 1-23 1-18 1-4 1-8 1-3 1 6 1 9 1 5 1 3 1 0 1-2 1-9 1-5M190 70l1-8 1-9 1 4 1 12 1 8 1-8 1-24 1-8 1 10 1 18 1 7 1 3 1-29 1-3 1 4 1 20 1 13 1-4 1-24 1-12 1 5 1 21 1 15 1-5 1-13 1-14 1 8 1 15M279 49l1-11 1-18 1-6 1 4 1 12 1 2 1-3 1-15 1-14 1 3 1 14 1 27 1-1 1-14 1-13 1-9 1 0 1 12 1 8 1 3 1-6 1-10 0-10 1 1 1 13 1 10 1 3 1-5 1 6 1 18M324 52l1 11 1 15 1 9 1-15 1-21 1 3 1 7 1 13 1 10 1-1 1-10 1-11 1-3 1 4 1 10 1 8 1 3 1-9 1-21 1-13 1 17 1 15 1 12 1 2 1-6 1-17 1-5 1-1 1-11M412 72l1-20 1-19 1-13 1-12 1 2 1 21 1 10 1 29 1-27 1-9 1-15 1-7 1 1 1 14 1 9 1 7 1 1 1-9 1-2 1-8 1-2 1 8 1 4 1 8 1 2 1 9 1 17" stroke="#d62728"/><path d="M51 54l1-4 1-1 1 4 1 2 1-5 1-9 1 0 1 6 1 8 1 7 1-8 1-14 1-13 1 14 1 17 1 8 1-9 1-10 1-5 1 1 1 10 1 15 1 5 1-31 1-18 1-3 1 27 1 11 1-6 1-9 1-1 1 12M99 73l1 7 1 0 1-4 1-7 1-10 1-5 1 6 1 11 1 8 1 8 1 6 1-1 1-15 1-10 1-11 1 4 1 5 1 6 1 9 1 4 1-1 1-7 1-4 1-9 1-1 1 2 1 10 1 1M145 66l1-7 1 3 1-4 1-9 1-11 1 3 1 1 1 9 1 4 1 3 1-5 1-6 1-11 1 0 1 3 1 9 1 6 1 0 1-3 1-13 1-1 1-2 1 6 1 3 1 7 1 5 1 8M190 59l1-2 1 2 1-9 1-6 1-5 1-3 1-1 1 12 1 9 1 1 1-4 1-11 1-11 1 0 1 3 1 11 1 10 1 9 1-9 1-14 1-10 1-2 1 7 1 7 1 7 1-1 1 3 1 7M279 76l1-25 1-22 1-12 1-6 1 2 1 11 1 7 1-2 1-11 1-18 1 0 1 15 1 14 1 5 1-7 1-7 1-3 1 1 1 4 1 9 1 3 1-11 0-9 1-3 1 7 1 8 1 2 1 4 1 18 1 25M324 65l1-14 1-1 1-5 1-13 1-7 1 5 1 9 1 7 1 7 1-5 1-11 1-11 1 1 1 14 1 3 1-1 1 0 1-9 1 0 1-3 1 9 1 12 1 0 1-10 1-6 1-4 1 7 1 14 1 10M369 69l1-19 1-16 1-4 1 3 1 5 1 6 1 0 1-4 1-9 1-4 1 1 1 9 1 5 1 14 1-4 1-18 1-19 1 7 1 6 1 12 2 6 1-1 1-7 1-5 1-2 1 18 1 17M412 74l1-11 1-11 1 1 1 8 1 8 1-3 1-4 1-10 1-7 1 1 1 5 1 6 1 9 1 1 1-7 1-9 1-15 1-2 1 8 1 10 1 10 1 2 1-7 1-8 1-3 1 11 1 19" stroke="#17becf"/><path d="M0 61l1 5 1 9 1 3 1-2 1-4 1-12 1 1 1 6 1 10 1 13 1-1 1-14 1-11 1-4 1 3 1 9 1 8 1-2 1 0 1-12 1-4 1 5 1 5 1 5 1 10 1-9 1-9 1-5 1-2 1 6 1 8 1 6 1-8 1-8 1-2M236 75l1-15 1-21 1-2 1 2 1 11 1 11 1 8 1 15 1-29 1-13 1-11 1-4 1 3 2 11 1 13 1 0 1 1 1-5 1-7 1-11 1-1 1 1 1 4 1 11 1 10 1 8 1 14" stroke="#17becf"/><path d="M0 28l1 3 1 2 1 8 1-3 1-3 1-15 1-15 1 11 1 6 1 9 1 11 1 0 1 0 1-12 1-5 1-4 1-1 1 2 1 8 1 5 1-3 1-1 1-5 1-7 1-1 1 2 1 4 1 4 1 3 1-1 1-4 1 0 1-6 1 4 1 5M99 29l1-13 1-3 1 5 1 3 1 2 1 0 1-5 1-3 1 0 1-2 1-1 1 4 1 9 1-2 1 5 1-5 1-6 1-3 1-6 1 4 1 4 1 8 1 6 1 1 1-6 1-1 1-4 1 6M145 14l1 21 1 15 1 2 1 9 1 10 1 4 1-18 1-5 1-5 1 2 1 3 1 8 1 5 1-2 1-9 1-6 1-2 1 4 1 4 1 24 1-6 1-13 1-7 1-2 1-5 1-9 1-22M190 26l1 3 1 6 1 0 1 1 1-8 1-13 1-15 1 8 1 10 1 13 1 12 1 10 1-5 1-13 1-10 1-5 1-2 1 3 1 9 1 15 1 7 1 1 1-10 1-11 1-8 1-4 1 6 1 3M236 15l1 18 1 16 1-10 1-4 1 1 1 8 1 9 1 1 1-11 1-15 1-3 1 16 1 16 2 9 1-16 1-18 1-1 1 11 1 13 1 1 1-8 1-10 1-7 1 12 1 5 1-14 1-20M279 10l1 31 1 28 1 4 1-12 1-4 1 3 1 5 1 16 1 18 1 0 1-33 1-20 1 12 1 9 1 10 1 4 1-6 1-15 1-10 1 2 1 15 1 18 0 1 1-10 1-13 1-9 1 0 1 8 1-17 1-33M324 17l1 21 1 15 1-10 1-15 1 17 1 13 1 6 1-3 1-11 1-9 1 1 1 8 1 14 1 10 1-10 1-14 1-17 1 0 1 20 1 6 1 9 1-6 1-14 1-8 1 2 1 15 1 4 1-19 1-25M412 18l1 30 1 28 1 10 1-3 1-5 1-12 1-11 1-16 1 18 1 10 1 9 1 13 1-1 1-8 1-10 1-9 1-4 1 2 1 2 1 11 1 7 1 4 1-1 1-9 1-8 1-25 1-22" stroke="#2ca02c"/><path d="M51 52l1-14 1-14 1-5 1 2 1 9 1 2 1 2 1-7 1-11 1-6 1 8 1 13 1 5 1 0 1-2 1-12 1-5 1 2 1 8 1 9 1 4 1-4 1-12 1-16 1 3 1 1 1 20 1 4 1 1 1-4 1 8 1 13M99 62l1-1 1 2 1 10 1 10 1-3 1-10 1-11 1-7 1-3 1 3 1 5 1 21 1 12 1-7 1 1 1-20 1-13 1-11 1-14 1 15 1 18 1 10 1 4 1-3 1-8 1-5 1 0 1 6M190 51l1 18 1 8 1-3 1-5 1-5 1-1 1 1 1 14 1 5 1 5 1-5 1-10 1-7 1-7 1-1 1 5 1 10 1 12 1 11 1-11 1-10 1-5 1-4 1-5 1 3 1 2 1-5 1-11M324 52l1-16 1-5 1 9 1 4 1-6 1-14 1-6 1 3 1 14 1 13 1 1 1-13 1-16 1-11 1 12 1 18 1 16 1 1 1-27 1-25 1 9 1 10 1 14 1 3 1-4 1-9 1 0 1 12 1 12M369 70l1-17 1-9 1-2 1-10 1-7 1-2 1 4 1 15 1 12 1-8 1-12 1-14 1-5 1 0 1 29 1 8 1-2 1-10 1-13 1-1 2-2 1 11 1 6 1-3 1 1 1 7 1 21M412 70l1-23 1-13 1-1 1 4 1 10 1 1 1 3 1-8 1-7 1-3 1-1 1-1 1 4 1 7 1 2 1 1 1-2 1-7 1-4 1-4 1 3 1 5 1 1 1 4 1 4 1 7 1 14" stroke="#ff7f0e"/><path d="M51 51l1-1 1-3 1 8 1 7 1 2 1-5 1-12 1-7 1 0 1 8 1 6 1 10 1-3 1-6 1-6 1-8 1 3 1 6 1 10 1 4 1-2 1-7 1-13 1-17 1 12 1 14 1 15 1-1 1-1 1-10 1-3 1 1M99 67l1-22 1-11 1 2 1-8 1-8 1-5 1 0 1 7 1 13 1 12 1-3 1-12 1-22 1-9 1 7 1 13 1 17 1 7 1 6 1-30 1-10 1-3 1 5 1 8 1 10 1 4 1 13 1 18M145 71l1 2 1 9 1-1 1-4 1-11 1-12 1 15 1 9 1 14 1-5 1-14 1-9 1 0 1 3 1 15 1 5 1-5 1-10 1-9 1-5 1 15 1 7 1 1 1-3 1-7 1-1 1 0M190 51l1-13 1-14 1-6 1-8 1 4 1 1 1 10 1 3 1 2 1-2 1-8 1-4 1-1 1-1 1 3 1 3 1 10 1 16 1-11 1-6 1-9 1-8 1-4 1 5 1 4 1 9 1 11 1 16M236 48l1 0 1-8 1-1 1 5 1 8 1 5 1 3 1 2 1-20 1-5 1 3 1 5 1 12 2 15 1-5 1-11 1-13 1-4 1 5 1 5 1 10 1 0 1-4 1-3 1-4 1-1 1 4M279 65l1-9 1-8 1 2 1 6 1-1 1 4 1 1 1-7 1-6 1-24 1 12 1-3 1 12 1 8 1 5 1 2 1-3 1 1 1-7 1-5 1 0 1 1 0 3 1 3 1 8 1 1 1-1 1-2 1 0 1 8M369 55l1-8 1-13 1-10 1 3 1 8 1 10 1 3 1 0 1-5 1-11 1-4 1-2 1 7 1 14 1 10 1 2 1-8 1-19 1-5 1-2 2 5 1 8 1 7 1-1 1-2 1 5 1 6M412 52l1-10 1-6 1-7 1-7 1 9 1 7 1 12 1 34 1-38 1-10 1-8 1-4 1 3 1 7 1 6 1 6 1 0 1-5 1-8 1-6 1-3 1 8 1 4 1 7 1-1 1 3 1 7" stroke="#d62728"/><path d="M0 12l1 14 1 8 1 15 1 3 1-6 1-11 1-14 1-5 1 4 1 10 1 11 1 5 1-3 1 0 1-6 1-8 1-11 1-4 1 16 1 11 1 7 1 4 1-3 1-11 1-8 1-7 1 1 1 4 1 8 1 6 1 7 1-3 1-15 1-6 1-9M51 25l1 12 1 20 1 10 1 9 1 0 1-9 1-4 1-7 1 3 1 4 1 10 1 6 1-7 1-9 1-4 1-2 1 4 1 6 1 7 1-1 1-3 1-6 1-10 1-1 1 10 1 11 1 0 1-5 1-6 1-11 1-15 1-13M145 10l1 21 1 17 1 14 1 9 1 14 1-9 1-21 1-14 1-9 1 10 1 18 1 8 1 1 1-5 1-8 1-8 1 0 1 1 1 10 1 9 1 1 1-9 1-7 1-13 1-1 1-8 1-20M279 22l1 6 1 3 1 2 1 2 1-8 1-6 1 0 1-3 1 14 1 20 1 20 1-35 1-13 1-4 1-5 1 7 1 6 1 12 1 2 1-12 1-9 1-5 0 2 1 4 1 4 1 5 1-1 1-6 1-4 1 4M324 14l1 8 1 0 1-15 1-7 1 20 1 7 1 4 1-3 1-5 1-6 1-5 1 6 1 13 1 7 1-4 1-11 1-10 1-13 1 16 1 15 1 4 1-5 1-1 1-11 1 0 1 2 1 9 1-3 1-12M369 13l1 25 1 19 1 11 1 5 1 4 1-5 1-9 1-10 1 3 1 11 1 3 1 8 1-3 1-10 1-19 1 4 1 6 1 16 1 15 1-1 2-14 1-13 1-9 1 2 1 6 1-15 1-30" stroke="#bcbd22"/><path d="M0 60l1-2 1 0 1-3 1-5 1-3 1-2 1 3 1 6 1 0 1 4 1-5 1-15 1-2 1 5 1 12 1 5 1-2 1-4 1-13 1 1 1 1 1 7 1 6 1 6 1-5 1-9 1-6 1-3 1 6 1 5 1 0 1-2 1 3 1 4 1 9M0 76l1-9 1-9 1-7 1 8 1 6 1 9 1-7 1-5 1-11 1-11 1-8 1 19 1 15 1 11 1 5 1-9 1-16 1-11 1-14 1 13 1 13 1 16 1 5 1-2 1-12 1-9 1-5 1 3 1 3 1 9 1 4 1 3 1-4 1 0 1 7M51 61l1-10 1-8 1 0 1 4 1 4 1-2 1-3 1-7 1-6 1 3 1 3 1 4 1 10 1 2 1-7 1-6 1-7 1-7 1 1 1 7 1 13 1 6 1 5 1-8 1-12 1-22 1 8 1 4 1 9 1 10 1 6 1 8M51 75l1 0 1-7 1-8 1 1 1-1 1-1 1 8 1 4 1 0 1-9 1-8 1 6 1-1 1 5 1 4 1 2 1-8 1-8 1-4 1 3 1 9 1 6 1 4 1-6 1-12 1-9 1 9 1 8 1-2 1 7 1 4 1 5M99 76l1-21 1-18 1-8 1 3 1 2 1 6 1 3 1 2 1-8 1-7 1-6 1 5 1 6 1 2 1 14 1-12 1-10 1-1 1-13 1 13 1 4 1 6 1-3 1 0 1-7 1 2 1 22 1 23M99 64l1-5 1 5 1 3 1 6 1-3 1-12 1-11 1 4 1 5 1 17 1 13 1 2 1-8 1-24 1-16 1 6 1 15 1 10 1 12 1-10 1-4 1-14 1-10 1 9 1 13 1 7 1-3 1-4M145 77l1-17 1-15 1-3 1-11 1-12 1 16 1 8 1 4 1 0 1-5 1-3 1-7 1-2 1 6 1 4 1 4 1 2 1-6 1-1 1-13 1 4 1 3 1 6 1 7 1 4 1 7 1 20M145 68l1-16 1-6 1-3 1 7 1 6 1-6 1-10 1-4 1-1 1 3 1 2 1 3 1 4 1 3 1-2 1-7 1-5 1-5 1 0 1 3 1 8 1 2 1 2 1 1 1 1 1 7 1 14M190 75l1-5 1-1 1 7 1 3 1 0 1-12 1-2 1 1 1 3 1 7 1 1 1-2 1-10 1-1 1 3 1 8 1 5 1 2 1-10 1-7 1 3 1 7 1 5 1-2 1 0 1-3 1 0 1 2M190 69l1-8 1-3 1 2 1-4 1-2 1-18 1-27 1 33 1 14 1 9 1 2 1-14 1-19 1 2 1 9 1 14 1 10 1 3 1-19 1-10 1-1 1 4 1 13 1 8 1-6 1-8 1 3 1 11M236 70l1-10 1 3 1-4 1-2 1-11 1-2 1 6 1 17 1 6 1-15 1-16 1-9 1 7 2 14 1 8 1-3 1-9 1-13 1-1 1 12 1 7 1 5 1-7 1-9 1 0 1 13 1 11M236 74l1-20 1-9 1-6 1-10 1-2 1 3 1 12 1 17 1-16 1-11 1-2 1 2 1 10 2 20 1-8 1-25 1-9 1 7 1 15 1 11 1-8 1-11 1-9 1 5 1 13 1 17 1 16M279 77l1-31 1-22 1-8 1-3 1 14 1 6 1 0 1-4 1-11 1-18 1 0 1 8 1 15 1 7 1 6 1-3 1-10 1-4 1 1 1 3 1-1 1 9 0 4 1-3 1-1 1-8 1-3 1 8 1 18 1 29M279 55l1-10 1-12 1-8 1-16 1 0 1 1 1 7 1 10 1 11 1 1 1-17 1-13 1-2 1 2 1 11 1 13 1 3 1-7 1-9 1-17 1-2 1 15 0 10 1 4 1-4 1-3 1-3 1 1 1 18 1 22M324 58l1-18 1-15 1-8 1-16 1 15 1 7 1 4 1 3 1-3 1-4 1-7 1-5 1-3 1 7 1 4 1 11 1 7 1-6 1-9 1-6 1-10 1 4 1 3 1 11 1 2 1 2 1 0 1 6 1 20M324 69l1-10 1-3 1 0 1 16 1-4 1 1 1-4 1-8 1-6 1-11 1 2 1 5 1 10 1 8 1 7 1 1 1-7 1-11 1-7 1-16 1 14 1 7 1 7 1 5 1 2 1-2 1-5 1 3 1 6M369 78l1-14 1-3 1-10 1-10 1-13 1 10 1 15 1 10 1-6 1-15 1-12 1 3 1 18 1 28 1-9 1-21 1-28 1 6 1 17 1 17 2 0 1-8 1-16 1-5 1 9 1 19 1 16M369 68l1 3 1 3 1-7 1-6 1 0 1 7 1 11 1 5 1-3 1-15 1-6 1 3 1 11 1 17 1 3 1-16 1-18 1-6 1 14 1 7 2 5 1-1 1-4 1-3 1-1 1 3 1-3M412 67l1-2 1 3 1-11 1-8 1-13 1 12 1 8 1 32 1-1 1-16 1-17 1-14 1-7 1 15 1 13 1 9 1-1 1-7 1-11 1-7 1 3 1 7 1 9 1 5 1-1 1-4 1 0M412 69l1-27 1-16 1 5 1 7 1 9 1-15 1-6 1-16 1 4 1 2 1 0 1 8 1 5 1 5 1-5 1-1 1-8 1-3 1-5 1 3 1 6 1 0 1 7 1-3 1 3 1 14 1 30" stroke="#17becf"/><path d="M0 52l1-4 1-6 1 6 1 11 1 3 1 9 1-21 1-19 1-2 1 8 1 17 1 10 1 3 1-9 1-12 1-6 1-3 1 8 1 15 1 0 1 1 1-6 1-12 1-4 1 4 1 11 1 12 1 5 1-5 1-12 1-8 1 2 1 3 1 3 1-1M51 73l1 4 1 7 1-2 1-9 1-10 1-5 1 3 1 9 1 16 1 7 1-2 1-11 1-9 1-19 1 4 1 10 1 14 1 6 1 7 1-6 1-10 1-17 1-9 1 0 1 23 1 20 1 1 1 0 1-12 1-9 1 1 1-2M99 72l1-7 1-6 1-1 1-6 1 1 1-2 1 2 1 3 1 5 1 1 1-1 1-3 1-10 1-6 1-7 1 15 1 9 1 8 1 7 1-8 1-12 1-7 1-5 1 2 1 9 1 7 1 7 1 5M145 65l1-17 1-5 1 0 1-14 1-13 1-8 1 14 1 16 1 10 1-1 1-18 1-12 1 0 1 4 1 21 1 7 1-8 1-16 1-9 1 1 1 7 1 19 1 1 1-7 1-10 1 11 1 28M190 64l1-14 1-12 1 1 1 8 1 10 1-2 1-12 1-9 1-2 1 3 1 15 1 25 1-6 1-24 1-6 1-4 1 3 1 15 1 23 1-19 1-12 1-12 1 0 1 3 1 11 1 7 1 6 1 4M236 64l1-16 1-5 1 0 1-2 1-6 1-11 1-8 1 0 1 18 1 2 1 5 1-5 1-7 2-8 1-7 1 8 1 8 1 11 1 3 1-4 1-9 1-10 1-2 1 8 1 7 1 13 1 18M279 47l1 1 1 1 1 1 1-3 1 9 1 6 1 5 1-1 1-7 1-19 1-32 1 14 1 19 1 19 1 17 1 4 1 0 1-15 1-14 1-1 1-7 1 6 0 7 1 14 1-1 1 2 1-11 1-4 1-9 1-1M324 63l1-8 1-16 1-10 1-11 1 17 1 8 1 3 1-3 1-7 1-9 1 1 1 3 1 12 1 5 1-2 1-5 1-9 1-1 1 0 1 4 1 6 1 2 1 0 1-8 1-1 1-5 1 9 1 15 1 9M369 48l1-1 1-3 1-4 1 0 1 6 1 6 1 7 1 3 1-3 1-8 1-15 1-8 1-4 1 9 1 15 1 8 1 7 1-1 1-11 1-11 2-4 1-1 1 1 1 7 1 6 1 0 1-1M412 70l1 3 1-11 1-8 1-2 1 30 1 4 1 1 1-29 1-9 1 8 1 13 1 9 1 1 1-14 1-6 1-1 1 10 1 14 1-1 1-14 1-16 1 1 1 15 1 5 1 1 1-1 1-1" stroke="#ff7f0e"/></g><g transform="translate(171.00 235.00) scale(0.5000 -0.59800)" fill="none" stroke-width="0.95"><path d="M35 76l1 0 1 0 1 0 1 0 1 0 1 1 1-1 1 0 1-1 1 1 1 0 1 0 1 0 1 0 1 0 1 0M83 76l1 0 1 0 1 0 1 0 1 0 1 0 1 0 1-1 1 1 1 0 1 0 1 0 1 0 1 0 1 0 1 0M127 76l1 0 1 0 1 0 1 0 2 0 1 0 1 0 1 0 1 0 1 1 1-1 1 0 1 0 1 0 1 0 1 0 1 0M172 76l1 0 1 0 1-1 1 1 1 0 1 0 1 0 1 0 1 0 1 0 1 0 1 0 2 0 1 0 1 0 1 0 1 0M218 76l1 0 1 0 1 0 1 0 1 0 1-1 1 1 1 0 1 0 1 0 1-1 1 1 1 0 1-1 0 1 1 0 1 0 1 0 1 0M264 76l1 0 1 0 1 0 1 0 1 0 1 1 1-1 1 0 1-1 1 1 1 0 1 0 1 0 1 0 1 0M308 76l1 0 1 0 1 0 1 0 1 0 1 0 1 0 2 0 1 0 1 0 1 0 1 0 1-1 1 1 1-1M353 76l1 0 1 0 1 1 1-1 1 0 1 0 1 0 1 0 1 0 1 0 1 0 1 0 1 1 1-1 1 0 1 0M397 76l1 0 1 0 1 0 1 0 1 0 1 0 1-1 1 0 1 1 1 0 1 0 1 0 1-1 1 1 1 0M439 76l1 0 1 0 1 0 1 0 1 0 1 0 1 0 1 0 1 0 1 0 1 0 1 0" stroke="#17becf"/><path d="M35 76l1 0 1 0 1 0 1 0 1 0 1 0 1 0 1 0 1 0 1 0 1-1 1 1 1 0 1 0 1 0 1-1M83 76l1 0 1 0 1 0 1 0 1 0 1 0 1 0 1 0 1 0 1 0 1 0 1 0 1-1 1 1 1 0 1 0M127 76l1 0 1 0 1 0 1 0 2 0 1 0 1 0 1 0 1 0 1 0 1 0 1 0 1 0 1 0 1 0 1 0 1 0M172 76l1 0 1 0 1 0 1 0 1 0 1 0 1 0 1 0 1 0 1 0 1 0 1 0 2 0 1 0 1-1 1 1 1 0M218 76l1 0 1 0 1 0 1 0 1-1 1 1 1 0 1 0 1 0 1 0 1 0 1 0 1 0 1 0 0 0 1 0 1 0 1 0 1-1M264 76l1-1 1 1 1 0 1 0 1 0 1 0 1 0 1 0 1 0 1 0 1-1 1 1 1 0 1 0 1 0M308 75l1 1 1 0 1 0 1-1 1 1 1 0 1 0 2 0 1 0 1 0 1 0 1 0 1 0 1 0 1 0M353 75l1 1 1 0 1 0 1 0 1 0 1-1 1 1 1 0 1 0 1 0 1 0 1 0 1 0 1 0 1 0 1 0M397 76l1 0 1-1 1 1 1 0 1 0 1 0 1-1 1 0 1 1 1 0 1 0 1-1 1 1 1-1 1 0M439 76l1 0 1 0 1 0 1 0 1 0 1 0 1 0 1 0 1 0 1 0 1 0 1 0" stroke="#17becf"/><path d="M35 72l1 1 1 0 1-1 1 1 1-1 1 0 1 1 1-1 1 0 1 0 1 0 1 1 1 0 1-1 1 0 1 1M83 72l1 1 1 0 1-1 1 1 1-1 1 0 1 1 1-1 1 0 1 1 1-1 1 0 1 0 1 0 1 0 1 0M127 72l1 0 1 0 1 0 1 1 2 0 1 0 1-1 1 0 1 0 1 0 1 0 1 0 1 0 1 0 1 0 1 0 1 0M172 72l1 0 1 1 1-1 1 0 1 0 1 0 1 1 1 0 1-1 1 0 1 0 1 0 2 0 1 0 1 0 1 1 1-1M218 72l1 0 1 0 1 1 1-1 1 1 1-1 1 0 1 1 1-1 1 0 1 1 1-1 1 0 1 1 0 0 1-1 1 0 1 0 1 0M264 72l1 1 1-1 1 0 1 0 1 1 1-1 1 1 1 0 1-1 1 0 1 0 1 0 1 0 1 0 1 0M308 73l1-1 1 1 1-1 1 0 1 0 1 1 1 0 2-1 1 1 1-1 1 0 1 0 1 0 1 1 1 0M353 72l1 0 1 0 1 1 1-1 1 0 1 0 1 1 1 0 1-1 1 0 1 1 1-1 1 0 1 0 1 0 1 0M397 73l1-1 1 0 1 0 1 0 1 0 1 1 1-1 1 1 1-1 1 0 1 0 1 0 1 0 1 0 1 0M439 72l1 1 1-1 1 0 1 1 1-1 1 0 1 0 1 1 1-1 1 0 1 1 1-1" stroke="#ff7f0e"/><path d="M35 70l1 0 1 1 1 0 1 0 1 0 1 0 1 0 1 0 1 0 1 0 1-1 1 0 1 1 1-1 1 0 1 0M83 71l1 0 1 0 1 0 1 0 1-1 1 1 1 0 1 0 1 0 1 0 1 0 1 0 1 0 1 0 1-1 1 1M127 71l1 0 1 0 1 0 1-1 2 0 1 1 1 0 1 0 1 0 1 0 1 0 1 0 1 0 1 0 1 0 1 0 1-1M172 71l1-1 1 1 1-1 1 1 1 0 1 0 1 0 1 0 1 0 1-1 1 1 1-1 2 1 1-1 1 1 1 0 1 0M218 71l1 0 1 0 1 0 1-1 1 1 1-1 1 1 1 0 1 0 1 0 1 0 1 0 1 0 1 0 0 0 1-1 1 0 1 0 1 1M264 71l1 0 1 0 1-1 1 1 1 0 1-1 1 1 1 0 1 0 1 0 1 0 1 0 1 0 1 0 1 0M308 70l1 1 1-1 1 1 1-1 1 1 1 0 1 1 2-1 1 0 1 0 1 0 1 0 1 0 1 0 1 0M353 71l1 0 1 0 1-1 1 1 1 0 1 0 1 0 1 0 1 0 1 0 1 0 1 0 1 0 1 0 1 0 1 0M397 71l1 0 1 0 1 0 1 0 1-1 1 1 1 0 1 0 1 0 1 1 1-1 1 0 1-1 1 1 1 0M439 71l1-1 1 1 1 0 1 0 1-1 1 1 1 0 1 0 1 0 1 0 1 0 1 0" stroke="#d62728"/><path d="M35 67l1 0 1 0 1 0 1 1 1 0 1 0 1 0 1-1 1 1 1 0 1-1 1 0 1 0 1 0 1 1 1 0M83 68l1-1 1 0 1 0 1 1 1-1 1 1 1 0 1 0 1 0 1-1 1 1 1-1 1 0 1 1 1-1 1 1M127 68l1-1 1 1 1-1 1 1 2 0 1 0 1 0 1 0 1 0 1-1 1 0 1 0 1 0 1 1 1 0 1 0 1 0M172 68l1-1 1 1 1-1 1 1 1 0 1 0 1 0 1 0 1 0 1 0 1 0 1-1 2 0 1 0 1 1 1 0 1 0M218 68l1 0 1 0 1 0 1 0 1 0 1 0 1-1 1 1 1-1 1 1 1-1 1 0 1 1 1 0 0 0 1 0 1-1 1 1 1-1M264 68l1 0 1 0 1-1 1 0 1 1 1 0 1 0 1-1 1 1 1 0 1-1 1 1 1 0 1 0 1 0M308 68l1 0 1-1 1 1 1-1 1 1 1 0 1 0 2 0 1 0 1-1 1 0 1 1 1 0 1-1 1 1M353 68l1 0 1 0 1-1 1 1 1 0 1-1 1 0 1 1 1-1 1 1 1 0 1 0 1 0 1 0 1 0 1-1M397 68l1 0 1 0 1-1 1 0 1 0 1 1 1 0 1 0 1 0 1 0 1 0 1-1 1 1 1 0 1 0M439 68l1-1 1 1 1-1 1 1 1 0 1-1 1 0 1 0 1 0 1 1 1 0 1 0" stroke="#d62728"/><path d="M35 68l1 0 1 0 1 0 1 0 1 0 1 0 1 0 1 0 1 0 1 0 1 0 1 0 1 0 1 0 1 0 1 0M83 68l1 0 1 0 1 1 1-2 1 1 1 0 1 0 1-1 1 1 1-1 1 1 1 0 1 0 1 0 1 0 1 0M127 68l1 0 1 0 1 0 1 0 2 0 1 0 1 0 1 0 1 0 1 0 1 0 1 0 1 0 1 0 1 0 1 0 1 0M172 68l1 0 1 0 1-1 1 0 1 1 1 0 1 0 1 0 1-1 1 1 1-1 1 1 2 0 1 0 1 0 1 0 1 0M218 68l1 0 1 0 1-1 1 2 1-1 1 0 1-1 1 1 1 0 1-1 1 1 1 0 1 0 1-1 0 1 1 0 1 0 1 0 1 0M264 68l1 0 1-1 1 1 1 0 1 0 1 0 1 0 1 0 1 0 1 0 1 0 1 0 1 0 1 0 1 0M308 68l1 0 1 0 1 0 1 0 1 0 1 0 1 0 2 0 1 0 1 0 1 0 1 0 1 0 1 0 1 0M353 67l1 1 1 0 1 0 1 0 1 0 1 0 1 0 1 0 1 0 1 0 1 0 1 0 1 0 1 0 1 0 1-1M397 68l1 0 1 0 1 0 1 0 1 0 1 1 1-1 1 0 1 0 1 0 1 0 1 0 1 0 1 0 1 0M439 68l1 0 1 0 1 0 1 0 1 0 1-1 1 1 1 0 1 0 1 0 1 0 1 0" stroke="#ff7f0e"/><path d="M35 64l1 0 1-1 1 0 1 1 1 1 1-1 1 0 1 0 1 0 1 0 1-1 1 1 1 0 1 0 1 0 1 0M83 64l1 0 1 0 1 0 1-1 1 1 1 0 1 0 1 0 1-1 1 1 1 0 1 0 1 0 1 0 1 0 1 0M127 63l1 1 1 0 1 0 1 0 2 0 1 0 1 0 1 0 1-1 1 1 1 0 1 0 1 0 1-1 1 1 1 0 1 0M172 64l1-1 1 1 1 0 1-1 1 1 1 0 1 0 1 0 1 0 1 0 1 0 1 0 2-1 1 1 1 0 1-1 1 0M218 64l1-1 1 1 1 0 1 0 1 0 1-1 1 1 1 0 1 0 1 0 1-1 1 1 1-1 1 1 0 0 1 0 1 0 1 0 1 0M264 64l1 1 1-1 1 0 1 1 1-2 1 1 1-1 1 1 1 0 1 0 1 0 1 0 1 0 1 0 1-1M308 63l1 1 1 0 1 0 1 0 1 0 1 0 1 0 2 0 1-1 1 1 1 0 1-1 1 1 1-1 1 0M353 64l1 0 1 0 1 0 1 0 1 0 1-1 1 0 1 1 1 0 1 0 1 0 1 0 1 0 1 0 1 0 1-1M397 63l1 1 1 0 1-1 1 1 1 0 1 0 1-1 1 0 1 1 1-1 1 0 1 0 1 1 1 0 1 0M439 64l1 0 1-1 1 1 1-1 1 1 1 0 1-1 1 1 1 0 1 0 1 0 1 0" stroke="#ff7f0e"/><path d="M35 64l1 0 1 0 1 0 1 0 1 0 1 0 1 0 1 0 1 0 1 0 1 0 1 0 1 0 1 0 1 1 1-1M83 65l1-1 1 0 1 0 1 0 1 0 1 0 1 0 1 0 1 0 1-1 1 1 1 0 1 0 1 0 1 0 1 0M127 64l1-1 1 1 1 0 1 0 2 1 1-1 1 0 1-1 1 1 1 0 1 0 1 0 1 0 1 0 1 0 1 0 1 0M172 64l1 0 1 0 1 0 1 0 1 0 1 0 1 0 1 0 1 0 1 0 1 0 1 0 2 0 1 0 1 0 1 0 1 0M218 64l1 0 1 0 1 0 1 0 1 0 1 0 1 0 1 0 1 0 1 0 1 1 1-1 1 0 1 0 0 0 1 0 1 0 1 0 1 0M264 64l1 0 1 0 1 0 1 0 1 0 1 0 1 0 1 1 1-1 1 0 1 0 1 0 1 0 1 0 1 0M308 64l1 0 1 0 1 0 1 0 1 0 1 0 1 1 2-1 1 0 1 0 1 0 1 0 1 0 1 0 1 0M353 64l1 0 1 0 1 0 1 0 1 0 1 0 1-1 1 1 1 0 1 0 1 0 1 0 1-1 1 1 1 0 1 0M397 64l1 0 1 0 1 1 1-1 1 0 1 0 1 0 1 0 1 0 1 0 1 0 1 0 1 0 1 1 1-1M439 64l1 0 1 0 1 0 1 0 1 0 1 0 1 0 1 0 1 0 1 0 1 0 1 0" stroke="#17becf"/><path d="M35 59l1 0 1 0 1 0 1 0 1 0 1 0 1 0 1 1 1-1 1 0 1 0 1 0 1 0 1 0 1 0 1 0M83 60l1-1 1 0 1 0 1 0 1 0 1 0 1 0 1 0 1 0 1 0 1 0 1 0 1 0 1 0 1 0 1 0M127 59l1 0 1 0 1 0 1 0 2 0 1 0 1 0 1-1 1 1 1 0 1 0 1 0 1 0 1 0 1 0 1 0 1 0M172 59l1 0 1 0 1 0 1 0 1 0 1 0 1 0 1 0 1 0 1 0 1 0 1 0 2 1 1-1 1 0 1 0 1 0M218 59l1 0 1 0 1 0 1 0 1 0 1 0 1 1 1-1 1 0 1 0 1 1 1-1 1 0 1 0 0 0 1 0 1 0 1 0 1 0M264 59l1 0 1 0 1 0 1 0 1 0 1 0 1 0 1 0 1 0 1 0 1 0 1 1 1-1 1 0 1 0M308 60l1-1 1 1 1-1 1 0 1 0 1 0 1 0 2 0 1 0 1 0 1 0 1 0 1 0 1 0 1 0M353 59l1 0 1 0 1-1 1 1 1 0 1 0 1 0 1 0 1 1 1-1 1 0 1 0 1 0 1 0 1 0 1 0M397 59l1 0 1 0 1 0 1 0 1-1 1 1 1 0 1-1 1 1 1 0 1 0 1 1 1-1 1 0 1 0M439 59l1 0 1 0 1 0 1 0 1 0 1 0 1 0 1 0 1 1 1-1 1 0 1 0" stroke="#17becf"/><path d="M35 60l1 0 1 0 1 0 1 0 1 0 1 0 1 0 1 0 1 0 1 0 1-1 1 1 1 0 1 0 1 0 1 0M83 60l1 0 1 0 1 0 1 0 1 0 1 0 1 0 1 0 1 0 1 0 1 0 1 1 1-1 1 0 1 0 1 0M127 60l1 0 1 0 1 0 1 0 2 0 1 0 1 0 1 0 1 0 1 0 1 0 1 0 1 0 1 0 1 0 1 0 1 0M172 60l1 0 1 0 1 0 1 0 1 0 1 0 1 0 1 0 1 0 1 0 1 0 1 0 2 0 1 0 1 0 1 0 1 0M218 60l1 0 1 0 1 0 1 0 1 0 1 0 1 0 1 0 1 0 1 1 1-1 1 0 1-1 1 1 0 0 1 0 1 0 1 0 1 0M264 60l1 0 1 0 1 0 1 0 1 0 1 0 1 0 1 1 1-1 1 0 1 0 1 0 1 0 1 0 1 0M308 60l1 0 1 0 1 0 1 0 1 0 1 0 1 0 2 0 1 0 1 0 1 1 1-1 1 1 1-1 1 0M353 60l1-1 1 1 1 0 1 0 1 1 1-1 1 0 1 0 1 0 1 0 1 0 1 0 1 0 1 0 1 0 1 0M397 60l1 0 1 1 1-1 1 0 1 0 1 0 1 0 1 0 1 0 1 0 1 1 1-2 1 1 1 0 1 0M439 61l1-1 1 0 1 0 1 0 1 0 1 0 1 0 1 0 1 0 1 0 1 0 1 0" stroke="#1f77b4"/><path d="M35 55l1 0 1 0 1 0 1 0 1 0 1 0 1 0 1-1 1 1 1-1 1 1 1 0 1 0 1-1 1 1 1 0M83 55l1 0 1 0 1 0 1 0 1 0 1 0 1 0 1-1 1 1 1 0 1 0 1-1 1 1 1 0 1 0 1 0M127 56l1-1 1 0 1 0 1 0 2 0 1 0 1 0 1 0 1 0 1 0 1 0 1 0 1 0 1 0 1-1 1 1 1 0M172 54l1 1 1 0 1 0 1 0 1 0 1 0 1 0 1 0 1 0 1 0 1 0 1 1 2-1 1-1 1 1 1 0 1 0M218 55l1 0 1 0 1 0 1-1 1 1 1 0 1 0 1 0 1 0 1 0 1-1 1 1 1 0 1 0 0 0 1 0 1 0 1 0 1 0M264 55l1 0 1 0 1 0 1 0 1 0 1 0 1 0 1 0 1 0 1 0 1 0 1 0 1 0 1 0 1 0M308 55l1 0 1 0 1 0 1 0 1 0 1 0 1 0 2 0 1 0 1 0 1 0 1 0 1 1 1-1 1 0M353 55l1 0 1-1 1 1 1 0 1 0 1 0 1 0 1 0 1 0 1 0 1 0 1 0 1 0 1 0 1 0 1 0M397 55l1 0 1 0 1 0 1 0 1 0 1 0 1 0 1 0 1 0 1 0 1 0 1 0 1 0 1 0 1 0M439 55l1-1 1 1 1-1 1 1 1 0 1 0 1 0 1 0 1 0 1 0 1-1 1 1" stroke="#17becf"/><path d="M35 55l1 0 1 0 1 0 1 0 1 0 1 0 1 0 1 0 1 0 1 0 1 0 1 0 1 0 1 0 1 0 1 0M83 55l1 0 1 0 1 0 1 0 1 0 1 0 1 0 1 0 1 0 1 0 1 0 1 0 1 1 1-1 1 0 1 1M127 55l1 0 1 0 1 0 1 0 2 0 1 0 1 0 1 0 1 0 1 0 1 0 1-1 1 1 1 0 1 0 1 0 1 0M172 55l1 0 1 0 1 0 1 0 1 0 1 0 1 1 1-1 1 0 1 0 1 0 1 0 2 0 1 0 1 0 1 0 1 0M218 55l1 0 1 0 1 1 1-1 1-1 1 2 1-1 1 0 1 0 1 0 1 0 1 0 1 0 1 0 0-1 1 1 1 1 1-1 1 0M264 55l1 0 1 0 1 0 1 0 1 0 1 0 1 0 1 0 1 0 1 0 1-1 1 1 1 0 1 0 1 0M308 55l1 0 1 0 1 0 1 0 1 0 1 0 1 0 2 0 1 0 1 0 1 0 1 0 1 0 1 0 1 0M353 55l1 0 1 0 1 0 1 0 1 0 1 0 1 0 1 0 1 0 1 0 1 0 1 0 1 0 1 0 1 1 1-1M397 55l1 0 1 0 1 0 1 1 1-1 1 0 1 0 1 0 1 0 1 0 1 0 1 0 1 0 1 0 1 0M439 54l1 1 1 0 1 0 1-1 1 1 1 0 1 0 1 0 1 0 1 0 1 0 1 0" stroke="#d62728"/><path d="M35 51l1 0 1 0 1-1 1 1 1 0 1 0 1 0 1 0 1 0 1 0 1-1 1 1 1-1 1 1 1 0 1 0M83 51l1 0 1 0 1 0 1 0 1 0 1 0 1 0 1-1 1 1 1 0 1 0 1 0 1 0 1 0 1 0 1 0M127 50l1 0 1 1 1 0 1 0 2 0 1 0 1 0 1 0 1 0 1 0 1-1 1 1 1-1 1 1 1 0 1 0 1 0M172 51l1 0 1 0 1 0 1 0 1-1 1 0 1 1 1 0 1 0 1 0 1-1 1 1 2 0 1 0 1 0 1 0 1 0M218 51l1 0 1 0 1-1 1 1 1 0 1 0 1 0 1-1 1 1 1 0 1 0 1-1 1 0 1 0 0 1 1 0 1 0 1 0 1 0M264 51l1 0 1 0 1 0 1 0 1 0 1 0 1 0 1 0 1 0 1 0 1 0 1 0 1 0 1 0 1 0M308 51l1 0 1 0 1 0 1 0 1 0 1 0 1 0 2-1 1 1 1-1 1 1 1 0 1 0 1 0 1 0M353 52l1-1 1-1 1 1 1 0 1-1 1 0 1 1 1-1 1 1 1 0 1 0 1 0 1 0 1-1 1 1 1 0M397 51l1 0 1 0 1 0 1 0 1 0 1 0 1 0 1 0 1 0 1 0 1 0 1 0 1 0 1 0 1 0M439 51l1 0 1 0 1 0 1 0 1 0 1 0 1 0 1 1 1-1 1 0 1 0 1 0" stroke="#d62728"/><path d="M35 52l1 0 1 0 1-1 1 0 1 0 1 0 1 1 1-1 1 0 1 1 1 0 1-1 1 0 1 0 1 1 1 0M83 52l1-1 1 0 1 0 1 1 1 0 1 0 1-1 1 1 1 0 1 0 1 0 1 0 1 0 1 0 1-1 1 1M127 51l1 1 1 0 1 0 1 0 2 0 1-1 1 1 1 0 1 0 1 1 1-2 1 0 1 1 1-1 1 1 1 0 1-1M172 51l1 1 1-1 1 1 1 0 1-1 1 0 1 1 1 0 1 0 1 0 1 0 1 0 2 0 1-1 1 1 1 0 1 0M218 52l1 0 1-1 1 1 1 0 1-1 1 1 1 0 1 0 1 0 1 0 1-1 1 1 1-1 1 1 0 0 1 0 1 0 1-1 1 0M264 52l1 0 1-1 1 1 1-1 1 1 1 0 1 0 1-1 1 1 1 0 1 0 1 0 1 0 1 0 1 0M308 52l1 0 1-1 1 1 1-1 1 1 1-1 1 0 2 1 1 0 1 0 1-1 1 1 1-1 1 1 1 0M353 51l1 1 1-1 1 1 1 0 1-1 1 1 1 0 1-1 1 1 1 0 1 0 1 0 1 0 1-1 1 1 1 0M397 52l1-1 1 1 1-1 1 1 1-1 1 1 1-1 1 1 1-1 1 1 1 0 1 0 1 0 1 0 1 0M439 52l1 0 1 0 1-1 1 1 1 0 1 0 1 0 1 0 1 0 1-1 1 1 1 0" stroke="#ff7f0e"/><path d="M35 48l1 0 1 0 1 0 1 0 1 0 1 0 1 0 1 0 1 0 1 0 1 0 1 0 1 0 1 0 1-1 1 1M83 48l1 0 1-1 1 1 1 0 1 0 1 0 1 0 1 0 1 0 1 0 1-1 1 0 1 1 1 0 1 0 1 0M127 48l1 0 1 0 1-1 1 0 2 1 1 0 1 0 1 0 1-1 1 0 1 1 1 0 1 0 1 0 1-1 1 1 1 0M172 48l1 0 1-1 1 1 1 0 1-1 1 1 1 0 1-1 1 1 1 0 1-1 1 0 2 1 1-1 1 1 1 0 1-1M218 48l1 0 1 0 1 0 1-1 1 1 1-1 1 1 1-1 1 1 1 0 1 0 1 0 1 0 1 0 0 0 1 0 1 0 1 0 1 0M264 48l1-1 1 1 1 0 1 0 1 0 1 0 1 0 1 0 1 0 1 0 1 0 1 0 1 0 1 0 1-1M308 48l1 0 1 0 1 0 1 0 1 0 1-1 1 1 2 0 1 0 1 0 1 0 1 0 1 1 1-1 1 0M353 48l1 0 1 0 1 0 1 0 1-1 1 0 1 0 1 1 1 0 1 0 1 0 1 0 1 0 1 0 1 0 1 0M397 47l1 1 1 0 1 0 1 0 1 0 1-1 1 1 1 0 1 0 1 0 1 0 1 0 1 0 1 0 1 0M439 48l1 0 1 0 1-1 1 1 1 0 1 0 1 0 1 0 1 0 1 0 1 0 1-1" stroke="#ff7f0e"/><path d="M35 48l1 0 1 0 1 0 1 0 1 0 1 0 1 0 1 0 1 1 1-1 1 0 1 0 1 0 1 0 1 0 1 0M83 48l1 0 1 0 1 0 1 0 1 0 1 0 1 0 1 0 1-1 1 1 1 0 1 0 1 0 1 0 1 0 1 0M127 48l1 0 1 0 1 0 1 0 2 0 1 0 1 0 1 0 1 0 1 0 1 0 1 0 1 0 1-1 1 1 1 0 1 0M172 48l1 0 1 1 1-1 1 0 1 0 1 0 1 0 1 0 1 0 1 0 1 0 1 0 2 0 1 0 1 0 1 0 1 0M218 47l1 1 1 0 1 0 1 0 1 0 1 0 1 0 1-1 1 1 1 0 1 0 1 0 1 0 1 0 0 0 1 0 1 0 1 0 1 0M264 48l1-1 1 1 1 0 1 1 1-1 1 0 1 0 1 0 1 0 1 0 1 0 1 0 1 0 1 0 1 0M308 48l1 0 1 0 1 0 1 0 1-1 1 1 1 0 2 1 1-1 1 0 1 0 1 0 1 0 1 0 1 0M353 48l1 0 1 0 1 0 1 0 1 0 1 0 1 0 1 0 1 0 1 0 1 0 1 0 1 0 1 0 1-1 1 1M397 48l1 0 1 1 1-1 1 0 1 0 1 0 1 0 1 0 1 0 1 0 1 0 1 0 1 0 1 0 1 0M439 48l1 0 1 0 1 0 1 0 1 0 1 0 1 0 1 0 1 0 1-1 1 1 1 0" stroke="#8c564b"/><path d="M35 44l1 0 1 0 1 0 1 0 1 0 1 0 1 0 1 0 1 1 1-1 1 0 1 0 1 1 1-1 1 0 1 0M83 44l1 0 1 0 1 0 1 0 1 0 1 0 1 0 1 1 1-1 1 0 1 1 1-1 1 0 1 0 1 0 1 0M127 44l1 0 1 0 1 0 1 0 2 0 1 0 1 0 1 0 1 0 1 0 1 0 1 0 1 0 1 0 1 1 1 0 1-1M172 44l1 0 1 0 1 0 1 0 1 0 1 0 1 0 1 0 1 0 1 0 1 0 1 0 2-1 1 2 1-1 1 0 1 0M218 44l1 0 1 0 1 1 1-1 1 0 1 0 1 0 1 0 1 0 1 0 1 0 1 0 1 0 1 0 0 0 1 0 1 0 1 0 1 0M264 44l1 0 1 0 1 0 1 0 1 0 1 0 1 1 1-1 1 0 1-1 1 1 1 0 1 0 1 0 1 0M308 44l1 0 1 0 1 0 1 0 1 0 1 0 1 0 2 0 1 0 1 0 1 0 1 0 1 0 1 0 1 0M353 44l1 0 1 0 1 1 1-2 1 1 1 0 1 1 1-1 1 0 1 0 1 0 1 1 1-1 1 0 1 0 1 0M397 44l1 0 1 0 1 1 1-1 1 0 1 0 1 0 1 0 1 1 1-1 1 0 1 0 1 1 1-1 1 0M439 45l1-1 1 0 1 0 1 0 1 0 1 0 1 0 1 0 1 0 1 1 1-1 1 0" stroke="#7f7f7f"/><path d="M35 37l1 0 1 1 1-1 1 1 1 0 1-1 1 1 1 0 1 0 1 0 1 0 1-1 1 1 1 0 1 0 1 0M83 38l1 0 1 0 1 0 1 0 1 0 1-1 1 1 1 0 1-1 1 1 1 0 1 0 1-1 1 1 1-1 1 1M127 38l1-1 1 1 1 0 1 0 2 0 1 0 1 0 1 0 1 0 1 0 1-1 1 1 1-1 1 1 1 0 1 0 1 0M172 38l1 0 1 0 1-1 1 1 1 0 1 0 1 0 1 0 1-1 1 1 1 0 1 0 2 0 1-1 1 1 1 0 1-1M218 37l1 1 1 0 1-1 1 1 1 0 1 0 1-1 1 1 1-1 1 1 1 0 1 0 1 0 1 0 0 0 1-1 1 1 1 0 1-1M264 38l1 0 1 0 1 0 1-1 1 1 1 0 1 0 1-1 1 1 1 0 1 0 1 0 1 0 1-1 1 1M308 38l1-1 1 1 1 0 1 0 1 0 1 0 1 0 2 0 1 0 1-1 1 0 1 1 1-1 1 0 1 1M353 38l1 0 1 0 1-1 1 1 1 0 1 0 1 0 1 0 1 0 1-1 1 1 1 0 1 0 1 0 1 0 1-1M397 38l1 0 1 0 1 0 1 0 1 0 1 0 1 0 1 0 1 0 1 0 1 0 1 0 1 0 1 0 1 0M439 38l1 0 1 0 1 0 1 0 1 0 1-1 1 1 1 0 1-1 1 1 1 0 1 0" stroke="#e377c2"/><path d="M35 33l1 0 1 1 1-2 1 1 1 0 1 0 1 0 1 0 1 0 1 0 1 0 1 1 1-1 1 0 1 0 1 0M83 33l1 0 1 0 1 1 1-1 1 0 1 0 1 0 1 0 1 0 1 0 1 0 1 0 1 0 1 0 1 0 1 0M127 33l1 0 1 0 1 0 1 0 2 0 1 0 1 0 1 1 1-1 1 0 1 0 1 0 1 0 1 0 1 0 1 0 1 0M172 33l1 0 1 0 1 0 1 0 1 0 1 0 1 0 1 0 1 0 1 0 1 0 1 0 2 0 1 0 1 0 1 0 1 0M218 33l1 0 1 0 1 0 1 1 1-1 1 0 1 0 1 0 1 0 1 0 1 0 1 0 1 0 1 0 0 0 1 0 1 0 1 0 1 0M264 33l1 0 1 0 1 0 1 0 1 0 1 0 1 0 1 0 1 0 1 0 1 0 1 0 1 0 1-1 1 1M308 33l1 0 1 0 1 0 1 0 1 0 1 0 1 0 2 0 1 0 1 0 1 0 1 0 1 0 1 0 1 0M353 33l1 0 1 0 1 0 1 0 1 0 1 0 1 0 1 0 1-1 1 1 1 0 1 0 1 0 1 0 1 0 1 0M397 33l1 0 1 0 1 0 1 0 1 0 1 0 1 0 1 0 1 0 1 0 1 0 1 0 1 0 1 0 1 0M439 33l1 0 1 0 1 0 1 1 1-1 1 0 1 0 1 0 1 0 1 0 1 0 1 0" stroke="#e377c2"/><path d="M35 33l1 0 1 0 1 0 1 0 1 0 1 0 1 1 1 0 1 0 1 0 1-1 1 0 1 0 1 1 1 0 1 0M83 33l1 1 1-1 1 0 1 0 1 1 1-1 1 0 1 0 1 0 1 1 1 0 1-1 1 0 1 1 1-1 1 1M127 34l1-1 1 0 1 1 1 0 2-1 1 1 1 0 1-1 1 1 1 0 1 0 1-1 1 1 1 0 1-1 1 0 1 0M172 33l1 0 1 0 1 1 1 0 1-1 1 1 1-1 1 0 1 0 1 0 1 0 1 1 2-1 1 0 1 1 1-1 1 1M218 33l1 1 1-1 1 1 1 0 1-1 1 0 1 0 1 1 1-1 1 1 1-1 1 0 1 0 1 1 0-1 1 0 1 1 1-1 1 1M264 34l1 0 1-1 1 1 1 0 1-1 1 1 1-1 1 0 1 1 1-1 1 0 1 0 1 1 1 0 1-1M308 34l1-1 1 1 1 0 1-1 1 0 1 1 1-1 2 0 1 1 1 0 1 0 1 0 1-1 1 1 1 0M353 33l1 0 1 0 1 0 1 0 1 1 1-1 1 0 1 0 1 0 1 0 1 1 1 0 1-1 1 1 1-1 1 1M397 33l1 1 1-1 1 1 1-1 1 0 1 0 1 0 1 0 1 0 1 0 1 0 1 0 1 1 1-1 1 1M439 33l1 0 1 0 1 0 1 1 1-1 1 1 1-1 1 0 1 0 1 0 1 0 1 0" stroke="#9467bd"/><path d="M35 30l1 0 1 0 1-1 1 0 1 1 1 0 1-1 1 0 1 0 1 0 1 1 1 0 1-1 1 0 1 1 1 0M83 29l1 0 1 0 1 0 1 1 1 0 1-1 1 0 1 0 1 1 1-1 1 1 1 0 1-1 1 1 1-1 1 0M127 29l1 0 1 0 1 1 1-1 2 1 1-1 1 1 1-1 1 1 1-1 1 1 1-1 1 0 1 0 1 0 1 0 1 0M172 30l1 0 1 0 1-1 1 0 1 0 1 0 1 1 1 0 1-1 1 0 1 0 1 1 2 0 1 0 1-1 1 1 1 0M218 30l1-1 1 0 1 1 1-1 1 1 1-1 1 1 1 0 1 0 1-1 1 1 1-1 1 0 1 1 0 0 1-1 1 0 1 0 1 1M264 29l1 0 1 0 1 0 1 0 1 1 1 0 1-1 1 0 1 1 1-1 1 0 1 1 1 0 1 0 1-1M308 29l1 1 1-1 1 0 1 0 1 0 1 1 1-1 2 0 1 0 1 1 1 0 1-1 1 0 1 1 1-1M353 29l1 0 1 0 1 0 1 1 1 0 1-1 1 0 1 1 1-1 1 0 1 0 1 1 1 0 1 0 1-1 1 0M397 30l1-1 1 0 1 1 1 0 1-1 1 0 1 0 1 0 1 0 1 1 1-1 1 0 1 0 1 1 1 0M439 30l1 0 1-1 1 0 1 0 1 1 1 0 1-1 1 0 1 0 1 1 1-1 1 0" stroke="#9467bd"/><path d="M35 29l1 0 1 0 1-1 1 0 1 0 1 1 1-1 1 0 1 0 1 0 1 0 1 1 1 0 1-1 1 1 1 0M83 29l1 0 1-1 1 0 1 1 1 0 1 0 1-1 1 0 1 0 1 1 1-1 1 0 1 0 1 0 1 0 1 1M127 29l1 0 1-1 1 0 1 1 2-1 1 1 1-1 1 1 1-1 1 0 1 0 1 1 1-1 1 0 1 0 1 0 1 1M172 29l1-1 1 0 1 0 1 1 1-1 1 0 1 1 1 0 1-1 1 0 1 0 1 1 2-1 1 1 1-1 1 1 1-1M218 28l1 0 1 1 1 0 1 0 1-1 1 0 1 0 1 1 1-1 1 0 1 1 1-1 1 0 1 1 0-1 1 0 1 0 1 0 1 0M264 28l1 0 1 0 1 1 1-1 1 0 1 0 1 1 1-1 1 0 1 0 1 0 1 1 1-1 1 0 1 0M308 28l1 0 1 0 1 0 1 1 1 0 1 0 1-1 2 1 1 0 1-1 1 0 1 0 1 1 1 0 1 0M353 29l1-1 1 0 1 0 1 1 1-1 1 0 1 1 1 0 1-1 1 1 1 0 1-1 1 0 1 0 1 1 1-1M397 28l1 0 1 0 1 0 1 1 1 0 1-1 1 1 1 0 1 0 1-1 1 0 1 0 1 0 1 0 1 0M439 29l1-1 1 0 1 1 1 0 1 0 1 0 1-1 1 0 1 0 1 0 1 0 1 1" stroke="#2ca02c"/><path d="M35 26l1 0 1 0 1 0 1 0 1-1 1 0 1 1 1 0 1 0 1 0 1 0 1 0 1-1 1 1 1 0 1 0M83 26l1 0 1 0 1 0 1 0 1 0 1-1 1 1 1 0 1-1 1 1 1-1 1 0 1 1 1 0 1 0 1 0M127 26l1 0 1 0 1-1 1 1 2 0 1 0 1 0 1 0 1 0 1 0 1 0 1 0 1 0 1 0 1 0 1 0 1-1M172 26l1 0 1 0 1 0 1 0 1 0 1 0 1 0 1 0 1 0 1-1 1 1 1 0 2 0 1 0 1-1 1 1 1 0M218 26l1 0 1 0 1 0 1-1 1 0 1 0 1 1 1 0 1 0 1 0 1 0 1 0 1 0 1 0 0 0 1 0 1 0 1 0 1-1M264 25l1 1 1 0 1 0 1 0 1 0 1 0 1-1 1 1 1 0 1 0 1 0 1-1 1 1 1-1 1 0M308 26l1 0 1 0 1 0 1 0 1 0 1-1 1 0 2 1 1 1 1-1 1 0 1 0 1 0 1 0 1 0M353 26l1 0 1 0 1 0 1 0 1-1 1 1 1 0 1 0 1 0 1 0 1 0 1 0 1 0 1 0 1 0 1 0M397 26l1 0 1 0 1-1 1 1 1 0 1-1 1 1 1 0 1 0 1 0 1 0 1 0 1 0 1 0 1 0M439 25l1 0 1 1 1 0 1 0 1 0 1 0 1-1 1 0 1 1 1 0 1 0 1 0" stroke="#2ca02c"/><path d="M35 24l1 0 1 1 1-1 1 1 1 0 1-1 1 1 1 0 1 0 1 0 1 0 1-1 1 1 1 0 1-1 1 0M83 25l1-1 1 0 1 0 1 0 1 0 1 1 1-1 1 0 1 0 1 0 1 1 1-1 1 0 1 0 1 0 1 1M127 24l1 1 1 0 1-1 1 0 2 1 1 0 1-1 1 0 1 0 1 1 1 0 1-1 1 1 1-1 1 0 1 0 1 0M172 25l1-1 1 1 1-1 1 0 1 0 1 0 1 1 1-1 1 0 1 0 1 1 1 0 2-1 1 1 1 0 1-1 1 0M218 24l1 1 1-1 1 0 1 1 1-1 1 1 1-1 1 1 1 0 1-1 1 1 1 0 1-1 1 0 0 0 1 1 1-1 1 0 1 0M264 24l1 1 1-1 1 0 1 0 1 0 1 0 1 0 1 0 1 0 1 1 1-1 1 0 1 0 1 0 1 1M308 24l1 1 1 0 1 0 1-1 1 0 1 0 1 0 2 0 1 0 1 0 1 1 1-1 1 0 1 1 1-1M353 24l1 0 1 1 1-1 1 0 1 0 1 0 1 1 1 0 1 0 1-1 1 0 1 1 1-1 1 1 1 0 1-1M397 24l1 0 1 0 1 1 1-1 1 0 1 0 1 1 1-1 1 1 1-1 1 0 1 1 1 0 1-1 1 0M439 25l1-1 1 0 1 0 1 1 1-1 1 0 1 0 1 0 1 0 1 0 1 0 1 0" stroke="#bcbd22"/><path d="M35 20l1 1 1 0 1-1 1 0 1 0 1 1 1-1 1 1 1-1 1 0 1 1 1 0 1-1 1 0 1 1 1 0M83 21l1-1 1 0 1 0 1 1 1-1 1 0 1 1 1 0 1 0 1-1 1 1 1-1 1 0 1 1 1 0 1-1M127 21l1-1 1 0 1 0 1 0 2 1 1 0 1 0 1 0 1-1 1 1 1-1 1 0 1 1 1 0 1 0 1-1 1 0M172 20l1 1 1 0 1 0 1-1 1 0 1 1 1-1 1 0 1 0 1 1 1-1 1 0 2 1 1-1 1 1 1 0 1 0M218 21l1-1 1 1 1-1 1 0 1 0 1 1 1-1 1 0 1 1 1-1 1 1 1-1 1 0 1 0 0 1 1 0 1 0 1 0 1-1M264 21l1 0 1 0 1 0 1 0 1-1 1 0 1 0 1 1 1-1 1 1 1-1 1 1 1 0 1-1 1 0M308 21l1 0 1 0 1-1 1 1 1 0 1-1 1 1 2-1 1 1 1 0 1 0 1 0 1 0 1 0 1-1M353 21l1-1 1 0 1 1 1 0 1-1 1 1 1-1 1 1 1-1 1 1 1 0 1 0 1-1 1 0 1 1 1 0M397 21l1-1 1 0 1 1 1-1 1 1 1-1 1 1 1 0 1-1 1 1 1 0 1 0 1-1 1 0 1 0M439 20l1 0 1 1 1 0 1-1 1 1 1 0 1-1 1 0 1 0 1 1 1 0 1 0" stroke="#1f77b4"/><path d="M35 20l1 0 1 0 1 0 1 0 1 0 1 0 1 0 1 0 1 0 1 0 1 0 1 0 1 0 1 0 1 0 1 0M83 20l1 0 1 0 1 0 1 0 1 0 1 0 1 0 1 0 1 0 1 0 1 0 1 0 1 0 1 0 1 0 1 0M127 20l1 0 1 0 1 0 1 0 2 0 1 0 1 0 1-1 1 0 1 1 1 0 1 0 1 0 1-1 1 1 1 0 1 0M172 20l1 0 1 0 1 0 1 0 1 0 1 0 1-1 1 2 1-2 1 1 1 0 1 0 2 0 1-1 1 1 1 0 1 0M218 20l1 0 1 0 1 0 1 0 1-1 1 1 1 0 1 0 1 0 1 0 1 0 1 0 1 0 1 0 0 1 1-1 1 0 1-1 1 1M264 20l1 0 1 0 1 0 1-1 1 1 1 0 1 0 1 0 1 0 1 0 1-1 1 2 1-1 1 0 1 0M308 20l1 0 1 0 1 0 1 0 1 0 1 0 1 0 2-1 1 1 1 0 1 0 1 0 1 0 1 0 1 0M353 20l1 0 1-1 1 1 1 0 1 0 1-1 1 1 1 0 1 0 1 0 1 0 1 0 1-1 1 1 1-1 1 0M397 20l1 0 1 0 1 0 1 0 1 0 1 0 1 0 1 0 1 0 1 0 1 0 1 0 1-1 1 1 1 0M439 20l1 0 1 0 1 0 1 0 1 0 1 0 1 0 1-1 1 1 1 0 1 0 1 0" stroke="#9467bd"/><path d="M35 17l1 0 1 0 1 0 1 0 1 0 1 0 1 0 1 0 1 0 1 0 1 0 1 0 1 0 1 0 1 0 1 0M83 17l1 0 1 0 1-1 1 1 1 0 1 0 1 0 1 0 1 0 1-1 1 1 1 0 1 0 1 0 1 0 1 0M127 17l1 0 1 0 1 0 1 0 2 0 1 0 1 0 1 0 1 0 1 0 1 0 1 0 1 0 1 0 1 0 1 0 1 0M172 17l1 0 1 0 1 0 1 0 1 0 1 0 1-1 1 1 1 0 1 0 1 0 1 0 2 0 1 0 1 1 1-1 1 0M218 17l1 0 1 0 1 0 1 0 1 0 1 0 1 0 1 0 1 0 1 0 1 0 1 0 1 0 1 0 0 0 1-1 1 1 1 0 1 0M264 17l1 0 1 0 1-1 1 0 1 1 1 0 1 0 1 0 1 0 1 0 1 0 1 0 1 0 1 0 1 0M308 17l1 0 1 0 1 0 1 0 1 0 1 0 1 0 2 0 1 0 1 0 1 0 1 0 1 0 1-1 1 1M353 17l1 0 1 0 1 0 1 0 1-1 1 1 1 0 1 0 1 0 1 0 1 0 1 0 1 0 1 0 1 0 1 0M397 17l1 0 1 0 1 0 1 0 1-1 1 1 1 0 1 0 1 0 1 0 1 0 1-1 1 1 1 0 1 0M439 18l1 0 1-1 1 0 1 0 1 0 1 0 1 0 1 1 1-1 1 0 1 0 1 0" stroke="#bcbd22"/><path d="M35 16l1 1 1-1 1 0 1 0 1 0 1 0 1 0 1 0 1 0 1 1 1-1 1 0 1 0 1 0 1 1 1-1M83 16l1 0 1 0 1 0 1 0 1 0 1 0 1 0 1 0 1 0 1 1 1-1 1 0 1 0 1 0 1 0 1 0M127 17l1-1 1 0 1 0 1 0 2 0 1 0 1 0 1 0 1 0 1 0 1 1 1-1 1 0 1 0 1 0 1 1 1-1M172 16l1 0 1 0 1 0 1 0 1 1 1-1 1 0 1 0 1-1 1 1 1 0 1 0 2 0 1 0 1 0 1 0 1 0M218 16l1 1 1-1 1 1 1-1 1 0 1 0 1 0 1 0 1 0 1 0 1 0 1 0 1 0 1 1 0 0 1-1 1 0 1 0 1 0M264 16l1 0 1 0 1 0 1 0 1 0 1 0 1 0 1 0 1 0 1 0 1 0 1 1 1-1 1 0 1-1M308 16l1 0 1 0 1 0 1 0 1 0 1-1 1 1 2 0 1 0 1 0 1 0 1 0 1 0 1 0 1 0M353 16l1 0 1 0 1 0 1 0 1 0 1 0 1 0 1 0 1 0 1 0 1 0 1 0 1 0 1 0 1 0 1 0M397 16l1 0 1 0 1 0 1 0 1 0 1 0 1 0 1 0 1-1 1 1 1 0 1 0 1 1 1-1 1 0M439 16l1 1 1-1 1 0 1 0 1 0 1 0 1 1 1-1 1 0 1 0 1 0 1 0" stroke="#2ca02c"/><path d="M35 14l1 0 1-1 1 1 1 0 1-1 1 1 1-1 1 1 1 0 1 0 1 0 1-1 1 1 1 0 1 0 1 0M83 14l1-1 1 1 1 0 1 0 1 0 1 0 1 0 1 0 1 0 1 0 1-1 1 0 1 0 1 1 1 0 1 0M127 14l1 0 1-1 1 1 1 0 2-1 1 1 1 0 1 0 1 0 1 0 1 0 1 0 1 0 1-1 1 1 1 0 1-1M172 14l1-1 1 1 1 0 1 0 1 0 1 0 1 0 1 0 1 0 1 0 1 0 1-1 2 1 1 0 1 0 1 0 1 1M218 14l1-1 1 1 1 0 1 0 1 0 1 0 1 0 1 0 1 0 1 0 1 0 1 0 1 0 1-1 0 1 1 0 1 0 1 0 1 0M264 14l1 0 1-1 1 1 1 0 1 0 1 0 1 0 1 0 1 0 1 0 1 0 1-1 1 1 1 0 1 0M308 14l1 0 1 0 1 0 1 0 1-1 1 1 1-1 2 1 1 0 1-1 1 1 1-1 1 1 1 0 1-1M353 14l1 0 1-1 1 1 1 0 1-1 1 1 1 0 1-1 1 1 1 0 1-1 1 1 1 0 1 0 1 0 1 0M397 14l1 0 1-1 1 1 1 0 1 0 1-1 1 0 1 0 1 0 1 1 1 0 1-1 1 1 1-1 1 1M439 14l1 0 1 0 1 0 1 0 1 0 1 0 1-1 1 0 1 1 1 0 1-1 1 1" stroke="#bcbd22"/><path d="M35 13l1 0 1 0 1 0 1 0 1 0 1 0 1-1 1 1 1 0 1 1 1-1 1 0 1 0 1 0 1 0 1 1M83 13l1 1 1-1 1 0 1 0 1 1 1-1 1 0 1 0 1 0 1 0 1 0 1 0 1 0 1 0 1 1 1 0M127 13l1 1 1-1 1 0 1 0 2 0 1 1 1-1 1 1 1-1 1 0 1 1 1 0 1-1 1 0 1 0 1 1 1-1M172 13l1 0 1 0 1 0 1 0 1 0 1 0 1 0 1 0 1 0 1 0 1 0 1 0 2 0 1 1 1-1 1 0 1 0M218 13l1 0 1 0 1 0 1 0 1 0 1 0 1 0 1 0 1 0 1 1 1-1 1 1 1-1 1 0 0 1 1-1 1 0 1 0 1 0M264 13l1 1 1 0 1-1 1 1 1-1 1 1 1-1 1 0 1 1 1-1 1 0 1 0 1 0 1 0 1 0M308 14l1 0 1-1 1 0 1 0 1 1 1-1 1 0 2 0 1 0 1 1 1 0 1-1 1 0 1 0 1 1M353 14l1-1 1 0 1 0 1 0 1 0 1 1 1-1 1 0 1 1 1-1 1 0 1 0 1 1 1-1 1 1 1-1M397 13l1 0 1 0 1 0 1 0 1 0 1 1 1-1 1 1 1-1 1 0 1 0 1 1 1-1 1 1 1-1M439 13l1 1 1-1 1 0 1 0 1 0 1 1 1 0 1-1 1 1 1-1 1 1 1-1" stroke="#2ca02c"/><path d="M35 11l1-1 1 1 1 0 1 0 1 0 1 0 1 0 1 0 1 0 1 0 1-1 1 1 1 0 1 0 1-1 1 1M83 11l1-1 1 0 1 1 1-1 1 1 1 0 1 0 1 0 1-1 1 1 1 0 1 0 1 0 1-1 1 0 1 1M127 10l1 0 1 1 1 0 1 0 2 0 1 0 1 0 1-1 1 0 1 0 1 0 1 0 1 0 1 0 1 1 1 0 1-1M172 10l1 1 1 0 1 0 1 0 1 0 1-1 1 0 1 1 1 0 1 0 1-1 1 0 2 0 1 1 1-1 1 1 1 0M218 10l1 1 1 0 1-1 1 1 1 0 1-1 1 0 1 0 1 1 1-1 1 0 1 1 1-1 1 1 0 0 1-1 1 0 1 0 1 0M264 11l1-1 1 0 1 0 1 1 1-1 1 1 1 0 1-1 1 1 1-1 1 0 1 1 1 0 1 0 1 0M308 10l1 0 1 0 1 1 1 0 1 0 1-1 1 1 2 0 1 0 1 0 1 0 1-1 1 1 1 0 1 0M353 11l1 0 1-1 1 1 1-1 1 0 1 1 1 0 1 0 1 0 1 0 1-1 1 0 1 2 1-1 1 0 1 0M397 11l1 0 1 0 1-1 1 0 1 0 1 1 1 0 1 0 1-1 1 0 1 0 1 0 1 0 1 1 1-1M439 11l1 0 1-1 1 0 1 0 1 0 1 1 1-1 1 0 1 0 1 0 1 0 1 1" stroke="#bcbd22"/><path d="M35 39l1 0 1 0 1 0 1 0 1 0 1 0 1 0 1 0 1 0 1 0 1 0 1 0 1 1 1 0 1-1 1 0M83 39l1 0 1 1 1-1 1 0 1 0 1 1 1 0 1 0 1 0 1-1 1 0 1 1 1-1 1 0 1 0 1 0M127 39l1 0 1 0 1 0 1 1 2-1 1 0 1 0 1 0 1 1 1-1 1 1 1 0 1-1 1 0 1 1 1 0 1-1M172 39l1 0 1 1 1-1 1 0 1 0 1 1 1-1 1 0 1 0 1 0 1 0 1 1 2-1 1 0 1 0 1 1 1-1M218 40l1 0 1-1 1 1 1 0 1-1 1 1 1 0 1-1 1 0 1 1 1-1 1 0 1 1 1-1 0 1 1 0 1-1 1 0 1 0M264 40l1 0 1-1 1 1 1 0 1 0 1-1 1 1 1-1 1 1 1-1 1 1 1 0 1-1 1 0 1 0M308 39l1 1 1-1 1 0 1 1 1-1 1 0 1 0 2 1 1 0 1-1 1 0 1 1 1-1 1 1 1 0M353 39l1 0 1 0 1 1 1 0 1 0 1-1 1 1 1 0 1-1 1 1 1-1 1 0 1 1 1-1 1 0 1 0M397 39l1 0 1 0 1 0 1 0 1 0 1 0 1 1 1 0 1-1 1 1 1-1 1 0 1 0 1 0 1 0M439 39l1 0 1 0 1 0 1 0 1 0 1 0 1 0 1 0 1 1 1-1 1 0 1 1" stroke="#7f7f7f"/><path d="M35 45l1 0 1 0 1 0 1 0 1 0 1 0 1 0 1 0 1 0 1 0 1 0 1 0 1 0 1 0 1 0 1 0M83 45l1 0 1 0 1 1 1-1 1-1 1 1 1 0 1 0 1 0 1 0 1 0 1 0 1 0 1 0 1 0 1 1M127 45l1 0 1 0 1 0 1 0 2 0 1 1 1-1 1 1 1-1 1 0 1 0 1 0 1 0 1 0 1 1 1-1 1 0M172 45l1 0 1 0 1 0 1 0 1 0 1 0 1 0 1 0 1 0 1 0 1 0 1 0 2 0 1 0 1 0 1 0 1 0M218 45l1 0 1 1 1-1 1 0 1 0 1 0 1 1 1-1 1 0 1 0 1 0 1 0 1 0 1 0 0 0 1 0 1 0 1 0 1 0M264 45l1 0 1 0 1 0 1 1 1-1 1 0 1 0 1 0 1 0 1 0 1 0 1 0 1 0 1 0 1 0M308 45l1 0 1 0 1 0 1 0 1 0 1 0 1 0 2 0 1 0 1 0 1 0 1 0 1 1 1-1 1 0M353 45l1 0 1 0 1 0 1 0 1 0 1 0 1 0 1 0 1 0 1 0 1 0 1 0 1 0 1 0 1 0 1 0M397 45l1 0 1 0 1 0 1 0 1 0 1 0 1 0 1 0 1 0 1 0 1 0 1-1 1 1 1 0 1 0M439 45l1 0 1 0 1 0 1 0 1 0 1 0 1 1 1-2 1 1 1 0 1 0 1 0" stroke="#e377c2"/><path d="M35 69l1 0 1-1 1 0 1 0 1 1 1-1 1 0 1 1 1-1 1 1 1 0 1 0 1 0 1-1 1 0 1 1M83 68l1 0 1 1 1 0 1-1 1 1 1-1 1 1 1-1 1 0 1 1 1-1 1 1 1-1 1 1 1-1 1 1M127 68l1 0 1 1 1-1 1 0 2 1 1-1 1 1 1 0 1 0 1-1 1 0 1 0 1 0 1 1 1-1 1 0 1 1M172 68l1 0 1 1 1-1 1 0 1 1 1-1 1 0 1 1 1 0 1 0 1-1 1 0 2 1 1-1 1 0 1 1 1-1M218 69l1 0 1-1 1 0 1 0 1 1 1 0 1 0 1-1 1 1 1-1 1 0 1 0 1 1 1 0 0 0 1 0 1-1 1 1 1-1M264 69l1 0 1-1 1 0 1 1 1-1 1 0 1 1 1-1 1 0 1 1 1 0 1 0 1-1 1 0 1 1M308 69l1-1 1 1 1 0 1 0 1-1 1 0 1 1 2 0 1 0 1 0 1-1 1 1 1-1 1 0 1 1M353 68l1 0 1 0 1 1 1 0 1 0 1 0 1 0 1 0 1 0 1 0 1-1 1 0 1 0 1 0 1 0 1 0M397 68l1 0 1 0 1 1 1-1 1 0 1 0 1 0 1 1 1-1 1 0 1 0 1 1 1-1 1 0 1 0M439 69l1-1 1 0 1 1 1 0 1-1 1 1 1 0 1-1 1 1 1 0 1-1 1 0" stroke="#17becf"/></g>
<g transform="translate(397.80 245.20) scale(0.5000 -0.59800)" fill="none" stroke-width="0.70" stroke-opacity="1.00"><path d="M9 49l1-6 1-3 1-1 1 5 1 2 1 7 1 4 1 0 1-4 1-10 1-28 1 3 1 15 1 7 1 13 1 6 1 8 1-8 1-7 1-5 1-8 1-2 1 4 1 7 1 6 1 1 1-4" stroke="#ff7f0e"/><path d="M50 18l1 5 1-1 1 3 1 4 1 8 1 5 1 4 1 0 1-7 1-10 1-8 1-3 1 4 1 9 1 9 1 8 1-5 1-3 1-9 1-7 1-3 1-1 1-4" stroke="#2ca02c"/><path d="M9 14l1 25 1 22 1 12 1 2 1-2 1-8 1-1 1-2 1 2 1 6 1 6 1 3 1-16 1-6 1-1 1 9 1 8 1 1 1-9 1-6 1-5 1 7 1 3 1 4 1-3 1-27 1-25" stroke="#bcbd22"/><path d="M9 59l1 3 1 3 1 5 1 2 1-5 1-2 1-9 1-2 1-2 1 4 1 14 1 14 1 1 1-2 1-6 1-10 1-7 1-1 1 1 1 7 1 4 1 4 1 3 1-4 1-4 1-5 1-5M50 23l1 28 1 17 1-8 1-8 1 1 1 6 1 16 1 18 1-16 1-22 1-9 1 0 1 12 1 19 1 17 1-15 1-16 1-8 1-4 1 7 1 10 1-16 1-33" stroke="#1f77b4"/><path d="M50 53l1 10 1 13 1-1 1-8 1-4 1-5 1 6 1 3 1 5 1 3 1-7 1-9 1-4 1 6 1 6 1 5 1-1 1-5 1-8 1-8 1 2 1 7 1-7" stroke="#d62728"/><path d="M9 29l1 20 1 15 1-6 1-5 1 4 1 6 1 9 1-6 1-9 1-10 1-9 1 25 1 15 1-2 1-17 1-25 1 1 1 26 1 11 1 0 1-9 1-9 1-2 1 6 1 3 1-13 1-20M50 33l1 27 1 18 1-7 1-2 1-10 1-3 1 0 1 9 1 11 1 8 1 1 1-4 1-6 1-8 1-3 1-7 1 5 1 3 1 7 1 6 1-3 1-18 1-24" stroke="#9467bd"/><path d="M9 52l1-9 1-14 1-8 1-4 1 5 1 9 1 1 1-3 1-9 1-1 1-1 1 14 1 2 1-6 1-12 1-10 1 11 1 12 1 4 1 0 1-15 1-4 1 3 1 7 1 7 1 8 1 14" stroke="#d62728"/><path d="M9 47l1-8 1-4 1 7 1-1 1-1 1-8 1-6 1-1 1 7 1 13 1 26 1-21 1-19 1-6 1 2 1 4 1 9 1-1 1-3 1-4 1-5 1-5 1 7 1 9 1 3 1 1 1 3" stroke="#8c564b"/><path d="M50 76l1-8 1 1 1 5 1 2 1 4 1-3 1-10 1-12 1 7 1 5 1 11 1 9 1 0 1-7 1-12 1-8 1 6 1-1 1 11 1 5 1 3 1-7 1-6" stroke="#ff7f0e"/><path d="M9 37l1 11 1 5 1-10 1-3 1-6 1 11 1 6 1 9 1 6 1 1 1 2 1-18 1-5 1-5 1 0 1 10 1 5 1 7 1 2 1-3 1-5 1-10 1-6 1-2 1 2 1 3 1-10" stroke="#e377c2"/><path d="M50 41l1 9 1 5 1 5 1 7 1 4 1-2 1-9 1-9 1-4 1-1 1 7 1 1 1 4 1 0 1 9 1-7 1-6 1-6 1 2 1-2 1 4 1-3 1-12" stroke="#7f7f7f"/><path d="M50 56l1-21 1-9 1 3 1 2 1-2 1-8 1-14 1-7 1 8 1 9 1 16 1 10 1-2 1-5 1-13 1-11 1-1 1 1 1 10 1 12 1 1 1 8 1 12" stroke="#17becf"/><path d="M50 12l1 25 1 12 1 1 1 3 1 9 1 3 1 1 1-4 1-9 1-6 1 0 1 1 1 5 1 4 1 8 1-9 1-6 1-2 1-5 1 4 1 2 1-14 1-23" stroke="#bcbd22"/><path d="M9 44l1 19 1 16 1 5 1-9 1-9 1-9 1-1 1 6 1 13 1 6 1 17 1-13 1-11 1-11 1-3 1-6 1 11 1 14 1 9 1 2 1-7 1-9 1-5 1 0 1-2 1-6 1-18" stroke="#7f7f7f"/><path d="M50 47l1 20 1 15 1-9 1-7 1-10 1-5 1 2 1 3 1 16 1 9 1-3 1 0 1-3 1-10 1-11 1 5 1-1 1 6 1 7 1 3 1-1 1-8 1-16" stroke="#8c564b"/><path d="M9 20l1 8 1 18 1 1 1-4 1-10 1-3 1 0 1 5 1 22 1 6 1-8 1-27 1-9 1 4 1 12 1 18 1 17 1-25 1-17 1-7 1-1 1 12 1 8 1 5 1-5 1-16 1-3M50 60l1-27 1-15 1 2 1 9 1 6 1-7 1-12 1-15 1 4 1 4 1 15 1 5 1 2 1-9 1-9 1-4 1 0 1 9 1 2 1-2 1 2 1 12 1 26" stroke="#1f77b4"/><path d="M9 75l1-12 1-13 1 0 1 8 1 4 1 0 1-4 1-8 1-8 1 7 1 7 1 13 1 2 1-10 1-6 1-6 1 2 1 4 1 10 1 5 1-3 1-10 1-8 1 0 1 5 1 11 1 8" stroke="#17becf"/><path d="M9 16l1 25 1 12 1-2 1-3 1 10 1 4 1 7 1 4 1-5 1-6 1-20 1-7 1 12 1 8 1 7 1 11 1-4 1-6 1-6 1-6 1-3 1 1 1 5 1 7 1-4 1-16 1-23" stroke="#2ca02c"/><path d="M50 37l1 8 1 4 1 2 1-7 1-2 1-5 1 2 1 4 1 10 1 7 1-7 1-8 1-7 1-9 1 2 1 9 1 7 1 2 1-5 1-4 1-1 1-1 1 0" stroke="#e377c2"/><path d="M9 20l1 3 1 5 1 1 1-2 1-1 1-9 1 0 1 3 1 7 1 3 1 0 1-1 1-6 1-2 1-1 1 3 1 7 1 2 1-4 1 0 1-8 1-4 1 8 1-1 1 4 1-5 1-1M50 30l1-11 1-5 1 2 1 5 1 11 1 5 1 5 1-5 1-17 1-6 1 1 1-3 1 4 1 9 1 10 1 3 1-1 1-8 1-11 1-5 1 2 1 7 1 8" stroke="#9467bd"/><path d="M50 53l1-18 1-5 1 5 1 6 1-4 1-9 1-5 1-7 1 3 1 6 1 8 1 9 1 1 1-2 1-6 1-9 1-4 1 3 1 0 1 3 1 3 1 9 1 11" stroke="#d62728"/><path d="M9 11l1 37 1 26 1-2 1 1 1 7 1 7 1 7 1-9 1-14 1-2 1-18 1 18 1 10 1 10 1 0 1-6 1-13 1-10 1 2 1 6 1 7 1 5 1-1 1-8 1-6 1-21 1-33" stroke="#bcbd22"/><path d="M50 28l1 12 1 8 1-9 1-7 1-3 1-4 1 5 1 12 1 15 1 0 1-8 1-14 1-4 1-5 1 0 1 11 1 6 1 2 1-4 1-6 1-3 1-3 1-1" stroke="#2ca02c"/><path d="M9 63l1-11 1-17 1-7 1 4 1 4 1 13 1 4 1-7 1-9 1-5 1-4 1 7 1 7 1 13 1-2 1-6 1-20 1-3 1 4 1 5 1 9 1 3 1-3 1-7 1-2 1 11 1 20" stroke="#ff7f0e"/><path d="M50 44l1 5 1-5 1-1 1 1 1 8 1 8 1 2 1-7 1-16 1-12 1 10 1 12 1 14 1 1 1-10 1-20 1-2 1 5 1 13 1 9 1-3 1-10 1-5" stroke="#7f7f7f"/><path d="M50 51l1 1 1-3 1 13 1 11 1 0 1-11 1-12 1-7 1 11 1 29 1-5 1-14 1-25 1-3 1 11 1 21 1 9 1-13 1-20 1-4 1 9 1 7 1-6" stroke="#ff7f0e"/><path d="M9 74l1-29 1-17 1-1 1 6 1 2 1 8 1-1 1-6 1-11 1-4 1 1 1 4 1 6 1 9 1-1 1-2 1-11 1-6 1-4 1 1 1 10 1 7 1 1 1 0 1-1 1 12 1 24" stroke="#d62728"/><path d="M9 46l1 2 1 3 1-2 1 4 1 6 1 10 1 5 1-4 1-7 1-11 1-17 1 8 1 10 1 6 1 13 1 17 1-15 1-10 1-9 1 1 1-3 1 4 1 5 1 10 1 2 1-16 1-12" stroke="#e377c2"/><path d="M9 55l1-4 1 3 1-3 1-6 1-5 1-11 1-5 1 8 1 12 1 13 1 7 1 8 1-17 1-11 1-10 1-5 1-2 1 11 1 13 1 4 1 2 1-3 1-7 1-12 1 2 1 8 1 9M50 75l1-28 1-16 1 5 1 5 1 4 1-2 1-9 1-9 1-8 1-5 1 8 1 9 1 11 1 3 1 1 1-3 1-10 1-5 1 0 1 1 1 0 1 18 1 31" stroke="#17becf"/><path d="M9 14l1 19 1 8 1-1 1 4 1 2 1 15 1 5 1 3 1-4 1-13 1-6 1-3 1 3 1 5 1 10 1 17 1 6 1-15 1-12 1-8 1-6 1 0 1 9 1 8 1 0 1-21 1-26M50 22l1 9 1 5 1 7 1 3 1-3 1-2 1-13 1-2 1 3 1 21 1 1 1 1 1-11 1-5 1-8 1 5 1 5 1 9 1-1 1-8 1-6 1-4 1-5" stroke="#2ca02c"/><path d="M9 31l1 5 1-6 1-16 1-3 1 13 1 17 1 2 1-5 1-21 1-7 1 6 1 33 1 6 1-14 1-20 1-15 1 14 1 13 1 7 1-3 1-15 1-10 1 3 1 12 1 8 1 0 1-5" stroke="#9467bd"/><path d="M50 69l1-14 1-8 1 2 1-11 1-7 1-8 1 10 1 14 1 9 1 1 1-11 1-10 1-4 1 2 1 3 1 16 1 10 1-10 1-11 1-4 1-6 1 16 1 21" stroke="#d62728"/><path d="M9 47l1-5 1-7 1 6 1 8 1 7 1-2 1-14 1-14 1-4 1 14 1 25 1 8 1-15 1-16 1-13 1-7 1 24 1 12 1 5 1-11 1-10 1-8 1 1 1 7 1 14 1 0 1-9" stroke="#ff7f0e"/><path d="M50 30l1 17 1 12 1 5 1 4 1-2 1-2 1-5 1-12 1-1 1 4 1 6 1 9 1 12 1 6 1 5 1-15 1-15 1-6 1-4 1 3 1 9 1-8 1-22" stroke="#e377c2"/><path d="M50 25l1 16 1 10 1-5 1-8 1-2 1 4 1 7 1 11 1 2 1-7 1-10 1-11 1-2 1 8 1 18 1 7 1 1 1-11 1-13 1-6 1-1 1 4 1-10" stroke="#bcbd22"/><path d="M9 41l1 10 1 10 1 4 1-1 1 5 1 1 1-1 1-5 1-6 1-1 1 9 1 11 1-11 1-4 1-8 1 1 1 8 1 6 1-2 1-4 1-11 1 1 1 6 1 5 1-1 1-11 1-10" stroke="#7f7f7f"/><path d="M50 48l1 3 1 7 1 2 1 6 1 0 1-6 1-5 1-5 1 0 1 3 1 4 1 12 1 4 1 0 1 3 1-15 1-8 1-1 1 2 1 0 1 7 1-3 1-7" stroke="#ff7f0e"/><path d="M9 16l1 27 1 17 1-4 1 8 1 10 1 4 1-2 1-5 1-7 1-2 1-3 1 8 1 12 1 7 1-1 1-8 1-15 1-5 1 4 1 9 1 10 1 4 1-5 1-4 1-14 1-19 1-25" stroke="#bcbd22"/><path d="M9 38l1-3 1 1 1 4 1 11 1 4 1-5 1-14 1-11 1-1 1 10 1 14 1 20 1-12 1-7 1-19 1-17 1 10 1 20 1 7 1 3 1-4 1-10 1-4 1 1 1 5 1 5 1-6" stroke="#e377c2"/><path d="M9 53l1 16 1 1 1-4 1-10 1-2 1 6 1 11 1 6 1 0 1-5 1-14 1-18 1 6 1 16 1 14 1 13 1-1 1-15 1-14 1-9 1 4 1 9 1 14 1 9 1-8 1-14 1-9" stroke="#d62728"/><path d="M50 20l1 9 1-4 1-5 1 1 1 11 1 16 1 6 1 1 1-11 1-11 1-10 1 0 1 5 1 10 1 22 1 3 1-8 1-9 1-14 1-10 1 4 1 1 1-7" stroke="#9467bd"/><path d="M50 70l1-27 1-20 1 4 1 2 1-1 1-4 1-7 1-5 1 2 1 2 1 3 1 2 1 5 1 1 1 1 1-5 1-6 1-9 1 2 1 0 1 8 1 20 1 35" stroke="#17becf"/><path d="M9 26l1 1 1-2 1-9 1-1 1 10 1 19 1 6 1-5 1-18 1-14 1-9 1 15 1 21 1 13 1-8 1-18 1-18 1-5 1 16 1 17 1 7 1-1 1-11 1-14 1-2 1 6 1 3M50 13l1 21 1 12 1 2 1 11 1-1 1-4 1-9 1-3 1 4 1 10 1 5 1-5 1-7 1-8 1-10 1 25 1 4 1 1 1-7 1-6 1 2 1-10 1-27" stroke="#2ca02c"/><path d="M9 67l1-16 1-8 1 4 1 5 1 5 1 4 1-6 1-7 1-6 1-8 1 1 1 5 1 15 1 6 1 2 1 3 1-11 1-14 1 0 1 3 1 4 1 9 1 2 1 0 1 3 1 0 1 7" stroke="#ff7f0e"/><path d="M9 67l1 6 1 7 1-4 1-8 1-9 1 2 1 11 1 7 1-4 1-11 1-14 1 7 1 14 1 13 1 2 1-23 1-11 1 3 1 12 1 9 1 0 1-7 1-11 1 1 1 7 1 6 1-2" stroke="#17becf"/><path d="M9 24l1-2 1-3 1 5 1 0 1-2 1-5 1 0 1-6 1-5 1 8 1 7 1 8 1-2 1 3 1-4 1-4 1-13 1-1 1 4 1 6 1 7 1 5 1-3 1 3 1-6 1-2 1 2M50 13l1 19 1 24 1 13 1-1 1-9 1-17 1-15 1-4 1 22 1 13 1 4 1-2 1-9 1-10 1-13 1 5 1 16 1 16 1 2 1-7 1-15 1-16 1-14" stroke="#bcbd22"/><path d="M50 71l1-28 1-8 1 7 1 0 1-10 1-14 1-7 1-3 1 22 1 18 1-6 1-9 1-13 1-6 1-4 1 16 1 12 1 3 1-4 1-17 1-4 1 20 1 33" stroke="#d62728"/><path d="M50 44l1-2 1 9 1 4 1-10 1-17 1-2 1 8 1 15 1 8 1 1 1-17 1-15 1-1 1 14 1 29 1-2 1-14 1-14 1-7 1 4 1 15 1 1 1-4" stroke="#e377c2"/><path d="M9 28l1 18 1 3 1-10 1-4 1 0 1 11 1 14 1 10 1 0 1-7 1-21 1-23 1 1 1 7 1 11 1 18 1 14 1-3 1-12 1-11 1-11 1-6 1 4 1 9 1 7 1-3 1-15" stroke="#2ca02c"/><path d="M50 17l1 15 1 3 1-6 1-3 1-1 1 2 1 2 1 16 1 6 1-9 1-3 1-10 1-6 1-2 1-3 1 11 1 7 1 1 1 2 1-5 1-3 1-8 1-6" stroke="#bcbd22"/><path d="M9 67l1-6 1-6 1-5 1-9 1-4 1 3 1 8 1 10 1 2 1-6 1-16 1-13 1 2 1 18 1 15 1 15 1-11 1-15 1-10 1 1 1 6 1 9 1 6 1 0 1-8 1 1 1 14" stroke="#d62728"/><path d="M50 62l1-26 1-21 1 3 1 6 1 10 1 2 1-2 1-10 1-11 1-12 1 15 1 14 1 2 1 0 1 2 1-10 1-10 1-5 1 4 1 14 1 4 1 14 1 17" stroke="#ff7f0e"/><path d="M9 59l1-15 1-19 1 13 1 7 1 1 1-1 1-15 1-7 1 8 1 16 1 18 1-9 1-16 1-20 1 2 1 13 1 28 1-3 1-15 1-10 1-6 1 6 1 10 1 10 1-4 1-1 1 13M50 58l1 12 1 9 1-3 1-6 1-4 1-3 1 8 1 7 1 7 1 13 1-14 1-6 1-9 1-7 1-9 1 14 1 11 1 2 1 0 1-1 1-2 1-8 1-7" stroke="#17becf"/><path d="M9 71l1-20 1-22 1-6 1 8 1 8 1 9 1-6 1-10 1-9 1-7 1-3 1 26 1 5 1 4 1-11 1-12 1-24 1 17 1 13 1 7 1 0 1 0 1-5 1-6 1 3 1 22 1 20M50 68l1-3 1-1 1 3 1 11 1 1 1-5 1-10 1-15 1 11 1 17 1 5 1-3 1-8 1-7 1-11 1 17 1 12 1 0 1-7 1-6 1 0 1 2 1-5" stroke="#ff7f0e"/><path d="M9 76l1-24 1-27 1-8 1-4 1-6 1 5 1 0 1 11 1 5 1 3 1 4 1-11 1-11 1-10 1-3 1 0 1 12 1 13 1 14 1-1 1-4 1-10 1-8 1-1 1 3 1 24 1 34M9 65l1-23 1-15 1-7 1-7 1-6 1 2 1 11 1 8 1 1 1-7 1-10 1-10 1 8 1 13 1 8 1 3 1-6 1-14 1-8 1 5 1 10 1 16 1-1 1-5 1-6 1 15 1 23M50 65l1-3 1 2 1 1 1 5 1 6 1-6 1-9 1-17 1 8 1 11 1 9 1 2 1-2 1-4 1-7 1 1 1 3 1 4 1 10 1 1 1-7 1-9 1-4M50 77l1-7 1-1 1-8 1-13 1-11 1-6 1 5 1 11 1 20 1 16 1-6 1-9 1-12 1-10 1-14 1 9 1 10 1 13 1 12 1 0 1-7 1-2 1 9" stroke="#17becf"/></g><g transform="translate(397.80 245.20) scale(0.5000 -0.59800)" fill="none" stroke-width="0.95"><path d="M0 76l1 0 1 0 1 0 1 0 1 0 1 0 1 0 1 0 1 0M36 75l1 1 1 0 1-1 1 1 1 0 1 0 1 0 1 0 1 0 1 0 1-1 1 1 1 0 1 0M73 77l1-1 1 0 1 0 1 0 1 0 1 0 1 0 1-1 1 1" stroke="#17becf"/><path d="M0 76l1-1 1 0 1 0 1 1 1 0 1-1 1 0 1 0 1 1M36 75l1 0 1 0 1 1 1-1 1 0 1 1 1-1 1 0 1 1 1 0 1 0 1-1 1 1 1-1M73 75l1 1 1-1 1 0 1 0 1 0 1 1 1-1 1 1 1-1" stroke="#17becf"/><path d="M0 71l1 1 1 0 1 0 1 0 1-1 1 1 1 0 1 0 1-1M36 71l1 1 1 0 1 0 1-1 1 1 1 0 1 0 1 0 1-1 1 1 1 0 1 0 1 0 1 0M73 72l1 0 1 0 1-1 1 0 1 1 1 0 1 0 1 0 1 0" stroke="#ff7f0e"/><path d="M0 71l1 1 1 0 1-1 1 1 1-1 1 1 1-1 1 1 1 0M36 72l1-1 1 1 1-1 1 1 1-1 1 0 1 1 1 0 1-1 1 1 1 0 1 0 1 0 1 0M73 71l1 0 1 0 1 1 1 0 1 0 1 0 1 0 1 0 1 0" stroke="#d62728"/><path d="M0 67l1 0 1 0 1 0 1 0 1 0 1 1 1-1 1 0 1 0M36 67l1 0 1 0 1 0 1 0 1 0 1 1 1-1 1 0 1 0 1 0 1 0 1 1 1-1 1 1M73 68l1-1 1 0 1 0 1 0 1 0 1 1 1 0 1 0 1 0" stroke="#d62728"/><path d="M0 67l1-1 1 1 1 0 1 0 1 0 1 0 1 0 1 0 1 0M36 66l1 1 1 0 1-1 1 1 1-1 1 1 1 0 1 0 1 0 1 0 1 0 1 0 1 0 1 1M73 66l1 1 1 0 1-1 1 0 1 1 1 0 1-1 1 1 1-1" stroke="#ff7f0e"/><path d="M0 64l1-1 1 1 1 0 1 0 1 0 1 0 1-1 1 1 1-1M36 64l1 0 1 0 1 0 1 0 1 0 1 0 1 0 1 0 1-1 1 1 1 0 1 0 1 0 1 0M73 64l1 0 1 0 1 0 1 0 1 0 1 0 1 0 1 0 1 0" stroke="#ff7f0e"/><path d="M0 63l1 0 1 0 1 0 1 0 1 0 1 0 1 0 1 0 1 0M36 63l1 0 1 0 1-1 1 1 1 0 1 0 1 0 1 0 1-1 1 1 1 0 1 1 1 0 1 0M73 63l1 0 1 0 1 0 1 0 1 0 1 0 1 0 1 0 1 0" stroke="#17becf"/><path d="M0 60l1 1 1-1 1 0 1 0 1 0 1 0 1 1 1 0 1-1M36 60l1 0 1 0 1 0 1 0 1 0 1 0 1 0 1 0 1 0 1 0 1 1 1-1 1 1 1 0M73 60l1 0 1 1 1-1 1 0 1 1 1-1 1 0 1 0 1 0" stroke="#17becf"/><path d="M0 59l1-1 1 1 1 0 1 0 1 0 1 0 1 0 1-1 1 0M36 58l1 1 1-1 1 1 1 0 1 0 1 0 1-1 1 1 1 0 1 0 1 0 1 0 1 0 1 0M73 59l1 0 1 0 1-1 1 2 1-1 1 0 1 0 1 0 1 0" stroke="#1f77b4"/><path d="M0 55l1 0 1 1 1 0 1 0 1-1 1 1 1-1 1 0 1 1M36 55l1 1 1-1 1 0 1 0 1 0 1 1 1 0 1 0 1 0 1-1 1 0 1 0 1 1 1 0M73 55l1 1 1 0 1 0 1-1 1 0 1 1 1-1 1 0 1 1" stroke="#17becf"/><path d="M0 54l1 1 1-1 1 0 1 0 1 0 1 1 1 0 1 0 1 0M36 55l1-1 1 1 1-1 1 0 1 0 1 0 1 0 1 0 1 1 1 0 1 0 1-1 1 0 1 0M73 55l1 0 1 0 1 0 1-1 1 1 1-1 1 1 1 0 1 0" stroke="#d62728"/><path d="M0 51l1 1 1 0 1 0 1 0 1-1 1 1 1-1 1 0 1 1M36 51l1 1 1-1 1 0 1 1 1 0 1 0 1 0 1 0 1-1 1 1 1-1 1 1 1-1 1 0M73 52l1-1 1 0 1 0 1 0 1 0 1 1 1 0 1 0 1 0" stroke="#d62728"/><path d="M0 50l1 1 1 0 1 0 1 0 1 0 1 0 1 0 1-1 1 1M36 51l1 0 1 0 1 0 1 0 1-1 1 1 1 0 1 0 1 0 1 0 1 0 1 0 1 0 1 0M73 51l1 0 1-1 1 1 1 0 1 0 1 0 1 0 1 0 1 0" stroke="#ff7f0e"/><path d="M0 48l1 0 1 0 1 0 1-1 1 0 1 1 1-1 1 0 1 1M36 47l1 1 1 0 1-1 1 1 1 0 1 0 1 0 1-1 1 1 1-1 1 1 1 0 1-1 1 1M73 48l1 0 1 0 1-1 1 1 1-1 1 0 1 0 1 1 1-1" stroke="#ff7f0e"/><path d="M0 48l1 0 1 0 1-1 1 1 1-1 1 1 1 0 1 0 1-1M36 48l1-1 1 1 1 0 1 0 1 0 1 0 1 0 1 0 1 0 1 0 1-1 1 0 1 1 1-1M73 47l1 1 1 0 1-1 1 1 1 0 1 0 1 0 1 0 1 0" stroke="#8c564b"/><path d="M0 44l1-2 1 1 1-1 1 1 1 0 1 1 1-1 1-1 1 1M36 43l1 0 1 0 1 0 1 0 1 0 1 0 1 0 1 1 1-1 1 0 1-1 1 1 1 0 1 0M73 43l1 0 1 0 1-1 1 1 1 0 1 0 1 0 1 0 1 0" stroke="#7f7f7f"/><path d="M0 38l1 0 1-1 1 1 1 0 1 0 1 0 1-1 1 1 1 0M36 38l1 0 1-1 1 1 1 0 1 0 1-1 1 1 1 0 1 0 1 0 1 0 1 0 1 0 1 0M73 38l1-1 1 0 1 1 1 0 1 0 1 0 1 0 1 0 1 0" stroke="#e377c2"/><path d="M0 33l1 0 1 0 1 0 1 1 1-1 1 1 1 0 1 0 1-1M36 33l1 0 1 0 1 1 1-1 1 0 1 1 1-1 1 1 1 0 1-1 1 0 1 1 1-1 1 0M73 33l1 0 1 0 1 0 1 1 1 0 1-1 1 0 1 0 1 0" stroke="#e377c2"/><path d="M0 33l1 0 1 0 1 0 1 0 1 0 1 0 1-1 1 1 1 0M36 33l1 0 1 1 1-1 1 0 1 0 1 0 1 0 1 0 1 0 1 0 1 0 1 0 1 0 1 0M73 34l1 0 1-1 1 0 1 1 1-1 1 0 1 0 1 0 1 0" stroke="#9467bd"/><path d="M0 29l1 0 1 0 1-1 1 1 1 0 1 0 1 0 1 0 1 0M36 29l1 0 1 0 1 0 1 1 1 0 1-1 1 0 1 0 1 0 1 1 1-1 1 0 1 0 1 0M73 29l1 0 1 0 1 1 1-1 1 0 1 0 1 0 1 0 1 0" stroke="#9467bd"/><path d="M0 29l1 0 1-1 1 0 1 1 1 0 1 0 1-1 1 1 1 0M36 29l1 0 1 0 1 0 1 0 1 0 1-1 1 1 1 0 1 0 1 0 1 0 1-1 1 1 1-1M73 29l1 0 1 0 1-1 1 1 1-1 1 0 1 0 1 0 1 1" stroke="#2ca02c"/><path d="M0 25l1 0 1 0 1 0 1 0 1 0 1 0 1 0 1 0 1 0M36 25l1 0 1 0 1 0 1 0 1 0 1 0 1 0 1 0 1 0 1 0 1 0 1 0 1 0 1-1M73 25l1 0 1 0 1 0 1 0 1 0 1 0 1 0 1 0 1-1" stroke="#2ca02c"/><path d="M0 25l1 0 1 0 1-1 1 1 1-1 1 1 1 0 1-1 1 1M36 24l1 0 1 0 1 1 1 0 1 0 1 0 1-1 1 1 1-1 1 1 1 0 1-1 1 0 1 1M73 25l1 0 1-1 1 1 1-1 1 1 1-1 1 0 1 0 1 1" stroke="#bcbd22"/><path d="M0 21l1 0 1 0 1 0 1-1 1 1 1 0 1-1 1 1 1-1M36 20l1 1 1-1 1 0 1 0 1 1 1 0 1 0 1-1 1 0 1 0 1 0 1 0 1 1 1-1M73 20l1 0 1 0 1 1 1 0 1 0 1 0 1 0 1 0 1 0" stroke="#1f77b4"/><path d="M0 20l1 0 1 0 1 0 1 0 1 0 1 1 1 0 1-1 1 1M36 21l1-1 1 0 1 1 1-1 1 0 1 0 1 1 1 0 1-1 1 0 1 1 1-1 1 1 1-1M73 20l1 0 1 1 1-1 1 0 1 0 1 0 1 0 1 0 1 0" stroke="#9467bd"/><path d="M0 17l1 0 1-1 1 0 1 0 1 1 1 0 1 0 1 0 1 0M36 16l1 1 1-1 1 0 1 1 1 0 1-1 1 0 1 0 1 0 1 1 1 0 1-1 1 0 1 0M73 16l1 0 1 1 1 0 1 0 1 0 1 0 1 0 1 0 1 0" stroke="#bcbd22"/><path d="M0 16l1 0 1 0 1 1 1-1 1 0 1 0 1 1 1 0 1 0M36 16l1 1 1-1 1 0 1 1 1 0 1-1 1 0 1 1 1-1 1 0 1 1 1 0 1-1 1 0M73 16l1 0 1 0 1 1 1 0 1-1 1 1 1 0 1 0 1 0" stroke="#2ca02c"/><path d="M0 14l1 0 1 0 1 0 1-1 1 1 1-1 1 1 1 0 1-1M36 14l1 0 1-1 1 1 1 0 1-1 1 1 1 0 1-1 1 0 1 1 1-1 1 1 1 0 1 0M73 13l1 0 1 1 1 0 1-1 1 1 1 0 1 0 1-1 1 1" stroke="#bcbd22"/><path d="M0 13l1 0 1 0 1 0 1 0 1 0 1 0 1 0 1 0 1 0M36 13l1 0 1 1 1-1 1 1 1-1 1 0 1 0 1 0 1 0 1 0 1 0 1 0 1 0 1 0M73 13l1 0 1 0 1 0 1 0 1 0 1 0 1 0 1 0 1 0" stroke="#2ca02c"/><path d="M0 11l1 1 1-1 1 0 1 0 1 0 1 0 1 0 1 0 1 1M36 11l1 1 1 0 1-1 1 1 1-1 1 0 1 1 1-1 1 0 1 1 1-1 1 0 1 0 1 0M73 11l1 0 1 0 1 0 1 0 1 0 1 1 1-1 1 1 1-1" stroke="#bcbd22"/><path d="M0 39l1 0 1 0 1 0 1 0 1 0 1 0 1 0 1 0 1 0M36 39l1 0 1 0 1 1 1-1 1 0 1 0 1 0 1 0 1 0 1 0 1 1 1-1 1 0 1 0M73 39l1 1 1-1 1 0 1 0 1 0 1 0 1 0 1 0 1 0" stroke="#7f7f7f"/><path d="M0 45l1-1 1 1 1 0 1 0 1 0 1 0 1 0 1-1 1 0M36 44l1 0 1 1 1-1 1 1 1 0 1-1 1 0 1 1 1 0 1-1 1 0 1 1 1 0 1-1M73 45l1-1 1 0 1 1 1 0 1 0 1 0 1-1 1 1 1 0" stroke="#e377c2"/><path d="M0 69l1 0 1 0 1 0 1 0 1 0 1 0 1 0 1 1 1-1M36 69l1 0 1 0 1 0 1 0 1 0 1 0 1 0 1 0 1 0 1 0 1 0 1 1 1-1 1 0M73 69l1 0 1 1 1-1 1 0 1 0 1 0 1 0 1 0 1 0" stroke="#17becf"/></g>
<g transform="translate(439.50 257.20) scale(0.5000 -0.59800)" fill="none" stroke-width="0.70" stroke-opacity="1.00"><path d="M8 57l1-2 1 7 1 10 1-13 1-15 1-5 1 4 1 13 1 13 1-8 1-13 1-9 1 2 1 11 1 11 1 12 1-21 1-11 1 0 1 2 1 14 1 8 1-6 1-4M94 62l1-7 1-6 1-7 1-3 1-7 1 21 1 8 1 3 1 0 1-9 1-10 1-8 1 5 1 8 1 12 1 2 1 1 1-6 1-11 1-1 1-9 1 14 1 7 1 1 1-2" stroke="#1f77b4"/><path d="M134 31l1 5 1-1 1-5 1-3 1 10 1 6 1 12 1-11 1-10 1-5 1-4 1 5 1 14 1 8 1 1 1-14 1-14 1-3 1 5 1 7 1 11 1 14 1-19 1-14 1-2 1 5 1 1" stroke="#9467bd"/><path d="M8 40l1 18 1 15 1 10 1-4 1-8 1-4 1-3 1-4 1 1 1 4 1 8 1 9 1 2 1-10 1-4 1-19 1 3 1 1 1 9 1 7 1 4 1 0 1-15 1-18M50 40l1 5 1 4 1 9 1 8 1 12 1-14 1-15 1-9 1-2 1 17 1 13 1 13 1-11 1-12 0-8 1-4 1 12 1 8 1 2 1-3 1-2 1-13 1-3 1 5 1 15 1 1 1-10 1-19M94 41l1 13 1 20 1 0 1-5 1-11 1 2 1-2 1 5 1 11 1 8 1 3 1-3 1-13 1-10 1-3 1 2 1 10 1 10 1 1 1 2 1-1 1-23 1 0 1-8 1-10" stroke="#7f7f7f"/><path d="M50 71l1-30 1-25 1-1 1 6 1 6 1 2 1-3 1-6 1-7 1-1 1-4 1 7 1 9 1 7 0 1 1-5 1-7 1-6 1-1 1-4 1 7 1 6 1 5 1 1 1-4 1 2 1 15 1 32" stroke="#ff7f0e"/><path d="M8 58l1 2 1-4 1-2 1 5 1 0 1 8 1 1 1-2 1-1 1-3 1-8 1-4 1-2 1 6 1 6 1 10 1 0 1-3 1-4 1-4 1-5 1 0 1 3 1 4M94 53l1 13 1-1 1-3 1 1 1-3 1 6 1 1 1 8 1 0 1-5 1-4 1-4 1-1 1 1 1 2 1 4 1 6 1-1 1-1 1-7 1-5 1 2 1 1 1-3 1-5" stroke="#17becf"/><path d="M50 17l1 13 1 5 1 6 1 11 1 21 1-11 1 0 1-11 1-12 1-2 1 2 1 6 1 11 1 8 0-3 1-4 1-9 1-10 1-5 1 9 1 13 1 10 1 2 1 2 1-15 1-7 1-13 1-19M94 13l1 19 1 7 1 3 1 13 1 8 1-3 1-11 1-11 1 3 1 3 1 12 1 7 1-5 1-16 1-7 1 4 1 9 1 7 1-2 1-9 1-22 1 0 1 21 1-9 1-20M134 15l1 31 1 28 1 8 1 4 1-11 1-9 1-15 1 5 1 9 1 14 1 8 1 1 1-3 1-11 1-12 1-2 1-4 1 15 1 10 1 10 1 4 1-6 1-18 1-10 1-5 1-11 1-28" stroke="#bcbd22"/><path d="M8 11l1 33 1 17 1-11 1 0 1 10 1 11 1 3 1-5 1-14 1-11 1 10 1 13 1 12 1 0 1-19 1-12 1 9 1 5 1 10 1 5 1-10 1-9 1-20 1-26M50 25l1 6 1 9 1 7 1-3 1-5 1-5 1-8 1-1 1 1 1 13 1 4 1 16 1-6 1-10 0-1 1-8 1-2 1 2 1 2 1 9 1 3 1 0 1 1 1-1 1-11 1-5 1-4 1-4M134 19l1 20 1 16 1-1 1-9 1-12 1 7 1 5 1 6 1 6 1 3 1-10 1-5 1-10 1-3 1 6 1 8 1 8 1 5 1-5 1-3 1-9 1-12 1 5 1 7 1 4 1-9 1-21" stroke="#2ca02c"/><path d="M134 69l1-31 1-32 1-6 1 0 1 17 1 8 1 8 1-3 1-5 1-11 1-14 1 0 1 0 1 9 1 15 1 13 1 6 1-5 1-12 1-15 1-11 1 0 1 11 1 8 1 14 1 15 1 20" stroke="#d62728"/><path d="M8 47l1 12 1 9 1-13 1-11 1-4 1 7 1 11 1 9 1-2 1-5 1-15 1-8 1 7 1 15 1 11 1-2 1-10 1-18 1-4 1 9 1 13 1 3 1-5 1-8M50 46l1 4 1-3 1-4 1-12 1-11 1 7 1 12 1 7 1 3 1 0 1-8 1-22 1 4 1 6 0 15 1 5 1 6 1-9 1-12 1-6 1 0 1 9 1 6 1 14 1-8 1-5 1-3 1 6M94 50l1-13 1-1 1-1 1-6 1-23 1 7 1 4 1 16 1 11 1-1 1-16 1-12 1-4 1 5 1 14 1 9 1-3 1-11 1-10 1-5 1 5 1 13 1 3 1 6 1 11" stroke="#8c564b"/><path d="M50 61l1 0 1-5 1 3 1 10 1 9 1 2 1-6 1-8 1-16 1-5 1 1 1 17 1 21 1 6 0-5 1-19 1-8 1-4 1 4 1 4 1 11 1 4 1 3 1-13 1-12 1-1 1 4 1 1M134 24l1 19 1 13 1 1 1-5 1-6 1-14 1 2 1 10 1 12 1 10 1 9 1-4 1-8 1-9 1-9 1-1 1 1 1 8 1 6 1 4 1 2 1 0 1-2 1-9 1-6 1-11 1-18" stroke="#1f77b4"/><path d="M8 36l1-8 1-5 1-9 1-5 1 3 1 14 1 8 1 4 1-9 1-9 1-4 1-3 1 6 1 9 1 3 1 0 1-9 1-8 1-4 1 8 1 6 1 11 1-5 1 2" stroke="#9467bd"/><path d="M8 35l1 22 1 7 1-12 1 2 1 12 1 8 1-1 1-10 1-6 1 0 1 8 1 13 1 0 1-7 1-12 1-25 1 23 1 10 1 10 1-5 1-7 1-7 1-7 1-11M134 41l1 15 1 18 1-3 1-15 1-3 1-2 1 10 1 14 1 7 1-4 1-4 1-8 1-8 1 1 1 7 1 6 1 14 1 1 1-11 1-10 1-11 1-3 1 11 1 12 1 2 1-18 1-19" stroke="#e377c2"/><path d="M94 65l1-1 1-8 1-6 1-5 1 15 1 8 1-1 1-3 1-5 1-8 1-5 1 11 1 14 1 3 1-3 1-9 1-10 1-1 1 6 1 8 1 14 1 7 1-19 1-6 1 1M134 72l1-13 1-2 1-9 1-9 1-16 1 13 1 11 1 10 1-3 1-9 1-15 1-6 1 11 1 23 1 8 1-6 1-18 1-13 1 4 1 10 1 22 1 12 1-27 1-12 1-2 1 19 1 19" stroke="#ff7f0e"/><path d="M50 72l1 0 1-6 1-3 1-3 1 6 1 8 1-4 1 3 1-6 1-12 1-4 1 5 1 13 1 8 0 5 1-11 1-8 1-7 1 2 1 3 1 9 1 2 1 0 1-5 1-12 1 3 1 7 1 8" stroke="#d62728"/><path d="M94 15l1 30 1 16 1-5 1-9 1-18 1 10 1 6 1 13 1 13 1 7 1-6 1-6 1-15 1-10 1-7 1 10 1 14 1 11 1 6 1 1 1-4 1-13 1-8 1-16 1-19" stroke="#2ca02c"/><path d="M8 70l1-8 1-10 1-5 1 0 1 0 1 4 1 9 1 2 1-3 1-1 1-5 1-6 1-1 1 7 1 7 1 23 1-19 1-5 1-2 1-8 1 4 1 1 1 12 1 2M94 52l1-10 1 0 1 9 1 3 1-8 1-13 1-4 1 4 1 15 1 3 1-2 1-10 1-6 1 0 1 11 1 15 1 0 1-14 1-15 1-1 1 2 1 28 1-4 1-9 1 6" stroke="#d62728"/><path d="M50 69l1-17 1-6 1-6 1-8 1-11 1 3 1 18 1 8 1-4 1-15 1-15 1 3 1 24 1 18 0-5 1-20 1-9 1 4 1 9 1 13 1-1 1-15 1-8 1-6 1 17 1 11 1 9 1 7M94 75l1-28 1-15 1 6 1 15 1 9 1-23 1-19 1-4 1 14 1 16 1 7 1-4 1-14 1-15 1-3 1 18 1 16 1 4 1-10 1-14 1-10 1 1 1 18 1 22 1 14M134 76l1-19 1-14 1 1 1 3 1-9 1-7 1-2 1 0 1 1 1 8 1 4 1 5 1 1 1-4 1-5 1-7 1-4 1 0 1 6 1 5 1 9 1 10 1-12 1-4 1 3 1 9 1 23" stroke="#17becf"/><path d="M8 69l1-15 1-10 1 5 1-5 1-12 1-1 1-2 1 9 1 11 1 1 1-2 1-10 1-6 1-3 1 1 1 19 1 0 1-2 1-8 1-2 1-1 1 0 1 15 1 13M50 51l1 9 1 4 1-1 1 6 1 24 1-12 1-9 1-7 1-3 1 8 1 7 1 15 1-18 1-10 0-4 1 6 1 9 1 1 1-4 1-6 1-7 1 4 1 9 1 9 1-3 1-10 1-10 1-7" stroke="#ff7f0e"/><path d="M50 45l1-14 1-14 1 1 1 0 1 9 1 4 1-2 1 1 1-3 1-4 1-3 1-5 1 7 1 3 0 2 1 9 1-1 1-1 1-3 1-7 1-6 1 1 1 2 1 4 1 6 1 1 1 5 1 4M94 46l1 13 1 13 1-4 1-8 1-11 1 14 1 10 1 1 1 6 1-4 1-3 1-7 1 0 1-1 1 5 1 7 1 4 1-2 1-2 1-7 1-8 1-18 1 28 1-11 1-18" stroke="#e377c2"/><path d="M8 43l1-9 1-5 1 15 1-11 1-8 1-6 1 4 1 6 1 7 1-2 1-12 1-5 1 0 1 8 1 6 1 13 1-23 1-4 1-1 1 7 1 4 1 3 1 4 1 11M134 44l1 4 1 7 1 7 1 8 1-9 1-7 1-8 1 9 1 6 1 4 1-3 1-5 1-5 1 1 1 10 1 2 1-2 1-7 1-6 1 3 1 6 1 6 1-4 1-2 1-7 1-2 1-6" stroke="#7f7f7f"/><path d="M8 24l1 28 1 23 1 4 1-15 1-6 1 1 1 6 1 6 1 6 1-1 1-11 1-8 1-1 1 7 1 6 1 18 1-11 1-6 1-5 1 1 1 1 1 0 1-15 1-27M134 10l1 22 1 9 1 5 1 7 1 12 1 4 1-9 1-12 1-7 1 1 1 9 1 11 1 1 1-8 1-7 1-10 1 4 1 3 1 17 1 3 1 7 1-28 1-7 1 3 1 6 1-13 1-22" stroke="#bcbd22"/><path d="M134 49l1-8 1-13 1-9 1-7 1 6 1 11 1 21 1 3 1-7 1-7 1-13 1-6 1 0 1 5 1 17 1 10 1 9 1-14 1-16 1-11 1-16 1 3 1 27 1 18 1 0 1-2 1-3" stroke="#8c564b"/><path d="M50 30l1 16 1 9 1 0 1-11 1-28 1 11 1 17 1 17 1 9 1-8 1-16 1-19 1-1 1 12 0 16 1 8 1-4 1-10 1-16 1-6 1 9 1 13 1 16 1 4 1-23 1-4 1-8 1-2M94 33l1 2 1-6 1-8 1-9 1 2 1 14 1 6 1 6 1-7 1-1 1-13 1-5 1 3 1 6 1 17 1 10 1-1 1-7 1-15 1-10 1-17 1 20 1 12 1 4 1-4" stroke="#9467bd"/><path d="M8 28l1 32 1 16 1-11 1-5 1-1 1 8 1 16 1 5 1-15 1-24 1-4 1 20 1 25 1 7 1-13 1-28 1-4 1 13 1 15 1 8 1-5 1-18 1-17 1-20M50 13l1 21 1 17 1 1 1-2 1-1 1 5 1 9 1 2 1 2 1-3 1-1 1-6 1-2 1 1 0-3 1 3 1 5 1 8 1-3 1 0 1-5 1-3 1-3 1-8 1 7 1-2 1-14 1-27M134 23l1 14 1 15 1 6 1 10 1 10 1 10 1 8 1-21 1-15 1-9 1-6 1 5 1 10 1 11 1 8 1 6 1-2 1-11 1-12 1-5 1-16 1-1 1 23 1 14 1 3 1-25 1-29" stroke="#2ca02c"/><path d="M8 19l1 13 1 10 1 9 1-6 1-13 1-10 1-4 1 12 1 10 1 6 1-1 1-6 1-13 1-3 1 2 1 9 1 12 1-4 1-3 1-10 1-10 1 0 1 7 1-4M94 20l1-4 1-6 1 0 1 7 1 11 1 5 1 0 1-8 1-9 1-6 1 0 1 5 1 5 1 10 1 8 1-5 1-11 1-11 1-2 1 2 1 7 1 12 1 0 1-5 1-5" stroke="#1f77b4"/><path d="M8 57l1-24 1-6 1 8 1-10 1-7 1-10 1-3 1 1 1 9 1 11 1 8 1-1 1-6 1-11 1-9 1-2 1 5 1 13 1 11 1 6 1-9 1-4 1 6 1 25" stroke="#17becf"/><path d="M50 44l1 5 1-1 1-6 1-10 1 10 1 14 1 4 1-9 1-13 1-2 1 2 1 8 1 12 1-11 0-4 1-4 1 5 1 1 1 7 1 2 1-11 1-5 1-5 1 7 1 9 1 0 1-5 1-2M94 43l1 9 1 6 1 5 1-5 1-3 1-5 1-2 1 0 1 9 1 2 1 5 1-4 1-4 1-6 1-1 1 4 1 5 1 8 1 3 1-4 1-10 1-8 1 6 1-3 1-8" stroke="#7f7f7f"/><path d="M50 24l1 5 1-6 1-6 1 11 1 13 1-2 1-4 1-8 1-13 1 7 1 15 1 14 1-10 1-10 0-12 1-1 1 10 1 14 1 9 1-14 1-8 1-6 1 3 1 12 1 2 1-4 1-9 1-2M94 10l1 8 1 2 1 1 1 4 1 11 1 4 1 0 1-10 1-10 1-5 1 3 1 12 1 10 1 8 1-10 1-11 1-12 1 1 1 8 1 18 1 20 1 9 1-32 1-18 1-10" stroke="#bcbd22"/><path d="M134 27l1 3 1 6 1 8 1-6 1-15 1-8 1 5 1 15 1 17 1-5 1-22 1-12 1 0 1 13 1 11 1 3 1-12 1-15 1-4 1 12 1 14 1 12 1-18 1-12 1-8 1 15 1 4" stroke="#9467bd"/><path d="M134 71l1-7 1-3 1 6 1 10 1 20 1 2 1-8 1-24 1-9 1-7 1 7 1 8 1 16 1 13 1-3 1-11 1-16 1-9 1 2 1 2 1 11 1 28 1-12 1-3 1-12 1-4 1 4" stroke="#d62728"/><path d="M50 76l1-27 1-20 1 4 1 11 1 0 1-4 1-11 1-4 1 0 1-2 1 8 1 14 1 2 1-2 0-10 1-13 1-5 1 4 1 12 1 7 1 2 1-3 1-2 1-16 1 4 1 10 1 16 1 25" stroke="#17becf"/><path d="M8 29l1 6 1-1 1 6 1 8 1 1 1-3 1-9 1-5 1 4 1 9 1 3 1-4 1-9 1-8 1 1 1 17 1 4 1-4 1-10 1-4 1 4 1 6 1-3 1-11" stroke="#9467bd"/><path d="M50 51l1 7 1 8 1 0 1 8 1 9 1 7 1-18 1-6 1-9 1-1 1 2 1 3 1 17 1 8 0 3 1-10 1-8 1-9 1-5 1 0 1 3 1 10 1 7 1 0 1 1 1-8 1-8 1-7" stroke="#d62728"/><path d="M94 14l1 7 1 6 1-1 1-12 1-14 1 19 1 7 1 5 1-3 1-9 1-10 1 4 1 6 1 12 1-3 1-8 1-10 1-2 1 9 1 9 1 18 1-22 1-5 1-4 1-3" stroke="#2ca02c"/><path d="M94 72l1-10 1-6 1 0 1-8 1-23 1 13 1 7 1 10 1 6 1-5 1-8 1-4 1-4 1 7 1 9 1 4 1-1 1-11 1-5 1-2 1-6 1 18 1-3 1 9 1 17M134 66l1-16 1-13 1-6 1-6 1-15 1-3 1-1 1 17 1 15 1 9 1-2 1-7 1-14 1-8 1-2 1 6 1 13 1 9 1 7 1-2 1-11 1-15 1-1 1 3 1 9 1 16 1 20" stroke="#ff7f0e"/><path d="M8 31l1-1 1-5 1-1 1 0 1 10 1 3 1-1 1-4 1-6 1-2 1 1 1 4 1 6 1 6 1 2 1-14 1-7 1 0 1 7 1 5 1 3 1-3 1 1 1-3M94 33l1 16 1 20 1-5 1-17 1-17 1 12 1 4 1 15 1 12 1-2 1-11 1-17 1-7 1 9 1 10 1 10 1 5 1-11 1-12 1-14 1-6 1 22 1 17 1-13 1-22M134 30l1 10 1 17 1 14 1 4 1-10 1-20 1-18 1 15 1 12 1 8 1 0 1-4 1-12 1-7 1 2 1 9 1 20 1 7 1-12 1-17 1-24 1 6 1 19 1 12 1 0 1-16 1-12" stroke="#e377c2"/><path d="M8 12l1 10 1 5 1 13 1 8 1-1 1-2 1-11 1-12 1-2 1 6 1 11 1 22 1 4 1-10 1-17 1-18 1 9 1 1 1 10 1 8 1 2 1-2 1-19 1-18" stroke="#bcbd22"/><path d="M50 20l1 23 1 16 1 5 1 2 1 17 1 8 1 1 1-10 1-11 1-9 1-1 1-5 1 12 1 10 0 12 1-4 1-6 1-11 1-14 1-3 1 5 1 15 1 8 1 3 1-2 1-12 1-23 1-25M134 59l1-9 1-5 1 6 1 13 1 10 1-11 1-16 1-9 1 6 1 12 1 13 1-2 1-12 1-10 1-1 1 8 1 13 1 4 1-9 1-10 1-10 1 7 1 9 1 7 1-3 1-5 1 4" stroke="#1f77b4"/><path d="M8 74l1-9 1-4 1 6 1 15 1 2 1 2 1-3 1-10 1-9 1-10 1 4 1 11 1 11 1 17 1 2 1 0 1-19 1-12 1-7 1 1 1 9 1 8 1-5 1-2M94 66l1-12 1-8 1 6 1 3 1-6 1-11 1-2 1-2 1 8 1 1 1 13 1 6 1-5 1-5 1-8 1-12 1-5 1 7 1 9 1 11 1 6 1 4 1-10 1 3 1 11" stroke="#d62728"/><path d="M50 32l1 4 1-2 1-11 1-11 1-6 1 23 1 17 1 2 1-6 1-14 1-10 1-6 1 8 1 13 0 13 1 0 1-10 1-17 1-5 1 4 1 7 1 9 1 9 1-1 1-13 1-9 1 6 1 4" stroke="#e377c2"/><path d="M134 40l1 1 1 3 1 12 1 9 1-1 1-5 1-17 1-7 1-2 1 2 1 2 1 7 1 8 1-1 1-1 1-7 1-11 1-12 1 0 1 6 1 14 1 14 1 1 1-4 1-5 1-7 1 1" stroke="#7f7f7f"/><path d="M8 75l1-5 1-10 1-4 1-6 1 1 1 3 1 7 1 5 1 2 1 3 1-4 1-11 1-7 1-5 1 2 1 7 1 13 1 2 1 2 1-1 1-5 1-6 1 7 1 10M94 75l1-16 1-10 1-2 1 3 1 15 1-3 1 0 1-4 1-6 1-8 1 0 1 5 1 1 1 5 1 3 1-5 1-2 1-5 1-6 1 2 1 4 1 10 1-3 1 10 1 16M134 63l1-20 1-11 1-5 1-4 1-6 1-13 1-1 1 8 1 9 1 6 1 4 1 2 1-3 1-5 1-8 1-6 1 2 1 6 1 7 1 8 1 8 1 13 1-20 1-7 1-5 1 18 1 22" stroke="#17becf"/><path d="M8 61l1-17 1-17 1-9 1 4 1 1 1 8 1 3 1 0 1 0 1-7 1-3 1-10 1 1 1 6 1 7 1 4 1 0 1-2 1-2 1-8 1-2 1 3 1 20 1 20M50 49l1 13 1 12 1 3 1-6 1-22 1 13 1 5 1 9 1 8 1 9 1 3 1 3 1-22 1-14 0-8 1 1 1 7 1 10 1 6 1 8 1-6 1-4 1-5 1-13 1-2 1 7 1-6 1-12" stroke="#ff7f0e"/><path d="M8 19l1-3 1-2 1 3 1 5 1 4 1-6 1-1 1-5 1-6 1 5 1 9 1 6 1-1 1-5 1-6 1-16 1 14 1 5 1 6 1 3 1-4 1-3 1-2 1-3M134 14l1 31 1 11 1-5 1-5 1-3 1 23 1 7 1 3 1-3 1-8 1-11 1-9 1 5 1 10 1 11 1 9 1 0 1-11 1-14 1-13 1-17 1 16 1 21 1 4 1 2 1-27 1-30" stroke="#2ca02c"/><path d="M50 29l1 28 1 7 1-2 1-4 1 3 1 12 1 11 1 2 1-5 1-8 1-9 1-13 1 11 1 8 0 9 1 6 1-3 1-6 1-10 1-8 1 5 1 3 1 10 1 14 1-7 1-10 1-23 1-24M94 21l1 12 1 8 1-5 1-4 1-2 1 1 1 4 1 4 1 5 1-2 1-3 1 2 1-3 1-3 1-3 1 4 1 1 1 2 1 7 1 4 1 3 1-6 1-7 1-7 1-14" stroke="#9467bd"/><path d="M50 14l1 3 1-6 1 6 1 15 1 8 1-9 1-16 1-12 1 8 1 19 1 19 1-2 1-33 1-13 0 3 1 20 1 18 1 1 1-19 1-13 1 2 1 10 1 18 1 15 1-29 1-11 1-5 1 2M94 25l1 4 1 14 1 8 1 8 1-10 1-20 1-11 1 2 1 15 1 15 1 12 1-10 1-9 1-12 1 0 1 5 1 8 1 9 1 3 1-8 1-11 1-10 1 3 1 3 1-11M134 25l1 11 1 12 1 7 1 10 1 4 1-21 1-23 1-1 1 8 1 16 1 12 1 4 1-10 1-15 1-7 1 1 1 8 1 16 1 4 1-5 1-10 1-15 1 0 1 5 1 9 1-9 1-13" stroke="#bcbd22"/><path d="M94 68l1-8 1 0 1 4 1 0 1-22 1 2 1 2 1 14 1 9 1-1 1-7 1-11 1-4 1 13 1 7 1-1 1-2 1-8 1-4 1 3 1 11 1 14 1-13 1-3 1 4M134 62l1-25 1-9 1 3 1-5 1-13 1-8 1-2 1 19 1 6 1 3 1-5 1-13 1-2 1 2 1 11 1 11 1-3 1-10 1-11 1-2 1-2 1 20 1 2 1 1 1-6 1 16 1 23" stroke="#ff7f0e"/><path d="M50 49l1-18 1-6 1 0 1-1 1-10 1-4 1 6 1 8 1 12 1-3 1-13 1-12 1 2 1 13 0 13 1 6 1-17 1-12 1-5 1 9 1 9 1 4 1-2 1-19 1 3 1 8 1 20 1 11M134 53l1 6 1 0 1 1 1 13 1 6 1 5 1 7 1-22 1-11 1-5 1-7 1 7 1 9 1 7 1 2 1 5 1-5 1-5 1-9 1-6 1-14 1 12 1 16 1 6 1 1 1-5 1-12" stroke="#d62728"/><path d="M50 32l1-3 1 5 1 9 1-1 1-15 1-8 1-1 1 10 1 16 1 4 1-12 1-27 1-7 1 14 0 17 1 5 1-1 1-13 1-15 1 2 1 13 1 20 1 4 1-18 1-12 1 1 1 6 1 3M94 32l1-8 1 2 1 3 1-12 1-11 1 6 1 14 1 13 1 4 1-18 1-18 1-5 1 12 1 23 1 5 1-7 1-15 1-9 1 3 1 12 1 16 1-3 1-15 1-4 1 9" stroke="#2ca02c"/><path d="M8 45l1 22 1 18 1 9 1-17 1-12 1-4 1-2 1 7 1 9 1 7 1 4 1-4 1-12 1-7 1-7 1 1 1 15 1 8 1 11 1-4 1-8 1-11 1-16 1-9M94 35l1 22 1 11 1 6 1 10 1 15 1-21 1-12 1-4 1 12 1 6 1 2 1-4 1-12 1 0 1 6 1 7 1 0 1-6 1-3 1-4 1 4 1 7 1 2 1-21 1-18" stroke="#e377c2"/><path d="M8 19l1 6 1 6 1-16 1-8 1 9 1 7 1 15 1 11 1 5 1-4 1-10 1-10 1-3 1 1 1-1 1 10 1 12 1 4 1-1 1-6 1-14 1-5 1-6 1-6" stroke="#bcbd22"/><path d="M50 75l1-19 1-15 1-9 1 0 1 3 1 12 1 0 1-3 1-10 1-7 1-3 1 7 1 10 1 5 0-3 1-11 1-2 1 1 1 3 1 8 1 5 1-1 1-7 1-15 1 8 1 7 1 14 1 23" stroke="#17becf"/><path d="M8 19l1 22 1 5 1-8 1-7 1 4 1 10 1 7 1 0 1-5 1-8 1-8 1-1 1 6 1 16 1 15 1 16 1-40 1-15 1-5 1 6 1 12 1 6 1-7 1-20M134 21l1 21 1 9 1-1 1-1 1 7 1 7 1 7 1-2 1-6 1-3 1-8 1-3 1 1 1 8 1 9 1 7 1-3 1-6 1-8 1-1 1-4 1 2 1 12 1 1 1-3 1-17 1-26" stroke="#9467bd"/><path d="M50 37l1-2 1 9 1-1 1 1 1-9 1-5 1-5 1 1 1 6 1 2 1 12 1 10 1-7 1-7 0-8 1-7 1-2 1 1 1 5 1 6 1 6 1 4 1-2 1 1 1-15 1-1 1 4 1 5M134 44l1-6 1-7 1 2 1 3 1 7 1 4 1-4 1-3 1 0 1-10 1-5 1-3 1 5 1 9 1 5 1-1 1-1 1-5 1-2 1-3 1-9 1 3 1 6 1 5 1 4 1 2 1 3" stroke="#e377c2"/><path d="M8 22l1-1 1-8 1 4 1 14 1 1 1-4 1-4 1-11 1 1 1 14 1 10 1 2 1-10 1-17 1-9 1 0 1 24 1 6 1-2 1-6 1-12 1 3 1 8 1 1M134 30l1-6 1-3 1-7 1 0 1 11 1 15 1-3 1-16 1-7 1-4 1 6 1 15 1 6 1-8 1-13 1-9 1 5 1 11 1 9 1 1 1-10 1-23 1 8 1 7 1 7 1 6 1 3" stroke="#2ca02c"/><path d="M50 12l1 19 1 9 1 1 1-4 1 4 1 14 1 8 1-8 1-16 1-12 1-1 1 15 1 17 1 4 0-12 1-15 1-15 1 8 1 18 1 13 1 1 1-11 1-21 1-13 1 22 1 3 1-11 1-18M94 18l1 6 1-4 1-4 1 1 1 4 1 18 1 5 1 6 1-4 1-11 1-9 1-7 1-2 1 4 1 10 1 12 1 8 1-3 1-3 1-11 1-21 1 2 1 4 1 3 1-9M134 12l1 30 1 25 1 11 1-1 1-13 1-12 1-15 1 8 1 6 1 11 1 13 1 7 1-5 1-8 1-14 1-11 1-6 1 6 1 9 1 14 1 18 1 14 1-27 1-10 1-5 1-22 1-25" stroke="#bcbd22"/><path d="M8 47l1 2 1 1 1 5 1 7 1-5 1-3 1-8 1-3 1 8 1 11 1 5 1-10 1-11 1-5 1 3 1 14 1 12 1-8 1-8 1-6 1 2 1 2 1-1 1-5M50 68l1-1 1-14 1-4 1-3 1-4 1 13 1 8 1 2 1 2 1-10 1-12 1-15 1 7 1 11 0 10 1 8 1 0 1-3 1-9 1-4 1-6 1 6 1 2 1 19 1 2 1-6 1-5 1 4" stroke="#ff7f0e"/><path d="M8 67l1-14 1-3 1 16 1-4 1-12 1-10 1-3 1-3 1 7 1 6 1 6 1 6 1-3 1-9 1-8 1-22 1 15 1 10 1 8 1 4 1 2 1-6 1 6 1 7M94 62l1 2 1-3 1-3 1-11 1-9 1 20 1 10 1 0 1-3 1-12 1-3 1 7 1 14 1 7 1-8 1-12 1-5 1 0 1 14 1 3 1 5 1-9 1-6 1-1 1 3M134 54l1-11 1-8 1 2 1-1 1-18 1-2 1 6 1 15 1 11 1-5 1-11 1-8 1-5 1 6 1 11 1 7 1-6 1-5 1-13 1 0 1 3 1 18 1 0 1-3 1-6 1 10 1 13" stroke="#17becf"/><path d="M50 16l1 28 1 5 1-5 1-7 1-4 1 18 1 4 1 7 1-1 1-7 1-8 1-9 1-4 1 11 0 12 1 6 1 4 1-4 1-11 1-7 1-4 1 7 1 4 1 12 1 8 1-9 1-22 1-18M94 31l1 1 1 6 1 4 1-3 1-7 1-3 1 1 1 4 1 16 1 6 1-12 1-11 1-9 1 4 1 10 1 6 1 3 1-7 1-5 1-5 1 1 1 13 1 1 1-5 1-12" stroke="#9467bd"/><path d="M8 50l1-11 1-15 1-13 1 0 1 12 1 11 1 13 1 3 1-10 1-11 1-15 1-7 1 3 1 12 1 14 1 11 1-3 1-9 1-10 1-8 1-3 1-1 1 19 1 19M94 68l1-19 1-13 1 1 1-2 1-2 1-17 1-2 1-3 1 6 1 16 1 13 1 5 1-4 1-10 1-15 1-11 1-4 1 7 1 12 1 6 1 17 1-3 1-10 1 10 1 22" stroke="#d62728"/><path d="M50 18l1-6 1 6 1 9 1 6 1 5 1-18 1-11 1-1 1 7 1 12 1 8 1-2 1-11 1-16 0-5 1 13 1 14 1 6 1 2 1-11 1-10 1 0 1 2 1 17 1 4 1-4 1-13 1-7M94 25l1 27 1 14 1 3 1-5 1-2 1 11 1 8 1 1 1-2 1-5 1-6 1-9 1 0 1 6 1 15 1 4 1 2 1-3 1-7 1-4 1-16 1 1 1 14 1-17 1-29" stroke="#2ca02c"/><path d="M8 15l1 16 1 12 1 2 1 4 1 9 1 10 1-7 1-12 1-10 1-2 1 1 1 7 1 10 1 8 1-1 1-7 1-19 1-5 1-3 1 13 1 7 1 7 1-20 1-25" stroke="#bcbd22"/><path d="M8 55l1-18 1-15 1 8 1 13 1 0 1-2 1-12 1-10 1 2 1 11 1 11 1 1 1-7 1-14 1-2 1-2 1 17 1 14 1-7 1-12 1-13 1-1 1 24 1 11M50 68l1-9 1 3 1 6 1 1 1-24 1-9 1 6 1 12 1 23 1 2 1-23 1-32 1 4 1 21 0 13 1 4 1-7 1-10 1-2 1 4 1 11 1 8 1-2 1-18 1-11 1 10 1 17 1 4M94 56l1-11 1-5 1 3 1 5 1 9 1-19 1-10 1-6 1-7 1 6 1 11 1 9 1 8 1-3 1-3 1-14 1-11 1-6 1 0 1 12 1 10 1 9 1-5 1 6 1 8M134 52l1 8 1 7 1 3 1 6 1 18 1-6 1 10 1-20 1-10 1-10 1 0 1 4 1 12 1 7 1 3 1-2 1 1 1-7 1-6 1-2 1-9 1 13 1 2 1 5 1 2 1-14 1-14" stroke="#d62728"/><path d="M8 51l1 8 1 3 1 1 1-3 1-9 1-2 1 1 1 2 1 5 1 11 1-2 1 0 1-4 1-11 1-11 1-15 1 23 1 7 1 9 1-1 1 1 1-2 1-8 1-5M94 49l1 9 1 12 1 4 1 5 1 0 1-18 1-3 1 7 1 9 1 13 1-5 1-11 1-12 1-4 1 14 1 6 1 5 1-5 1-8 1-5 1-5 1 14 1 10 1-15 1-16M134 50l1-3 1-3 1 2 1-2 1 12 1 5 1 4 1-19 1-7 1-5 1 10 1 10 1 2 1-3 1-5 1-4 1-4 1 4 1 8 1 3 1 9 1-13 1-3 1 0 1 2 1 0 1-3" stroke="#ff7f0e"/><path d="M50 58l1 3 1-6 1-8 1 0 1 12 1 13 1 2 1-4 1-10 1-11 1-6 1-5 1 22 1 7 0 1 1 0 1-5 1-14 1-6 1 1 1 16 1 10 1 7 1 9 1-25 1-11 1 2 1 9M134 68l1-21 1-22 1-6 1 3 1 10 1 4 1 5 1-6 1-6 1-6 1-4 1-1 1 13 1 14 1 7 1-8 1-17 1-7 1-4 1 6 1 2 1 16 1-5 1-3 1-2 1 16 1 22" stroke="#17becf"/><path d="M8 72l1 4 1 11 1 2 1-12 1-7 1-4 1-2 1 6 1 10 1 6 1 6 1-5 1-16 1-2 1-7 1-9 1 20 1 11 1 7 1-3 1-6 1-11 1-1 1 2M50 64l1-14 1-9 1 2 1 10 1 14 1-11 1-13 1-9 1-1 1 8 1 11 1 6 1 1 1-9 0-7 1-11 1 4 1 15 1 0 1 3 1 0 1-6 1-8 1-7 1 13 1 13 1 2 1 2M94 45l1 4 1 1 1 3 1 2 1-10 1-7 1-2 1 2 1 8 1 15 1 6 1-6 1-18 1-17 1-3 1 12 1 17 1 8 1 2 1-8 1-13 1-18 1 15 1 8 1 0M134 52l1-11 1 0 1 3 1 1 1-2 1-12 1-8 1-1 1 6 1 9 1 11 1 5 1-6 1-8 1-3 1-6 1 1 1 5 1 6 1 6 1 12 1-13 1-8 1-3 1 2 1 4 1 12" stroke="#ff7f0e"/><path d="M8 74l1-9 1-8 1 0 1-9 1-9 1-4 1 1 1 9 1 6 1 17 1 1 1-6 1-13 1-7 1-9 1 9 1 3 1 10 1 8 1 0 1-5 1-10 1 7 1 20M8 68l1-12 1-6 1 0 1-4 1-6 1 1 1 2 1 8 1 8 1-4 1-5 1-8 1 0 1-4 1 8 1 9 1-3 1-5 1-6 1-2 1-1 1 1 1 16 1 16M50 63l1-6 1 3 1 10 1 4 1-4 1-6 1-12 1-9 1-1 1 14 1 17 1 8 1 0 1-10 0-10 1-12 1-4 1 8 1 11 1 8 1 2 1 1 1-7 1-12 1-3 1 8 1 2 1 1M50 56l1-3 1 4 1 1 1-8 1-24 1 14 1 15 1 4 1-2 1-4 1-10 1-8 1 12 1 13 0 6 1-11 1-15 1-2 1 10 1 12 1 3 1-10 1-10 1-4 1 3 1 14 1 1 1-1M94 62l1-23 1-16 1-3 1-5 1-2 1 15 1 8 1 5 1-1 1-8 1-10 1-6 1 0 1 1 1 5 1 9 1 9 1-4 1-7 1-3 1-10 1-4 1 2 1 24 1 26M94 69l1-7 1-2 1 10 1 13 1 1 1-11 1-11 1-6 1-4 1 4 1 10 1 16 1 5 1-5 1-14 1-14 1-10 1 4 1 13 1 18 1 11 1-5 1-11 1-8 1 3M134 59l1-6 1-2 1-8 1-3 1-7 1 0 1-3 1 4 1 11 1 5 1 2 1-3 1-7 1-7 1-8 1 5 1 3 1 8 1 11 1 2 1-2 1-8 1-8 1-5 1 1 1 12 1 15M134 74l1 4 1-5 1-10 1-8 1-6 1 14 1 14 1 10 1 7 1-3 1-15 1-9 1-5 1-3 1 10 1 5 1 8 1 2 1-5 1-7 1-19 1-3 1 5 1 10 1 10 1 6 1-7" stroke="#17becf"/></g><g transform="translate(439.50 257.20) scale(0.5000 -0.59800)" fill="none" stroke-width="0.95"><path d="M0 76l1 1 1-1 1 0 1 0 1 0 1 1 1-1 1 0M32 76l1 0 1 0 1 1 1-1 1 0 1 0 1 0 1-1 1 1 1 0 1 1 1-1 1 0 1 1 1 0 1-1 1 0 1 0M77 76l1 1 1-1 1 0 2 0 1 0 1 0 1 0 1-1 1 2 1-1 1 0 1 0 1 0 1 0 1 0 1 0M119 76l1 0 1 0 1 0 1 0 1 0 1 0 1 0 1 0 1 0 1 0 1 0 1 0 1 0 1 0 1 0" stroke="#17becf"/><path d="M0 76l1 0 1 0 1 0 1 0 1 0 1-1 1 1 1 0M32 76l1 0 1 0 1 1 1-1 1 1 1-1 1 0 1 0 1 0 1 0 1 0 1 0 1 0 1 0 1 0 1 0 1 1 1-1M77 76l1 0 1 0 1 0 2 0 1 0 1 0 1 0 1 0 1 0 1 0 1 0 1 0 1 0 1 0 1 0 1 0M119 76l1 0 1 0 1 0 1 0 1 0 1 0 1 0 1 0 1 0 1 0 1 0 1 0 1 0 1 0 1 0" stroke="#17becf"/><path d="M0 71l1 1 1 0 1 0 1-1 1 0 1 1 1 0 1-1M32 71l1 0 1 1 1-1 1 0 1 0 1 0 1 0 1 1 1-1 1 0 1 0 1 0 1 1 1-1 1 0 1 0 1 0 1 0M77 71l1 1 1 0 1-1 2 0 1 1 1-1 1 1 1-1 1 1 1-1 1 1 1-1 1 1 1-1 1 0 1 0M119 71l1 0 1 0 1 1 1 0 1 0 1-1 1 0 1 0 1 0 1 1 1 0 1-1 1 1 1 0 1 0" stroke="#ff7f0e"/><path d="M0 71l1 0 1 0 1 0 1 0 1-1 1 1 1 0 1 0M32 71l1 0 1-1 1 1 1 0 1-1 1 1 1 0 1 0 1 0 1 0 1 0 1 0 1-1 1 1 1 0 1 0 1-1 1 0M77 71l1 0 1 0 1 0 2 0 1 0 1-1 1 1 1-1 1 0 1 1 1 0 1 0 1-1 1 1 1 0 1-1M119 71l1 0 1-1 1 1 1 0 1 0 1 0 1 0 1-1 1 0 1 1 1 0 1 0 1-1 1 0 1 1" stroke="#d62728"/><path d="M0 69l1-1 1 1 1 0 1-1 1 1 1-1 1 0 1 0M32 69l1 0 1 0 1 0 1-1 1 0 1 0 1 0 1 0 1 0 1 0 1 0 1 0 1 0 1 0 1 0 1 0 1 0 1 0M77 68l1 0 1 0 1 1 2-1 1 1 1 0 1-1 1 0 1 0 1 0 1 1 1-1 1 0 1 1 1-1 1 1M119 68l1 1 1-1 1 0 1 0 1 0 1 0 1 1 1-1 1 0 1 0 1 0 1 0 1 0 1 0 1 0" stroke="#d62728"/><path d="M0 67l1 0 1 0 1 0 1 0 1 0 1 0 1 0 1 0M32 67l1 0 1 0 1 0 1 0 1 0 1 0 1 0 1 0 1 0 1 0 1 0 1 0 1 0 1-1 1 1 1 0 1-1 1 1M77 67l1 0 1 0 1 0 2 0 1-1 1 1 1 1 1-1 1 0 1 0 1 0 1 0 1 0 1 0 1 1 1-1M119 67l1 0 1 0 1 0 1 0 1 0 1 0 1 0 1 0 1 0 1 0 1 0 1-1 1 1 1 0 1 0" stroke="#ff7f0e"/><path d="M0 64l1-1 1 0 1 0 1 0 1 0 1 0 1 0 1 0M32 63l1 0 1 0 1 0 1 0 1 0 1 0 1 0 1 0 1 0 1 0 1 0 1 0 1 0 1 0 1 0 1 0 1 0 1 0M77 63l1 0 1 1 1-1 2 0 1 0 1 0 1 0 1 0 1 0 1 1 1-2 1 1 1 0 1 0 1 0 1 0M119 63l1 0 1 0 1 1 1-1 1 0 1 0 1 0 1 0 1 0 1 0 1 0 1 0 1 0 1 0 1 0" stroke="#ff7f0e"/><path d="M0 63l1 0 1 1 1-1 1 1 1 0 1-1 1 1 1-1M32 64l1 0 1 0 1 0 1-1 1 1 1-1 1 0 1 0 1 0 1 0 1 0 1 0 1 0 1 0 1 0 1 0 1 0 1 0M77 63l1 0 1 1 1-1 2 0 1 0 1 1 1-1 1 0 1 1 1-1 1 0 1 0 1 0 1 0 1 0 1 0M119 63l1 1 1-1 1 0 1 0 1 1 1-1 1 1 1-1 1 0 1 0 1-1 1 1 1 0 1 0 1 0" stroke="#17becf"/><path d="M0 60l1 0 1 0 1 0 1 0 1-1 1 0 1 1 1 0M32 60l1 0 1 0 1 0 1 0 1 0 1 0 1 0 1 0 1 0 1 0 1 0 1 0 1 0 1 0 1 0 1-1 1 1 1-1M77 60l1 0 1 0 1 0 2 0 1 0 1 0 1 0 1 0 1 0 1 0 1 0 1 0 1-1 1 1 1 0 1-1M119 60l1 0 1 0 1-1 1 1 1 0 1 0 1 0 1-1 1 1 1 0 1-1 1 1 1 0 1 0 1 0" stroke="#17becf"/><path d="M0 59l1 0 1 0 1 0 1 1 1 0 1-1 1 0 1 0M32 59l1 0 1-1 1 1 1 0 1 0 1 0 1 0 1 0 1 0 1 0 1 0 1 0 1 0 1 0 1 1 1-1 1 0 1 1M77 59l1 0 1 0 1 0 2 0 1 0 1 0 1 1 1-1 1 0 1 0 1 1 1-1 1 0 1 0 1 0 1 1M119 59l1 0 1 0 1 1 1-1 1 0 1 0 1 0 1 0 1 0 1 1 1 0 1-1 1 1 1 0 1-1" stroke="#1f77b4"/><path d="M0 55l1 1 1-1 1 1 1-1 1 1 1 0 1-1 1 1M32 55l1 0 1 0 1 0 1 1 1-1 1 0 1 1 1 0 1-1 1 0 1 1 1-1 1 0 1 0 1 0 1 0 1 1 1-1M77 55l1 0 1 0 1 1 2-1 1 0 1 1 1 0 1 0 1 0 1-1 1 0 1 0 1 0 1 0 1 0 1 1M119 56l1 0 1 0 1 0 1 0 1-1 1 0 1 1 1 0 1-1 1 0 1 0 1 1 1-1 1 0 1 1" stroke="#17becf"/><path d="M0 54l1 1 1 0 1 1 1-1 1 0 1-1 1 1 1 0M32 55l1 0 1 0 1 0 1 0 1 0 1-1 1 1 1 0 1 0 1 0 1 0 1 0 1 0 1 0 1 0 1 0 1 0 1 0M77 55l1 0 1 0 1 0 2 0 1 0 1 0 1-1 1 1 1-1 1 1 1 0 1 0 1 0 1 0 1 0 1-1M119 55l1 0 1 0 1 0 1 0 1 0 1 0 1 0 1 0 1 0 1 0 1 0 1 0 1-1 1 1 1 0" stroke="#d62728"/><path d="M0 51l1 0 1 0 1 0 1 1 1 0 1-1 1 1 1-1M32 52l1 0 1-1 1 1 1-1 1 1 1 0 1-1 1 1 1 0 1-1 1 0 1 0 1 0 1 1 1-1 1 1 1 0 1 0M77 51l1 0 1 1 1 0 2 0 1-1 1 0 1 0 1 0 1 1 1 0 1-1 1 0 1 1 1 0 1-1 1 1M119 52l1 0 1 0 1-1 1 1 1 0 1 0 1-1 1 0 1 1 1-1 1 1 1 0 1 0 1 0 1 0" stroke="#d62728"/><path d="M0 51l1 1 1-1 1 0 1 0 1 0 1 0 1 0 1 0M32 51l1 0 1 0 1 0 1 0 1 0 1 0 1 0 1 0 1 0 1 0 1 0 1 0 1 0 1 0 1 1 1-1 1 0 1 0M77 51l1 0 1 0 1 0 2 0 1 0 1 0 1 0 1 0 1 0 1 0 1 0 1 0 1 1 1 0 1-1 1 0M119 52l1 0 1-1 1 0 1 0 1 0 1 0 1 0 1 0 1 0 1 0 1 0 1 0 1 0 1 1 1-1" stroke="#ff7f0e"/><path d="M0 48l1 0 1 0 1 0 1 0 1 0 1 0 1 0 1 0M32 48l1 0 1 0 1 0 1 0 1 0 1 0 1 0 1 0 1 0 1 0 1-1 1 1 1 0 1 0 1 0 1 0 1 0 1 0M77 48l1 0 1 0 1 0 2 0 1 0 1 0 1 0 1-1 1 1 1 0 1 0 1 0 1 0 1 0 1 0 1 0M119 48l1 1 1-1 1 0 1-1 1 1 1 0 1 0 1 0 1 0 1 0 1 0 1 0 1 0 1 0 1 0" stroke="#ff7f0e"/><path d="M0 47l1 0 1 0 1 0 1 0 1 0 1 0 1 0 1 0M32 47l1 0 1 0 1 0 1 0 1 1 1 0 1-1 1 0 1 0 1 1 1-1 1 0 1 0 1 1 1-1 1 0 1 1 1-1M77 47l1 0 1 0 1 0 2 1 1-1 1 0 1 0 1 0 1 0 1 0 1 0 1 1 1-1 1 0 1 1 1-1M119 47l1 0 1 0 1 0 1 0 1 1 1-1 1 0 1 0 1 0 1 1 1-1 1 0 1 0 1 0 1 1" stroke="#8c564b"/><path d="M0 44l1 0 1-1 1 1 1-1 1 0 1 1 1-1 1 0M32 44l1 0 1-1 1 0 1 1 1-1 1 0 1 0 1 0 1 0 1 0 1 1 1 0 1 0 1-1 1 0 1 0 1 1 1-1M77 44l1 0 1-1 1 0 2 1 1-1 1 0 1 0 1 0 1 0 1 1 1-1 1 1 1-1 1 0 1 1 1 0M119 43l1 0 1 0 1 0 1 0 1 1 1 0 1 0 1-1 1 1 1-1 1 0 1 0 1 0 1 0 1 1" stroke="#7f7f7f"/><path d="M0 38l1 0 1 0 1-1 1 1 1-1 1 1 1 0 1 0M32 38l1 0 1 0 1 0 1 0 1 0 1 0 1 1 1-1 1 0 1 0 1 0 1 0 1-1 1 1 1 0 1 1 1-1 1 0M77 38l1 0 1 0 1 0 2 0 1-1 1 1 1-1 1 1 1 0 1-1 1 1 1 0 1 0 1 0 1 0 1 0M119 38l1 0 1 0 1 0 1-1 1 1 1 0 1 0 1 0 1 0 1 0 1 0 1 0 1 0 1 0 1 0" stroke="#e377c2"/><path d="M0 33l1-1 1 1 1-1 1 0 1 1 1-1 1 1 1-1M32 32l1 1 1-1 1 1 1 0 1-1 1 0 1 0 1 1 1 0 1-1 1 1 1 0 1 0 1 0 1-1 1 0 1 0 1 1M77 32l1 0 1 1 1-1 2 1 1 0 1-1 1 0 1 0 1 0 1 0 1 1 1-1 1 0 1 0 1 1 1-1M119 32l1 1 1 0 1-1 1 0 1 1 1 0 1-1 1 0 1 0 1 0 1 0 1 0 1 1 1-1 1 0" stroke="#e377c2"/><path d="M0 32l1 1 1 0 1 0 1 0 1-1 1 1 1 0 1 1M32 33l1 0 1 0 1 0 1 0 1 1 1-1 1 0 1 0 1 0 1 0 1 0 1 0 1 0 1 0 1 0 1 0 1 0 1 0M77 33l1 0 1 0 1 0 2 0 1 0 1 0 1 0 1 0 1 0 1 0 1 0 1 0 1 0 1-1 1 1 1 0M119 33l1 0 1 1 1-1 1 0 1 0 1 0 1 0 1 0 1 0 1 0 1 0 1 0 1 0 1 0 1 0" stroke="#9467bd"/><path d="M0 29l1 0 1 0 1 0 1 0 1 0 1 0 1 0 1 0M32 29l1 1 1 0 1-1 1 0 1 0 1 0 1 0 1 0 1 0 1 0 1 0 1 0 1 0 1 0 1 0 1 0 1 0 1 0M77 29l1 0 1 0 1 0 2 0 1 0 1 0 1 0 1 0 1 0 1 0 1-1 1 1 1 0 1 0 1 0 1 0M119 29l1 0 1 0 1 0 1 0 1 0 1 0 1 0 1 0 1 0 1 0 1 0 1 0 1 0 1 0 1 0" stroke="#9467bd"/><path d="M0 29l1 0 1 1 1-1 1 0 1 0 1 0 1 0 1 0M32 29l1 0 1 0 1 0 1 0 1-1 1 1 1 0 1 0 1 0 1 0 1 1 1-1 1 0 1 1 1-1 1 0 1-1 1 1M77 29l1 0 1 0 1 0 2-1 1 1 1 0 1 0 1 0 1 0 1 0 1 0 1 0 1 0 1 0 1 0 1 0M119 29l1 0 1 0 1 1 1-1 1 1 1-1 1 0 1 0 1 0 1 0 1 0 1 0 1 1 1-1 1 0" stroke="#2ca02c"/><path d="M0 25l1 0 1 1 1-1 1 0 1 0 1 0 1-1 1 1M32 25l1 0 1 0 1 1 1-1 1 0 1 0 1 1 1-1 1 0 1 0 1 0 1 0 1 0 1 1 1 0 1-1 1 0 1 0M77 26l1-1 1 1 1-1 2 0 1 1 1-1 1 1 1 0 1 0 1 0 1-1 1 0 1 1 1-1 1 0 1 0M119 25l1 1 1 0 1 0 1-1 1 0 1 0 1 0 1 0 1 0 1 0 1 0 1 0 1 1 1-1 1 0" stroke="#2ca02c"/><path d="M0 25l1 0 1 0 1 0 1 0 1 0 1 0 1 0 1 0M32 25l1 0 1 0 1 0 1 0 1 0 1 0 1 0 1-1 1 1 1 0 1 0 1 0 1-1 1 1 1 0 1 0 1 0 1 0M77 25l1 0 1 0 1-1 2 1 1-1 1 1 1 0 1 0 1 0 1 0 1 0 1-1 1 1 1 0 1-1 1 1M119 25l1 0 1 0 1 0 1 0 1-1 1 1 1 0 1 0 1-1 1 1 1 0 1 0 1 0 1 0 1 0" stroke="#bcbd22"/><path d="M0 22l1-1 1 0 1 1 1-1 1 0 1 1 1 0 1-1M32 21l1 1 1 0 1-1 1 0 1 1 1-1 1 0 1 0 1 0 1 1 1-1 1 0 1 0 1 0 1 0 1 0 1 0 1 0M77 21l1 0 1 0 1 0 2 0 1 1 1-1 1 1 1-1 1 0 1 0 1 0 1 0 1 0 1 0 1 0 1 0M119 21l1 1 1 0 1-1 1 0 1 0 1 0 1 0 1 0 1 0 1 0 1 1 1-1 1 1 1-1 1 0" stroke="#1f77b4"/><path d="M0 20l1 0 1 0 1 0 1 0 1 1 1-1 1-1 1 1M32 20l1 0 1 0 1 1 1-1 1 0 1 0 1 0 1 0 1 0 1-1 1 1 1 0 1 1 1-1 1 0 1 0 1 0 1 0M77 20l1 0 1 0 1 0 2 0 1 0 1 0 1 0 1 0 1 0 1 0 1 0 1 0 1-1 1 2 1-1 1 0M119 20l1 0 1 0 1 1 1-1 1 0 1 1 1-1 1 0 1 1 1-1 1 0 1 0 1 1 1-1 1 0" stroke="#9467bd"/><path d="M0 16l1 0 1 0 1 0 1 0 1 0 1 0 1 0 1 0M32 16l1 0 1 0 1 0 1 0 1 1 1-1 1 0 1 0 1 0 1 0 1 0 1 0 1 0 1 0 1 0 1 0 1 0 1 0M77 17l1-1 1 0 1 0 2 0 1 1 1-1 1 0 1 0 1 0 1 0 1 1 1-1 1 1 1-1 1 0 1 0M119 16l1 0 1 0 1 1 1-1 1 0 1 0 1 0 1 0 1 1 1-1 1 0 1 0 1 0 1 1 1 0" stroke="#bcbd22"/><path d="M0 17l1 0 1 0 1 0 1 0 1 0 1 0 1 0 1-1M32 17l1 0 1 0 1 0 1 0 1 1 1-1 1 0 1 0 1 0 1 0 1 0 1 0 1 0 1 0 1 0 1 0 1 0 1 0M77 17l1 0 1 0 1 0 2 0 1 0 1 0 1 0 1 0 1 0 1 0 1 0 1 0 1 0 1 0 1 0 1 0M119 17l1-1 1 1 1-1 1 1 1 0 1 0 1 0 1 0 1-1 1 1 1 0 1 0 1 0 1 0 1 0" stroke="#2ca02c"/><path d="M0 12l1 1 1 0 1 0 1 0 1 0 1 0 1 0 1 0M32 13l1 0 1-1 1 0 1 1 1-1 1 0 1 0 1 1 1 0 1-1 1 0 1 1 1 0 1 0 1 0 1 0 1 0 1 0M77 12l1 1 1 0 1-1 2 1 1-1 1 1 1 0 1 0 1-1 1 0 1 1 1 0 1 0 1-1 1 1 1 0M119 12l1 0 1 1 1 0 1 0 1-1 1 1 1 0 1-1 1 1 1-1 1 0 1 1 1-1 1 1 1 0" stroke="#bcbd22"/><path d="M0 12l1 0 1 0 1 0 1 0 1 0 1 0 1-1 1 1M32 12l1 0 1 0 1 0 1 0 1 0 1 0 1 0 1 0 1 1 1-1 1 0 1 0 1 0 1 0 1 0 1 0 1 0 1-1M77 13l1-1 1 0 1 0 2 0 1 0 1 0 1 0 1 0 1 0 1 0 1 1 1-1 1-1 1 1 1 0 1-1M119 12l1 0 1 0 1 0 1 0 1 0 1 0 1 0 1 0 1 0 1 0 1 0 1 0 1 0 1 0 1 0" stroke="#2ca02c"/><path d="M0 11l1 0 1 0 1 0 1 1 1 0 1 0 1 0 1-1M32 11l1 1 1-1 1 0 1 0 1 1 1 0 1-1 1 1 1 0 1-1 1 1 1 0 1-1 1 0 1 1 1 0 1-1 1 1M77 11l1 1 1-1 1 0 2 1 1-1 1 0 1 0 1 0 1 1 1-1 1 0 1 0 1 0 1 0 1 1 1 0M119 12l1 0 1-1 1 1 1 0 1-1 1 0 1 1 1 0 1-1 1 0 1 1 1-1 1 1 1-1 1 0" stroke="#bcbd22"/><path d="M0 40l1 0 1 0 1 0 1 0 1 0 1 0 1 0 1 0M32 40l1 0 1 0 1 1 1-1 1 0 1 0 1 0 1 0 1 1 1-1 1 0 1 0 1 0 1 0 1 0 1 0 1 0 1 0M77 39l1 1 1 0 1 0 2 0 1 0 1 0 1 0 1 0 1 0 1 1 1-1 1 0 1 0 1 0 1 0 1 0M119 41l1-2 1 0 1 2 1-1 1 0 1 0 1 0 1 1 1-1 1 1 1-1 1 0 1 1 1 0 1-2" stroke="#7f7f7f"/><path d="M0 44l1 1 1-1 1 0 1 0 1 0 1 0 1 0 1 1M32 44l1 0 1 0 1 0 1 0 1 1 1 0 1 0 1-1 1 0 1 0 1 1 1-1 1 0 1 0 1 0 1 0 1 0 1 0M77 44l1 0 1 1 1-1 2 0 1 0 1 0 1 0 1 0 1 0 1 1 1-1 1 0 1 0 1 1 1-1 1 0M119 45l1-1 1 1 1-1 1 0 1 0 1 0 1 0 1 0 1 0 1 0 1 0 1 0 1 0 1 0 1 1" stroke="#e377c2"/><path d="M0 70l1-1 1 1 1-1 1 0 1 0 1 0 1 0 1 0M32 69l1 1 1-1 1 1 1-1 1 0 1 0 1 0 1 0 1 0 1 0 1 0 1 0 1 0 1 0 1 0 1 0 1 0 1 0M77 69l1 0 1 0 1 1 2-2 1 1 1 0 1 0 1 0 1 0 1 0 1 0 1 0 1 0 1 0 1 0 1-1M119 69l1 0 1 0 1 0 1 0 1 0 1 0 1 0 1 0 1 0 1 0 1 0 1 0 1 0 1 0 1 0" stroke="#17becf"/></g></g>
<!-- blue square waves -->
<g fill="none" stroke="#8db4dc" stroke-width="0.9">
<path d="M47.9 150.3H60V210.7H63.2V150.3H77.9V210.7H82.2V150.3H97.8V210.7H101.6V150.3H116.9V210.7H121.3V150.3H138.6V210.7"/>
<path d="M145.5 218.6V158.6H165.4V218.6 M169.6 158.6V218.6"/>
<path d="M171.1 234.8V175.4H190.3V234.8H194.2V175.4H213.8V234.8H217.7V175.4H237.2V234.8H240.6V175.4H260V234.8H263.5V175.4H282V234.8H285.6V175.4H305.2V234.8H308.5V175.4H326.7V234.8H329.6V175.4H349V234.8H352.4V175.4H371.5V234.8H374.8V175.4H391.8V234.8"/>
<path d="M401.2 245.2V185.4H418.2V245.2H420.3V185.4H437V245.2"/>
<path d="M442.5 257.3V197.4H460.2V257.3H462.6V197.4H482V257.3H484.2V197.4H501.6V257.3H504.8V197.4H520.5V257.3"/>
</g>
<!-- red arrows -->
<g stroke="#d42a2a" stroke-width="0.7"><path d="M59.6 140.5V146.5 M79.1 140.5V146.5 M97.4 140.5V146.5 M117.8 140.5V146.5 M138.7 140.5V146.5"/></g>
<g fill="#d42a2a"><path d="M57.9 145.6H61.3L59.6 148.9Z M77.4 145.6H80.8L79.1 148.9Z M95.7 145.6H99.1L97.4 148.9Z M116.1 145.6H119.5L117.8 148.9Z M137 145.6H140.4L138.7 148.9Z"/></g>
<!-- y ticks bottom -->
<g class="tk" font-size="4.3" text-anchor="end">
<text x="26.9" y="152.1" textLength="5.6" lengthAdjust="spacingAndGlyphs">1.0</text><text x="26.9" y="164.0" textLength="5.6" lengthAdjust="spacingAndGlyphs">0.8</text><text x="26.9" y="175.9" textLength="5.6" lengthAdjust="spacingAndGlyphs">0.6</text><text x="26.9" y="187.8" textLength="5.6" lengthAdjust="spacingAndGlyphs">0.4</text><text x="26.9" y="199.7" textLength="5.6" lengthAdjust="spacingAndGlyphs">0.2</text><text x="26.9" y="211.7" textLength="5.6" lengthAdjust="spacingAndGlyphs">0.0</text>
</g>
<text class="tk" x="0" y="0" font-size="10.34" text-anchor="middle" transform="translate(12.1 177.4) rotate(-90) scale(0.5)" style="stroke-width:0.24px">Normalized Acc data</text>
<!-- x ticks bottom -->
<g class="tk" text-anchor="middle">
<text x="48.3" y="219.4" font-size="5.2">0</text>
<text x="101" y="219.4" font-size="5.2" textLength="11.5" lengthAdjust="spacingAndGlyphs">2000</text>
<text x="158.4" y="227.6" font-size="5.5" textLength="14" lengthAdjust="spacingAndGlyphs">4000</text>
<text x="225.4" y="244.1" font-size="5.5" textLength="14.6" lengthAdjust="spacingAndGlyphs">6000</text>
<text x="291.5" y="244.1" font-size="5.5" textLength="14.6" lengthAdjust="spacingAndGlyphs">8000</text>
<text x="357.6" y="244.1" font-size="5.5" textLength="18" lengthAdjust="spacingAndGlyphs">10000</text>
<text x="423.3" y="254.2" font-size="5.3" textLength="17" lengthAdjust="spacingAndGlyphs">12000</text>
<text x="488.6" y="266.1" font-size="5.3" textLength="17.3" lengthAdjust="spacingAndGlyphs">14000</text>
</g>
<text class="an" x="522.5" y="256" font-size="3.8" textLength="14.5" lengthAdjust="spacingAndGlyphs" style="stroke-width:0.1px">*Acc data</text>
<text class="an" x="224.2" y="279.8" font-size="5.6" textLength="116.2" lengthAdjust="spacingAndGlyphs">Number of Samples included in the <tspan font-weight="bold">sequence</tspan></text>

<!-- black label boxes -->
<g fill="#262626">
<rect x="33" y="220.1" width="50.3" height="15.3"/>
<rect x="114" y="236.2" width="49.8" height="15.3"/>
<rect x="204" y="249" width="50" height="15.8"/>
<rect x="405.2" y="162" width="49.9" height="15.5"/>
<rect x="487" y="173" width="49.7" height="15.8"/>
</g>
<g class="an" style="fill:#e6e6e6;stroke:#e6e6e6;stroke-width:0.15px" text-anchor="middle" font-size="5.6" lengthAdjust="spacingAndGlyphs">
<text x="58.2" y="227" textLength="24.8" lengthAdjust="spacingAndGlyphs" font-size="5" style="fill:#d0d0d0;stroke:#d0d0d0;stroke-width:0.1px">Sequence 1</text><text x="58.3" y="233.8" textLength="34.5" lengthAdjust="spacingAndGlyphs" font-size="5.9">Weak Label: <tspan font-weight="bold">5</tspan></text>
<text x="139" y="242.4" textLength="24.4" lengthAdjust="spacingAndGlyphs" font-size="5" style="fill:#d0d0d0;stroke:#d0d0d0;stroke-width:0.1px">Sequence 2</text><text x="138.6" y="248.9" textLength="34.8" lengthAdjust="spacingAndGlyphs" font-size="5.9">Weak Label: <tspan font-weight="bold">1</tspan></text>
<text x="228.9" y="255.4" textLength="24.4" lengthAdjust="spacingAndGlyphs" font-size="5" style="fill:#d0d0d0;stroke:#d0d0d0;stroke-width:0.1px">Sequence 3</text><text x="229.2" y="261.9" textLength="37.7" lengthAdjust="spacingAndGlyphs" font-size="5.9">Weak Label: <tspan font-weight="bold">10</tspan></text>
<text x="430.2" y="168.1" textLength="24.8" lengthAdjust="spacingAndGlyphs" font-size="5" style="fill:#d0d0d0;stroke:#d0d0d0;stroke-width:0.1px">Sequence 4</text><text x="430.3" y="174.7" textLength="34.3" lengthAdjust="spacingAndGlyphs" font-size="5.9">Weak Label: <tspan font-weight="bold">2</tspan></text>
<text x="512" y="179.7" textLength="24.3" lengthAdjust="spacingAndGlyphs" font-size="5" style="fill:#d0d0d0;stroke:#d0d0d0;stroke-width:0.1px">Sequence 5</text><text x="512.3" y="185.9" textLength="34.3" lengthAdjust="spacingAndGlyphs" font-size="5.9">Weak Label: <tspan font-weight="bold">4</tspan></text>
</g>
<rect x="45.8" y="227.5" width="24.8" height="0.45" fill="#bdbdbd"/><rect x="126.8" y="242.9" width="24.4" height="0.45" fill="#bdbdbd"/><rect x="216.7" y="255.9" width="24.4" height="0.45" fill="#bdbdbd"/><rect x="417.8" y="168.6" width="24.8" height="0.45" fill="#bdbdbd"/><rect x="499.9" y="180.2" width="24.3" height="0.45" fill="#bdbdbd"/>
</svg>
</body></html>
